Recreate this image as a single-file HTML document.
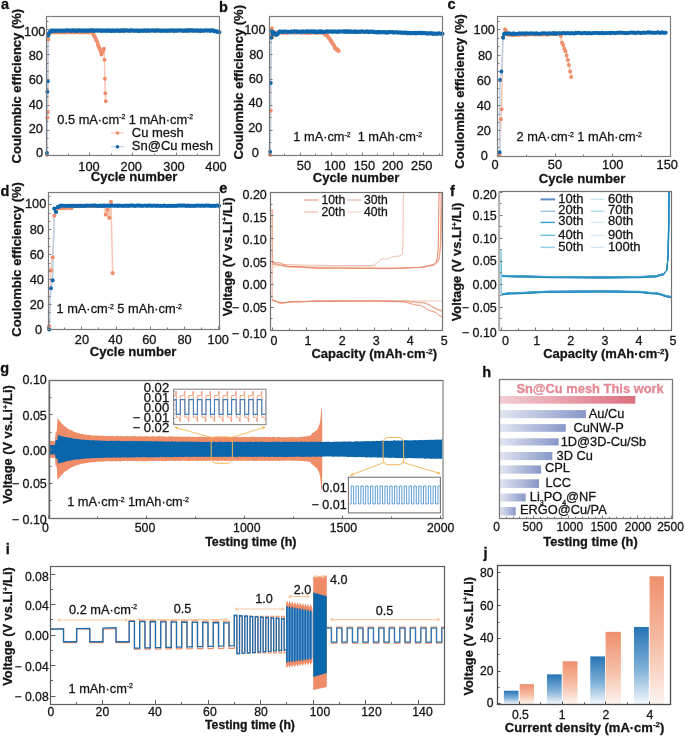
<!DOCTYPE html>
<html><head><meta charset="utf-8"><style>
html,body{margin:0;padding:0;background:#fff;}
svg{display:block;font-family:"Liberation Sans", sans-serif;will-change:transform;}
text{stroke:currentColor;stroke-width:0.28px;}
</style></head><body>
<svg width="685" height="736" viewBox="0 0 685 736">
<rect width="685" height="736" fill="#fff"/>
<polyline points="46.93,154.87 47.37,117.7 47.8,112.03 48.23,39.58 48.66,35.17 49.09,33.53 49.53,32.33 49.96,31.97 50.39,32.01 50.83,32.27 51.26,32.15 51.69,32.17 52.12,32.07 52.55,32 52.99,32.35 53.42,32.38 53.85,31.98 54.28,32.18 54.72,32.01 55.15,32.4 55.58,32.17 56.02,32.03 56.45,32.28 56.88,31.92 57.31,31.94 57.75,32.38 58.18,32.39 58.61,32.13 59.04,31.92 59.48,32.21 59.91,32.29 60.34,32.19 60.77,32.38 61.2,32.29 61.64,32.18 62.07,32.15 62.5,32.28 62.94,32.28 63.37,32.29 63.8,32.17 64.23,32.25 64.66,32.39 65.1,31.98 65.53,32.12 65.96,32.07 66.39,32.3 66.83,31.9 67.26,31.96 67.69,32.34 68.12,32.23 68.56,32.03 68.99,32.04 69.42,31.93 69.86,32.19 70.29,31.98 70.72,32.06 71.15,32.25 71.58,32.1 72.02,31.95 72.45,31.97 72.88,32.14 73.31,32.1 73.75,32.38 74.18,32.28 74.61,32 75.05,32.19 75.48,32.31 75.91,32.12 76.34,32.04 76.78,32.06 77.21,32.21 77.64,32.18 78.07,32.14 78.5,32.01 78.94,32.14 79.37,32.2 79.8,32.15 80.23,32.38 80.67,32.38 81.1,32.04 81.53,31.9 81.97,32.1 82.4,32.2 82.83,32.31 83.26,32.14 83.69,31.9 84.13,32.01 84.56,32.13 84.99,31.96 85.43,32.28 85.86,32.14 86.29,31.92 86.72,32.11 87.16,32.17 87.59,32.26 88.02,32.12 88.45,31.92 88.88,32.4 89.32,32 89.75,31.98 90.18,31.95 90.62,32.02 91.05,31.99 91.48,32.14 91.91,32.18 92.34,32.78 92.78,33.91 93.21,33.35 93.64,34.54 94.08,35.9 94.51,36.29 94.94,37.21 95.37,38.34 95.8,39.32 96.24,40.03 96.67,40.94 97.1,42.01 97.53,43.34 97.97,45.1 98.4,45.93 98.83,47.17 99.27,47.73 99.7,48.52 100.13,49.84 100.56,51.08 101,52.31 101.43,54.44 101.86,53.19 102.29,52.31 102.72,51.42 103.16,50.54 103.59,49.66 104.02,48.78 104.46,59.74 104.89,78.64 105.32,93.13 105.75,101.32" fill="none" stroke="#f7c6b2" stroke-width="1.5" stroke-linejoin="round"/>
<polyline points="46.93,152.98 47.37,91.87 47.8,81.16 48.23,35.8 48.66,33.91 49.09,33.28 49.53,32.65 49.96,32.02 50.39,31.64 50.83,31.26 51.26,30.42 51.69,30.52 52.12,30.9 52.55,30.94 52.99,30.94 53.42,30.47 53.85,30.79 54.28,30.88 54.72,30.56 55.15,30.73 55.58,30.91 56.02,30.85 56.45,30.62 56.88,30.84 57.31,30.78 57.75,30.5 58.18,30.66 58.61,30.75 59.04,30.65 59.48,30.93 59.91,30.71 60.34,30.68 60.77,30.83 61.2,30.88 61.64,30.38 62.07,30.63 62.5,30.82 62.94,30.57 63.37,30.43 63.8,30.94 64.23,30.94 64.66,30.86 65.1,30.5 65.53,30.85 65.96,30.51 66.39,30.52 66.83,30.61 67.26,30.81 67.69,30.33 68.12,30.45 68.56,30.62 68.99,30.81 69.42,30.54 69.86,30.7 70.29,30.59 70.72,30.75 71.15,30.55 71.58,30.91 72.02,30.76 72.45,30.34 72.88,30.4 73.31,30.76 73.75,30.41 74.18,30.75 74.61,30.36 75.05,30.48 75.48,30.69 75.91,30.79 76.34,30.94 76.78,30.4 77.21,30.93 77.64,30.43 78.07,30.34 78.5,30.59 78.94,30.84 79.37,30.4 79.8,30.34 80.23,30.51 80.67,30.63 81.1,30.71 81.53,30.73 81.97,30.82 82.4,30.52 82.83,30.68 83.26,30.83 83.69,30.88 84.13,30.53 84.56,30.76 84.99,30.63 85.43,30.74 85.86,30.4 86.29,30.38 86.72,30.94 87.16,30.82 87.59,30.74 88.02,30.33 88.45,30.46 88.88,30.74 89.32,30.81 89.75,30.52 90.18,30.42 90.62,30.36 91.05,30.73 91.48,30.39 91.91,30.52 92.34,30.64 92.78,30.33 93.21,30.8 93.64,30.49 94.08,30.9 94.51,30.84 94.94,30.38 95.37,30.81 95.8,30.47 96.24,30.57 96.67,30.42 97.1,30.72 97.53,30.73 97.97,30.77 98.4,30.4 98.83,30.57 99.27,30.35 99.7,30.39 100.13,30.86 100.56,30.6 101,30.88 101.43,30.92 101.86,30.9 102.29,30.4 102.72,30.45 103.16,30.43 103.59,30.73 104.02,30.56 104.46,30.46 104.89,30.71 105.32,30.59 105.75,30.81 106.19,30.9 106.62,30.78 107.05,30.39 107.48,30.59 107.91,30.37 108.35,30.66 108.78,30.77 109.21,30.45 109.64,30.43 110.08,30.94 110.51,30.53 110.94,30.89 111.38,30.88 111.81,30.39 112.24,30.92 112.67,30.8 113.11,30.33 113.54,30.68 113.97,30.88 114.4,30.84 114.84,30.8 115.27,30.48 115.7,30.88 116.13,30.38 116.56,30.71 117,30.34 117.43,30.38 117.86,30.76 118.3,30.79 118.73,30.65 119.16,30.89 119.59,30.54 120.02,30.92 120.46,30.94 120.89,30.33 121.32,30.76 121.75,30.57 122.19,30.67 122.62,30.75 123.05,30.91 123.48,30.37 123.92,30.34 124.35,30.34 124.78,30.88 125.22,30.81 125.65,30.56 126.08,30.33 126.51,30.61 126.95,30.52 127.38,30.53 127.81,30.79 128.24,30.61 128.68,30.76 129.11,30.79 129.54,30.9 129.97,30.77 130.41,30.33 130.84,30.67 131.27,30.54 131.7,30.54 132.13,30.36 132.57,30.7 133,30.76 133.43,30.74 133.87,30.75 134.3,30.42 134.73,30.39 135.16,30.76 135.59,30.74 136.03,30.61 136.46,30.58 136.89,30.57 137.32,30.79 137.76,30.94 138.19,30.8 138.62,30.9 139.06,30.6 139.49,30.9 139.92,30.9 140.35,30.55 140.79,30.77 141.22,30.45 141.65,30.64 142.08,30.41 142.52,30.85 142.95,30.63 143.38,30.45 143.81,30.9 144.25,30.35 144.68,30.84 145.11,30.46 145.54,30.33 145.97,30.43 146.41,30.75 146.84,30.88 147.27,30.62 147.7,30.37 148.14,30.76 148.57,30.39 149,30.86 149.44,30.38 149.87,30.93 150.3,30.75 150.73,30.38 151.16,30.44 151.6,30.38 152.03,30.42 152.46,30.48 152.89,30.51 153.33,30.84 153.76,30.68 154.19,30.85 154.62,30.5 155.06,30.53 155.49,30.79 155.92,30.91 156.36,30.34 156.79,30.44 157.22,30.6 157.65,30.61 158.09,30.41 158.52,30.66 158.95,30.7 159.38,30.74 159.81,30.79 160.25,30.93 160.68,30.54 161.11,30.69 161.55,30.59 161.98,30.91 162.41,30.73 162.84,30.86 163.28,30.87 163.71,30.79 164.14,30.43 164.57,30.7 165,30.7 165.44,30.56 165.87,30.8 166.3,30.94 166.73,30.62 167.17,30.63 167.6,30.54 168.03,30.67 168.46,30.52 168.9,30.49 169.33,30.8 169.76,30.64 170.19,30.65 170.63,30.81 171.06,30.69 171.49,30.6 171.93,30.38 172.36,30.37 172.79,30.78 173.22,30.54 173.66,30.92 174.09,30.9 174.52,30.63 174.95,30.4 175.38,30.85 175.82,30.47 176.25,30.39 176.68,30.75 177.12,30.51 177.55,30.41 177.98,30.71 178.41,30.51 178.84,30.49 179.28,30.57 179.71,30.41 180.14,30.38 180.58,30.34 181.01,30.59 181.44,30.84 181.87,30.79 182.31,30.81 182.74,30.59 183.17,30.47 183.6,30.92 184.03,30.52 184.47,30.5 184.9,30.73 185.33,30.62 185.77,30.85 186.2,30.49 186.63,30.92 187.06,30.33 187.5,30.44 187.93,30.55 188.36,30.78 188.79,30.37 189.22,30.34 189.66,30.86 190.09,30.46 190.52,30.42 190.95,30.53 191.39,30.51 191.82,30.67 192.25,30.37 192.69,30.34 193.12,30.71 193.55,30.44 193.98,30.68 194.41,30.85 194.85,30.74 195.28,30.87 195.71,30.38 196.15,30.34 196.58,30.87 197.01,30.57 197.44,30.69 197.88,30.87 198.31,30.76 198.74,30.79 199.17,30.48 199.6,30.95 200.04,30.83 200.47,30.67 200.9,30.94 201.34,30.55 201.77,30.57 202.2,30.42 202.63,30.82 203.06,30.77 203.5,30.61 203.93,30.78 204.36,30.58 204.8,30.79 205.23,30.52 205.66,30.45 206.09,30.44 206.53,30.34 206.96,30.61 207.39,30.64 207.82,30.41 208.25,30.46 208.69,30.59 209.12,30.71 209.55,30.77 209.98,30.88 210.42,30.44 210.85,30.87 211.28,30.48 211.72,30.61 212.15,30.34 212.58,30.47 213.01,30.34 213.44,30.96 213.88,30.84 214.31,30.89 214.74,31.16 215.17,31.14 215.61,31.33 216.04,31.32 216.47,31.75 216.91,31.58 217.34,31.67 217.77,31.87 218.2,31.91 218.63,31.77 219.07,31.93 219.5,32.15" fill="none" stroke="#bcd4ec" stroke-width="1.5" stroke-linejoin="round"/>
<path d="M44.93,154.87a2.0,2.0 0 1,0 4,0a2.0,2.0 0 1,0 -4,0M45.37,117.7a2.0,2.0 0 1,0 4,0a2.0,2.0 0 1,0 -4,0M45.8,112.03a2.0,2.0 0 1,0 4,0a2.0,2.0 0 1,0 -4,0M46.23,39.58a2.0,2.0 0 1,0 4,0a2.0,2.0 0 1,0 -4,0M46.66,35.17a2.0,2.0 0 1,0 4,0a2.0,2.0 0 1,0 -4,0M47.09,33.53a2.0,2.0 0 1,0 4,0a2.0,2.0 0 1,0 -4,0M47.53,32.33a2.0,2.0 0 1,0 4,0a2.0,2.0 0 1,0 -4,0M47.96,31.97a2.0,2.0 0 1,0 4,0a2.0,2.0 0 1,0 -4,0M48.39,32.01a2.0,2.0 0 1,0 4,0a2.0,2.0 0 1,0 -4,0M48.83,32.27a2.0,2.0 0 1,0 4,0a2.0,2.0 0 1,0 -4,0M49.26,32.15a2.0,2.0 0 1,0 4,0a2.0,2.0 0 1,0 -4,0M49.69,32.17a2.0,2.0 0 1,0 4,0a2.0,2.0 0 1,0 -4,0M50.12,32.07a2.0,2.0 0 1,0 4,0a2.0,2.0 0 1,0 -4,0M50.55,32a2.0,2.0 0 1,0 4,0a2.0,2.0 0 1,0 -4,0M50.99,32.35a2.0,2.0 0 1,0 4,0a2.0,2.0 0 1,0 -4,0M51.42,32.38a2.0,2.0 0 1,0 4,0a2.0,2.0 0 1,0 -4,0M51.85,31.98a2.0,2.0 0 1,0 4,0a2.0,2.0 0 1,0 -4,0M52.28,32.18a2.0,2.0 0 1,0 4,0a2.0,2.0 0 1,0 -4,0M52.72,32.01a2.0,2.0 0 1,0 4,0a2.0,2.0 0 1,0 -4,0M53.15,32.4a2.0,2.0 0 1,0 4,0a2.0,2.0 0 1,0 -4,0M53.58,32.17a2.0,2.0 0 1,0 4,0a2.0,2.0 0 1,0 -4,0M54.02,32.03a2.0,2.0 0 1,0 4,0a2.0,2.0 0 1,0 -4,0M54.45,32.28a2.0,2.0 0 1,0 4,0a2.0,2.0 0 1,0 -4,0M54.88,31.92a2.0,2.0 0 1,0 4,0a2.0,2.0 0 1,0 -4,0M55.31,31.94a2.0,2.0 0 1,0 4,0a2.0,2.0 0 1,0 -4,0M55.75,32.38a2.0,2.0 0 1,0 4,0a2.0,2.0 0 1,0 -4,0M56.18,32.39a2.0,2.0 0 1,0 4,0a2.0,2.0 0 1,0 -4,0M56.61,32.13a2.0,2.0 0 1,0 4,0a2.0,2.0 0 1,0 -4,0M57.04,31.92a2.0,2.0 0 1,0 4,0a2.0,2.0 0 1,0 -4,0M57.48,32.21a2.0,2.0 0 1,0 4,0a2.0,2.0 0 1,0 -4,0M57.91,32.29a2.0,2.0 0 1,0 4,0a2.0,2.0 0 1,0 -4,0M58.34,32.19a2.0,2.0 0 1,0 4,0a2.0,2.0 0 1,0 -4,0M58.77,32.38a2.0,2.0 0 1,0 4,0a2.0,2.0 0 1,0 -4,0M59.2,32.29a2.0,2.0 0 1,0 4,0a2.0,2.0 0 1,0 -4,0M59.64,32.18a2.0,2.0 0 1,0 4,0a2.0,2.0 0 1,0 -4,0M60.07,32.15a2.0,2.0 0 1,0 4,0a2.0,2.0 0 1,0 -4,0M60.5,32.28a2.0,2.0 0 1,0 4,0a2.0,2.0 0 1,0 -4,0M60.94,32.28a2.0,2.0 0 1,0 4,0a2.0,2.0 0 1,0 -4,0M61.37,32.29a2.0,2.0 0 1,0 4,0a2.0,2.0 0 1,0 -4,0M61.8,32.17a2.0,2.0 0 1,0 4,0a2.0,2.0 0 1,0 -4,0M62.23,32.25a2.0,2.0 0 1,0 4,0a2.0,2.0 0 1,0 -4,0M62.66,32.39a2.0,2.0 0 1,0 4,0a2.0,2.0 0 1,0 -4,0M63.1,31.98a2.0,2.0 0 1,0 4,0a2.0,2.0 0 1,0 -4,0M63.53,32.12a2.0,2.0 0 1,0 4,0a2.0,2.0 0 1,0 -4,0M63.96,32.07a2.0,2.0 0 1,0 4,0a2.0,2.0 0 1,0 -4,0M64.39,32.3a2.0,2.0 0 1,0 4,0a2.0,2.0 0 1,0 -4,0M64.83,31.9a2.0,2.0 0 1,0 4,0a2.0,2.0 0 1,0 -4,0M65.26,31.96a2.0,2.0 0 1,0 4,0a2.0,2.0 0 1,0 -4,0M65.69,32.34a2.0,2.0 0 1,0 4,0a2.0,2.0 0 1,0 -4,0M66.12,32.23a2.0,2.0 0 1,0 4,0a2.0,2.0 0 1,0 -4,0M66.56,32.03a2.0,2.0 0 1,0 4,0a2.0,2.0 0 1,0 -4,0M66.99,32.04a2.0,2.0 0 1,0 4,0a2.0,2.0 0 1,0 -4,0M67.42,31.93a2.0,2.0 0 1,0 4,0a2.0,2.0 0 1,0 -4,0M67.86,32.19a2.0,2.0 0 1,0 4,0a2.0,2.0 0 1,0 -4,0M68.29,31.98a2.0,2.0 0 1,0 4,0a2.0,2.0 0 1,0 -4,0M68.72,32.06a2.0,2.0 0 1,0 4,0a2.0,2.0 0 1,0 -4,0M69.15,32.25a2.0,2.0 0 1,0 4,0a2.0,2.0 0 1,0 -4,0M69.58,32.1a2.0,2.0 0 1,0 4,0a2.0,2.0 0 1,0 -4,0M70.02,31.95a2.0,2.0 0 1,0 4,0a2.0,2.0 0 1,0 -4,0M70.45,31.97a2.0,2.0 0 1,0 4,0a2.0,2.0 0 1,0 -4,0M70.88,32.14a2.0,2.0 0 1,0 4,0a2.0,2.0 0 1,0 -4,0M71.31,32.1a2.0,2.0 0 1,0 4,0a2.0,2.0 0 1,0 -4,0M71.75,32.38a2.0,2.0 0 1,0 4,0a2.0,2.0 0 1,0 -4,0M72.18,32.28a2.0,2.0 0 1,0 4,0a2.0,2.0 0 1,0 -4,0M72.61,32a2.0,2.0 0 1,0 4,0a2.0,2.0 0 1,0 -4,0M73.05,32.19a2.0,2.0 0 1,0 4,0a2.0,2.0 0 1,0 -4,0M73.48,32.31a2.0,2.0 0 1,0 4,0a2.0,2.0 0 1,0 -4,0M73.91,32.12a2.0,2.0 0 1,0 4,0a2.0,2.0 0 1,0 -4,0M74.34,32.04a2.0,2.0 0 1,0 4,0a2.0,2.0 0 1,0 -4,0M74.78,32.06a2.0,2.0 0 1,0 4,0a2.0,2.0 0 1,0 -4,0M75.21,32.21a2.0,2.0 0 1,0 4,0a2.0,2.0 0 1,0 -4,0M75.64,32.18a2.0,2.0 0 1,0 4,0a2.0,2.0 0 1,0 -4,0M76.07,32.14a2.0,2.0 0 1,0 4,0a2.0,2.0 0 1,0 -4,0M76.5,32.01a2.0,2.0 0 1,0 4,0a2.0,2.0 0 1,0 -4,0M76.94,32.14a2.0,2.0 0 1,0 4,0a2.0,2.0 0 1,0 -4,0M77.37,32.2a2.0,2.0 0 1,0 4,0a2.0,2.0 0 1,0 -4,0M77.8,32.15a2.0,2.0 0 1,0 4,0a2.0,2.0 0 1,0 -4,0M78.23,32.38a2.0,2.0 0 1,0 4,0a2.0,2.0 0 1,0 -4,0M78.67,32.38a2.0,2.0 0 1,0 4,0a2.0,2.0 0 1,0 -4,0M79.1,32.04a2.0,2.0 0 1,0 4,0a2.0,2.0 0 1,0 -4,0M79.53,31.9a2.0,2.0 0 1,0 4,0a2.0,2.0 0 1,0 -4,0M79.97,32.1a2.0,2.0 0 1,0 4,0a2.0,2.0 0 1,0 -4,0M80.4,32.2a2.0,2.0 0 1,0 4,0a2.0,2.0 0 1,0 -4,0M80.83,32.31a2.0,2.0 0 1,0 4,0a2.0,2.0 0 1,0 -4,0M81.26,32.14a2.0,2.0 0 1,0 4,0a2.0,2.0 0 1,0 -4,0M81.69,31.9a2.0,2.0 0 1,0 4,0a2.0,2.0 0 1,0 -4,0M82.13,32.01a2.0,2.0 0 1,0 4,0a2.0,2.0 0 1,0 -4,0M82.56,32.13a2.0,2.0 0 1,0 4,0a2.0,2.0 0 1,0 -4,0M82.99,31.96a2.0,2.0 0 1,0 4,0a2.0,2.0 0 1,0 -4,0M83.43,32.28a2.0,2.0 0 1,0 4,0a2.0,2.0 0 1,0 -4,0M83.86,32.14a2.0,2.0 0 1,0 4,0a2.0,2.0 0 1,0 -4,0M84.29,31.92a2.0,2.0 0 1,0 4,0a2.0,2.0 0 1,0 -4,0M84.72,32.11a2.0,2.0 0 1,0 4,0a2.0,2.0 0 1,0 -4,0M85.16,32.17a2.0,2.0 0 1,0 4,0a2.0,2.0 0 1,0 -4,0M85.59,32.26a2.0,2.0 0 1,0 4,0a2.0,2.0 0 1,0 -4,0M86.02,32.12a2.0,2.0 0 1,0 4,0a2.0,2.0 0 1,0 -4,0M86.45,31.92a2.0,2.0 0 1,0 4,0a2.0,2.0 0 1,0 -4,0M86.88,32.4a2.0,2.0 0 1,0 4,0a2.0,2.0 0 1,0 -4,0M87.32,32a2.0,2.0 0 1,0 4,0a2.0,2.0 0 1,0 -4,0M87.75,31.98a2.0,2.0 0 1,0 4,0a2.0,2.0 0 1,0 -4,0M88.18,31.95a2.0,2.0 0 1,0 4,0a2.0,2.0 0 1,0 -4,0M88.62,32.02a2.0,2.0 0 1,0 4,0a2.0,2.0 0 1,0 -4,0M89.05,31.99a2.0,2.0 0 1,0 4,0a2.0,2.0 0 1,0 -4,0M89.48,32.14a2.0,2.0 0 1,0 4,0a2.0,2.0 0 1,0 -4,0M89.91,32.18a2.0,2.0 0 1,0 4,0a2.0,2.0 0 1,0 -4,0M90.34,32.78a2.0,2.0 0 1,0 4,0a2.0,2.0 0 1,0 -4,0M90.78,33.91a2.0,2.0 0 1,0 4,0a2.0,2.0 0 1,0 -4,0M91.21,33.35a2.0,2.0 0 1,0 4,0a2.0,2.0 0 1,0 -4,0M91.64,34.54a2.0,2.0 0 1,0 4,0a2.0,2.0 0 1,0 -4,0M92.08,35.9a2.0,2.0 0 1,0 4,0a2.0,2.0 0 1,0 -4,0M92.51,36.29a2.0,2.0 0 1,0 4,0a2.0,2.0 0 1,0 -4,0M92.94,37.21a2.0,2.0 0 1,0 4,0a2.0,2.0 0 1,0 -4,0M93.37,38.34a2.0,2.0 0 1,0 4,0a2.0,2.0 0 1,0 -4,0M93.8,39.32a2.0,2.0 0 1,0 4,0a2.0,2.0 0 1,0 -4,0M94.24,40.03a2.0,2.0 0 1,0 4,0a2.0,2.0 0 1,0 -4,0M94.67,40.94a2.0,2.0 0 1,0 4,0a2.0,2.0 0 1,0 -4,0M95.1,42.01a2.0,2.0 0 1,0 4,0a2.0,2.0 0 1,0 -4,0M95.53,43.34a2.0,2.0 0 1,0 4,0a2.0,2.0 0 1,0 -4,0M95.97,45.1a2.0,2.0 0 1,0 4,0a2.0,2.0 0 1,0 -4,0M96.4,45.93a2.0,2.0 0 1,0 4,0a2.0,2.0 0 1,0 -4,0M96.83,47.17a2.0,2.0 0 1,0 4,0a2.0,2.0 0 1,0 -4,0M97.27,47.73a2.0,2.0 0 1,0 4,0a2.0,2.0 0 1,0 -4,0M97.7,48.52a2.0,2.0 0 1,0 4,0a2.0,2.0 0 1,0 -4,0M98.13,49.84a2.0,2.0 0 1,0 4,0a2.0,2.0 0 1,0 -4,0M98.56,51.08a2.0,2.0 0 1,0 4,0a2.0,2.0 0 1,0 -4,0M99,52.31a2.0,2.0 0 1,0 4,0a2.0,2.0 0 1,0 -4,0M99.43,54.44a2.0,2.0 0 1,0 4,0a2.0,2.0 0 1,0 -4,0M99.86,53.19a2.0,2.0 0 1,0 4,0a2.0,2.0 0 1,0 -4,0M100.29,52.31a2.0,2.0 0 1,0 4,0a2.0,2.0 0 1,0 -4,0M100.72,51.42a2.0,2.0 0 1,0 4,0a2.0,2.0 0 1,0 -4,0M101.16,50.54a2.0,2.0 0 1,0 4,0a2.0,2.0 0 1,0 -4,0M101.59,49.66a2.0,2.0 0 1,0 4,0a2.0,2.0 0 1,0 -4,0M102.02,48.78a2.0,2.0 0 1,0 4,0a2.0,2.0 0 1,0 -4,0M102.46,59.74a2.0,2.0 0 1,0 4,0a2.0,2.0 0 1,0 -4,0M102.89,78.64a2.0,2.0 0 1,0 4,0a2.0,2.0 0 1,0 -4,0M103.32,93.13a2.0,2.0 0 1,0 4,0a2.0,2.0 0 1,0 -4,0M103.75,101.32a2.0,2.0 0 1,0 4,0a2.0,2.0 0 1,0 -4,0" fill="#ef8e6a" stroke="none" stroke-width="1"/>
<path d="M44.93,152.98a2.0,2.0 0 1,0 4,0a2.0,2.0 0 1,0 -4,0M45.37,91.87a2.0,2.0 0 1,0 4,0a2.0,2.0 0 1,0 -4,0M45.8,81.16a2.0,2.0 0 1,0 4,0a2.0,2.0 0 1,0 -4,0M46.23,35.8a2.0,2.0 0 1,0 4,0a2.0,2.0 0 1,0 -4,0M46.66,33.91a2.0,2.0 0 1,0 4,0a2.0,2.0 0 1,0 -4,0M47.09,33.28a2.0,2.0 0 1,0 4,0a2.0,2.0 0 1,0 -4,0M47.53,32.65a2.0,2.0 0 1,0 4,0a2.0,2.0 0 1,0 -4,0M47.96,32.02a2.0,2.0 0 1,0 4,0a2.0,2.0 0 1,0 -4,0M48.39,31.64a2.0,2.0 0 1,0 4,0a2.0,2.0 0 1,0 -4,0M48.83,31.26a2.0,2.0 0 1,0 4,0a2.0,2.0 0 1,0 -4,0M49.26,30.42a2.0,2.0 0 1,0 4,0a2.0,2.0 0 1,0 -4,0M49.69,30.52a2.0,2.0 0 1,0 4,0a2.0,2.0 0 1,0 -4,0M50.12,30.9a2.0,2.0 0 1,0 4,0a2.0,2.0 0 1,0 -4,0M50.55,30.94a2.0,2.0 0 1,0 4,0a2.0,2.0 0 1,0 -4,0M50.99,30.94a2.0,2.0 0 1,0 4,0a2.0,2.0 0 1,0 -4,0M51.42,30.47a2.0,2.0 0 1,0 4,0a2.0,2.0 0 1,0 -4,0M51.85,30.79a2.0,2.0 0 1,0 4,0a2.0,2.0 0 1,0 -4,0M52.28,30.88a2.0,2.0 0 1,0 4,0a2.0,2.0 0 1,0 -4,0M52.72,30.56a2.0,2.0 0 1,0 4,0a2.0,2.0 0 1,0 -4,0M53.15,30.73a2.0,2.0 0 1,0 4,0a2.0,2.0 0 1,0 -4,0M53.58,30.91a2.0,2.0 0 1,0 4,0a2.0,2.0 0 1,0 -4,0M54.02,30.85a2.0,2.0 0 1,0 4,0a2.0,2.0 0 1,0 -4,0M54.45,30.62a2.0,2.0 0 1,0 4,0a2.0,2.0 0 1,0 -4,0M54.88,30.84a2.0,2.0 0 1,0 4,0a2.0,2.0 0 1,0 -4,0M55.31,30.78a2.0,2.0 0 1,0 4,0a2.0,2.0 0 1,0 -4,0M55.75,30.5a2.0,2.0 0 1,0 4,0a2.0,2.0 0 1,0 -4,0M56.18,30.66a2.0,2.0 0 1,0 4,0a2.0,2.0 0 1,0 -4,0M56.61,30.75a2.0,2.0 0 1,0 4,0a2.0,2.0 0 1,0 -4,0M57.04,30.65a2.0,2.0 0 1,0 4,0a2.0,2.0 0 1,0 -4,0M57.48,30.93a2.0,2.0 0 1,0 4,0a2.0,2.0 0 1,0 -4,0M57.91,30.71a2.0,2.0 0 1,0 4,0a2.0,2.0 0 1,0 -4,0M58.34,30.68a2.0,2.0 0 1,0 4,0a2.0,2.0 0 1,0 -4,0M58.77,30.83a2.0,2.0 0 1,0 4,0a2.0,2.0 0 1,0 -4,0M59.2,30.88a2.0,2.0 0 1,0 4,0a2.0,2.0 0 1,0 -4,0M59.64,30.38a2.0,2.0 0 1,0 4,0a2.0,2.0 0 1,0 -4,0M60.07,30.63a2.0,2.0 0 1,0 4,0a2.0,2.0 0 1,0 -4,0M60.5,30.82a2.0,2.0 0 1,0 4,0a2.0,2.0 0 1,0 -4,0M60.94,30.57a2.0,2.0 0 1,0 4,0a2.0,2.0 0 1,0 -4,0M61.37,30.43a2.0,2.0 0 1,0 4,0a2.0,2.0 0 1,0 -4,0M61.8,30.94a2.0,2.0 0 1,0 4,0a2.0,2.0 0 1,0 -4,0M62.23,30.94a2.0,2.0 0 1,0 4,0a2.0,2.0 0 1,0 -4,0M62.66,30.86a2.0,2.0 0 1,0 4,0a2.0,2.0 0 1,0 -4,0M63.1,30.5a2.0,2.0 0 1,0 4,0a2.0,2.0 0 1,0 -4,0M63.53,30.85a2.0,2.0 0 1,0 4,0a2.0,2.0 0 1,0 -4,0M63.96,30.51a2.0,2.0 0 1,0 4,0a2.0,2.0 0 1,0 -4,0M64.39,30.52a2.0,2.0 0 1,0 4,0a2.0,2.0 0 1,0 -4,0M64.83,30.61a2.0,2.0 0 1,0 4,0a2.0,2.0 0 1,0 -4,0M65.26,30.81a2.0,2.0 0 1,0 4,0a2.0,2.0 0 1,0 -4,0M65.69,30.33a2.0,2.0 0 1,0 4,0a2.0,2.0 0 1,0 -4,0M66.12,30.45a2.0,2.0 0 1,0 4,0a2.0,2.0 0 1,0 -4,0M66.56,30.62a2.0,2.0 0 1,0 4,0a2.0,2.0 0 1,0 -4,0M66.99,30.81a2.0,2.0 0 1,0 4,0a2.0,2.0 0 1,0 -4,0M67.42,30.54a2.0,2.0 0 1,0 4,0a2.0,2.0 0 1,0 -4,0M67.86,30.7a2.0,2.0 0 1,0 4,0a2.0,2.0 0 1,0 -4,0M68.29,30.59a2.0,2.0 0 1,0 4,0a2.0,2.0 0 1,0 -4,0M68.72,30.75a2.0,2.0 0 1,0 4,0a2.0,2.0 0 1,0 -4,0M69.15,30.55a2.0,2.0 0 1,0 4,0a2.0,2.0 0 1,0 -4,0M69.58,30.91a2.0,2.0 0 1,0 4,0a2.0,2.0 0 1,0 -4,0M70.02,30.76a2.0,2.0 0 1,0 4,0a2.0,2.0 0 1,0 -4,0M70.45,30.34a2.0,2.0 0 1,0 4,0a2.0,2.0 0 1,0 -4,0M70.88,30.4a2.0,2.0 0 1,0 4,0a2.0,2.0 0 1,0 -4,0M71.31,30.76a2.0,2.0 0 1,0 4,0a2.0,2.0 0 1,0 -4,0M71.75,30.41a2.0,2.0 0 1,0 4,0a2.0,2.0 0 1,0 -4,0M72.18,30.75a2.0,2.0 0 1,0 4,0a2.0,2.0 0 1,0 -4,0M72.61,30.36a2.0,2.0 0 1,0 4,0a2.0,2.0 0 1,0 -4,0M73.05,30.48a2.0,2.0 0 1,0 4,0a2.0,2.0 0 1,0 -4,0M73.48,30.69a2.0,2.0 0 1,0 4,0a2.0,2.0 0 1,0 -4,0M73.91,30.79a2.0,2.0 0 1,0 4,0a2.0,2.0 0 1,0 -4,0M74.34,30.94a2.0,2.0 0 1,0 4,0a2.0,2.0 0 1,0 -4,0M74.78,30.4a2.0,2.0 0 1,0 4,0a2.0,2.0 0 1,0 -4,0M75.21,30.93a2.0,2.0 0 1,0 4,0a2.0,2.0 0 1,0 -4,0M75.64,30.43a2.0,2.0 0 1,0 4,0a2.0,2.0 0 1,0 -4,0M76.07,30.34a2.0,2.0 0 1,0 4,0a2.0,2.0 0 1,0 -4,0M76.5,30.59a2.0,2.0 0 1,0 4,0a2.0,2.0 0 1,0 -4,0M76.94,30.84a2.0,2.0 0 1,0 4,0a2.0,2.0 0 1,0 -4,0M77.37,30.4a2.0,2.0 0 1,0 4,0a2.0,2.0 0 1,0 -4,0M77.8,30.34a2.0,2.0 0 1,0 4,0a2.0,2.0 0 1,0 -4,0M78.23,30.51a2.0,2.0 0 1,0 4,0a2.0,2.0 0 1,0 -4,0M78.67,30.63a2.0,2.0 0 1,0 4,0a2.0,2.0 0 1,0 -4,0M79.1,30.71a2.0,2.0 0 1,0 4,0a2.0,2.0 0 1,0 -4,0M79.53,30.73a2.0,2.0 0 1,0 4,0a2.0,2.0 0 1,0 -4,0M79.97,30.82a2.0,2.0 0 1,0 4,0a2.0,2.0 0 1,0 -4,0M80.4,30.52a2.0,2.0 0 1,0 4,0a2.0,2.0 0 1,0 -4,0M80.83,30.68a2.0,2.0 0 1,0 4,0a2.0,2.0 0 1,0 -4,0M81.26,30.83a2.0,2.0 0 1,0 4,0a2.0,2.0 0 1,0 -4,0M81.69,30.88a2.0,2.0 0 1,0 4,0a2.0,2.0 0 1,0 -4,0M82.13,30.53a2.0,2.0 0 1,0 4,0a2.0,2.0 0 1,0 -4,0M82.56,30.76a2.0,2.0 0 1,0 4,0a2.0,2.0 0 1,0 -4,0M82.99,30.63a2.0,2.0 0 1,0 4,0a2.0,2.0 0 1,0 -4,0M83.43,30.74a2.0,2.0 0 1,0 4,0a2.0,2.0 0 1,0 -4,0M83.86,30.4a2.0,2.0 0 1,0 4,0a2.0,2.0 0 1,0 -4,0M84.29,30.38a2.0,2.0 0 1,0 4,0a2.0,2.0 0 1,0 -4,0M84.72,30.94a2.0,2.0 0 1,0 4,0a2.0,2.0 0 1,0 -4,0M85.16,30.82a2.0,2.0 0 1,0 4,0a2.0,2.0 0 1,0 -4,0M85.59,30.74a2.0,2.0 0 1,0 4,0a2.0,2.0 0 1,0 -4,0M86.02,30.33a2.0,2.0 0 1,0 4,0a2.0,2.0 0 1,0 -4,0M86.45,30.46a2.0,2.0 0 1,0 4,0a2.0,2.0 0 1,0 -4,0M86.88,30.74a2.0,2.0 0 1,0 4,0a2.0,2.0 0 1,0 -4,0M87.32,30.81a2.0,2.0 0 1,0 4,0a2.0,2.0 0 1,0 -4,0M87.75,30.52a2.0,2.0 0 1,0 4,0a2.0,2.0 0 1,0 -4,0M88.18,30.42a2.0,2.0 0 1,0 4,0a2.0,2.0 0 1,0 -4,0M88.62,30.36a2.0,2.0 0 1,0 4,0a2.0,2.0 0 1,0 -4,0M89.05,30.73a2.0,2.0 0 1,0 4,0a2.0,2.0 0 1,0 -4,0M89.48,30.39a2.0,2.0 0 1,0 4,0a2.0,2.0 0 1,0 -4,0M89.91,30.52a2.0,2.0 0 1,0 4,0a2.0,2.0 0 1,0 -4,0M90.34,30.64a2.0,2.0 0 1,0 4,0a2.0,2.0 0 1,0 -4,0M90.78,30.33a2.0,2.0 0 1,0 4,0a2.0,2.0 0 1,0 -4,0M91.21,30.8a2.0,2.0 0 1,0 4,0a2.0,2.0 0 1,0 -4,0M91.64,30.49a2.0,2.0 0 1,0 4,0a2.0,2.0 0 1,0 -4,0M92.08,30.9a2.0,2.0 0 1,0 4,0a2.0,2.0 0 1,0 -4,0M92.51,30.84a2.0,2.0 0 1,0 4,0a2.0,2.0 0 1,0 -4,0M92.94,30.38a2.0,2.0 0 1,0 4,0a2.0,2.0 0 1,0 -4,0M93.37,30.81a2.0,2.0 0 1,0 4,0a2.0,2.0 0 1,0 -4,0M93.8,30.47a2.0,2.0 0 1,0 4,0a2.0,2.0 0 1,0 -4,0M94.24,30.57a2.0,2.0 0 1,0 4,0a2.0,2.0 0 1,0 -4,0M94.67,30.42a2.0,2.0 0 1,0 4,0a2.0,2.0 0 1,0 -4,0M95.1,30.72a2.0,2.0 0 1,0 4,0a2.0,2.0 0 1,0 -4,0M95.53,30.73a2.0,2.0 0 1,0 4,0a2.0,2.0 0 1,0 -4,0M95.97,30.77a2.0,2.0 0 1,0 4,0a2.0,2.0 0 1,0 -4,0M96.4,30.4a2.0,2.0 0 1,0 4,0a2.0,2.0 0 1,0 -4,0M96.83,30.57a2.0,2.0 0 1,0 4,0a2.0,2.0 0 1,0 -4,0M97.27,30.35a2.0,2.0 0 1,0 4,0a2.0,2.0 0 1,0 -4,0M97.7,30.39a2.0,2.0 0 1,0 4,0a2.0,2.0 0 1,0 -4,0M98.13,30.86a2.0,2.0 0 1,0 4,0a2.0,2.0 0 1,0 -4,0M98.56,30.6a2.0,2.0 0 1,0 4,0a2.0,2.0 0 1,0 -4,0M99,30.88a2.0,2.0 0 1,0 4,0a2.0,2.0 0 1,0 -4,0M99.43,30.92a2.0,2.0 0 1,0 4,0a2.0,2.0 0 1,0 -4,0M99.86,30.9a2.0,2.0 0 1,0 4,0a2.0,2.0 0 1,0 -4,0M100.29,30.4a2.0,2.0 0 1,0 4,0a2.0,2.0 0 1,0 -4,0M100.72,30.45a2.0,2.0 0 1,0 4,0a2.0,2.0 0 1,0 -4,0M101.16,30.43a2.0,2.0 0 1,0 4,0a2.0,2.0 0 1,0 -4,0M101.59,30.73a2.0,2.0 0 1,0 4,0a2.0,2.0 0 1,0 -4,0M102.02,30.56a2.0,2.0 0 1,0 4,0a2.0,2.0 0 1,0 -4,0M102.46,30.46a2.0,2.0 0 1,0 4,0a2.0,2.0 0 1,0 -4,0M102.89,30.71a2.0,2.0 0 1,0 4,0a2.0,2.0 0 1,0 -4,0M103.32,30.59a2.0,2.0 0 1,0 4,0a2.0,2.0 0 1,0 -4,0M103.75,30.81a2.0,2.0 0 1,0 4,0a2.0,2.0 0 1,0 -4,0M104.19,30.9a2.0,2.0 0 1,0 4,0a2.0,2.0 0 1,0 -4,0M104.62,30.78a2.0,2.0 0 1,0 4,0a2.0,2.0 0 1,0 -4,0M105.05,30.39a2.0,2.0 0 1,0 4,0a2.0,2.0 0 1,0 -4,0M105.48,30.59a2.0,2.0 0 1,0 4,0a2.0,2.0 0 1,0 -4,0M105.91,30.37a2.0,2.0 0 1,0 4,0a2.0,2.0 0 1,0 -4,0M106.35,30.66a2.0,2.0 0 1,0 4,0a2.0,2.0 0 1,0 -4,0M106.78,30.77a2.0,2.0 0 1,0 4,0a2.0,2.0 0 1,0 -4,0M107.21,30.45a2.0,2.0 0 1,0 4,0a2.0,2.0 0 1,0 -4,0M107.64,30.43a2.0,2.0 0 1,0 4,0a2.0,2.0 0 1,0 -4,0M108.08,30.94a2.0,2.0 0 1,0 4,0a2.0,2.0 0 1,0 -4,0M108.51,30.53a2.0,2.0 0 1,0 4,0a2.0,2.0 0 1,0 -4,0M108.94,30.89a2.0,2.0 0 1,0 4,0a2.0,2.0 0 1,0 -4,0M109.38,30.88a2.0,2.0 0 1,0 4,0a2.0,2.0 0 1,0 -4,0M109.81,30.39a2.0,2.0 0 1,0 4,0a2.0,2.0 0 1,0 -4,0M110.24,30.92a2.0,2.0 0 1,0 4,0a2.0,2.0 0 1,0 -4,0M110.67,30.8a2.0,2.0 0 1,0 4,0a2.0,2.0 0 1,0 -4,0M111.11,30.33a2.0,2.0 0 1,0 4,0a2.0,2.0 0 1,0 -4,0M111.54,30.68a2.0,2.0 0 1,0 4,0a2.0,2.0 0 1,0 -4,0M111.97,30.88a2.0,2.0 0 1,0 4,0a2.0,2.0 0 1,0 -4,0M112.4,30.84a2.0,2.0 0 1,0 4,0a2.0,2.0 0 1,0 -4,0M112.84,30.8a2.0,2.0 0 1,0 4,0a2.0,2.0 0 1,0 -4,0M113.27,30.48a2.0,2.0 0 1,0 4,0a2.0,2.0 0 1,0 -4,0M113.7,30.88a2.0,2.0 0 1,0 4,0a2.0,2.0 0 1,0 -4,0M114.13,30.38a2.0,2.0 0 1,0 4,0a2.0,2.0 0 1,0 -4,0M114.56,30.71a2.0,2.0 0 1,0 4,0a2.0,2.0 0 1,0 -4,0M115,30.34a2.0,2.0 0 1,0 4,0a2.0,2.0 0 1,0 -4,0M115.43,30.38a2.0,2.0 0 1,0 4,0a2.0,2.0 0 1,0 -4,0M115.86,30.76a2.0,2.0 0 1,0 4,0a2.0,2.0 0 1,0 -4,0M116.3,30.79a2.0,2.0 0 1,0 4,0a2.0,2.0 0 1,0 -4,0M116.73,30.65a2.0,2.0 0 1,0 4,0a2.0,2.0 0 1,0 -4,0M117.16,30.89a2.0,2.0 0 1,0 4,0a2.0,2.0 0 1,0 -4,0M117.59,30.54a2.0,2.0 0 1,0 4,0a2.0,2.0 0 1,0 -4,0M118.02,30.92a2.0,2.0 0 1,0 4,0a2.0,2.0 0 1,0 -4,0M118.46,30.94a2.0,2.0 0 1,0 4,0a2.0,2.0 0 1,0 -4,0M118.89,30.33a2.0,2.0 0 1,0 4,0a2.0,2.0 0 1,0 -4,0M119.32,30.76a2.0,2.0 0 1,0 4,0a2.0,2.0 0 1,0 -4,0M119.75,30.57a2.0,2.0 0 1,0 4,0a2.0,2.0 0 1,0 -4,0M120.19,30.67a2.0,2.0 0 1,0 4,0a2.0,2.0 0 1,0 -4,0M120.62,30.75a2.0,2.0 0 1,0 4,0a2.0,2.0 0 1,0 -4,0M121.05,30.91a2.0,2.0 0 1,0 4,0a2.0,2.0 0 1,0 -4,0M121.48,30.37a2.0,2.0 0 1,0 4,0a2.0,2.0 0 1,0 -4,0M121.92,30.34a2.0,2.0 0 1,0 4,0a2.0,2.0 0 1,0 -4,0M122.35,30.34a2.0,2.0 0 1,0 4,0a2.0,2.0 0 1,0 -4,0M122.78,30.88a2.0,2.0 0 1,0 4,0a2.0,2.0 0 1,0 -4,0M123.22,30.81a2.0,2.0 0 1,0 4,0a2.0,2.0 0 1,0 -4,0M123.65,30.56a2.0,2.0 0 1,0 4,0a2.0,2.0 0 1,0 -4,0M124.08,30.33a2.0,2.0 0 1,0 4,0a2.0,2.0 0 1,0 -4,0M124.51,30.61a2.0,2.0 0 1,0 4,0a2.0,2.0 0 1,0 -4,0M124.95,30.52a2.0,2.0 0 1,0 4,0a2.0,2.0 0 1,0 -4,0M125.38,30.53a2.0,2.0 0 1,0 4,0a2.0,2.0 0 1,0 -4,0M125.81,30.79a2.0,2.0 0 1,0 4,0a2.0,2.0 0 1,0 -4,0M126.24,30.61a2.0,2.0 0 1,0 4,0a2.0,2.0 0 1,0 -4,0M126.68,30.76a2.0,2.0 0 1,0 4,0a2.0,2.0 0 1,0 -4,0M127.11,30.79a2.0,2.0 0 1,0 4,0a2.0,2.0 0 1,0 -4,0M127.54,30.9a2.0,2.0 0 1,0 4,0a2.0,2.0 0 1,0 -4,0M127.97,30.77a2.0,2.0 0 1,0 4,0a2.0,2.0 0 1,0 -4,0M128.41,30.33a2.0,2.0 0 1,0 4,0a2.0,2.0 0 1,0 -4,0M128.84,30.67a2.0,2.0 0 1,0 4,0a2.0,2.0 0 1,0 -4,0M129.27,30.54a2.0,2.0 0 1,0 4,0a2.0,2.0 0 1,0 -4,0M129.7,30.54a2.0,2.0 0 1,0 4,0a2.0,2.0 0 1,0 -4,0M130.13,30.36a2.0,2.0 0 1,0 4,0a2.0,2.0 0 1,0 -4,0M130.57,30.7a2.0,2.0 0 1,0 4,0a2.0,2.0 0 1,0 -4,0M131,30.76a2.0,2.0 0 1,0 4,0a2.0,2.0 0 1,0 -4,0M131.43,30.74a2.0,2.0 0 1,0 4,0a2.0,2.0 0 1,0 -4,0M131.87,30.75a2.0,2.0 0 1,0 4,0a2.0,2.0 0 1,0 -4,0M132.3,30.42a2.0,2.0 0 1,0 4,0a2.0,2.0 0 1,0 -4,0M132.73,30.39a2.0,2.0 0 1,0 4,0a2.0,2.0 0 1,0 -4,0M133.16,30.76a2.0,2.0 0 1,0 4,0a2.0,2.0 0 1,0 -4,0M133.59,30.74a2.0,2.0 0 1,0 4,0a2.0,2.0 0 1,0 -4,0M134.03,30.61a2.0,2.0 0 1,0 4,0a2.0,2.0 0 1,0 -4,0M134.46,30.58a2.0,2.0 0 1,0 4,0a2.0,2.0 0 1,0 -4,0M134.89,30.57a2.0,2.0 0 1,0 4,0a2.0,2.0 0 1,0 -4,0M135.32,30.79a2.0,2.0 0 1,0 4,0a2.0,2.0 0 1,0 -4,0M135.76,30.94a2.0,2.0 0 1,0 4,0a2.0,2.0 0 1,0 -4,0M136.19,30.8a2.0,2.0 0 1,0 4,0a2.0,2.0 0 1,0 -4,0M136.62,30.9a2.0,2.0 0 1,0 4,0a2.0,2.0 0 1,0 -4,0M137.06,30.6a2.0,2.0 0 1,0 4,0a2.0,2.0 0 1,0 -4,0M137.49,30.9a2.0,2.0 0 1,0 4,0a2.0,2.0 0 1,0 -4,0M137.92,30.9a2.0,2.0 0 1,0 4,0a2.0,2.0 0 1,0 -4,0M138.35,30.55a2.0,2.0 0 1,0 4,0a2.0,2.0 0 1,0 -4,0M138.79,30.77a2.0,2.0 0 1,0 4,0a2.0,2.0 0 1,0 -4,0M139.22,30.45a2.0,2.0 0 1,0 4,0a2.0,2.0 0 1,0 -4,0M139.65,30.64a2.0,2.0 0 1,0 4,0a2.0,2.0 0 1,0 -4,0M140.08,30.41a2.0,2.0 0 1,0 4,0a2.0,2.0 0 1,0 -4,0M140.52,30.85a2.0,2.0 0 1,0 4,0a2.0,2.0 0 1,0 -4,0M140.95,30.63a2.0,2.0 0 1,0 4,0a2.0,2.0 0 1,0 -4,0M141.38,30.45a2.0,2.0 0 1,0 4,0a2.0,2.0 0 1,0 -4,0M141.81,30.9a2.0,2.0 0 1,0 4,0a2.0,2.0 0 1,0 -4,0M142.25,30.35a2.0,2.0 0 1,0 4,0a2.0,2.0 0 1,0 -4,0M142.68,30.84a2.0,2.0 0 1,0 4,0a2.0,2.0 0 1,0 -4,0M143.11,30.46a2.0,2.0 0 1,0 4,0a2.0,2.0 0 1,0 -4,0M143.54,30.33a2.0,2.0 0 1,0 4,0a2.0,2.0 0 1,0 -4,0M143.97,30.43a2.0,2.0 0 1,0 4,0a2.0,2.0 0 1,0 -4,0M144.41,30.75a2.0,2.0 0 1,0 4,0a2.0,2.0 0 1,0 -4,0M144.84,30.88a2.0,2.0 0 1,0 4,0a2.0,2.0 0 1,0 -4,0M145.27,30.62a2.0,2.0 0 1,0 4,0a2.0,2.0 0 1,0 -4,0M145.7,30.37a2.0,2.0 0 1,0 4,0a2.0,2.0 0 1,0 -4,0M146.14,30.76a2.0,2.0 0 1,0 4,0a2.0,2.0 0 1,0 -4,0M146.57,30.39a2.0,2.0 0 1,0 4,0a2.0,2.0 0 1,0 -4,0M147,30.86a2.0,2.0 0 1,0 4,0a2.0,2.0 0 1,0 -4,0M147.44,30.38a2.0,2.0 0 1,0 4,0a2.0,2.0 0 1,0 -4,0M147.87,30.93a2.0,2.0 0 1,0 4,0a2.0,2.0 0 1,0 -4,0M148.3,30.75a2.0,2.0 0 1,0 4,0a2.0,2.0 0 1,0 -4,0M148.73,30.38a2.0,2.0 0 1,0 4,0a2.0,2.0 0 1,0 -4,0M149.16,30.44a2.0,2.0 0 1,0 4,0a2.0,2.0 0 1,0 -4,0M149.6,30.38a2.0,2.0 0 1,0 4,0a2.0,2.0 0 1,0 -4,0M150.03,30.42a2.0,2.0 0 1,0 4,0a2.0,2.0 0 1,0 -4,0M150.46,30.48a2.0,2.0 0 1,0 4,0a2.0,2.0 0 1,0 -4,0M150.89,30.51a2.0,2.0 0 1,0 4,0a2.0,2.0 0 1,0 -4,0M151.33,30.84a2.0,2.0 0 1,0 4,0a2.0,2.0 0 1,0 -4,0M151.76,30.68a2.0,2.0 0 1,0 4,0a2.0,2.0 0 1,0 -4,0M152.19,30.85a2.0,2.0 0 1,0 4,0a2.0,2.0 0 1,0 -4,0M152.62,30.5a2.0,2.0 0 1,0 4,0a2.0,2.0 0 1,0 -4,0M153.06,30.53a2.0,2.0 0 1,0 4,0a2.0,2.0 0 1,0 -4,0M153.49,30.79a2.0,2.0 0 1,0 4,0a2.0,2.0 0 1,0 -4,0M153.92,30.91a2.0,2.0 0 1,0 4,0a2.0,2.0 0 1,0 -4,0M154.36,30.34a2.0,2.0 0 1,0 4,0a2.0,2.0 0 1,0 -4,0M154.79,30.44a2.0,2.0 0 1,0 4,0a2.0,2.0 0 1,0 -4,0M155.22,30.6a2.0,2.0 0 1,0 4,0a2.0,2.0 0 1,0 -4,0M155.65,30.61a2.0,2.0 0 1,0 4,0a2.0,2.0 0 1,0 -4,0M156.09,30.41a2.0,2.0 0 1,0 4,0a2.0,2.0 0 1,0 -4,0M156.52,30.66a2.0,2.0 0 1,0 4,0a2.0,2.0 0 1,0 -4,0M156.95,30.7a2.0,2.0 0 1,0 4,0a2.0,2.0 0 1,0 -4,0M157.38,30.74a2.0,2.0 0 1,0 4,0a2.0,2.0 0 1,0 -4,0M157.81,30.79a2.0,2.0 0 1,0 4,0a2.0,2.0 0 1,0 -4,0M158.25,30.93a2.0,2.0 0 1,0 4,0a2.0,2.0 0 1,0 -4,0M158.68,30.54a2.0,2.0 0 1,0 4,0a2.0,2.0 0 1,0 -4,0M159.11,30.69a2.0,2.0 0 1,0 4,0a2.0,2.0 0 1,0 -4,0M159.55,30.59a2.0,2.0 0 1,0 4,0a2.0,2.0 0 1,0 -4,0M159.98,30.91a2.0,2.0 0 1,0 4,0a2.0,2.0 0 1,0 -4,0M160.41,30.73a2.0,2.0 0 1,0 4,0a2.0,2.0 0 1,0 -4,0M160.84,30.86a2.0,2.0 0 1,0 4,0a2.0,2.0 0 1,0 -4,0M161.28,30.87a2.0,2.0 0 1,0 4,0a2.0,2.0 0 1,0 -4,0M161.71,30.79a2.0,2.0 0 1,0 4,0a2.0,2.0 0 1,0 -4,0M162.14,30.43a2.0,2.0 0 1,0 4,0a2.0,2.0 0 1,0 -4,0M162.57,30.7a2.0,2.0 0 1,0 4,0a2.0,2.0 0 1,0 -4,0M163,30.7a2.0,2.0 0 1,0 4,0a2.0,2.0 0 1,0 -4,0M163.44,30.56a2.0,2.0 0 1,0 4,0a2.0,2.0 0 1,0 -4,0M163.87,30.8a2.0,2.0 0 1,0 4,0a2.0,2.0 0 1,0 -4,0M164.3,30.94a2.0,2.0 0 1,0 4,0a2.0,2.0 0 1,0 -4,0M164.73,30.62a2.0,2.0 0 1,0 4,0a2.0,2.0 0 1,0 -4,0M165.17,30.63a2.0,2.0 0 1,0 4,0a2.0,2.0 0 1,0 -4,0M165.6,30.54a2.0,2.0 0 1,0 4,0a2.0,2.0 0 1,0 -4,0M166.03,30.67a2.0,2.0 0 1,0 4,0a2.0,2.0 0 1,0 -4,0M166.46,30.52a2.0,2.0 0 1,0 4,0a2.0,2.0 0 1,0 -4,0M166.9,30.49a2.0,2.0 0 1,0 4,0a2.0,2.0 0 1,0 -4,0M167.33,30.8a2.0,2.0 0 1,0 4,0a2.0,2.0 0 1,0 -4,0M167.76,30.64a2.0,2.0 0 1,0 4,0a2.0,2.0 0 1,0 -4,0M168.19,30.65a2.0,2.0 0 1,0 4,0a2.0,2.0 0 1,0 -4,0M168.63,30.81a2.0,2.0 0 1,0 4,0a2.0,2.0 0 1,0 -4,0M169.06,30.69a2.0,2.0 0 1,0 4,0a2.0,2.0 0 1,0 -4,0M169.49,30.6a2.0,2.0 0 1,0 4,0a2.0,2.0 0 1,0 -4,0M169.93,30.38a2.0,2.0 0 1,0 4,0a2.0,2.0 0 1,0 -4,0M170.36,30.37a2.0,2.0 0 1,0 4,0a2.0,2.0 0 1,0 -4,0M170.79,30.78a2.0,2.0 0 1,0 4,0a2.0,2.0 0 1,0 -4,0M171.22,30.54a2.0,2.0 0 1,0 4,0a2.0,2.0 0 1,0 -4,0M171.66,30.92a2.0,2.0 0 1,0 4,0a2.0,2.0 0 1,0 -4,0M172.09,30.9a2.0,2.0 0 1,0 4,0a2.0,2.0 0 1,0 -4,0M172.52,30.63a2.0,2.0 0 1,0 4,0a2.0,2.0 0 1,0 -4,0M172.95,30.4a2.0,2.0 0 1,0 4,0a2.0,2.0 0 1,0 -4,0M173.38,30.85a2.0,2.0 0 1,0 4,0a2.0,2.0 0 1,0 -4,0M173.82,30.47a2.0,2.0 0 1,0 4,0a2.0,2.0 0 1,0 -4,0M174.25,30.39a2.0,2.0 0 1,0 4,0a2.0,2.0 0 1,0 -4,0M174.68,30.75a2.0,2.0 0 1,0 4,0a2.0,2.0 0 1,0 -4,0M175.12,30.51a2.0,2.0 0 1,0 4,0a2.0,2.0 0 1,0 -4,0M175.55,30.41a2.0,2.0 0 1,0 4,0a2.0,2.0 0 1,0 -4,0M175.98,30.71a2.0,2.0 0 1,0 4,0a2.0,2.0 0 1,0 -4,0M176.41,30.51a2.0,2.0 0 1,0 4,0a2.0,2.0 0 1,0 -4,0M176.84,30.49a2.0,2.0 0 1,0 4,0a2.0,2.0 0 1,0 -4,0M177.28,30.57a2.0,2.0 0 1,0 4,0a2.0,2.0 0 1,0 -4,0M177.71,30.41a2.0,2.0 0 1,0 4,0a2.0,2.0 0 1,0 -4,0M178.14,30.38a2.0,2.0 0 1,0 4,0a2.0,2.0 0 1,0 -4,0M178.58,30.34a2.0,2.0 0 1,0 4,0a2.0,2.0 0 1,0 -4,0M179.01,30.59a2.0,2.0 0 1,0 4,0a2.0,2.0 0 1,0 -4,0M179.44,30.84a2.0,2.0 0 1,0 4,0a2.0,2.0 0 1,0 -4,0M179.87,30.79a2.0,2.0 0 1,0 4,0a2.0,2.0 0 1,0 -4,0M180.31,30.81a2.0,2.0 0 1,0 4,0a2.0,2.0 0 1,0 -4,0M180.74,30.59a2.0,2.0 0 1,0 4,0a2.0,2.0 0 1,0 -4,0M181.17,30.47a2.0,2.0 0 1,0 4,0a2.0,2.0 0 1,0 -4,0M181.6,30.92a2.0,2.0 0 1,0 4,0a2.0,2.0 0 1,0 -4,0M182.03,30.52a2.0,2.0 0 1,0 4,0a2.0,2.0 0 1,0 -4,0M182.47,30.5a2.0,2.0 0 1,0 4,0a2.0,2.0 0 1,0 -4,0M182.9,30.73a2.0,2.0 0 1,0 4,0a2.0,2.0 0 1,0 -4,0M183.33,30.62a2.0,2.0 0 1,0 4,0a2.0,2.0 0 1,0 -4,0M183.77,30.85a2.0,2.0 0 1,0 4,0a2.0,2.0 0 1,0 -4,0M184.2,30.49a2.0,2.0 0 1,0 4,0a2.0,2.0 0 1,0 -4,0M184.63,30.92a2.0,2.0 0 1,0 4,0a2.0,2.0 0 1,0 -4,0M185.06,30.33a2.0,2.0 0 1,0 4,0a2.0,2.0 0 1,0 -4,0M185.5,30.44a2.0,2.0 0 1,0 4,0a2.0,2.0 0 1,0 -4,0M185.93,30.55a2.0,2.0 0 1,0 4,0a2.0,2.0 0 1,0 -4,0M186.36,30.78a2.0,2.0 0 1,0 4,0a2.0,2.0 0 1,0 -4,0M186.79,30.37a2.0,2.0 0 1,0 4,0a2.0,2.0 0 1,0 -4,0M187.22,30.34a2.0,2.0 0 1,0 4,0a2.0,2.0 0 1,0 -4,0M187.66,30.86a2.0,2.0 0 1,0 4,0a2.0,2.0 0 1,0 -4,0M188.09,30.46a2.0,2.0 0 1,0 4,0a2.0,2.0 0 1,0 -4,0M188.52,30.42a2.0,2.0 0 1,0 4,0a2.0,2.0 0 1,0 -4,0M188.95,30.53a2.0,2.0 0 1,0 4,0a2.0,2.0 0 1,0 -4,0M189.39,30.51a2.0,2.0 0 1,0 4,0a2.0,2.0 0 1,0 -4,0M189.82,30.67a2.0,2.0 0 1,0 4,0a2.0,2.0 0 1,0 -4,0M190.25,30.37a2.0,2.0 0 1,0 4,0a2.0,2.0 0 1,0 -4,0M190.69,30.34a2.0,2.0 0 1,0 4,0a2.0,2.0 0 1,0 -4,0M191.12,30.71a2.0,2.0 0 1,0 4,0a2.0,2.0 0 1,0 -4,0M191.55,30.44a2.0,2.0 0 1,0 4,0a2.0,2.0 0 1,0 -4,0M191.98,30.68a2.0,2.0 0 1,0 4,0a2.0,2.0 0 1,0 -4,0M192.41,30.85a2.0,2.0 0 1,0 4,0a2.0,2.0 0 1,0 -4,0M192.85,30.74a2.0,2.0 0 1,0 4,0a2.0,2.0 0 1,0 -4,0M193.28,30.87a2.0,2.0 0 1,0 4,0a2.0,2.0 0 1,0 -4,0M193.71,30.38a2.0,2.0 0 1,0 4,0a2.0,2.0 0 1,0 -4,0M194.15,30.34a2.0,2.0 0 1,0 4,0a2.0,2.0 0 1,0 -4,0M194.58,30.87a2.0,2.0 0 1,0 4,0a2.0,2.0 0 1,0 -4,0M195.01,30.57a2.0,2.0 0 1,0 4,0a2.0,2.0 0 1,0 -4,0M195.44,30.69a2.0,2.0 0 1,0 4,0a2.0,2.0 0 1,0 -4,0M195.88,30.87a2.0,2.0 0 1,0 4,0a2.0,2.0 0 1,0 -4,0M196.31,30.76a2.0,2.0 0 1,0 4,0a2.0,2.0 0 1,0 -4,0M196.74,30.79a2.0,2.0 0 1,0 4,0a2.0,2.0 0 1,0 -4,0M197.17,30.48a2.0,2.0 0 1,0 4,0a2.0,2.0 0 1,0 -4,0M197.6,30.95a2.0,2.0 0 1,0 4,0a2.0,2.0 0 1,0 -4,0M198.04,30.83a2.0,2.0 0 1,0 4,0a2.0,2.0 0 1,0 -4,0M198.47,30.67a2.0,2.0 0 1,0 4,0a2.0,2.0 0 1,0 -4,0M198.9,30.94a2.0,2.0 0 1,0 4,0a2.0,2.0 0 1,0 -4,0M199.34,30.55a2.0,2.0 0 1,0 4,0a2.0,2.0 0 1,0 -4,0M199.77,30.57a2.0,2.0 0 1,0 4,0a2.0,2.0 0 1,0 -4,0M200.2,30.42a2.0,2.0 0 1,0 4,0a2.0,2.0 0 1,0 -4,0M200.63,30.82a2.0,2.0 0 1,0 4,0a2.0,2.0 0 1,0 -4,0M201.06,30.77a2.0,2.0 0 1,0 4,0a2.0,2.0 0 1,0 -4,0M201.5,30.61a2.0,2.0 0 1,0 4,0a2.0,2.0 0 1,0 -4,0M201.93,30.78a2.0,2.0 0 1,0 4,0a2.0,2.0 0 1,0 -4,0M202.36,30.58a2.0,2.0 0 1,0 4,0a2.0,2.0 0 1,0 -4,0M202.8,30.79a2.0,2.0 0 1,0 4,0a2.0,2.0 0 1,0 -4,0M203.23,30.52a2.0,2.0 0 1,0 4,0a2.0,2.0 0 1,0 -4,0M203.66,30.45a2.0,2.0 0 1,0 4,0a2.0,2.0 0 1,0 -4,0M204.09,30.44a2.0,2.0 0 1,0 4,0a2.0,2.0 0 1,0 -4,0M204.53,30.34a2.0,2.0 0 1,0 4,0a2.0,2.0 0 1,0 -4,0M204.96,30.61a2.0,2.0 0 1,0 4,0a2.0,2.0 0 1,0 -4,0M205.39,30.64a2.0,2.0 0 1,0 4,0a2.0,2.0 0 1,0 -4,0M205.82,30.41a2.0,2.0 0 1,0 4,0a2.0,2.0 0 1,0 -4,0M206.25,30.46a2.0,2.0 0 1,0 4,0a2.0,2.0 0 1,0 -4,0M206.69,30.59a2.0,2.0 0 1,0 4,0a2.0,2.0 0 1,0 -4,0M207.12,30.71a2.0,2.0 0 1,0 4,0a2.0,2.0 0 1,0 -4,0M207.55,30.77a2.0,2.0 0 1,0 4,0a2.0,2.0 0 1,0 -4,0M207.98,30.88a2.0,2.0 0 1,0 4,0a2.0,2.0 0 1,0 -4,0M208.42,30.44a2.0,2.0 0 1,0 4,0a2.0,2.0 0 1,0 -4,0M208.85,30.87a2.0,2.0 0 1,0 4,0a2.0,2.0 0 1,0 -4,0M209.28,30.48a2.0,2.0 0 1,0 4,0a2.0,2.0 0 1,0 -4,0M209.72,30.61a2.0,2.0 0 1,0 4,0a2.0,2.0 0 1,0 -4,0M210.15,30.34a2.0,2.0 0 1,0 4,0a2.0,2.0 0 1,0 -4,0M210.58,30.47a2.0,2.0 0 1,0 4,0a2.0,2.0 0 1,0 -4,0M211.01,30.34a2.0,2.0 0 1,0 4,0a2.0,2.0 0 1,0 -4,0M211.44,30.96a2.0,2.0 0 1,0 4,0a2.0,2.0 0 1,0 -4,0M211.88,30.84a2.0,2.0 0 1,0 4,0a2.0,2.0 0 1,0 -4,0M212.31,30.89a2.0,2.0 0 1,0 4,0a2.0,2.0 0 1,0 -4,0M212.74,31.16a2.0,2.0 0 1,0 4,0a2.0,2.0 0 1,0 -4,0M213.17,31.14a2.0,2.0 0 1,0 4,0a2.0,2.0 0 1,0 -4,0M213.61,31.33a2.0,2.0 0 1,0 4,0a2.0,2.0 0 1,0 -4,0M214.04,31.32a2.0,2.0 0 1,0 4,0a2.0,2.0 0 1,0 -4,0M214.47,31.75a2.0,2.0 0 1,0 4,0a2.0,2.0 0 1,0 -4,0M214.91,31.58a2.0,2.0 0 1,0 4,0a2.0,2.0 0 1,0 -4,0M215.34,31.67a2.0,2.0 0 1,0 4,0a2.0,2.0 0 1,0 -4,0M215.77,31.87a2.0,2.0 0 1,0 4,0a2.0,2.0 0 1,0 -4,0M216.2,31.91a2.0,2.0 0 1,0 4,0a2.0,2.0 0 1,0 -4,0M216.63,31.77a2.0,2.0 0 1,0 4,0a2.0,2.0 0 1,0 -4,0M217.07,31.93a2.0,2.0 0 1,0 4,0a2.0,2.0 0 1,0 -4,0M217.5,32.15a2.0,2.0 0 1,0 4,0a2.0,2.0 0 1,0 -4,0" fill="#0d67ae" stroke="none" stroke-width="1"/>
<rect x="46.5" y="16.5" width="173" height="139" fill="none" stroke="#7c7c7c" stroke-width="1.2"/>
<line x1="46.5" y1="155.5" x2="49.5" y2="155.5" stroke="#7c7c7c" stroke-width="1"/>
<line x1="46.5" y1="130.5" x2="49.5" y2="130.5" stroke="#7c7c7c" stroke-width="1"/>
<line x1="46.5" y1="105.5" x2="49.5" y2="105.5" stroke="#7c7c7c" stroke-width="1"/>
<line x1="46.5" y1="79.5" x2="49.5" y2="79.5" stroke="#7c7c7c" stroke-width="1"/>
<line x1="46.5" y1="54.5" x2="49.5" y2="54.5" stroke="#7c7c7c" stroke-width="1"/>
<line x1="46.5" y1="29.5" x2="49.5" y2="29.5" stroke="#7c7c7c" stroke-width="1"/>
<line x1="46.5" y1="147.5" x2="48.5" y2="147.5" stroke="#7c7c7c" stroke-width="1"/>
<line x1="46.5" y1="138.5" x2="48.5" y2="138.5" stroke="#7c7c7c" stroke-width="1"/>
<line x1="46.5" y1="121.5" x2="48.5" y2="121.5" stroke="#7c7c7c" stroke-width="1"/>
<line x1="46.5" y1="113.5" x2="48.5" y2="113.5" stroke="#7c7c7c" stroke-width="1"/>
<line x1="46.5" y1="96.5" x2="48.5" y2="96.5" stroke="#7c7c7c" stroke-width="1"/>
<line x1="46.5" y1="88.5" x2="48.5" y2="88.5" stroke="#7c7c7c" stroke-width="1"/>
<line x1="46.5" y1="71.5" x2="48.5" y2="71.5" stroke="#7c7c7c" stroke-width="1"/>
<line x1="46.5" y1="63.5" x2="48.5" y2="63.5" stroke="#7c7c7c" stroke-width="1"/>
<line x1="46.5" y1="46.5" x2="48.5" y2="46.5" stroke="#7c7c7c" stroke-width="1"/>
<line x1="46.5" y1="37.5" x2="48.5" y2="37.5" stroke="#7c7c7c" stroke-width="1"/>
<line x1="46.5" y1="21.5" x2="48.5" y2="21.5" stroke="#7c7c7c" stroke-width="1"/>
<line x1="46.5" y1="155.5" x2="46.5" y2="152.5" stroke="#7c7c7c" stroke-width="1"/>
<line x1="89.5" y1="155.5" x2="89.5" y2="152.5" stroke="#7c7c7c" stroke-width="1"/>
<line x1="132.5" y1="155.5" x2="132.5" y2="152.5" stroke="#7c7c7c" stroke-width="1"/>
<line x1="176.5" y1="155.5" x2="176.5" y2="152.5" stroke="#7c7c7c" stroke-width="1"/>
<line x1="219.5" y1="155.5" x2="219.5" y2="152.5" stroke="#7c7c7c" stroke-width="1"/>
<line x1="68.5" y1="155.5" x2="68.5" y2="153.5" stroke="#7c7c7c" stroke-width="1"/>
<line x1="111.5" y1="155.5" x2="111.5" y2="153.5" stroke="#7c7c7c" stroke-width="1"/>
<line x1="154.5" y1="155.5" x2="154.5" y2="153.5" stroke="#7c7c7c" stroke-width="1"/>
<line x1="197.5" y1="155.5" x2="197.5" y2="153.5" stroke="#7c7c7c" stroke-width="1"/>
<text x="39.5" y="156.85" font-size="12.2" text-anchor="middle" fill="#141414" color="#141414" transform="matrix(1.05 0 0 1 -1.98 0)">0</text>
<text x="35.8" y="132.75" font-size="12.2" text-anchor="middle" fill="#141414" color="#141414" transform="matrix(1.05 0 0 1 -1.79 0)">20</text>
<text x="35.8" y="108.65" font-size="12.2" text-anchor="middle" fill="#141414" color="#141414" transform="matrix(1.05 0 0 1 -1.79 0)">40</text>
<text x="35.8" y="84.15" font-size="12.2" text-anchor="middle" fill="#141414" color="#141414" transform="matrix(1.05 0 0 1 -1.79 0)">60</text>
<text x="35.8" y="59.85" font-size="12.2" text-anchor="middle" fill="#141414" color="#141414" transform="matrix(1.05 0 0 1 -1.79 0)">80</text>
<text x="34.8" y="36.15" font-size="12.2" text-anchor="middle" fill="#141414" color="#141414" transform="matrix(1.05 0 0 1 -1.74 0)">100</text>
<text x="89" y="171.4" font-size="12.2" text-anchor="middle" fill="#141414" color="#141414" transform="matrix(1.05 0 0 1 -4.45 0)">100</text>
<text x="131.3" y="171.4" font-size="12.2" text-anchor="middle" fill="#141414" color="#141414" transform="matrix(1.05 0 0 1 -6.56 0)">200</text>
<text x="174" y="171.4" font-size="12.2" text-anchor="middle" fill="#141414" color="#141414" transform="matrix(1.05 0 0 1 -8.7 0)">300</text>
<text x="216" y="171.4" font-size="12.2" text-anchor="middle" fill="#141414" color="#141414" transform="matrix(1.05 0 0 1 -10.8 0)">400</text>
<text x="134" y="181.2" font-size="13.1" text-anchor="middle" font-weight="bold" fill="#141414" color="#141414">Cycle number</text>
<text x="21" y="86.15" font-size="13" text-anchor="middle" font-weight="bold" fill="#141414" color="#141414" transform="rotate(-90 21 86.15)">Coulombic efficiency (%)</text>
<text x="57.3" y="123.9" font-size="12.8" text-anchor="start" fill="#141414" color="#141414">0.5 mA·cm<tspan font-size="6.8" dy="-4.6">-2</tspan><tspan dy="4.6">​</tspan> 1 mAh·cm<tspan font-size="6.8" dy="-4.6">-2</tspan><tspan dy="4.6">​</tspan></text>
<line x1="111" y1="133" x2="124" y2="133" stroke="#f7c6b2" stroke-width="1.2"/>
<path d="M115.7,133a1.8,1.8 0 1,0 3.6,0a1.8,1.8 0 1,0 -3.6,0" fill="#ef8e6a" stroke="none" stroke-width="1"/>
<line x1="111" y1="146.7" x2="124" y2="146.7" stroke="#bcd4ec" stroke-width="1.2"/>
<path d="M115.7,146.7a1.8,1.8 0 1,0 3.6,0a1.8,1.8 0 1,0 -3.6,0" fill="#0d67ae" stroke="none" stroke-width="1"/>
<text x="131.8" y="136.8" font-size="13" text-anchor="start" fill="#141414" color="#141414">Cu mesh</text>
<text x="131.8" y="150.4" font-size="13" text-anchor="start" fill="#141414" color="#141414">Sn@Cu mesh</text>
<text x="0.9" y="9" font-size="14.5" text-anchor="start" font-weight="bold" fill="#111" color="#111">a</text>
<polyline points="270.12,154.87 270.74,110.77 271.35,34.54 271.97,28.24 272.59,37.06 273.21,33.28 273.82,32.65 274.44,32.38 275.06,32.65 275.68,32.82 276.3,33.02 276.91,32.75 277.53,32.43 278.15,32.14 278.77,32.19 279.39,32.51 280,32.03 280.62,32.56 281.24,32.19 281.86,32.62 282.48,32.28 283.09,32.03 283.71,32.72 284.33,32.86 284.95,32.4 285.56,32.49 286.18,32.67 286.8,33.02 287.42,32.64 288.04,32.6 288.65,32.62 289.27,32.16 289.89,32.44 290.51,32.29 291.12,32.12 291.74,32.27 292.36,32.53 292.98,32.28 293.6,32.38 294.21,32.37 294.83,32.39 295.45,32.62 296.07,32.39 296.69,32.39 297.3,32.08 297.92,32.24 298.54,32.17 299.16,32.25 299.77,32.21 300.39,32.42 301.01,32.68 301.63,32.76 302.25,32.31 302.86,32.15 303.48,32.48 304.1,32.87 304.72,32.19 305.34,32.54 305.95,32.56 306.57,32.98 307.19,32.51 307.81,32.28 308.43,32.6 309.04,32.67 309.66,32.37 310.28,33.01 310.9,32.52 311.51,32.07 312.13,32.33 312.75,32.62 313.37,32.33 313.99,32.42 314.6,32.82 315.22,32.82 315.84,32.13 316.46,32.76 317.07,32.95 317.69,32.19 318.31,32.5 318.93,32.66 319.55,32.51 320.16,32.29 320.78,32.86 321.4,32.37 322.02,32.31 322.64,32.21 323.25,32.76 323.87,33.14 324.49,34.04 325.11,34.04 325.73,34.95 326.34,34.59 326.96,34.92 327.58,36.01 328.2,37.41 328.81,37.74 329.43,38.69 330.05,39.15 330.67,41.12 331.29,40.97 331.9,42.26 332.52,43.59 333.14,44.39 333.76,44.92 334.38,46.15 334.99,48.16 335.61,48.24 336.23,49.45 336.85,49 337.46,50.24 338.08,50.02 338.7,50.92" fill="none" stroke="#f7c6b2" stroke-width="1.5" stroke-linejoin="round"/>
<polyline points="270.12,151.72 270.74,83.05 271.35,37.69 271.97,31.39 272.59,33.91 273.21,32.02 273.82,32.65 274.44,33.28 275.06,34.29 275.68,34.79 276.3,35.04 276.91,34.79 277.53,34.16 278.15,33.28 278.77,32.52 279.39,31.44 280,31.55 280.62,31.85 281.24,31.62 281.86,31.96 282.48,31.96 283.09,31.45 283.71,31.76 284.33,31.42 284.95,31.87 285.56,31.45 286.18,31.45 286.8,31.81 287.42,31.99 288.04,31.73 288.65,31.65 289.27,31.99 289.89,31.92 290.51,32.03 291.12,31.56 291.74,31.3 292.36,31.89 292.98,32.05 293.6,31.46 294.21,31.36 294.83,31.23 295.45,31.54 296.07,31.78 296.69,31.34 297.3,31.98 297.92,31.47 298.54,32 299.16,31.73 299.77,31.65 300.39,31.75 301.01,31.93 301.63,31.88 302.25,31.36 302.86,31.68 303.48,31.57 304.1,31.9 304.72,31.45 305.34,31.79 305.95,31.56 306.57,31.28 307.19,31.21 307.81,32.04 308.43,31.38 309.04,31.33 309.66,31.8 310.28,31.75 310.9,31.57 311.51,31.27 312.13,31.73 312.75,31.31 313.37,31.41 313.99,31.95 314.6,31.28 315.22,32.07 315.84,31.95 316.46,31.5 317.07,32.03 317.69,31.75 318.31,31.97 318.93,31.67 319.55,31.34 320.16,31.28 320.78,32.05 321.4,32.03 322.02,31.34 322.64,32.05 323.25,31.84 323.87,31.98 324.49,32 325.11,32.06 325.73,31.52 326.34,31.43 326.96,31.48 327.58,31.34 328.2,31.5 328.81,31.74 329.43,31.53 330.05,31.23 330.67,31.52 331.29,31.87 331.9,32.03 332.52,31.26 333.14,31.56 333.76,31.77 334.38,31.55 334.99,31.59 335.61,31.62 336.23,32.03 336.85,31.77 337.46,31.72 338.08,31.91 338.7,31.31 339.32,31.71 339.94,31.5 340.55,31.45 341.17,31.43 341.79,31.45 342.41,31.42 343.02,31.86 343.64,31.22 344.26,31.95 344.88,31.27 345.5,31.33 346.11,31.33 346.73,32.04 347.35,32 347.97,31.37 348.59,31.67 349.2,31.76 349.82,31.21 350.44,32.05 351.06,31.61 351.68,31.69 352.29,31.97 352.91,31.73 353.53,31.46 354.15,31.3 354.76,32.06 355.38,31.62 356,32 356.62,31.38 357.24,32.01 357.85,32.05 358.47,31.74 359.09,31.44 359.71,31.81 360.32,31.97 360.94,31.38 361.56,31.37 362.18,31.33 362.8,31.83 363.41,31.74 364.03,31.92 364.65,31.66 365.27,31.87 365.89,31.88 366.5,31.51 367.12,31.37 367.74,31.72 368.36,32.15 368.98,31.69 369.59,31.88 370.21,31.42 370.83,31.68 371.45,31.59 372.06,31.73 372.68,31.89 373.3,31.59 373.92,31.66 374.54,32.15 375.15,32.29 375.77,32.12 376.39,32 377.01,32.39 377.62,32.19 378.24,32 378.86,32.49 379.48,31.82 380.1,31.98 380.71,32.3 381.33,32.33 381.95,32.3 382.57,32.34 383.19,31.98 383.8,32.21 384.42,32.21 385.04,32.56 385.66,31.9 386.27,32.43 386.89,32.45 387.51,32.69 388.13,31.91 388.75,32.36 389.36,32 389.98,32 390.6,31.98 391.22,32.13 391.84,32.05 392.45,32.07 393.07,32.2 393.69,32.8 394.31,32.47 394.93,32.44 395.54,32.09 396.16,32.29 396.78,32.38 397.4,32.36 398.01,32.71 398.63,32.22 399.25,32.5 399.87,32.73 400.49,32.69 401.1,32.25 401.72,32.66 402.34,33 402.96,33.03 403.58,32.57 404.19,32.7 404.81,32.41 405.43,33.07 406.05,32.88 406.66,32.62 407.28,33.23 407.9,33.21 408.52,32.83 409.14,33.09 409.75,33.25 410.37,33.13 410.99,32.82 411.61,32.93 412.23,33.34 412.84,33.36 413.46,32.69 414.08,32.89 414.7,33.32 415.31,32.73 415.93,33.49 416.55,33.2 417.17,32.79 417.79,32.93 418.4,33.32 419.02,32.8 419.64,33.08 420.26,32.86 420.88,32.85 421.49,33.28 422.11,33.08 422.73,33.21 423.35,32.87 423.96,33.02 424.58,33.1 425.2,33.04 425.82,32.89 426.44,33.56 427.05,33.63 427.67,33.16 428.29,33.16 428.91,33.4 429.52,33.44 430.14,33.53 430.76,33.12 431.38,33.22 432,33.42 432.61,33.91 433.23,33.22 433.85,33.58 434.47,33.83 435.09,33.75 435.7,33.42 436.32,34.04 436.94,33.96 437.56,33.81 438.17,33.32 438.79,33.46 439.41,33.27 440.03,33.67 440.65,33.66 441.26,33.69 441.88,33.73 442.5,33.73" fill="none" stroke="#bcd4ec" stroke-width="1.5" stroke-linejoin="round"/>
<path d="M268.12,154.87a2.0,2.0 0 1,0 4,0a2.0,2.0 0 1,0 -4,0M268.74,110.77a2.0,2.0 0 1,0 4,0a2.0,2.0 0 1,0 -4,0M269.35,34.54a2.0,2.0 0 1,0 4,0a2.0,2.0 0 1,0 -4,0M269.97,28.24a2.0,2.0 0 1,0 4,0a2.0,2.0 0 1,0 -4,0M270.59,37.06a2.0,2.0 0 1,0 4,0a2.0,2.0 0 1,0 -4,0M271.21,33.28a2.0,2.0 0 1,0 4,0a2.0,2.0 0 1,0 -4,0M271.82,32.65a2.0,2.0 0 1,0 4,0a2.0,2.0 0 1,0 -4,0M272.44,32.38a2.0,2.0 0 1,0 4,0a2.0,2.0 0 1,0 -4,0M273.06,32.65a2.0,2.0 0 1,0 4,0a2.0,2.0 0 1,0 -4,0M273.68,32.82a2.0,2.0 0 1,0 4,0a2.0,2.0 0 1,0 -4,0M274.3,33.02a2.0,2.0 0 1,0 4,0a2.0,2.0 0 1,0 -4,0M274.91,32.75a2.0,2.0 0 1,0 4,0a2.0,2.0 0 1,0 -4,0M275.53,32.43a2.0,2.0 0 1,0 4,0a2.0,2.0 0 1,0 -4,0M276.15,32.14a2.0,2.0 0 1,0 4,0a2.0,2.0 0 1,0 -4,0M276.77,32.19a2.0,2.0 0 1,0 4,0a2.0,2.0 0 1,0 -4,0M277.39,32.51a2.0,2.0 0 1,0 4,0a2.0,2.0 0 1,0 -4,0M278,32.03a2.0,2.0 0 1,0 4,0a2.0,2.0 0 1,0 -4,0M278.62,32.56a2.0,2.0 0 1,0 4,0a2.0,2.0 0 1,0 -4,0M279.24,32.19a2.0,2.0 0 1,0 4,0a2.0,2.0 0 1,0 -4,0M279.86,32.62a2.0,2.0 0 1,0 4,0a2.0,2.0 0 1,0 -4,0M280.48,32.28a2.0,2.0 0 1,0 4,0a2.0,2.0 0 1,0 -4,0M281.09,32.03a2.0,2.0 0 1,0 4,0a2.0,2.0 0 1,0 -4,0M281.71,32.72a2.0,2.0 0 1,0 4,0a2.0,2.0 0 1,0 -4,0M282.33,32.86a2.0,2.0 0 1,0 4,0a2.0,2.0 0 1,0 -4,0M282.95,32.4a2.0,2.0 0 1,0 4,0a2.0,2.0 0 1,0 -4,0M283.56,32.49a2.0,2.0 0 1,0 4,0a2.0,2.0 0 1,0 -4,0M284.18,32.67a2.0,2.0 0 1,0 4,0a2.0,2.0 0 1,0 -4,0M284.8,33.02a2.0,2.0 0 1,0 4,0a2.0,2.0 0 1,0 -4,0M285.42,32.64a2.0,2.0 0 1,0 4,0a2.0,2.0 0 1,0 -4,0M286.04,32.6a2.0,2.0 0 1,0 4,0a2.0,2.0 0 1,0 -4,0M286.65,32.62a2.0,2.0 0 1,0 4,0a2.0,2.0 0 1,0 -4,0M287.27,32.16a2.0,2.0 0 1,0 4,0a2.0,2.0 0 1,0 -4,0M287.89,32.44a2.0,2.0 0 1,0 4,0a2.0,2.0 0 1,0 -4,0M288.51,32.29a2.0,2.0 0 1,0 4,0a2.0,2.0 0 1,0 -4,0M289.12,32.12a2.0,2.0 0 1,0 4,0a2.0,2.0 0 1,0 -4,0M289.74,32.27a2.0,2.0 0 1,0 4,0a2.0,2.0 0 1,0 -4,0M290.36,32.53a2.0,2.0 0 1,0 4,0a2.0,2.0 0 1,0 -4,0M290.98,32.28a2.0,2.0 0 1,0 4,0a2.0,2.0 0 1,0 -4,0M291.6,32.38a2.0,2.0 0 1,0 4,0a2.0,2.0 0 1,0 -4,0M292.21,32.37a2.0,2.0 0 1,0 4,0a2.0,2.0 0 1,0 -4,0M292.83,32.39a2.0,2.0 0 1,0 4,0a2.0,2.0 0 1,0 -4,0M293.45,32.62a2.0,2.0 0 1,0 4,0a2.0,2.0 0 1,0 -4,0M294.07,32.39a2.0,2.0 0 1,0 4,0a2.0,2.0 0 1,0 -4,0M294.69,32.39a2.0,2.0 0 1,0 4,0a2.0,2.0 0 1,0 -4,0M295.3,32.08a2.0,2.0 0 1,0 4,0a2.0,2.0 0 1,0 -4,0M295.92,32.24a2.0,2.0 0 1,0 4,0a2.0,2.0 0 1,0 -4,0M296.54,32.17a2.0,2.0 0 1,0 4,0a2.0,2.0 0 1,0 -4,0M297.16,32.25a2.0,2.0 0 1,0 4,0a2.0,2.0 0 1,0 -4,0M297.77,32.21a2.0,2.0 0 1,0 4,0a2.0,2.0 0 1,0 -4,0M298.39,32.42a2.0,2.0 0 1,0 4,0a2.0,2.0 0 1,0 -4,0M299.01,32.68a2.0,2.0 0 1,0 4,0a2.0,2.0 0 1,0 -4,0M299.63,32.76a2.0,2.0 0 1,0 4,0a2.0,2.0 0 1,0 -4,0M300.25,32.31a2.0,2.0 0 1,0 4,0a2.0,2.0 0 1,0 -4,0M300.86,32.15a2.0,2.0 0 1,0 4,0a2.0,2.0 0 1,0 -4,0M301.48,32.48a2.0,2.0 0 1,0 4,0a2.0,2.0 0 1,0 -4,0M302.1,32.87a2.0,2.0 0 1,0 4,0a2.0,2.0 0 1,0 -4,0M302.72,32.19a2.0,2.0 0 1,0 4,0a2.0,2.0 0 1,0 -4,0M303.34,32.54a2.0,2.0 0 1,0 4,0a2.0,2.0 0 1,0 -4,0M303.95,32.56a2.0,2.0 0 1,0 4,0a2.0,2.0 0 1,0 -4,0M304.57,32.98a2.0,2.0 0 1,0 4,0a2.0,2.0 0 1,0 -4,0M305.19,32.51a2.0,2.0 0 1,0 4,0a2.0,2.0 0 1,0 -4,0M305.81,32.28a2.0,2.0 0 1,0 4,0a2.0,2.0 0 1,0 -4,0M306.43,32.6a2.0,2.0 0 1,0 4,0a2.0,2.0 0 1,0 -4,0M307.04,32.67a2.0,2.0 0 1,0 4,0a2.0,2.0 0 1,0 -4,0M307.66,32.37a2.0,2.0 0 1,0 4,0a2.0,2.0 0 1,0 -4,0M308.28,33.01a2.0,2.0 0 1,0 4,0a2.0,2.0 0 1,0 -4,0M308.9,32.52a2.0,2.0 0 1,0 4,0a2.0,2.0 0 1,0 -4,0M309.51,32.07a2.0,2.0 0 1,0 4,0a2.0,2.0 0 1,0 -4,0M310.13,32.33a2.0,2.0 0 1,0 4,0a2.0,2.0 0 1,0 -4,0M310.75,32.62a2.0,2.0 0 1,0 4,0a2.0,2.0 0 1,0 -4,0M311.37,32.33a2.0,2.0 0 1,0 4,0a2.0,2.0 0 1,0 -4,0M311.99,32.42a2.0,2.0 0 1,0 4,0a2.0,2.0 0 1,0 -4,0M312.6,32.82a2.0,2.0 0 1,0 4,0a2.0,2.0 0 1,0 -4,0M313.22,32.82a2.0,2.0 0 1,0 4,0a2.0,2.0 0 1,0 -4,0M313.84,32.13a2.0,2.0 0 1,0 4,0a2.0,2.0 0 1,0 -4,0M314.46,32.76a2.0,2.0 0 1,0 4,0a2.0,2.0 0 1,0 -4,0M315.07,32.95a2.0,2.0 0 1,0 4,0a2.0,2.0 0 1,0 -4,0M315.69,32.19a2.0,2.0 0 1,0 4,0a2.0,2.0 0 1,0 -4,0M316.31,32.5a2.0,2.0 0 1,0 4,0a2.0,2.0 0 1,0 -4,0M316.93,32.66a2.0,2.0 0 1,0 4,0a2.0,2.0 0 1,0 -4,0M317.55,32.51a2.0,2.0 0 1,0 4,0a2.0,2.0 0 1,0 -4,0M318.16,32.29a2.0,2.0 0 1,0 4,0a2.0,2.0 0 1,0 -4,0M318.78,32.86a2.0,2.0 0 1,0 4,0a2.0,2.0 0 1,0 -4,0M319.4,32.37a2.0,2.0 0 1,0 4,0a2.0,2.0 0 1,0 -4,0M320.02,32.31a2.0,2.0 0 1,0 4,0a2.0,2.0 0 1,0 -4,0M320.64,32.21a2.0,2.0 0 1,0 4,0a2.0,2.0 0 1,0 -4,0M321.25,32.76a2.0,2.0 0 1,0 4,0a2.0,2.0 0 1,0 -4,0M321.87,33.14a2.0,2.0 0 1,0 4,0a2.0,2.0 0 1,0 -4,0M322.49,34.04a2.0,2.0 0 1,0 4,0a2.0,2.0 0 1,0 -4,0M323.11,34.04a2.0,2.0 0 1,0 4,0a2.0,2.0 0 1,0 -4,0M323.73,34.95a2.0,2.0 0 1,0 4,0a2.0,2.0 0 1,0 -4,0M324.34,34.59a2.0,2.0 0 1,0 4,0a2.0,2.0 0 1,0 -4,0M324.96,34.92a2.0,2.0 0 1,0 4,0a2.0,2.0 0 1,0 -4,0M325.58,36.01a2.0,2.0 0 1,0 4,0a2.0,2.0 0 1,0 -4,0M326.2,37.41a2.0,2.0 0 1,0 4,0a2.0,2.0 0 1,0 -4,0M326.81,37.74a2.0,2.0 0 1,0 4,0a2.0,2.0 0 1,0 -4,0M327.43,38.69a2.0,2.0 0 1,0 4,0a2.0,2.0 0 1,0 -4,0M328.05,39.15a2.0,2.0 0 1,0 4,0a2.0,2.0 0 1,0 -4,0M328.67,41.12a2.0,2.0 0 1,0 4,0a2.0,2.0 0 1,0 -4,0M329.29,40.97a2.0,2.0 0 1,0 4,0a2.0,2.0 0 1,0 -4,0M329.9,42.26a2.0,2.0 0 1,0 4,0a2.0,2.0 0 1,0 -4,0M330.52,43.59a2.0,2.0 0 1,0 4,0a2.0,2.0 0 1,0 -4,0M331.14,44.39a2.0,2.0 0 1,0 4,0a2.0,2.0 0 1,0 -4,0M331.76,44.92a2.0,2.0 0 1,0 4,0a2.0,2.0 0 1,0 -4,0M332.38,46.15a2.0,2.0 0 1,0 4,0a2.0,2.0 0 1,0 -4,0M332.99,48.16a2.0,2.0 0 1,0 4,0a2.0,2.0 0 1,0 -4,0M333.61,48.24a2.0,2.0 0 1,0 4,0a2.0,2.0 0 1,0 -4,0M334.23,49.45a2.0,2.0 0 1,0 4,0a2.0,2.0 0 1,0 -4,0M334.85,49a2.0,2.0 0 1,0 4,0a2.0,2.0 0 1,0 -4,0M335.46,50.24a2.0,2.0 0 1,0 4,0a2.0,2.0 0 1,0 -4,0M336.08,50.02a2.0,2.0 0 1,0 4,0a2.0,2.0 0 1,0 -4,0M336.7,50.92a2.0,2.0 0 1,0 4,0a2.0,2.0 0 1,0 -4,0" fill="#ef8e6a" stroke="none" stroke-width="1"/>
<path d="M268.12,151.72a2.0,2.0 0 1,0 4,0a2.0,2.0 0 1,0 -4,0M268.74,83.05a2.0,2.0 0 1,0 4,0a2.0,2.0 0 1,0 -4,0M269.35,37.69a2.0,2.0 0 1,0 4,0a2.0,2.0 0 1,0 -4,0M269.97,31.39a2.0,2.0 0 1,0 4,0a2.0,2.0 0 1,0 -4,0M270.59,33.91a2.0,2.0 0 1,0 4,0a2.0,2.0 0 1,0 -4,0M271.21,32.02a2.0,2.0 0 1,0 4,0a2.0,2.0 0 1,0 -4,0M271.82,32.65a2.0,2.0 0 1,0 4,0a2.0,2.0 0 1,0 -4,0M272.44,33.28a2.0,2.0 0 1,0 4,0a2.0,2.0 0 1,0 -4,0M273.06,34.29a2.0,2.0 0 1,0 4,0a2.0,2.0 0 1,0 -4,0M273.68,34.79a2.0,2.0 0 1,0 4,0a2.0,2.0 0 1,0 -4,0M274.3,35.04a2.0,2.0 0 1,0 4,0a2.0,2.0 0 1,0 -4,0M274.91,34.79a2.0,2.0 0 1,0 4,0a2.0,2.0 0 1,0 -4,0M275.53,34.16a2.0,2.0 0 1,0 4,0a2.0,2.0 0 1,0 -4,0M276.15,33.28a2.0,2.0 0 1,0 4,0a2.0,2.0 0 1,0 -4,0M276.77,32.52a2.0,2.0 0 1,0 4,0a2.0,2.0 0 1,0 -4,0M277.39,31.44a2.0,2.0 0 1,0 4,0a2.0,2.0 0 1,0 -4,0M278,31.55a2.0,2.0 0 1,0 4,0a2.0,2.0 0 1,0 -4,0M278.62,31.85a2.0,2.0 0 1,0 4,0a2.0,2.0 0 1,0 -4,0M279.24,31.62a2.0,2.0 0 1,0 4,0a2.0,2.0 0 1,0 -4,0M279.86,31.96a2.0,2.0 0 1,0 4,0a2.0,2.0 0 1,0 -4,0M280.48,31.96a2.0,2.0 0 1,0 4,0a2.0,2.0 0 1,0 -4,0M281.09,31.45a2.0,2.0 0 1,0 4,0a2.0,2.0 0 1,0 -4,0M281.71,31.76a2.0,2.0 0 1,0 4,0a2.0,2.0 0 1,0 -4,0M282.33,31.42a2.0,2.0 0 1,0 4,0a2.0,2.0 0 1,0 -4,0M282.95,31.87a2.0,2.0 0 1,0 4,0a2.0,2.0 0 1,0 -4,0M283.56,31.45a2.0,2.0 0 1,0 4,0a2.0,2.0 0 1,0 -4,0M284.18,31.45a2.0,2.0 0 1,0 4,0a2.0,2.0 0 1,0 -4,0M284.8,31.81a2.0,2.0 0 1,0 4,0a2.0,2.0 0 1,0 -4,0M285.42,31.99a2.0,2.0 0 1,0 4,0a2.0,2.0 0 1,0 -4,0M286.04,31.73a2.0,2.0 0 1,0 4,0a2.0,2.0 0 1,0 -4,0M286.65,31.65a2.0,2.0 0 1,0 4,0a2.0,2.0 0 1,0 -4,0M287.27,31.99a2.0,2.0 0 1,0 4,0a2.0,2.0 0 1,0 -4,0M287.89,31.92a2.0,2.0 0 1,0 4,0a2.0,2.0 0 1,0 -4,0M288.51,32.03a2.0,2.0 0 1,0 4,0a2.0,2.0 0 1,0 -4,0M289.12,31.56a2.0,2.0 0 1,0 4,0a2.0,2.0 0 1,0 -4,0M289.74,31.3a2.0,2.0 0 1,0 4,0a2.0,2.0 0 1,0 -4,0M290.36,31.89a2.0,2.0 0 1,0 4,0a2.0,2.0 0 1,0 -4,0M290.98,32.05a2.0,2.0 0 1,0 4,0a2.0,2.0 0 1,0 -4,0M291.6,31.46a2.0,2.0 0 1,0 4,0a2.0,2.0 0 1,0 -4,0M292.21,31.36a2.0,2.0 0 1,0 4,0a2.0,2.0 0 1,0 -4,0M292.83,31.23a2.0,2.0 0 1,0 4,0a2.0,2.0 0 1,0 -4,0M293.45,31.54a2.0,2.0 0 1,0 4,0a2.0,2.0 0 1,0 -4,0M294.07,31.78a2.0,2.0 0 1,0 4,0a2.0,2.0 0 1,0 -4,0M294.69,31.34a2.0,2.0 0 1,0 4,0a2.0,2.0 0 1,0 -4,0M295.3,31.98a2.0,2.0 0 1,0 4,0a2.0,2.0 0 1,0 -4,0M295.92,31.47a2.0,2.0 0 1,0 4,0a2.0,2.0 0 1,0 -4,0M296.54,32a2.0,2.0 0 1,0 4,0a2.0,2.0 0 1,0 -4,0M297.16,31.73a2.0,2.0 0 1,0 4,0a2.0,2.0 0 1,0 -4,0M297.77,31.65a2.0,2.0 0 1,0 4,0a2.0,2.0 0 1,0 -4,0M298.39,31.75a2.0,2.0 0 1,0 4,0a2.0,2.0 0 1,0 -4,0M299.01,31.93a2.0,2.0 0 1,0 4,0a2.0,2.0 0 1,0 -4,0M299.63,31.88a2.0,2.0 0 1,0 4,0a2.0,2.0 0 1,0 -4,0M300.25,31.36a2.0,2.0 0 1,0 4,0a2.0,2.0 0 1,0 -4,0M300.86,31.68a2.0,2.0 0 1,0 4,0a2.0,2.0 0 1,0 -4,0M301.48,31.57a2.0,2.0 0 1,0 4,0a2.0,2.0 0 1,0 -4,0M302.1,31.9a2.0,2.0 0 1,0 4,0a2.0,2.0 0 1,0 -4,0M302.72,31.45a2.0,2.0 0 1,0 4,0a2.0,2.0 0 1,0 -4,0M303.34,31.79a2.0,2.0 0 1,0 4,0a2.0,2.0 0 1,0 -4,0M303.95,31.56a2.0,2.0 0 1,0 4,0a2.0,2.0 0 1,0 -4,0M304.57,31.28a2.0,2.0 0 1,0 4,0a2.0,2.0 0 1,0 -4,0M305.19,31.21a2.0,2.0 0 1,0 4,0a2.0,2.0 0 1,0 -4,0M305.81,32.04a2.0,2.0 0 1,0 4,0a2.0,2.0 0 1,0 -4,0M306.43,31.38a2.0,2.0 0 1,0 4,0a2.0,2.0 0 1,0 -4,0M307.04,31.33a2.0,2.0 0 1,0 4,0a2.0,2.0 0 1,0 -4,0M307.66,31.8a2.0,2.0 0 1,0 4,0a2.0,2.0 0 1,0 -4,0M308.28,31.75a2.0,2.0 0 1,0 4,0a2.0,2.0 0 1,0 -4,0M308.9,31.57a2.0,2.0 0 1,0 4,0a2.0,2.0 0 1,0 -4,0M309.51,31.27a2.0,2.0 0 1,0 4,0a2.0,2.0 0 1,0 -4,0M310.13,31.73a2.0,2.0 0 1,0 4,0a2.0,2.0 0 1,0 -4,0M310.75,31.31a2.0,2.0 0 1,0 4,0a2.0,2.0 0 1,0 -4,0M311.37,31.41a2.0,2.0 0 1,0 4,0a2.0,2.0 0 1,0 -4,0M311.99,31.95a2.0,2.0 0 1,0 4,0a2.0,2.0 0 1,0 -4,0M312.6,31.28a2.0,2.0 0 1,0 4,0a2.0,2.0 0 1,0 -4,0M313.22,32.07a2.0,2.0 0 1,0 4,0a2.0,2.0 0 1,0 -4,0M313.84,31.95a2.0,2.0 0 1,0 4,0a2.0,2.0 0 1,0 -4,0M314.46,31.5a2.0,2.0 0 1,0 4,0a2.0,2.0 0 1,0 -4,0M315.07,32.03a2.0,2.0 0 1,0 4,0a2.0,2.0 0 1,0 -4,0M315.69,31.75a2.0,2.0 0 1,0 4,0a2.0,2.0 0 1,0 -4,0M316.31,31.97a2.0,2.0 0 1,0 4,0a2.0,2.0 0 1,0 -4,0M316.93,31.67a2.0,2.0 0 1,0 4,0a2.0,2.0 0 1,0 -4,0M317.55,31.34a2.0,2.0 0 1,0 4,0a2.0,2.0 0 1,0 -4,0M318.16,31.28a2.0,2.0 0 1,0 4,0a2.0,2.0 0 1,0 -4,0M318.78,32.05a2.0,2.0 0 1,0 4,0a2.0,2.0 0 1,0 -4,0M319.4,32.03a2.0,2.0 0 1,0 4,0a2.0,2.0 0 1,0 -4,0M320.02,31.34a2.0,2.0 0 1,0 4,0a2.0,2.0 0 1,0 -4,0M320.64,32.05a2.0,2.0 0 1,0 4,0a2.0,2.0 0 1,0 -4,0M321.25,31.84a2.0,2.0 0 1,0 4,0a2.0,2.0 0 1,0 -4,0M321.87,31.98a2.0,2.0 0 1,0 4,0a2.0,2.0 0 1,0 -4,0M322.49,32a2.0,2.0 0 1,0 4,0a2.0,2.0 0 1,0 -4,0M323.11,32.06a2.0,2.0 0 1,0 4,0a2.0,2.0 0 1,0 -4,0M323.73,31.52a2.0,2.0 0 1,0 4,0a2.0,2.0 0 1,0 -4,0M324.34,31.43a2.0,2.0 0 1,0 4,0a2.0,2.0 0 1,0 -4,0M324.96,31.48a2.0,2.0 0 1,0 4,0a2.0,2.0 0 1,0 -4,0M325.58,31.34a2.0,2.0 0 1,0 4,0a2.0,2.0 0 1,0 -4,0M326.2,31.5a2.0,2.0 0 1,0 4,0a2.0,2.0 0 1,0 -4,0M326.81,31.74a2.0,2.0 0 1,0 4,0a2.0,2.0 0 1,0 -4,0M327.43,31.53a2.0,2.0 0 1,0 4,0a2.0,2.0 0 1,0 -4,0M328.05,31.23a2.0,2.0 0 1,0 4,0a2.0,2.0 0 1,0 -4,0M328.67,31.52a2.0,2.0 0 1,0 4,0a2.0,2.0 0 1,0 -4,0M329.29,31.87a2.0,2.0 0 1,0 4,0a2.0,2.0 0 1,0 -4,0M329.9,32.03a2.0,2.0 0 1,0 4,0a2.0,2.0 0 1,0 -4,0M330.52,31.26a2.0,2.0 0 1,0 4,0a2.0,2.0 0 1,0 -4,0M331.14,31.56a2.0,2.0 0 1,0 4,0a2.0,2.0 0 1,0 -4,0M331.76,31.77a2.0,2.0 0 1,0 4,0a2.0,2.0 0 1,0 -4,0M332.38,31.55a2.0,2.0 0 1,0 4,0a2.0,2.0 0 1,0 -4,0M332.99,31.59a2.0,2.0 0 1,0 4,0a2.0,2.0 0 1,0 -4,0M333.61,31.62a2.0,2.0 0 1,0 4,0a2.0,2.0 0 1,0 -4,0M334.23,32.03a2.0,2.0 0 1,0 4,0a2.0,2.0 0 1,0 -4,0M334.85,31.77a2.0,2.0 0 1,0 4,0a2.0,2.0 0 1,0 -4,0M335.46,31.72a2.0,2.0 0 1,0 4,0a2.0,2.0 0 1,0 -4,0M336.08,31.91a2.0,2.0 0 1,0 4,0a2.0,2.0 0 1,0 -4,0M336.7,31.31a2.0,2.0 0 1,0 4,0a2.0,2.0 0 1,0 -4,0M337.32,31.71a2.0,2.0 0 1,0 4,0a2.0,2.0 0 1,0 -4,0M337.94,31.5a2.0,2.0 0 1,0 4,0a2.0,2.0 0 1,0 -4,0M338.55,31.45a2.0,2.0 0 1,0 4,0a2.0,2.0 0 1,0 -4,0M339.17,31.43a2.0,2.0 0 1,0 4,0a2.0,2.0 0 1,0 -4,0M339.79,31.45a2.0,2.0 0 1,0 4,0a2.0,2.0 0 1,0 -4,0M340.41,31.42a2.0,2.0 0 1,0 4,0a2.0,2.0 0 1,0 -4,0M341.02,31.86a2.0,2.0 0 1,0 4,0a2.0,2.0 0 1,0 -4,0M341.64,31.22a2.0,2.0 0 1,0 4,0a2.0,2.0 0 1,0 -4,0M342.26,31.95a2.0,2.0 0 1,0 4,0a2.0,2.0 0 1,0 -4,0M342.88,31.27a2.0,2.0 0 1,0 4,0a2.0,2.0 0 1,0 -4,0M343.5,31.33a2.0,2.0 0 1,0 4,0a2.0,2.0 0 1,0 -4,0M344.11,31.33a2.0,2.0 0 1,0 4,0a2.0,2.0 0 1,0 -4,0M344.73,32.04a2.0,2.0 0 1,0 4,0a2.0,2.0 0 1,0 -4,0M345.35,32a2.0,2.0 0 1,0 4,0a2.0,2.0 0 1,0 -4,0M345.97,31.37a2.0,2.0 0 1,0 4,0a2.0,2.0 0 1,0 -4,0M346.59,31.67a2.0,2.0 0 1,0 4,0a2.0,2.0 0 1,0 -4,0M347.2,31.76a2.0,2.0 0 1,0 4,0a2.0,2.0 0 1,0 -4,0M347.82,31.21a2.0,2.0 0 1,0 4,0a2.0,2.0 0 1,0 -4,0M348.44,32.05a2.0,2.0 0 1,0 4,0a2.0,2.0 0 1,0 -4,0M349.06,31.61a2.0,2.0 0 1,0 4,0a2.0,2.0 0 1,0 -4,0M349.68,31.69a2.0,2.0 0 1,0 4,0a2.0,2.0 0 1,0 -4,0M350.29,31.97a2.0,2.0 0 1,0 4,0a2.0,2.0 0 1,0 -4,0M350.91,31.73a2.0,2.0 0 1,0 4,0a2.0,2.0 0 1,0 -4,0M351.53,31.46a2.0,2.0 0 1,0 4,0a2.0,2.0 0 1,0 -4,0M352.15,31.3a2.0,2.0 0 1,0 4,0a2.0,2.0 0 1,0 -4,0M352.76,32.06a2.0,2.0 0 1,0 4,0a2.0,2.0 0 1,0 -4,0M353.38,31.62a2.0,2.0 0 1,0 4,0a2.0,2.0 0 1,0 -4,0M354,32a2.0,2.0 0 1,0 4,0a2.0,2.0 0 1,0 -4,0M354.62,31.38a2.0,2.0 0 1,0 4,0a2.0,2.0 0 1,0 -4,0M355.24,32.01a2.0,2.0 0 1,0 4,0a2.0,2.0 0 1,0 -4,0M355.85,32.05a2.0,2.0 0 1,0 4,0a2.0,2.0 0 1,0 -4,0M356.47,31.74a2.0,2.0 0 1,0 4,0a2.0,2.0 0 1,0 -4,0M357.09,31.44a2.0,2.0 0 1,0 4,0a2.0,2.0 0 1,0 -4,0M357.71,31.81a2.0,2.0 0 1,0 4,0a2.0,2.0 0 1,0 -4,0M358.32,31.97a2.0,2.0 0 1,0 4,0a2.0,2.0 0 1,0 -4,0M358.94,31.38a2.0,2.0 0 1,0 4,0a2.0,2.0 0 1,0 -4,0M359.56,31.37a2.0,2.0 0 1,0 4,0a2.0,2.0 0 1,0 -4,0M360.18,31.33a2.0,2.0 0 1,0 4,0a2.0,2.0 0 1,0 -4,0M360.8,31.83a2.0,2.0 0 1,0 4,0a2.0,2.0 0 1,0 -4,0M361.41,31.74a2.0,2.0 0 1,0 4,0a2.0,2.0 0 1,0 -4,0M362.03,31.92a2.0,2.0 0 1,0 4,0a2.0,2.0 0 1,0 -4,0M362.65,31.66a2.0,2.0 0 1,0 4,0a2.0,2.0 0 1,0 -4,0M363.27,31.87a2.0,2.0 0 1,0 4,0a2.0,2.0 0 1,0 -4,0M363.89,31.88a2.0,2.0 0 1,0 4,0a2.0,2.0 0 1,0 -4,0M364.5,31.51a2.0,2.0 0 1,0 4,0a2.0,2.0 0 1,0 -4,0M365.12,31.37a2.0,2.0 0 1,0 4,0a2.0,2.0 0 1,0 -4,0M365.74,31.72a2.0,2.0 0 1,0 4,0a2.0,2.0 0 1,0 -4,0M366.36,32.15a2.0,2.0 0 1,0 4,0a2.0,2.0 0 1,0 -4,0M366.98,31.69a2.0,2.0 0 1,0 4,0a2.0,2.0 0 1,0 -4,0M367.59,31.88a2.0,2.0 0 1,0 4,0a2.0,2.0 0 1,0 -4,0M368.21,31.42a2.0,2.0 0 1,0 4,0a2.0,2.0 0 1,0 -4,0M368.83,31.68a2.0,2.0 0 1,0 4,0a2.0,2.0 0 1,0 -4,0M369.45,31.59a2.0,2.0 0 1,0 4,0a2.0,2.0 0 1,0 -4,0M370.06,31.73a2.0,2.0 0 1,0 4,0a2.0,2.0 0 1,0 -4,0M370.68,31.89a2.0,2.0 0 1,0 4,0a2.0,2.0 0 1,0 -4,0M371.3,31.59a2.0,2.0 0 1,0 4,0a2.0,2.0 0 1,0 -4,0M371.92,31.66a2.0,2.0 0 1,0 4,0a2.0,2.0 0 1,0 -4,0M372.54,32.15a2.0,2.0 0 1,0 4,0a2.0,2.0 0 1,0 -4,0M373.15,32.29a2.0,2.0 0 1,0 4,0a2.0,2.0 0 1,0 -4,0M373.77,32.12a2.0,2.0 0 1,0 4,0a2.0,2.0 0 1,0 -4,0M374.39,32a2.0,2.0 0 1,0 4,0a2.0,2.0 0 1,0 -4,0M375.01,32.39a2.0,2.0 0 1,0 4,0a2.0,2.0 0 1,0 -4,0M375.62,32.19a2.0,2.0 0 1,0 4,0a2.0,2.0 0 1,0 -4,0M376.24,32a2.0,2.0 0 1,0 4,0a2.0,2.0 0 1,0 -4,0M376.86,32.49a2.0,2.0 0 1,0 4,0a2.0,2.0 0 1,0 -4,0M377.48,31.82a2.0,2.0 0 1,0 4,0a2.0,2.0 0 1,0 -4,0M378.1,31.98a2.0,2.0 0 1,0 4,0a2.0,2.0 0 1,0 -4,0M378.71,32.3a2.0,2.0 0 1,0 4,0a2.0,2.0 0 1,0 -4,0M379.33,32.33a2.0,2.0 0 1,0 4,0a2.0,2.0 0 1,0 -4,0M379.95,32.3a2.0,2.0 0 1,0 4,0a2.0,2.0 0 1,0 -4,0M380.57,32.34a2.0,2.0 0 1,0 4,0a2.0,2.0 0 1,0 -4,0M381.19,31.98a2.0,2.0 0 1,0 4,0a2.0,2.0 0 1,0 -4,0M381.8,32.21a2.0,2.0 0 1,0 4,0a2.0,2.0 0 1,0 -4,0M382.42,32.21a2.0,2.0 0 1,0 4,0a2.0,2.0 0 1,0 -4,0M383.04,32.56a2.0,2.0 0 1,0 4,0a2.0,2.0 0 1,0 -4,0M383.66,31.9a2.0,2.0 0 1,0 4,0a2.0,2.0 0 1,0 -4,0M384.27,32.43a2.0,2.0 0 1,0 4,0a2.0,2.0 0 1,0 -4,0M384.89,32.45a2.0,2.0 0 1,0 4,0a2.0,2.0 0 1,0 -4,0M385.51,32.69a2.0,2.0 0 1,0 4,0a2.0,2.0 0 1,0 -4,0M386.13,31.91a2.0,2.0 0 1,0 4,0a2.0,2.0 0 1,0 -4,0M386.75,32.36a2.0,2.0 0 1,0 4,0a2.0,2.0 0 1,0 -4,0M387.36,32a2.0,2.0 0 1,0 4,0a2.0,2.0 0 1,0 -4,0M387.98,32a2.0,2.0 0 1,0 4,0a2.0,2.0 0 1,0 -4,0M388.6,31.98a2.0,2.0 0 1,0 4,0a2.0,2.0 0 1,0 -4,0M389.22,32.13a2.0,2.0 0 1,0 4,0a2.0,2.0 0 1,0 -4,0M389.84,32.05a2.0,2.0 0 1,0 4,0a2.0,2.0 0 1,0 -4,0M390.45,32.07a2.0,2.0 0 1,0 4,0a2.0,2.0 0 1,0 -4,0M391.07,32.2a2.0,2.0 0 1,0 4,0a2.0,2.0 0 1,0 -4,0M391.69,32.8a2.0,2.0 0 1,0 4,0a2.0,2.0 0 1,0 -4,0M392.31,32.47a2.0,2.0 0 1,0 4,0a2.0,2.0 0 1,0 -4,0M392.93,32.44a2.0,2.0 0 1,0 4,0a2.0,2.0 0 1,0 -4,0M393.54,32.09a2.0,2.0 0 1,0 4,0a2.0,2.0 0 1,0 -4,0M394.16,32.29a2.0,2.0 0 1,0 4,0a2.0,2.0 0 1,0 -4,0M394.78,32.38a2.0,2.0 0 1,0 4,0a2.0,2.0 0 1,0 -4,0M395.4,32.36a2.0,2.0 0 1,0 4,0a2.0,2.0 0 1,0 -4,0M396.01,32.71a2.0,2.0 0 1,0 4,0a2.0,2.0 0 1,0 -4,0M396.63,32.22a2.0,2.0 0 1,0 4,0a2.0,2.0 0 1,0 -4,0M397.25,32.5a2.0,2.0 0 1,0 4,0a2.0,2.0 0 1,0 -4,0M397.87,32.73a2.0,2.0 0 1,0 4,0a2.0,2.0 0 1,0 -4,0M398.49,32.69a2.0,2.0 0 1,0 4,0a2.0,2.0 0 1,0 -4,0M399.1,32.25a2.0,2.0 0 1,0 4,0a2.0,2.0 0 1,0 -4,0M399.72,32.66a2.0,2.0 0 1,0 4,0a2.0,2.0 0 1,0 -4,0M400.34,33a2.0,2.0 0 1,0 4,0a2.0,2.0 0 1,0 -4,0M400.96,33.03a2.0,2.0 0 1,0 4,0a2.0,2.0 0 1,0 -4,0M401.58,32.57a2.0,2.0 0 1,0 4,0a2.0,2.0 0 1,0 -4,0M402.19,32.7a2.0,2.0 0 1,0 4,0a2.0,2.0 0 1,0 -4,0M402.81,32.41a2.0,2.0 0 1,0 4,0a2.0,2.0 0 1,0 -4,0M403.43,33.07a2.0,2.0 0 1,0 4,0a2.0,2.0 0 1,0 -4,0M404.05,32.88a2.0,2.0 0 1,0 4,0a2.0,2.0 0 1,0 -4,0M404.66,32.62a2.0,2.0 0 1,0 4,0a2.0,2.0 0 1,0 -4,0M405.28,33.23a2.0,2.0 0 1,0 4,0a2.0,2.0 0 1,0 -4,0M405.9,33.21a2.0,2.0 0 1,0 4,0a2.0,2.0 0 1,0 -4,0M406.52,32.83a2.0,2.0 0 1,0 4,0a2.0,2.0 0 1,0 -4,0M407.14,33.09a2.0,2.0 0 1,0 4,0a2.0,2.0 0 1,0 -4,0M407.75,33.25a2.0,2.0 0 1,0 4,0a2.0,2.0 0 1,0 -4,0M408.37,33.13a2.0,2.0 0 1,0 4,0a2.0,2.0 0 1,0 -4,0M408.99,32.82a2.0,2.0 0 1,0 4,0a2.0,2.0 0 1,0 -4,0M409.61,32.93a2.0,2.0 0 1,0 4,0a2.0,2.0 0 1,0 -4,0M410.23,33.34a2.0,2.0 0 1,0 4,0a2.0,2.0 0 1,0 -4,0M410.84,33.36a2.0,2.0 0 1,0 4,0a2.0,2.0 0 1,0 -4,0M411.46,32.69a2.0,2.0 0 1,0 4,0a2.0,2.0 0 1,0 -4,0M412.08,32.89a2.0,2.0 0 1,0 4,0a2.0,2.0 0 1,0 -4,0M412.7,33.32a2.0,2.0 0 1,0 4,0a2.0,2.0 0 1,0 -4,0M413.31,32.73a2.0,2.0 0 1,0 4,0a2.0,2.0 0 1,0 -4,0M413.93,33.49a2.0,2.0 0 1,0 4,0a2.0,2.0 0 1,0 -4,0M414.55,33.2a2.0,2.0 0 1,0 4,0a2.0,2.0 0 1,0 -4,0M415.17,32.79a2.0,2.0 0 1,0 4,0a2.0,2.0 0 1,0 -4,0M415.79,32.93a2.0,2.0 0 1,0 4,0a2.0,2.0 0 1,0 -4,0M416.4,33.32a2.0,2.0 0 1,0 4,0a2.0,2.0 0 1,0 -4,0M417.02,32.8a2.0,2.0 0 1,0 4,0a2.0,2.0 0 1,0 -4,0M417.64,33.08a2.0,2.0 0 1,0 4,0a2.0,2.0 0 1,0 -4,0M418.26,32.86a2.0,2.0 0 1,0 4,0a2.0,2.0 0 1,0 -4,0M418.88,32.85a2.0,2.0 0 1,0 4,0a2.0,2.0 0 1,0 -4,0M419.49,33.28a2.0,2.0 0 1,0 4,0a2.0,2.0 0 1,0 -4,0M420.11,33.08a2.0,2.0 0 1,0 4,0a2.0,2.0 0 1,0 -4,0M420.73,33.21a2.0,2.0 0 1,0 4,0a2.0,2.0 0 1,0 -4,0M421.35,32.87a2.0,2.0 0 1,0 4,0a2.0,2.0 0 1,0 -4,0M421.96,33.02a2.0,2.0 0 1,0 4,0a2.0,2.0 0 1,0 -4,0M422.58,33.1a2.0,2.0 0 1,0 4,0a2.0,2.0 0 1,0 -4,0M423.2,33.04a2.0,2.0 0 1,0 4,0a2.0,2.0 0 1,0 -4,0M423.82,32.89a2.0,2.0 0 1,0 4,0a2.0,2.0 0 1,0 -4,0M424.44,33.56a2.0,2.0 0 1,0 4,0a2.0,2.0 0 1,0 -4,0M425.05,33.63a2.0,2.0 0 1,0 4,0a2.0,2.0 0 1,0 -4,0M425.67,33.16a2.0,2.0 0 1,0 4,0a2.0,2.0 0 1,0 -4,0M426.29,33.16a2.0,2.0 0 1,0 4,0a2.0,2.0 0 1,0 -4,0M426.91,33.4a2.0,2.0 0 1,0 4,0a2.0,2.0 0 1,0 -4,0M427.52,33.44a2.0,2.0 0 1,0 4,0a2.0,2.0 0 1,0 -4,0M428.14,33.53a2.0,2.0 0 1,0 4,0a2.0,2.0 0 1,0 -4,0M428.76,33.12a2.0,2.0 0 1,0 4,0a2.0,2.0 0 1,0 -4,0M429.38,33.22a2.0,2.0 0 1,0 4,0a2.0,2.0 0 1,0 -4,0M430,33.42a2.0,2.0 0 1,0 4,0a2.0,2.0 0 1,0 -4,0M430.61,33.91a2.0,2.0 0 1,0 4,0a2.0,2.0 0 1,0 -4,0M431.23,33.22a2.0,2.0 0 1,0 4,0a2.0,2.0 0 1,0 -4,0M431.85,33.58a2.0,2.0 0 1,0 4,0a2.0,2.0 0 1,0 -4,0M432.47,33.83a2.0,2.0 0 1,0 4,0a2.0,2.0 0 1,0 -4,0M433.09,33.75a2.0,2.0 0 1,0 4,0a2.0,2.0 0 1,0 -4,0M433.7,33.42a2.0,2.0 0 1,0 4,0a2.0,2.0 0 1,0 -4,0M434.32,34.04a2.0,2.0 0 1,0 4,0a2.0,2.0 0 1,0 -4,0M434.94,33.96a2.0,2.0 0 1,0 4,0a2.0,2.0 0 1,0 -4,0M435.56,33.81a2.0,2.0 0 1,0 4,0a2.0,2.0 0 1,0 -4,0M436.17,33.32a2.0,2.0 0 1,0 4,0a2.0,2.0 0 1,0 -4,0M436.79,33.46a2.0,2.0 0 1,0 4,0a2.0,2.0 0 1,0 -4,0M437.41,33.27a2.0,2.0 0 1,0 4,0a2.0,2.0 0 1,0 -4,0M438.03,33.67a2.0,2.0 0 1,0 4,0a2.0,2.0 0 1,0 -4,0M438.65,33.66a2.0,2.0 0 1,0 4,0a2.0,2.0 0 1,0 -4,0M439.26,33.69a2.0,2.0 0 1,0 4,0a2.0,2.0 0 1,0 -4,0M439.88,33.73a2.0,2.0 0 1,0 4,0a2.0,2.0 0 1,0 -4,0M440.5,33.73a2.0,2.0 0 1,0 4,0a2.0,2.0 0 1,0 -4,0" fill="#0d67ae" stroke="none" stroke-width="1"/>
<rect x="269.5" y="16.5" width="173" height="139" fill="none" stroke="#7c7c7c" stroke-width="1.2"/>
<line x1="269.5" y1="155.5" x2="272.5" y2="155.5" stroke="#7c7c7c" stroke-width="1"/>
<line x1="269.5" y1="130.5" x2="272.5" y2="130.5" stroke="#7c7c7c" stroke-width="1"/>
<line x1="269.5" y1="105.5" x2="272.5" y2="105.5" stroke="#7c7c7c" stroke-width="1"/>
<line x1="269.5" y1="79.5" x2="272.5" y2="79.5" stroke="#7c7c7c" stroke-width="1"/>
<line x1="269.5" y1="54.5" x2="272.5" y2="54.5" stroke="#7c7c7c" stroke-width="1"/>
<line x1="269.5" y1="29.5" x2="272.5" y2="29.5" stroke="#7c7c7c" stroke-width="1"/>
<line x1="269.5" y1="142.5" x2="271.5" y2="142.5" stroke="#7c7c7c" stroke-width="1"/>
<line x1="269.5" y1="117.5" x2="271.5" y2="117.5" stroke="#7c7c7c" stroke-width="1"/>
<line x1="269.5" y1="92.5" x2="271.5" y2="92.5" stroke="#7c7c7c" stroke-width="1"/>
<line x1="269.5" y1="67.5" x2="271.5" y2="67.5" stroke="#7c7c7c" stroke-width="1"/>
<line x1="269.5" y1="42.5" x2="271.5" y2="42.5" stroke="#7c7c7c" stroke-width="1"/>
<line x1="269.5" y1="155.5" x2="269.5" y2="152.5" stroke="#7c7c7c" stroke-width="1"/>
<line x1="300.5" y1="155.5" x2="300.5" y2="152.5" stroke="#7c7c7c" stroke-width="1"/>
<line x1="331.5" y1="155.5" x2="331.5" y2="152.5" stroke="#7c7c7c" stroke-width="1"/>
<line x1="362.5" y1="155.5" x2="362.5" y2="152.5" stroke="#7c7c7c" stroke-width="1"/>
<line x1="393.5" y1="155.5" x2="393.5" y2="152.5" stroke="#7c7c7c" stroke-width="1"/>
<line x1="423.5" y1="155.5" x2="423.5" y2="152.5" stroke="#7c7c7c" stroke-width="1"/>
<line x1="284.5" y1="155.5" x2="284.5" y2="153.5" stroke="#7c7c7c" stroke-width="1"/>
<line x1="315.5" y1="155.5" x2="315.5" y2="153.5" stroke="#7c7c7c" stroke-width="1"/>
<line x1="346.5" y1="155.5" x2="346.5" y2="153.5" stroke="#7c7c7c" stroke-width="1"/>
<line x1="377.5" y1="155.5" x2="377.5" y2="153.5" stroke="#7c7c7c" stroke-width="1"/>
<line x1="408.5" y1="155.5" x2="408.5" y2="153.5" stroke="#7c7c7c" stroke-width="1"/>
<line x1="439.5" y1="155.5" x2="439.5" y2="153.5" stroke="#7c7c7c" stroke-width="1"/>
<text x="255.2" y="156.55" font-size="12.2" text-anchor="middle" fill="#141414" color="#141414" transform="matrix(1.05 0 0 1 -12.76 0)">0</text>
<text x="255.3" y="131.75" font-size="12.2" text-anchor="middle" fill="#141414" color="#141414" transform="matrix(1.05 0 0 1 -12.76 0)">20</text>
<text x="255.6" y="107.25" font-size="12.2" text-anchor="middle" fill="#141414" color="#141414" transform="matrix(1.05 0 0 1 -12.78 0)">40</text>
<text x="255.8" y="82.75" font-size="12.2" text-anchor="middle" fill="#141414" color="#141414" transform="matrix(1.05 0 0 1 -12.79 0)">60</text>
<text x="256.3" y="58.55" font-size="12.2" text-anchor="middle" fill="#141414" color="#141414" transform="matrix(1.05 0 0 1 -12.81 0)">80</text>
<text x="254.9" y="33.55" font-size="12.2" text-anchor="middle" fill="#141414" color="#141414" transform="matrix(1.05 0 0 1 -12.75 0)">100</text>
<text x="304" y="170.5" font-size="12.2" text-anchor="middle" fill="#141414" color="#141414" transform="matrix(1.05 0 0 1 -15.2 0)">50</text>
<text x="334.9" y="170.5" font-size="12.2" text-anchor="middle" fill="#141414" color="#141414" transform="matrix(1.05 0 0 1 -16.75 0)">100</text>
<text x="364.4" y="170.5" font-size="12.2" text-anchor="middle" fill="#141414" color="#141414" transform="matrix(1.05 0 0 1 -18.22 0)">150</text>
<text x="392.6" y="170.5" font-size="12.2" text-anchor="middle" fill="#141414" color="#141414" transform="matrix(1.05 0 0 1 -19.63 0)">200</text>
<text x="421.7" y="170.5" font-size="12.2" text-anchor="middle" fill="#141414" color="#141414" transform="matrix(1.05 0 0 1 -21.09 0)">250</text>
<text x="356" y="181.8" font-size="13.1" text-anchor="middle" font-weight="bold" fill="#141414" color="#141414">Cycle number</text>
<text x="243.5" y="82.3" font-size="13" text-anchor="middle" font-weight="bold" fill="#141414" color="#141414" transform="rotate(-90 243.5 82.3)">Coulombic efficiency (%)</text>
<text x="293.3" y="141.2" font-size="12.8" text-anchor="start" fill="#141414" color="#141414">1 mA·cm<tspan font-size="6.8" dy="-4.6">-2</tspan><tspan dy="4.6">​</tspan>&#160; 1 mAh·cm<tspan font-size="6.8" dy="-4.6">-2</tspan><tspan dy="4.6">​</tspan></text>
<text x="219.1" y="11.6" font-size="14.5" text-anchor="start" font-weight="bold" fill="#111" color="#111">b</text>
<polyline points="499.69,154.78 500.96,119.21 501.65,109.2 502.8,37.3 504.99,29.32 505.79,30.33 506.49,32.23 507.29,33.5 507.87,34.69 509.02,34.53 510.17,35.06 511.32,34.81 512.48,35.11 513.63,35.09 514.78,34.86 515.93,34.75 517.08,34.76 518.24,34.31 519.39,35.11 520.54,34.6 521.69,34.21 522.84,34.45 524,34.6 525.15,34.77 526.3,34.71 527.45,34.14 528.6,34.16 529.76,34.36 530.91,34.11 532.06,34.05 533.21,34.11 534.36,34.55 535.52,34.45 536.67,34.08 537.82,34.49 538.97,34.08 540.12,34.33 541.28,34.45 542.43,34.3 543.58,34.62 544.73,34.35 545.88,34.27 547.04,34.64 548.19,34.46 549.34,34.35 550.49,33.72 551.64,33.96 552.8,34.25 553.95,33.5 555.1,34.22 556.25,33.94 557.4,33.69 558.56,33.71 559.71,33.95 560.86,36.03 562.01,42.74 563.16,44.89 564.32,48.69 565.47,51.22 566.62,55.4 567.77,60.08 568.92,64.89 570.08,71.48 571.23,76.92" fill="none" stroke="#f7c6b2" stroke-width="1.5" stroke-linejoin="round"/>
<polyline points="499.69,152.25 500.03,80.09 501.42,71.48 503.14,37.68 503.95,34.13 504.41,33.54 505.56,33.75 506.72,33.57 507.87,33.73 509.02,33.36 510.17,33.54 511.32,34.01 512.48,33.97 513.63,33.33 514.78,33.88 515.93,34.02 517.08,33.84 518.24,33.66 519.39,33.29 520.54,33.7 521.69,33.45 522.84,33.36 524,33.91 525.15,33.51 526.3,33.21 527.45,33.54 528.6,33.54 529.76,33.67 530.91,33.21 532.06,33.18 533.21,33.83 534.36,33.48 535.52,33.57 536.67,33.37 537.82,33.78 538.97,33.66 540.12,33.64 541.28,33.48 542.43,33.24 543.58,33.18 544.73,33.22 545.88,33.3 547.04,33.74 548.19,33.5 549.34,33.28 550.49,33.55 551.64,33.38 552.8,33.07 553.95,33.66 555.1,33.09 556.25,33.65 557.4,33.43 558.56,33.03 559.71,33.55 560.86,33.3 562.01,33.37 563.16,33 564.32,32.92 565.47,33.44 566.62,33.28 567.77,32.96 568.92,33.22 570.08,33.46 571.23,33.04 572.38,33.35 573.53,33.23 574.68,33.58 575.84,32.83 576.99,33.07 578.14,32.86 579.29,32.82 580.44,33.34 581.6,33.13 582.75,33.19 583.9,32.94 585.05,32.87 586.2,33.33 587.36,33.28 588.51,32.95 589.66,33.16 590.81,33.37 591.96,33.31 593.12,33.02 594.27,32.99 595.42,32.7 596.57,33.02 597.72,32.95 598.88,33.29 600.03,33.08 601.18,33.17 602.33,32.85 603.48,33.17 604.64,33.2 605.79,33.07 606.94,32.98 608.09,33.08 609.24,32.86 610.4,33.18 611.55,32.64 612.7,32.77 613.85,32.88 615,33.24 616.16,33.02 617.31,32.74 618.46,32.76 619.61,32.63 620.76,32.56 621.92,32.99 623.07,32.84 624.22,32.96 625.37,33.1 626.52,33.09 627.68,32.99 628.83,33.11 629.98,32.76 631.13,32.62 632.28,32.72 633.44,32.62 634.59,32.96 635.74,32.97 636.89,32.68 638.04,32.43 639.2,32.77 640.35,33.08 641.5,33.06 642.65,32.84 643.8,32.59 644.96,32.99 646.11,32.87 647.26,32.52 648.41,32.28 649.56,32.76 650.72,32.55 651.87,32.6 653.02,32.97 654.17,32.73 655.32,32.86 656.48,32.77 657.63,32.37 658.78,32.43 659.93,32.9 661.08,32.87 662.24,32.37 663.39,32.83 664.54,32.66 665.69,32.69" fill="none" stroke="#bcd4ec" stroke-width="1.5" stroke-linejoin="round"/>
<path d="M497.69,154.78a2.0,2.0 0 1,0 4,0a2.0,2.0 0 1,0 -4,0M498.96,119.21a2.0,2.0 0 1,0 4,0a2.0,2.0 0 1,0 -4,0M499.65,109.2a2.0,2.0 0 1,0 4,0a2.0,2.0 0 1,0 -4,0M500.8,37.3a2.0,2.0 0 1,0 4,0a2.0,2.0 0 1,0 -4,0M502.99,29.32a2.0,2.0 0 1,0 4,0a2.0,2.0 0 1,0 -4,0M503.79,30.33a2.0,2.0 0 1,0 4,0a2.0,2.0 0 1,0 -4,0M504.49,32.23a2.0,2.0 0 1,0 4,0a2.0,2.0 0 1,0 -4,0M505.29,33.5a2.0,2.0 0 1,0 4,0a2.0,2.0 0 1,0 -4,0M505.87,34.69a2.0,2.0 0 1,0 4,0a2.0,2.0 0 1,0 -4,0M507.02,34.53a2.0,2.0 0 1,0 4,0a2.0,2.0 0 1,0 -4,0M508.17,35.06a2.0,2.0 0 1,0 4,0a2.0,2.0 0 1,0 -4,0M509.32,34.81a2.0,2.0 0 1,0 4,0a2.0,2.0 0 1,0 -4,0M510.48,35.11a2.0,2.0 0 1,0 4,0a2.0,2.0 0 1,0 -4,0M511.63,35.09a2.0,2.0 0 1,0 4,0a2.0,2.0 0 1,0 -4,0M512.78,34.86a2.0,2.0 0 1,0 4,0a2.0,2.0 0 1,0 -4,0M513.93,34.75a2.0,2.0 0 1,0 4,0a2.0,2.0 0 1,0 -4,0M515.08,34.76a2.0,2.0 0 1,0 4,0a2.0,2.0 0 1,0 -4,0M516.24,34.31a2.0,2.0 0 1,0 4,0a2.0,2.0 0 1,0 -4,0M517.39,35.11a2.0,2.0 0 1,0 4,0a2.0,2.0 0 1,0 -4,0M518.54,34.6a2.0,2.0 0 1,0 4,0a2.0,2.0 0 1,0 -4,0M519.69,34.21a2.0,2.0 0 1,0 4,0a2.0,2.0 0 1,0 -4,0M520.84,34.45a2.0,2.0 0 1,0 4,0a2.0,2.0 0 1,0 -4,0M522,34.6a2.0,2.0 0 1,0 4,0a2.0,2.0 0 1,0 -4,0M523.15,34.77a2.0,2.0 0 1,0 4,0a2.0,2.0 0 1,0 -4,0M524.3,34.71a2.0,2.0 0 1,0 4,0a2.0,2.0 0 1,0 -4,0M525.45,34.14a2.0,2.0 0 1,0 4,0a2.0,2.0 0 1,0 -4,0M526.6,34.16a2.0,2.0 0 1,0 4,0a2.0,2.0 0 1,0 -4,0M527.76,34.36a2.0,2.0 0 1,0 4,0a2.0,2.0 0 1,0 -4,0M528.91,34.11a2.0,2.0 0 1,0 4,0a2.0,2.0 0 1,0 -4,0M530.06,34.05a2.0,2.0 0 1,0 4,0a2.0,2.0 0 1,0 -4,0M531.21,34.11a2.0,2.0 0 1,0 4,0a2.0,2.0 0 1,0 -4,0M532.36,34.55a2.0,2.0 0 1,0 4,0a2.0,2.0 0 1,0 -4,0M533.52,34.45a2.0,2.0 0 1,0 4,0a2.0,2.0 0 1,0 -4,0M534.67,34.08a2.0,2.0 0 1,0 4,0a2.0,2.0 0 1,0 -4,0M535.82,34.49a2.0,2.0 0 1,0 4,0a2.0,2.0 0 1,0 -4,0M536.97,34.08a2.0,2.0 0 1,0 4,0a2.0,2.0 0 1,0 -4,0M538.12,34.33a2.0,2.0 0 1,0 4,0a2.0,2.0 0 1,0 -4,0M539.28,34.45a2.0,2.0 0 1,0 4,0a2.0,2.0 0 1,0 -4,0M540.43,34.3a2.0,2.0 0 1,0 4,0a2.0,2.0 0 1,0 -4,0M541.58,34.62a2.0,2.0 0 1,0 4,0a2.0,2.0 0 1,0 -4,0M542.73,34.35a2.0,2.0 0 1,0 4,0a2.0,2.0 0 1,0 -4,0M543.88,34.27a2.0,2.0 0 1,0 4,0a2.0,2.0 0 1,0 -4,0M545.04,34.64a2.0,2.0 0 1,0 4,0a2.0,2.0 0 1,0 -4,0M546.19,34.46a2.0,2.0 0 1,0 4,0a2.0,2.0 0 1,0 -4,0M547.34,34.35a2.0,2.0 0 1,0 4,0a2.0,2.0 0 1,0 -4,0M548.49,33.72a2.0,2.0 0 1,0 4,0a2.0,2.0 0 1,0 -4,0M549.64,33.96a2.0,2.0 0 1,0 4,0a2.0,2.0 0 1,0 -4,0M550.8,34.25a2.0,2.0 0 1,0 4,0a2.0,2.0 0 1,0 -4,0M551.95,33.5a2.0,2.0 0 1,0 4,0a2.0,2.0 0 1,0 -4,0M553.1,34.22a2.0,2.0 0 1,0 4,0a2.0,2.0 0 1,0 -4,0M554.25,33.94a2.0,2.0 0 1,0 4,0a2.0,2.0 0 1,0 -4,0M555.4,33.69a2.0,2.0 0 1,0 4,0a2.0,2.0 0 1,0 -4,0M556.56,33.71a2.0,2.0 0 1,0 4,0a2.0,2.0 0 1,0 -4,0M557.71,33.95a2.0,2.0 0 1,0 4,0a2.0,2.0 0 1,0 -4,0M558.86,36.03a2.0,2.0 0 1,0 4,0a2.0,2.0 0 1,0 -4,0M560.01,42.74a2.0,2.0 0 1,0 4,0a2.0,2.0 0 1,0 -4,0M561.16,44.89a2.0,2.0 0 1,0 4,0a2.0,2.0 0 1,0 -4,0M562.32,48.69a2.0,2.0 0 1,0 4,0a2.0,2.0 0 1,0 -4,0M563.47,51.22a2.0,2.0 0 1,0 4,0a2.0,2.0 0 1,0 -4,0M564.62,55.4a2.0,2.0 0 1,0 4,0a2.0,2.0 0 1,0 -4,0M565.77,60.08a2.0,2.0 0 1,0 4,0a2.0,2.0 0 1,0 -4,0M566.92,64.89a2.0,2.0 0 1,0 4,0a2.0,2.0 0 1,0 -4,0M568.08,71.48a2.0,2.0 0 1,0 4,0a2.0,2.0 0 1,0 -4,0M569.23,76.92a2.0,2.0 0 1,0 4,0a2.0,2.0 0 1,0 -4,0" fill="#ef8e6a" stroke="none" stroke-width="1"/>
<path d="M497.69,152.25a2.0,2.0 0 1,0 4,0a2.0,2.0 0 1,0 -4,0M498.03,80.09a2.0,2.0 0 1,0 4,0a2.0,2.0 0 1,0 -4,0M499.42,71.48a2.0,2.0 0 1,0 4,0a2.0,2.0 0 1,0 -4,0M501.14,37.68a2.0,2.0 0 1,0 4,0a2.0,2.0 0 1,0 -4,0M501.95,34.13a2.0,2.0 0 1,0 4,0a2.0,2.0 0 1,0 -4,0M502.41,33.54a2.0,2.0 0 1,0 4,0a2.0,2.0 0 1,0 -4,0M503.56,33.75a2.0,2.0 0 1,0 4,0a2.0,2.0 0 1,0 -4,0M504.72,33.57a2.0,2.0 0 1,0 4,0a2.0,2.0 0 1,0 -4,0M505.87,33.73a2.0,2.0 0 1,0 4,0a2.0,2.0 0 1,0 -4,0M507.02,33.36a2.0,2.0 0 1,0 4,0a2.0,2.0 0 1,0 -4,0M508.17,33.54a2.0,2.0 0 1,0 4,0a2.0,2.0 0 1,0 -4,0M509.32,34.01a2.0,2.0 0 1,0 4,0a2.0,2.0 0 1,0 -4,0M510.48,33.97a2.0,2.0 0 1,0 4,0a2.0,2.0 0 1,0 -4,0M511.63,33.33a2.0,2.0 0 1,0 4,0a2.0,2.0 0 1,0 -4,0M512.78,33.88a2.0,2.0 0 1,0 4,0a2.0,2.0 0 1,0 -4,0M513.93,34.02a2.0,2.0 0 1,0 4,0a2.0,2.0 0 1,0 -4,0M515.08,33.84a2.0,2.0 0 1,0 4,0a2.0,2.0 0 1,0 -4,0M516.24,33.66a2.0,2.0 0 1,0 4,0a2.0,2.0 0 1,0 -4,0M517.39,33.29a2.0,2.0 0 1,0 4,0a2.0,2.0 0 1,0 -4,0M518.54,33.7a2.0,2.0 0 1,0 4,0a2.0,2.0 0 1,0 -4,0M519.69,33.45a2.0,2.0 0 1,0 4,0a2.0,2.0 0 1,0 -4,0M520.84,33.36a2.0,2.0 0 1,0 4,0a2.0,2.0 0 1,0 -4,0M522,33.91a2.0,2.0 0 1,0 4,0a2.0,2.0 0 1,0 -4,0M523.15,33.51a2.0,2.0 0 1,0 4,0a2.0,2.0 0 1,0 -4,0M524.3,33.21a2.0,2.0 0 1,0 4,0a2.0,2.0 0 1,0 -4,0M525.45,33.54a2.0,2.0 0 1,0 4,0a2.0,2.0 0 1,0 -4,0M526.6,33.54a2.0,2.0 0 1,0 4,0a2.0,2.0 0 1,0 -4,0M527.76,33.67a2.0,2.0 0 1,0 4,0a2.0,2.0 0 1,0 -4,0M528.91,33.21a2.0,2.0 0 1,0 4,0a2.0,2.0 0 1,0 -4,0M530.06,33.18a2.0,2.0 0 1,0 4,0a2.0,2.0 0 1,0 -4,0M531.21,33.83a2.0,2.0 0 1,0 4,0a2.0,2.0 0 1,0 -4,0M532.36,33.48a2.0,2.0 0 1,0 4,0a2.0,2.0 0 1,0 -4,0M533.52,33.57a2.0,2.0 0 1,0 4,0a2.0,2.0 0 1,0 -4,0M534.67,33.37a2.0,2.0 0 1,0 4,0a2.0,2.0 0 1,0 -4,0M535.82,33.78a2.0,2.0 0 1,0 4,0a2.0,2.0 0 1,0 -4,0M536.97,33.66a2.0,2.0 0 1,0 4,0a2.0,2.0 0 1,0 -4,0M538.12,33.64a2.0,2.0 0 1,0 4,0a2.0,2.0 0 1,0 -4,0M539.28,33.48a2.0,2.0 0 1,0 4,0a2.0,2.0 0 1,0 -4,0M540.43,33.24a2.0,2.0 0 1,0 4,0a2.0,2.0 0 1,0 -4,0M541.58,33.18a2.0,2.0 0 1,0 4,0a2.0,2.0 0 1,0 -4,0M542.73,33.22a2.0,2.0 0 1,0 4,0a2.0,2.0 0 1,0 -4,0M543.88,33.3a2.0,2.0 0 1,0 4,0a2.0,2.0 0 1,0 -4,0M545.04,33.74a2.0,2.0 0 1,0 4,0a2.0,2.0 0 1,0 -4,0M546.19,33.5a2.0,2.0 0 1,0 4,0a2.0,2.0 0 1,0 -4,0M547.34,33.28a2.0,2.0 0 1,0 4,0a2.0,2.0 0 1,0 -4,0M548.49,33.55a2.0,2.0 0 1,0 4,0a2.0,2.0 0 1,0 -4,0M549.64,33.38a2.0,2.0 0 1,0 4,0a2.0,2.0 0 1,0 -4,0M550.8,33.07a2.0,2.0 0 1,0 4,0a2.0,2.0 0 1,0 -4,0M551.95,33.66a2.0,2.0 0 1,0 4,0a2.0,2.0 0 1,0 -4,0M553.1,33.09a2.0,2.0 0 1,0 4,0a2.0,2.0 0 1,0 -4,0M554.25,33.65a2.0,2.0 0 1,0 4,0a2.0,2.0 0 1,0 -4,0M555.4,33.43a2.0,2.0 0 1,0 4,0a2.0,2.0 0 1,0 -4,0M556.56,33.03a2.0,2.0 0 1,0 4,0a2.0,2.0 0 1,0 -4,0M557.71,33.55a2.0,2.0 0 1,0 4,0a2.0,2.0 0 1,0 -4,0M558.86,33.3a2.0,2.0 0 1,0 4,0a2.0,2.0 0 1,0 -4,0M560.01,33.37a2.0,2.0 0 1,0 4,0a2.0,2.0 0 1,0 -4,0M561.16,33a2.0,2.0 0 1,0 4,0a2.0,2.0 0 1,0 -4,0M562.32,32.92a2.0,2.0 0 1,0 4,0a2.0,2.0 0 1,0 -4,0M563.47,33.44a2.0,2.0 0 1,0 4,0a2.0,2.0 0 1,0 -4,0M564.62,33.28a2.0,2.0 0 1,0 4,0a2.0,2.0 0 1,0 -4,0M565.77,32.96a2.0,2.0 0 1,0 4,0a2.0,2.0 0 1,0 -4,0M566.92,33.22a2.0,2.0 0 1,0 4,0a2.0,2.0 0 1,0 -4,0M568.08,33.46a2.0,2.0 0 1,0 4,0a2.0,2.0 0 1,0 -4,0M569.23,33.04a2.0,2.0 0 1,0 4,0a2.0,2.0 0 1,0 -4,0M570.38,33.35a2.0,2.0 0 1,0 4,0a2.0,2.0 0 1,0 -4,0M571.53,33.23a2.0,2.0 0 1,0 4,0a2.0,2.0 0 1,0 -4,0M572.68,33.58a2.0,2.0 0 1,0 4,0a2.0,2.0 0 1,0 -4,0M573.84,32.83a2.0,2.0 0 1,0 4,0a2.0,2.0 0 1,0 -4,0M574.99,33.07a2.0,2.0 0 1,0 4,0a2.0,2.0 0 1,0 -4,0M576.14,32.86a2.0,2.0 0 1,0 4,0a2.0,2.0 0 1,0 -4,0M577.29,32.82a2.0,2.0 0 1,0 4,0a2.0,2.0 0 1,0 -4,0M578.44,33.34a2.0,2.0 0 1,0 4,0a2.0,2.0 0 1,0 -4,0M579.6,33.13a2.0,2.0 0 1,0 4,0a2.0,2.0 0 1,0 -4,0M580.75,33.19a2.0,2.0 0 1,0 4,0a2.0,2.0 0 1,0 -4,0M581.9,32.94a2.0,2.0 0 1,0 4,0a2.0,2.0 0 1,0 -4,0M583.05,32.87a2.0,2.0 0 1,0 4,0a2.0,2.0 0 1,0 -4,0M584.2,33.33a2.0,2.0 0 1,0 4,0a2.0,2.0 0 1,0 -4,0M585.36,33.28a2.0,2.0 0 1,0 4,0a2.0,2.0 0 1,0 -4,0M586.51,32.95a2.0,2.0 0 1,0 4,0a2.0,2.0 0 1,0 -4,0M587.66,33.16a2.0,2.0 0 1,0 4,0a2.0,2.0 0 1,0 -4,0M588.81,33.37a2.0,2.0 0 1,0 4,0a2.0,2.0 0 1,0 -4,0M589.96,33.31a2.0,2.0 0 1,0 4,0a2.0,2.0 0 1,0 -4,0M591.12,33.02a2.0,2.0 0 1,0 4,0a2.0,2.0 0 1,0 -4,0M592.27,32.99a2.0,2.0 0 1,0 4,0a2.0,2.0 0 1,0 -4,0M593.42,32.7a2.0,2.0 0 1,0 4,0a2.0,2.0 0 1,0 -4,0M594.57,33.02a2.0,2.0 0 1,0 4,0a2.0,2.0 0 1,0 -4,0M595.72,32.95a2.0,2.0 0 1,0 4,0a2.0,2.0 0 1,0 -4,0M596.88,33.29a2.0,2.0 0 1,0 4,0a2.0,2.0 0 1,0 -4,0M598.03,33.08a2.0,2.0 0 1,0 4,0a2.0,2.0 0 1,0 -4,0M599.18,33.17a2.0,2.0 0 1,0 4,0a2.0,2.0 0 1,0 -4,0M600.33,32.85a2.0,2.0 0 1,0 4,0a2.0,2.0 0 1,0 -4,0M601.48,33.17a2.0,2.0 0 1,0 4,0a2.0,2.0 0 1,0 -4,0M602.64,33.2a2.0,2.0 0 1,0 4,0a2.0,2.0 0 1,0 -4,0M603.79,33.07a2.0,2.0 0 1,0 4,0a2.0,2.0 0 1,0 -4,0M604.94,32.98a2.0,2.0 0 1,0 4,0a2.0,2.0 0 1,0 -4,0M606.09,33.08a2.0,2.0 0 1,0 4,0a2.0,2.0 0 1,0 -4,0M607.24,32.86a2.0,2.0 0 1,0 4,0a2.0,2.0 0 1,0 -4,0M608.4,33.18a2.0,2.0 0 1,0 4,0a2.0,2.0 0 1,0 -4,0M609.55,32.64a2.0,2.0 0 1,0 4,0a2.0,2.0 0 1,0 -4,0M610.7,32.77a2.0,2.0 0 1,0 4,0a2.0,2.0 0 1,0 -4,0M611.85,32.88a2.0,2.0 0 1,0 4,0a2.0,2.0 0 1,0 -4,0M613,33.24a2.0,2.0 0 1,0 4,0a2.0,2.0 0 1,0 -4,0M614.16,33.02a2.0,2.0 0 1,0 4,0a2.0,2.0 0 1,0 -4,0M615.31,32.74a2.0,2.0 0 1,0 4,0a2.0,2.0 0 1,0 -4,0M616.46,32.76a2.0,2.0 0 1,0 4,0a2.0,2.0 0 1,0 -4,0M617.61,32.63a2.0,2.0 0 1,0 4,0a2.0,2.0 0 1,0 -4,0M618.76,32.56a2.0,2.0 0 1,0 4,0a2.0,2.0 0 1,0 -4,0M619.92,32.99a2.0,2.0 0 1,0 4,0a2.0,2.0 0 1,0 -4,0M621.07,32.84a2.0,2.0 0 1,0 4,0a2.0,2.0 0 1,0 -4,0M622.22,32.96a2.0,2.0 0 1,0 4,0a2.0,2.0 0 1,0 -4,0M623.37,33.1a2.0,2.0 0 1,0 4,0a2.0,2.0 0 1,0 -4,0M624.52,33.09a2.0,2.0 0 1,0 4,0a2.0,2.0 0 1,0 -4,0M625.68,32.99a2.0,2.0 0 1,0 4,0a2.0,2.0 0 1,0 -4,0M626.83,33.11a2.0,2.0 0 1,0 4,0a2.0,2.0 0 1,0 -4,0M627.98,32.76a2.0,2.0 0 1,0 4,0a2.0,2.0 0 1,0 -4,0M629.13,32.62a2.0,2.0 0 1,0 4,0a2.0,2.0 0 1,0 -4,0M630.28,32.72a2.0,2.0 0 1,0 4,0a2.0,2.0 0 1,0 -4,0M631.44,32.62a2.0,2.0 0 1,0 4,0a2.0,2.0 0 1,0 -4,0M632.59,32.96a2.0,2.0 0 1,0 4,0a2.0,2.0 0 1,0 -4,0M633.74,32.97a2.0,2.0 0 1,0 4,0a2.0,2.0 0 1,0 -4,0M634.89,32.68a2.0,2.0 0 1,0 4,0a2.0,2.0 0 1,0 -4,0M636.04,32.43a2.0,2.0 0 1,0 4,0a2.0,2.0 0 1,0 -4,0M637.2,32.77a2.0,2.0 0 1,0 4,0a2.0,2.0 0 1,0 -4,0M638.35,33.08a2.0,2.0 0 1,0 4,0a2.0,2.0 0 1,0 -4,0M639.5,33.06a2.0,2.0 0 1,0 4,0a2.0,2.0 0 1,0 -4,0M640.65,32.84a2.0,2.0 0 1,0 4,0a2.0,2.0 0 1,0 -4,0M641.8,32.59a2.0,2.0 0 1,0 4,0a2.0,2.0 0 1,0 -4,0M642.96,32.99a2.0,2.0 0 1,0 4,0a2.0,2.0 0 1,0 -4,0M644.11,32.87a2.0,2.0 0 1,0 4,0a2.0,2.0 0 1,0 -4,0M645.26,32.52a2.0,2.0 0 1,0 4,0a2.0,2.0 0 1,0 -4,0M646.41,32.28a2.0,2.0 0 1,0 4,0a2.0,2.0 0 1,0 -4,0M647.56,32.76a2.0,2.0 0 1,0 4,0a2.0,2.0 0 1,0 -4,0M648.72,32.55a2.0,2.0 0 1,0 4,0a2.0,2.0 0 1,0 -4,0M649.87,32.6a2.0,2.0 0 1,0 4,0a2.0,2.0 0 1,0 -4,0M651.02,32.97a2.0,2.0 0 1,0 4,0a2.0,2.0 0 1,0 -4,0M652.17,32.73a2.0,2.0 0 1,0 4,0a2.0,2.0 0 1,0 -4,0M653.32,32.86a2.0,2.0 0 1,0 4,0a2.0,2.0 0 1,0 -4,0M654.48,32.77a2.0,2.0 0 1,0 4,0a2.0,2.0 0 1,0 -4,0M655.63,32.37a2.0,2.0 0 1,0 4,0a2.0,2.0 0 1,0 -4,0M656.78,32.43a2.0,2.0 0 1,0 4,0a2.0,2.0 0 1,0 -4,0M657.93,32.9a2.0,2.0 0 1,0 4,0a2.0,2.0 0 1,0 -4,0M659.08,32.87a2.0,2.0 0 1,0 4,0a2.0,2.0 0 1,0 -4,0M660.24,32.37a2.0,2.0 0 1,0 4,0a2.0,2.0 0 1,0 -4,0M661.39,32.83a2.0,2.0 0 1,0 4,0a2.0,2.0 0 1,0 -4,0M662.54,32.66a2.0,2.0 0 1,0 4,0a2.0,2.0 0 1,0 -4,0M663.69,32.69a2.0,2.0 0 1,0 4,0a2.0,2.0 0 1,0 -4,0" fill="#0d67ae" stroke="none" stroke-width="1"/>
<rect x="497.5" y="16.5" width="173" height="140" fill="none" stroke="#7c7c7c" stroke-width="1.2"/>
<line x1="497.5" y1="156.5" x2="500.5" y2="156.5" stroke="#7c7c7c" stroke-width="1"/>
<line x1="497.5" y1="130.5" x2="500.5" y2="130.5" stroke="#7c7c7c" stroke-width="1"/>
<line x1="497.5" y1="105.5" x2="500.5" y2="105.5" stroke="#7c7c7c" stroke-width="1"/>
<line x1="497.5" y1="80.5" x2="500.5" y2="80.5" stroke="#7c7c7c" stroke-width="1"/>
<line x1="497.5" y1="55.5" x2="500.5" y2="55.5" stroke="#7c7c7c" stroke-width="1"/>
<line x1="497.5" y1="29.5" x2="500.5" y2="29.5" stroke="#7c7c7c" stroke-width="1"/>
<line x1="497.5" y1="147.5" x2="499.5" y2="147.5" stroke="#7c7c7c" stroke-width="1"/>
<line x1="497.5" y1="139.5" x2="499.5" y2="139.5" stroke="#7c7c7c" stroke-width="1"/>
<line x1="497.5" y1="122.5" x2="499.5" y2="122.5" stroke="#7c7c7c" stroke-width="1"/>
<line x1="497.5" y1="114.5" x2="499.5" y2="114.5" stroke="#7c7c7c" stroke-width="1"/>
<line x1="497.5" y1="97.5" x2="499.5" y2="97.5" stroke="#7c7c7c" stroke-width="1"/>
<line x1="497.5" y1="88.5" x2="499.5" y2="88.5" stroke="#7c7c7c" stroke-width="1"/>
<line x1="497.5" y1="71.5" x2="499.5" y2="71.5" stroke="#7c7c7c" stroke-width="1"/>
<line x1="497.5" y1="63.5" x2="499.5" y2="63.5" stroke="#7c7c7c" stroke-width="1"/>
<line x1="497.5" y1="46.5" x2="499.5" y2="46.5" stroke="#7c7c7c" stroke-width="1"/>
<line x1="497.5" y1="38.5" x2="499.5" y2="38.5" stroke="#7c7c7c" stroke-width="1"/>
<line x1="497.5" y1="21.5" x2="499.5" y2="21.5" stroke="#7c7c7c" stroke-width="1"/>
<line x1="497.5" y1="156.5" x2="497.5" y2="153.5" stroke="#7c7c7c" stroke-width="1"/>
<line x1="555.5" y1="156.5" x2="555.5" y2="153.5" stroke="#7c7c7c" stroke-width="1"/>
<line x1="612.5" y1="156.5" x2="612.5" y2="153.5" stroke="#7c7c7c" stroke-width="1"/>
<line x1="670.5" y1="156.5" x2="670.5" y2="153.5" stroke="#7c7c7c" stroke-width="1"/>
<line x1="526.5" y1="156.5" x2="526.5" y2="154.5" stroke="#7c7c7c" stroke-width="1"/>
<line x1="583.5" y1="156.5" x2="583.5" y2="154.5" stroke="#7c7c7c" stroke-width="1"/>
<line x1="641.5" y1="156.5" x2="641.5" y2="154.5" stroke="#7c7c7c" stroke-width="1"/>
<text x="484.3" y="159.55" font-size="12.2" text-anchor="middle" fill="#141414" color="#141414" transform="matrix(1.05 0 0 1 -24.22 0)">0</text>
<text x="483.8" y="135.15" font-size="12.2" text-anchor="middle" fill="#141414" color="#141414" transform="matrix(1.05 0 0 1 -24.19 0)">20</text>
<text x="483.8" y="110.35" font-size="12.2" text-anchor="middle" fill="#141414" color="#141414" transform="matrix(1.05 0 0 1 -24.19 0)">40</text>
<text x="483.8" y="84.85" font-size="12.2" text-anchor="middle" fill="#141414" color="#141414" transform="matrix(1.05 0 0 1 -24.19 0)">60</text>
<text x="485.1" y="59.55" font-size="12.2" text-anchor="middle" fill="#141414" color="#141414" transform="matrix(1.05 0 0 1 -24.25 0)">80</text>
<text x="484.3" y="34.25" font-size="12.2" text-anchor="middle" fill="#141414" color="#141414" transform="matrix(1.05 0 0 1 -24.22 0)">100</text>
<text x="495.1" y="169" font-size="12.2" text-anchor="middle" fill="#141414" color="#141414" transform="matrix(1.05 0 0 1 -24.75 0)">0</text>
<text x="554.9" y="169" font-size="12.2" text-anchor="middle" fill="#141414" color="#141414" transform="matrix(1.05 0 0 1 -27.75 0)">50</text>
<text x="612.8" y="169" font-size="12.2" text-anchor="middle" fill="#141414" color="#141414" transform="matrix(1.05 0 0 1 -30.64 0)">100</text>
<text x="667.2" y="169" font-size="12.2" text-anchor="middle" fill="#141414" color="#141414" transform="matrix(1.05 0 0 1 -33.36 0)">150</text>
<text x="582" y="183" font-size="13.1" text-anchor="middle" font-weight="bold" fill="#141414" color="#141414">Cycle number</text>
<text x="464.4" y="91.35" font-size="13" text-anchor="middle" font-weight="bold" fill="#141414" color="#141414" transform="rotate(-90 464.4 91.35)">Coulombic efficiency (%)</text>
<text x="516.5" y="141.2" font-size="12.8" text-anchor="start" fill="#141414" color="#141414">2 mA·cm<tspan font-size="6.8" dy="-4.6">-2</tspan><tspan dy="4.6">​</tspan> 1 mAh·cm<tspan font-size="6.8" dy="-4.6">-2</tspan><tspan dy="4.6">​</tspan></text>
<text x="447.4" y="9.2" font-size="14.5" text-anchor="start" font-weight="bold" fill="#111" color="#111">c</text>
<polyline points="49.22,326.01 50.93,270.44 52.64,257.48 54.36,215.74 56.08,209.14 57.79,208.26 59.51,207.89 61.22,208.23 62.94,208.24 64.65,208.16 66.36,207.97 68.08,207.57 69.8,207.79 71.51,208.08 73.22,205.89 74.94,206.19 76.66,206.01 78.37,206.15 80.09,205.69 81.8,206.13 83.52,205.79 85.23,205.92 86.94,205.76 88.66,205.94 90.38,205.74 92.09,206.09 93.81,205.89 95.52,205.93 97.23,206 98.95,205.97 100.66,205.99 102.38,206.1 104.09,205.72 105.81,214.62 107.53,209.88 109.24,217.86 110.95,201.91 112.67,273.06" fill="none" stroke="#f7c6b2" stroke-width="1.5" stroke-linejoin="round"/>
<polyline points="49.22,329.5 50.93,288.26 52.64,280.28 54.36,208.64 56.08,212 57.79,207.14 59.51,206.4 61.22,205.71 62.94,205.75 64.65,205.99 66.36,205.77 68.08,205.93 69.8,205.91 71.51,205.8 73.22,205.75 74.94,205.9 76.66,205.89 78.37,205.76 80.09,205.79 81.8,205.82 83.52,205.97 85.23,205.84 86.94,205.7 88.66,205.75 90.38,205.75 92.09,205.6 93.81,205.66 95.52,205.68 97.23,206.01 98.95,205.87 100.66,205.68 102.38,205.94 104.09,205.57 105.81,205.95 107.53,205.58 109.24,205.91 110.95,205.6 112.67,205.6 114.39,205.85 116.1,205.58 117.81,205.94 119.53,205.6 121.25,205.83 122.96,205.8 124.67,205.96 126.39,205.72 128.1,205.89 129.82,205.69 131.53,205.62 133.25,205.72 134.97,206.02 136.68,205.55 138.4,205.56 140.11,205.7 141.82,205.83 143.54,205.74 145.25,205.58 146.97,205.79 148.69,205.63 150.4,205.72 152.12,205.81 153.83,205.56 155.55,205.82 157.26,205.72 158.98,205.99 160.69,205.79 162.41,206 164.12,205.67 165.83,206.02 167.55,206 169.26,205.97 170.98,205.95 172.69,205.77 174.41,205.84 176.12,205.89 177.84,205.53 179.56,205.57 181.27,205.7 182.99,205.62 184.7,205.61 186.42,205.9 188.13,205.62 189.84,205.9 191.56,205.74 193.28,205.84 194.99,205.94 196.71,205.63 198.42,205.56 200.13,205.87 201.85,205.58 203.56,205.85 205.28,205.69 207,205.53 208.71,205.64 210.42,205.99 212.14,205.8 213.85,205.83 215.57,205.87 217.28,205.61 219,205.8" fill="none" stroke="#bcd4ec" stroke-width="1.5" stroke-linejoin="round"/>
<path d="M47.12,326.01a2.1,2.1 0 1,0 4.2,0a2.1,2.1 0 1,0 -4.2,0M48.83,270.44a2.1,2.1 0 1,0 4.2,0a2.1,2.1 0 1,0 -4.2,0M50.54,257.48a2.1,2.1 0 1,0 4.2,0a2.1,2.1 0 1,0 -4.2,0M52.26,215.74a2.1,2.1 0 1,0 4.2,0a2.1,2.1 0 1,0 -4.2,0M53.98,209.14a2.1,2.1 0 1,0 4.2,0a2.1,2.1 0 1,0 -4.2,0M55.69,208.26a2.1,2.1 0 1,0 4.2,0a2.1,2.1 0 1,0 -4.2,0M57.41,207.89a2.1,2.1 0 1,0 4.2,0a2.1,2.1 0 1,0 -4.2,0M59.12,208.23a2.1,2.1 0 1,0 4.2,0a2.1,2.1 0 1,0 -4.2,0M60.84,208.24a2.1,2.1 0 1,0 4.2,0a2.1,2.1 0 1,0 -4.2,0M62.55,208.16a2.1,2.1 0 1,0 4.2,0a2.1,2.1 0 1,0 -4.2,0M64.27,207.97a2.1,2.1 0 1,0 4.2,0a2.1,2.1 0 1,0 -4.2,0M65.98,207.57a2.1,2.1 0 1,0 4.2,0a2.1,2.1 0 1,0 -4.2,0M67.7,207.79a2.1,2.1 0 1,0 4.2,0a2.1,2.1 0 1,0 -4.2,0M69.41,208.08a2.1,2.1 0 1,0 4.2,0a2.1,2.1 0 1,0 -4.2,0M71.12,205.89a2.1,2.1 0 1,0 4.2,0a2.1,2.1 0 1,0 -4.2,0M72.84,206.19a2.1,2.1 0 1,0 4.2,0a2.1,2.1 0 1,0 -4.2,0M74.56,206.01a2.1,2.1 0 1,0 4.2,0a2.1,2.1 0 1,0 -4.2,0M76.27,206.15a2.1,2.1 0 1,0 4.2,0a2.1,2.1 0 1,0 -4.2,0M77.99,205.69a2.1,2.1 0 1,0 4.2,0a2.1,2.1 0 1,0 -4.2,0M79.7,206.13a2.1,2.1 0 1,0 4.2,0a2.1,2.1 0 1,0 -4.2,0M81.42,205.79a2.1,2.1 0 1,0 4.2,0a2.1,2.1 0 1,0 -4.2,0M83.13,205.92a2.1,2.1 0 1,0 4.2,0a2.1,2.1 0 1,0 -4.2,0M84.84,205.76a2.1,2.1 0 1,0 4.2,0a2.1,2.1 0 1,0 -4.2,0M86.56,205.94a2.1,2.1 0 1,0 4.2,0a2.1,2.1 0 1,0 -4.2,0M88.28,205.74a2.1,2.1 0 1,0 4.2,0a2.1,2.1 0 1,0 -4.2,0M89.99,206.09a2.1,2.1 0 1,0 4.2,0a2.1,2.1 0 1,0 -4.2,0M91.71,205.89a2.1,2.1 0 1,0 4.2,0a2.1,2.1 0 1,0 -4.2,0M93.42,205.93a2.1,2.1 0 1,0 4.2,0a2.1,2.1 0 1,0 -4.2,0M95.14,206a2.1,2.1 0 1,0 4.2,0a2.1,2.1 0 1,0 -4.2,0M96.85,205.97a2.1,2.1 0 1,0 4.2,0a2.1,2.1 0 1,0 -4.2,0M98.56,205.99a2.1,2.1 0 1,0 4.2,0a2.1,2.1 0 1,0 -4.2,0M100.28,206.1a2.1,2.1 0 1,0 4.2,0a2.1,2.1 0 1,0 -4.2,0M102,205.72a2.1,2.1 0 1,0 4.2,0a2.1,2.1 0 1,0 -4.2,0M103.71,214.62a2.1,2.1 0 1,0 4.2,0a2.1,2.1 0 1,0 -4.2,0M105.43,209.88a2.1,2.1 0 1,0 4.2,0a2.1,2.1 0 1,0 -4.2,0M107.14,217.86a2.1,2.1 0 1,0 4.2,0a2.1,2.1 0 1,0 -4.2,0M108.86,201.91a2.1,2.1 0 1,0 4.2,0a2.1,2.1 0 1,0 -4.2,0M110.57,273.06a2.1,2.1 0 1,0 4.2,0a2.1,2.1 0 1,0 -4.2,0" fill="#ef8e6a" stroke="none" stroke-width="1"/>
<path d="M47.12,329.5a2.1,2.1 0 1,0 4.2,0a2.1,2.1 0 1,0 -4.2,0M48.83,288.26a2.1,2.1 0 1,0 4.2,0a2.1,2.1 0 1,0 -4.2,0M50.54,280.28a2.1,2.1 0 1,0 4.2,0a2.1,2.1 0 1,0 -4.2,0M52.26,208.64a2.1,2.1 0 1,0 4.2,0a2.1,2.1 0 1,0 -4.2,0M53.98,212a2.1,2.1 0 1,0 4.2,0a2.1,2.1 0 1,0 -4.2,0M55.69,207.14a2.1,2.1 0 1,0 4.2,0a2.1,2.1 0 1,0 -4.2,0M57.41,206.4a2.1,2.1 0 1,0 4.2,0a2.1,2.1 0 1,0 -4.2,0M59.12,205.71a2.1,2.1 0 1,0 4.2,0a2.1,2.1 0 1,0 -4.2,0M60.84,205.75a2.1,2.1 0 1,0 4.2,0a2.1,2.1 0 1,0 -4.2,0M62.55,205.99a2.1,2.1 0 1,0 4.2,0a2.1,2.1 0 1,0 -4.2,0M64.27,205.77a2.1,2.1 0 1,0 4.2,0a2.1,2.1 0 1,0 -4.2,0M65.98,205.93a2.1,2.1 0 1,0 4.2,0a2.1,2.1 0 1,0 -4.2,0M67.7,205.91a2.1,2.1 0 1,0 4.2,0a2.1,2.1 0 1,0 -4.2,0M69.41,205.8a2.1,2.1 0 1,0 4.2,0a2.1,2.1 0 1,0 -4.2,0M71.12,205.75a2.1,2.1 0 1,0 4.2,0a2.1,2.1 0 1,0 -4.2,0M72.84,205.9a2.1,2.1 0 1,0 4.2,0a2.1,2.1 0 1,0 -4.2,0M74.56,205.89a2.1,2.1 0 1,0 4.2,0a2.1,2.1 0 1,0 -4.2,0M76.27,205.76a2.1,2.1 0 1,0 4.2,0a2.1,2.1 0 1,0 -4.2,0M77.99,205.79a2.1,2.1 0 1,0 4.2,0a2.1,2.1 0 1,0 -4.2,0M79.7,205.82a2.1,2.1 0 1,0 4.2,0a2.1,2.1 0 1,0 -4.2,0M81.42,205.97a2.1,2.1 0 1,0 4.2,0a2.1,2.1 0 1,0 -4.2,0M83.13,205.84a2.1,2.1 0 1,0 4.2,0a2.1,2.1 0 1,0 -4.2,0M84.84,205.7a2.1,2.1 0 1,0 4.2,0a2.1,2.1 0 1,0 -4.2,0M86.56,205.75a2.1,2.1 0 1,0 4.2,0a2.1,2.1 0 1,0 -4.2,0M88.28,205.75a2.1,2.1 0 1,0 4.2,0a2.1,2.1 0 1,0 -4.2,0M89.99,205.6a2.1,2.1 0 1,0 4.2,0a2.1,2.1 0 1,0 -4.2,0M91.71,205.66a2.1,2.1 0 1,0 4.2,0a2.1,2.1 0 1,0 -4.2,0M93.42,205.68a2.1,2.1 0 1,0 4.2,0a2.1,2.1 0 1,0 -4.2,0M95.14,206.01a2.1,2.1 0 1,0 4.2,0a2.1,2.1 0 1,0 -4.2,0M96.85,205.87a2.1,2.1 0 1,0 4.2,0a2.1,2.1 0 1,0 -4.2,0M98.56,205.68a2.1,2.1 0 1,0 4.2,0a2.1,2.1 0 1,0 -4.2,0M100.28,205.94a2.1,2.1 0 1,0 4.2,0a2.1,2.1 0 1,0 -4.2,0M102,205.57a2.1,2.1 0 1,0 4.2,0a2.1,2.1 0 1,0 -4.2,0M103.71,205.95a2.1,2.1 0 1,0 4.2,0a2.1,2.1 0 1,0 -4.2,0M105.43,205.58a2.1,2.1 0 1,0 4.2,0a2.1,2.1 0 1,0 -4.2,0M107.14,205.91a2.1,2.1 0 1,0 4.2,0a2.1,2.1 0 1,0 -4.2,0M108.86,205.6a2.1,2.1 0 1,0 4.2,0a2.1,2.1 0 1,0 -4.2,0M110.57,205.6a2.1,2.1 0 1,0 4.2,0a2.1,2.1 0 1,0 -4.2,0M112.29,205.85a2.1,2.1 0 1,0 4.2,0a2.1,2.1 0 1,0 -4.2,0M114,205.58a2.1,2.1 0 1,0 4.2,0a2.1,2.1 0 1,0 -4.2,0M115.72,205.94a2.1,2.1 0 1,0 4.2,0a2.1,2.1 0 1,0 -4.2,0M117.43,205.6a2.1,2.1 0 1,0 4.2,0a2.1,2.1 0 1,0 -4.2,0M119.15,205.83a2.1,2.1 0 1,0 4.2,0a2.1,2.1 0 1,0 -4.2,0M120.86,205.8a2.1,2.1 0 1,0 4.2,0a2.1,2.1 0 1,0 -4.2,0M122.58,205.96a2.1,2.1 0 1,0 4.2,0a2.1,2.1 0 1,0 -4.2,0M124.29,205.72a2.1,2.1 0 1,0 4.2,0a2.1,2.1 0 1,0 -4.2,0M126,205.89a2.1,2.1 0 1,0 4.2,0a2.1,2.1 0 1,0 -4.2,0M127.72,205.69a2.1,2.1 0 1,0 4.2,0a2.1,2.1 0 1,0 -4.2,0M129.44,205.62a2.1,2.1 0 1,0 4.2,0a2.1,2.1 0 1,0 -4.2,0M131.15,205.72a2.1,2.1 0 1,0 4.2,0a2.1,2.1 0 1,0 -4.2,0M132.87,206.02a2.1,2.1 0 1,0 4.2,0a2.1,2.1 0 1,0 -4.2,0M134.58,205.55a2.1,2.1 0 1,0 4.2,0a2.1,2.1 0 1,0 -4.2,0M136.3,205.56a2.1,2.1 0 1,0 4.2,0a2.1,2.1 0 1,0 -4.2,0M138.01,205.7a2.1,2.1 0 1,0 4.2,0a2.1,2.1 0 1,0 -4.2,0M139.72,205.83a2.1,2.1 0 1,0 4.2,0a2.1,2.1 0 1,0 -4.2,0M141.44,205.74a2.1,2.1 0 1,0 4.2,0a2.1,2.1 0 1,0 -4.2,0M143.16,205.58a2.1,2.1 0 1,0 4.2,0a2.1,2.1 0 1,0 -4.2,0M144.87,205.79a2.1,2.1 0 1,0 4.2,0a2.1,2.1 0 1,0 -4.2,0M146.59,205.63a2.1,2.1 0 1,0 4.2,0a2.1,2.1 0 1,0 -4.2,0M148.3,205.72a2.1,2.1 0 1,0 4.2,0a2.1,2.1 0 1,0 -4.2,0M150.02,205.81a2.1,2.1 0 1,0 4.2,0a2.1,2.1 0 1,0 -4.2,0M151.73,205.56a2.1,2.1 0 1,0 4.2,0a2.1,2.1 0 1,0 -4.2,0M153.45,205.82a2.1,2.1 0 1,0 4.2,0a2.1,2.1 0 1,0 -4.2,0M155.16,205.72a2.1,2.1 0 1,0 4.2,0a2.1,2.1 0 1,0 -4.2,0M156.88,205.99a2.1,2.1 0 1,0 4.2,0a2.1,2.1 0 1,0 -4.2,0M158.59,205.79a2.1,2.1 0 1,0 4.2,0a2.1,2.1 0 1,0 -4.2,0M160.31,206a2.1,2.1 0 1,0 4.2,0a2.1,2.1 0 1,0 -4.2,0M162.02,205.67a2.1,2.1 0 1,0 4.2,0a2.1,2.1 0 1,0 -4.2,0M163.73,206.02a2.1,2.1 0 1,0 4.2,0a2.1,2.1 0 1,0 -4.2,0M165.45,206a2.1,2.1 0 1,0 4.2,0a2.1,2.1 0 1,0 -4.2,0M167.16,205.97a2.1,2.1 0 1,0 4.2,0a2.1,2.1 0 1,0 -4.2,0M168.88,205.95a2.1,2.1 0 1,0 4.2,0a2.1,2.1 0 1,0 -4.2,0M170.59,205.77a2.1,2.1 0 1,0 4.2,0a2.1,2.1 0 1,0 -4.2,0M172.31,205.84a2.1,2.1 0 1,0 4.2,0a2.1,2.1 0 1,0 -4.2,0M174.03,205.89a2.1,2.1 0 1,0 4.2,0a2.1,2.1 0 1,0 -4.2,0M175.74,205.53a2.1,2.1 0 1,0 4.2,0a2.1,2.1 0 1,0 -4.2,0M177.46,205.57a2.1,2.1 0 1,0 4.2,0a2.1,2.1 0 1,0 -4.2,0M179.17,205.7a2.1,2.1 0 1,0 4.2,0a2.1,2.1 0 1,0 -4.2,0M180.89,205.62a2.1,2.1 0 1,0 4.2,0a2.1,2.1 0 1,0 -4.2,0M182.6,205.61a2.1,2.1 0 1,0 4.2,0a2.1,2.1 0 1,0 -4.2,0M184.32,205.9a2.1,2.1 0 1,0 4.2,0a2.1,2.1 0 1,0 -4.2,0M186.03,205.62a2.1,2.1 0 1,0 4.2,0a2.1,2.1 0 1,0 -4.2,0M187.75,205.9a2.1,2.1 0 1,0 4.2,0a2.1,2.1 0 1,0 -4.2,0M189.46,205.74a2.1,2.1 0 1,0 4.2,0a2.1,2.1 0 1,0 -4.2,0M191.18,205.84a2.1,2.1 0 1,0 4.2,0a2.1,2.1 0 1,0 -4.2,0M192.89,205.94a2.1,2.1 0 1,0 4.2,0a2.1,2.1 0 1,0 -4.2,0M194.61,205.63a2.1,2.1 0 1,0 4.2,0a2.1,2.1 0 1,0 -4.2,0M196.32,205.56a2.1,2.1 0 1,0 4.2,0a2.1,2.1 0 1,0 -4.2,0M198.03,205.87a2.1,2.1 0 1,0 4.2,0a2.1,2.1 0 1,0 -4.2,0M199.75,205.58a2.1,2.1 0 1,0 4.2,0a2.1,2.1 0 1,0 -4.2,0M201.47,205.85a2.1,2.1 0 1,0 4.2,0a2.1,2.1 0 1,0 -4.2,0M203.18,205.69a2.1,2.1 0 1,0 4.2,0a2.1,2.1 0 1,0 -4.2,0M204.9,205.53a2.1,2.1 0 1,0 4.2,0a2.1,2.1 0 1,0 -4.2,0M206.61,205.64a2.1,2.1 0 1,0 4.2,0a2.1,2.1 0 1,0 -4.2,0M208.32,205.99a2.1,2.1 0 1,0 4.2,0a2.1,2.1 0 1,0 -4.2,0M210.04,205.8a2.1,2.1 0 1,0 4.2,0a2.1,2.1 0 1,0 -4.2,0M211.75,205.83a2.1,2.1 0 1,0 4.2,0a2.1,2.1 0 1,0 -4.2,0M213.47,205.87a2.1,2.1 0 1,0 4.2,0a2.1,2.1 0 1,0 -4.2,0M215.19,205.61a2.1,2.1 0 1,0 4.2,0a2.1,2.1 0 1,0 -4.2,0M216.9,205.8a2.1,2.1 0 1,0 4.2,0a2.1,2.1 0 1,0 -4.2,0" fill="#0d67ae" stroke="none" stroke-width="1"/>
<rect x="48.5" y="192.5" width="171" height="137" fill="none" stroke="#7c7c7c" stroke-width="1.2"/>
<line x1="48.5" y1="329.5" x2="51.5" y2="329.5" stroke="#7c7c7c" stroke-width="1"/>
<line x1="48.5" y1="304.5" x2="51.5" y2="304.5" stroke="#7c7c7c" stroke-width="1"/>
<line x1="48.5" y1="279.5" x2="51.5" y2="279.5" stroke="#7c7c7c" stroke-width="1"/>
<line x1="48.5" y1="254.5" x2="51.5" y2="254.5" stroke="#7c7c7c" stroke-width="1"/>
<line x1="48.5" y1="229.5" x2="51.5" y2="229.5" stroke="#7c7c7c" stroke-width="1"/>
<line x1="48.5" y1="204.5" x2="51.5" y2="204.5" stroke="#7c7c7c" stroke-width="1"/>
<line x1="48.5" y1="321.5" x2="50.5" y2="321.5" stroke="#7c7c7c" stroke-width="1"/>
<line x1="48.5" y1="312.5" x2="50.5" y2="312.5" stroke="#7c7c7c" stroke-width="1"/>
<line x1="48.5" y1="296.5" x2="50.5" y2="296.5" stroke="#7c7c7c" stroke-width="1"/>
<line x1="48.5" y1="287.5" x2="50.5" y2="287.5" stroke="#7c7c7c" stroke-width="1"/>
<line x1="48.5" y1="271.5" x2="50.5" y2="271.5" stroke="#7c7c7c" stroke-width="1"/>
<line x1="48.5" y1="263.5" x2="50.5" y2="263.5" stroke="#7c7c7c" stroke-width="1"/>
<line x1="48.5" y1="246.5" x2="50.5" y2="246.5" stroke="#7c7c7c" stroke-width="1"/>
<line x1="48.5" y1="238.5" x2="50.5" y2="238.5" stroke="#7c7c7c" stroke-width="1"/>
<line x1="48.5" y1="221.5" x2="50.5" y2="221.5" stroke="#7c7c7c" stroke-width="1"/>
<line x1="48.5" y1="213.5" x2="50.5" y2="213.5" stroke="#7c7c7c" stroke-width="1"/>
<line x1="48.5" y1="196.5" x2="50.5" y2="196.5" stroke="#7c7c7c" stroke-width="1"/>
<line x1="47.5" y1="329.5" x2="47.5" y2="326.5" stroke="#7c7c7c" stroke-width="1"/>
<line x1="81.5" y1="329.5" x2="81.5" y2="326.5" stroke="#7c7c7c" stroke-width="1"/>
<line x1="116.5" y1="329.5" x2="116.5" y2="326.5" stroke="#7c7c7c" stroke-width="1"/>
<line x1="150.5" y1="329.5" x2="150.5" y2="326.5" stroke="#7c7c7c" stroke-width="1"/>
<line x1="184.5" y1="329.5" x2="184.5" y2="326.5" stroke="#7c7c7c" stroke-width="1"/>
<line x1="218.5" y1="329.5" x2="218.5" y2="326.5" stroke="#7c7c7c" stroke-width="1"/>
<line x1="64.5" y1="329.5" x2="64.5" y2="327.5" stroke="#7c7c7c" stroke-width="1"/>
<line x1="98.5" y1="329.5" x2="98.5" y2="327.5" stroke="#7c7c7c" stroke-width="1"/>
<line x1="133.5" y1="329.5" x2="133.5" y2="327.5" stroke="#7c7c7c" stroke-width="1"/>
<line x1="167.5" y1="329.5" x2="167.5" y2="327.5" stroke="#7c7c7c" stroke-width="1"/>
<line x1="201.5" y1="329.5" x2="201.5" y2="327.5" stroke="#7c7c7c" stroke-width="1"/>
<text x="38.5" y="334.05" font-size="12.2" text-anchor="middle" fill="#141414" color="#141414" transform="matrix(1.05 0 0 1 -1.93 0)">0</text>
<text x="36.8" y="309.05" font-size="12.2" text-anchor="middle" fill="#141414" color="#141414" transform="matrix(1.05 0 0 1 -1.84 0)">20</text>
<text x="36.8" y="284.25" font-size="12.2" text-anchor="middle" fill="#141414" color="#141414" transform="matrix(1.05 0 0 1 -1.84 0)">40</text>
<text x="36.8" y="259.15" font-size="12.2" text-anchor="middle" fill="#141414" color="#141414" transform="matrix(1.05 0 0 1 -1.84 0)">60</text>
<text x="36.8" y="233.85" font-size="12.2" text-anchor="middle" fill="#141414" color="#141414" transform="matrix(1.05 0 0 1 -1.84 0)">80</text>
<text x="35.6" y="208.45" font-size="12.2" text-anchor="middle" fill="#141414" color="#141414" transform="matrix(1.05 0 0 1 -1.78 0)">100</text>
<text x="82" y="343.9" font-size="12.2" text-anchor="middle" fill="#141414" color="#141414" transform="matrix(1.05 0 0 1 -4.1 0)">20</text>
<text x="115.4" y="343.9" font-size="12.2" text-anchor="middle" fill="#141414" color="#141414" transform="matrix(1.05 0 0 1 -5.77 0)">40</text>
<text x="149.3" y="343.9" font-size="12.2" text-anchor="middle" fill="#141414" color="#141414" transform="matrix(1.05 0 0 1 -7.47 0)">60</text>
<text x="184.6" y="343.9" font-size="12.2" text-anchor="middle" fill="#141414" color="#141414" transform="matrix(1.05 0 0 1 -9.23 0)">80</text>
<text x="218.2" y="343.9" font-size="12.2" text-anchor="middle" fill="#141414" color="#141414" transform="matrix(1.05 0 0 1 -10.91 0)">100</text>
<text x="133.1" y="356.1" font-size="13.1" text-anchor="middle" font-weight="bold" fill="#141414" color="#141414">Cycle number</text>
<text x="21.1" y="259.35" font-size="13" text-anchor="middle" font-weight="bold" fill="#141414" color="#141414" transform="rotate(-90 21.1 259.35)">Coulombic efficiency (%)</text>
<text x="56.5" y="313.4" font-size="12.8" text-anchor="start" fill="#141414" color="#141414">1 mA·cm<tspan font-size="6.8" dy="-4.6">-2</tspan><tspan dy="4.6">​</tspan> 5 mAh·cm<tspan font-size="6.8" dy="-4.6">-2</tspan><tspan dy="4.6">​</tspan></text>
<text x="0.5" y="195.6" font-size="14.5" text-anchor="start" font-weight="bold" fill="#111" color="#111">d</text>
<polyline points="272.2,301.06 272.2,209.06 272.54,261.5" fill="none" stroke="#f2a68a" stroke-width="0.9" stroke-linejoin="round"/>
<polyline points="272.2,264.72 285.83,264.49 306.26,265.18 340.32,265.64 370.98,265.64 376.08,263.8 379.49,260.58 382.9,258.74 386.3,259.2 389.71,258.28 393.11,256.44 399.93,255.98 402.31,254.14 402.99,243.1 403.33,192.5" fill="none" stroke="#eec3b2" stroke-width="1" stroke-linejoin="round"/>
<polyline points="272.2,267.94 279.01,265.18 289.23,266.1 306.26,266.1 340.32,266.1 374.38,266.1 376.08,266.1" fill="none" stroke="#eec3b2" stroke-width="0.8" stroke-linejoin="round"/>
<polyline points="272.2,263.34 273.05,263.37 273.9,263.45 274.75,263.58 275.6,263.74 276.44,263.94 277.29,264.17 278.14,264.42 278.99,264.67 279.84,264.94 280.68,265.21 281.53,265.47 282.38,265.71 283.23,265.94 284.08,266.14 284.92,266.31 285.77,266.44 286.62,266.53 287.47,266.56 288.32,266.56 289.16,266.57 290.01,266.58 290.86,266.6 291.71,266.62 292.56,266.65 293.4,266.68 294.25,266.71 295.1,266.75 295.95,266.79 296.8,266.83 297.65,266.87 298.49,266.92 299.34,266.97 300.19,267.02 301.04,267.08 301.89,267.13 302.73,267.19 303.58,267.24 304.43,267.3 305.28,267.36 306.13,267.41 306.97,267.47 307.82,267.53 308.67,267.58 309.52,267.64 310.37,267.69 311.21,267.74 312.06,267.79 312.91,267.84 313.76,267.89 314.61,267.93 315.46,267.97 316.3,268.01 317.15,268.04 318,268.07 318.85,268.1 319.7,268.12 320.54,268.14 321.39,268.16 322.24,268.17 323.09,268.17 323.94,268.17 324.78,268.17 325.63,268.17 326.48,268.17 327.33,268.17 328.18,268.17 329.02,268.17 329.87,268.18 330.72,268.18 331.57,268.18 332.42,268.18 333.26,268.18 334.11,268.19 334.96,268.19 335.81,268.19 336.66,268.19 337.51,268.2 338.35,268.2 339.2,268.2 340.05,268.2 340.9,268.21 341.75,268.21 342.59,268.21 343.44,268.22 344.29,268.22 345.14,268.23 345.99,268.23 346.83,268.23 347.68,268.24 348.53,268.24 349.38,268.25 350.23,268.25 351.07,268.25 351.92,268.26 352.77,268.26 353.62,268.27 354.47,268.27 355.31,268.27 356.16,268.28 357.01,268.28 357.86,268.29 358.71,268.29 359.56,268.3 360.4,268.3 361.25,268.3 362.1,268.31 362.95,268.31 363.8,268.32 364.64,268.32 365.49,268.33 366.34,268.33 367.19,268.33 368.04,268.34 368.88,268.34 369.73,268.34 370.58,268.35 371.43,268.35 372.28,268.36 373.12,268.36 373.97,268.36 374.82,268.37 375.67,268.37 376.52,268.37 377.36,268.37 378.21,268.38 379.06,268.38 379.91,268.38 380.76,268.38 381.61,268.39 382.45,268.39 383.3,268.39 384.15,268.39 385,268.39 385.85,268.4 386.69,268.4 387.54,268.4 388.39,268.4 389.24,268.4 390.09,268.4 390.93,268.4 391.78,268.4 392.63,268.39 393.48,268.38 394.33,268.37 395.17,268.35 396.02,268.33 396.87,268.3 397.72,268.27 398.57,268.24 399.41,268.21 400.26,268.17 401.11,268.13 401.96,268.09 402.81,268.05 403.66,268.01 404.5,267.97 405.35,267.92 406.2,267.88 407.05,267.84 407.9,267.8 408.74,267.76 409.59,267.72 410.44,267.68 411.29,267.65 412.14,267.61 412.98,267.58 413.83,267.56 414.68,267.53 415.53,267.51 416.38,267.5 417.22,267.49 418.07,267.48 418.92,267.48 419.77,267.45 420.62,267.38 421.46,267.28 422.31,267.15 423.16,267 424.01,266.83 424.86,266.66 425.71,266.47 426.55,266.28 427.4,266.09 428.25,265.91 429.1,265.73 429.95,265.58 430.79,265.44 431.64,265.32 432.49,265.24 433.34,265.19 434.19,265.16 435.03,264.66 435.88,263.73 436.73,262.69 437.58,261.84 438.43,261.5 439.27,257.39 440.12,250.39 440.97,243.46 441.82,192.5" fill="none" stroke="#d4a592" stroke-width="1" stroke-linejoin="round"/>
<polyline points="272.2,264.26 273.05,264.28 273.89,264.34 274.74,264.43 275.58,264.54 276.43,264.69 277.27,264.85 278.12,265.03 278.96,265.22 279.81,265.42 280.65,265.62 281.49,265.83 282.34,266.03 283.18,266.22 284.03,266.4 284.87,266.57 285.72,266.72 286.56,266.84 287.41,266.93 288.25,266.99 289.1,267.02 289.94,267.02 290.79,267.03 291.63,267.04 292.48,267.06 293.32,267.07 294.16,267.1 295.01,267.13 295.85,267.16 296.7,267.19 297.54,267.23 298.39,267.27 299.23,267.31 300.08,267.35 300.92,267.4 301.77,267.44 302.61,267.49 303.46,267.54 304.3,267.59 305.15,267.64 305.99,267.69 306.83,267.74 307.68,267.8 308.52,267.85 309.37,267.9 310.21,267.95 311.06,267.99 311.9,268.04 312.75,268.09 313.59,268.13 314.44,268.17 315.28,268.21 316.13,268.24 316.97,268.28 317.82,268.3 318.66,268.33 319.5,268.35 320.35,268.37 321.19,268.38 322.04,268.39 322.88,268.4 323.73,268.4 324.57,268.4 325.42,268.4 326.26,268.4 327.11,268.4 327.95,268.4 328.8,268.4 329.64,268.41 330.49,268.41 331.33,268.41 332.17,268.41 333.02,268.41 333.86,268.41 334.71,268.42 335.55,268.42 336.4,268.42 337.24,268.42 338.09,268.43 338.93,268.43 339.78,268.43 340.62,268.44 341.47,268.44 342.31,268.44 343.16,268.45 344,268.45 344.84,268.45 345.69,268.46 346.53,268.46 347.38,268.47 348.22,268.47 349.07,268.47 349.91,268.48 350.76,268.48 351.6,268.49 352.45,268.49 353.29,268.49 354.14,268.5 354.98,268.5 355.83,268.51 356.67,268.51 357.51,268.52 358.36,268.52 359.2,268.52 360.05,268.53 360.89,268.53 361.74,268.54 362.58,268.54 363.43,268.55 364.27,268.55 365.12,268.55 365.96,268.56 366.81,268.56 367.65,268.57 368.5,268.57 369.34,268.57 370.19,268.58 371.03,268.58 371.87,268.58 372.72,268.59 373.56,268.59 374.41,268.59 375.25,268.6 376.1,268.6 376.94,268.6 377.79,268.61 378.63,268.61 379.48,268.61 380.32,268.61 381.17,268.62 382.01,268.62 382.86,268.62 383.7,268.62 384.54,268.62 385.39,268.62 386.23,268.63 387.08,268.63 387.92,268.63 388.77,268.63 389.61,268.63 390.46,268.63 391.3,268.63 392.15,268.63 392.99,268.62 393.84,268.61 394.68,268.59 395.53,268.57 396.37,268.55 397.21,268.52 398.06,268.49 398.9,268.46 399.75,268.42 400.59,268.38 401.44,268.34 402.28,268.3 403.13,268.25 403.97,268.21 404.82,268.16 405.66,268.12 406.51,268.07 407.35,268.02 408.2,267.97 409.04,267.93 409.88,267.88 410.73,267.84 411.57,267.79 412.42,267.75 413.26,267.71 414.11,267.67 414.95,267.64 415.8,267.6 416.64,267.58 417.49,267.55 418.33,267.53 419.18,267.51 420.02,267.49 420.87,267.49 421.71,267.48 422.55,267.47 423.4,267.38 424.24,267.24 425.09,267.03 425.93,266.79 426.78,266.51 427.62,266.21 428.47,265.9 429.31,265.58 430.16,265.28 431,264.99 431.85,264.74 432.69,264.53 433.54,264.38 434.38,264.28 435.22,264.22 436.07,263.41 436.91,261.98 437.76,260.47 438.6,259.4 439.45,257.02 440.29,245.06 441.14,192.5" fill="none" stroke="#f2a68a" stroke-width="1" stroke-linejoin="round"/>
<polyline points="272.2,262.42 273.04,262.44 273.87,262.49 274.71,262.56 275.54,262.64 276.38,262.73 277.21,262.8 278.04,262.85 278.88,262.88 279.71,262.93 280.55,263.1 281.38,263.38 282.22,263.74 283.05,264.15 283.89,264.59 284.72,265.04 285.55,265.47 286.39,265.86 287.22,266.19 288.06,266.43 288.89,266.55 289.73,266.56 290.56,266.57 291.4,266.58 292.23,266.59 293.06,266.61 293.9,266.63 294.73,266.66 295.57,266.69 296.4,266.72 297.24,266.75 298.07,266.79 298.91,266.83 299.74,266.87 300.57,266.92 301.41,266.96 302.24,267.01 303.08,267.06 303.91,267.11 304.75,267.16 305.58,267.21 306.42,267.26 307.25,267.31 308.08,267.36 308.92,267.41 309.75,267.46 310.59,267.51 311.42,267.55 312.26,267.6 313.09,267.64 313.93,267.68 314.76,267.72 315.59,267.76 316.43,267.79 317.26,267.83 318.1,267.85 318.93,267.88 319.77,267.9 320.6,267.92 321.44,267.93 322.27,267.94 323.1,267.94 323.94,267.94 324.77,267.94 325.61,267.94 326.44,267.94 327.28,267.94 328.11,267.94 328.95,267.94 329.78,267.95 330.61,267.95 331.45,267.95 332.28,267.95 333.12,267.95 333.95,267.96 334.79,267.96 335.62,267.96 336.46,267.96 337.29,267.97 338.12,267.97 338.96,267.97 339.79,267.97 340.63,267.98 341.46,267.98 342.3,267.98 343.13,267.99 343.97,267.99 344.8,267.99 345.64,268 346.47,268 347.3,268.01 348.14,268.01 348.97,268.01 349.81,268.02 350.64,268.02 351.48,268.03 352.31,268.03 353.15,268.03 353.98,268.04 354.81,268.04 355.65,268.05 356.48,268.05 357.32,268.05 358.15,268.06 358.99,268.06 359.82,268.07 360.66,268.07 361.49,268.08 362.32,268.08 363.16,268.08 363.99,268.09 364.83,268.09 365.66,268.1 366.5,268.1 367.33,268.1 368.17,268.11 369,268.11 369.83,268.12 370.67,268.12 371.5,268.12 372.34,268.13 373.17,268.13 374.01,268.13 374.84,268.14 375.68,268.14 376.51,268.14 377.34,268.14 378.18,268.15 379.01,268.15 379.85,268.15 380.68,268.15 381.52,268.16 382.35,268.16 383.19,268.16 384.02,268.16 384.85,268.16 385.69,268.17 386.52,268.17 387.36,268.17 388.19,268.17 389.03,268.17 389.86,268.17 390.7,268.17 391.53,268.17 392.36,268.17 393.2,268.16 394.03,268.15 394.87,268.14 395.7,268.12 396.54,268.11 397.37,268.09 398.21,268.06 399.04,268.04 399.87,268.01 400.71,267.98 401.54,267.95 402.38,267.92 403.21,267.89 404.05,267.86 404.88,267.83 405.72,267.8 406.55,267.77 407.38,267.74 408.22,267.71 409.05,267.68 409.89,267.65 410.72,267.62 411.56,267.6 412.39,267.57 413.23,267.55 414.06,267.53 414.89,267.52 415.73,267.5 416.56,267.49 417.4,267.48 418.23,267.48 419.07,267.47 419.9,267.43 420.74,267.35 421.57,267.24 422.4,267.11 423.24,266.95 424.07,266.78 424.91,266.61 425.74,266.43 426.58,266.26 427.41,266.09 428.25,265.95 429.08,265.82 429.92,265.73 430.75,265.66 431.58,265.64 432.42,265.36 433.25,264.62 434.09,263.65 434.92,262.67 435.76,261.88 436.59,261.51 437.43,256.24 438.26,248.02 439.09,192.5" fill="none" stroke="#eb7f5c" stroke-width="0.95" stroke-linejoin="round"/>
<polyline points="272.2,300.14 275.61,301.52 282.42,302.44 292.64,301.52 323.29,301.06 374.38,300.83 408.44,300.92 442.5,300.97" fill="none" stroke="#eec3b2" stroke-width="0.9" stroke-linejoin="round"/>
<polyline points="272.2,300.14 273.05,300.22 273.91,300.43 274.76,300.74 275.61,301.11 276.46,301.52 277.31,301.93 278.16,302.3 279.01,302.61 279.87,302.82 280.72,302.9 281.57,302.88 282.42,302.84 283.27,302.76 284.12,302.67 284.98,302.56 285.83,302.45 286.68,302.32 287.53,302.2 288.38,302.09 289.23,301.98 290.08,301.89 290.94,301.81 291.79,301.77 292.64,301.75 293.49,301.75 294.34,301.74 295.19,301.74 296.04,301.73 296.9,301.71 297.75,301.7 298.6,301.68 299.45,301.66 300.3,301.64 301.15,301.62 302,301.6 302.86,301.57 303.71,301.55 304.56,301.52 305.41,301.49 306.26,301.46 307.11,301.43 307.97,301.4 308.82,301.38 309.67,301.35 310.52,301.32 311.37,301.29 312.22,301.26 313.07,301.24 313.93,301.21 314.78,301.19 315.63,301.17 316.48,301.15 317.33,301.13 318.18,301.11 319.03,301.1 319.89,301.08 320.74,301.07 321.59,301.07 322.44,301.06 323.29,301.06 324.14,301.06 325,301.06 325.85,301.06 326.7,301.06 327.55,301.06 328.4,301.05 329.25,301.05 330.1,301.05 330.96,301.05 331.81,301.04 332.66,301.04 333.51,301.04 334.36,301.03 335.21,301.03 336.06,301.02 336.92,301.02 337.77,301.02 338.62,301.01 339.47,301.01 340.32,301 341.17,301 342.02,300.99 342.88,300.98 343.73,300.98 344.58,300.97 345.43,300.97 346.28,300.96 347.13,300.96 347.99,300.95 348.84,300.94 349.69,300.94 350.54,300.93 351.39,300.93 352.24,300.92 353.09,300.92 353.95,300.91 354.8,300.91 355.65,300.9 356.5,300.89 357.35,300.89 358.2,300.88 359.05,300.88 359.91,300.87 360.76,300.87 361.61,300.87 362.46,300.86 363.31,300.86 364.16,300.85 365.01,300.85 365.87,300.85 366.72,300.84 367.57,300.84 368.42,300.84 369.27,300.84 370.12,300.83 370.98,300.83 371.83,300.83 372.68,300.83 373.53,300.83 374.38,300.83 375.23,300.83 376.08,300.83 376.94,300.83 377.79,300.84 378.64,300.84 379.49,300.85 380.34,300.85 381.19,300.86 382.04,300.87 382.9,300.87 383.75,300.88 384.6,300.89 385.45,300.9 386.3,300.91 387.15,300.92 388,300.93 388.86,300.94 389.71,300.94 390.56,300.95 391.41,300.96 392.26,300.97 393.11,300.98 393.97,300.99 394.82,301 395.67,301.01 396.52,301.02 397.37,301.02 398.22,301.03 399.07,301.04 399.93,301.04 400.78,301.05 401.63,301.05 402.48,301.06 403.33,301.06 404.18,301.06 405.03,301.06 405.89,301.07 406.74,301.1 407.59,301.14 408.44,301.2 409.29,301.28 410.14,301.36 411,301.45 411.85,301.55 412.7,301.65 413.55,301.75 414.4,301.85 415.25,301.95 416.1,302.05 416.96,302.14 417.81,302.22 418.66,302.3 419.51,302.36 420.36,302.4 421.21,302.43 422.06,302.44 422.92,302.48 423.77,302.59 424.62,302.78 425.47,303.02 426.32,303.32 427.17,303.66 428.02,304.05 428.88,304.47 429.73,304.91 430.58,305.38 431.43,305.86 432.28,306.35 433.13,306.84 433.99,307.32 434.84,307.79 435.69,308.23 436.54,308.65 437.39,309.04 438.24,309.38 439.09,309.68 439.95,309.92 440.8,310.11 441.65,310.22 442.5,310.26" fill="none" stroke="#d4a592" stroke-width="1" stroke-linejoin="round"/>
<polyline points="272.2,300.6 273.05,300.68 273.91,300.89 274.76,301.2 275.61,301.57 276.46,301.98 277.31,302.39 278.16,302.76 279.01,303.07 279.87,303.28 280.72,303.36 281.57,303.34 282.42,303.28 283.27,303.2 284.12,303.09 284.98,302.96 285.83,302.82 286.68,302.67 287.53,302.52 288.38,302.38 289.23,302.25 290.08,302.14 290.94,302.06 291.79,302 292.64,301.98 293.49,301.98 294.34,301.97 295.19,301.96 296.04,301.95 296.9,301.93 297.75,301.91 298.6,301.89 299.45,301.86 300.3,301.84 301.15,301.81 302,301.77 302.86,301.74 303.71,301.71 304.56,301.67 305.41,301.63 306.26,301.6 307.11,301.56 307.97,301.52 308.82,301.48 309.67,301.44 310.52,301.41 311.37,301.37 312.22,301.33 313.07,301.3 313.93,301.27 314.78,301.23 315.63,301.2 316.48,301.18 317.33,301.15 318.18,301.13 319.03,301.11 319.89,301.09 320.74,301.08 321.59,301.07 322.44,301.06 323.29,301.06 324.14,301.06 325,301.06 325.85,301.06 326.7,301.06 327.55,301.06 328.4,301.05 329.25,301.05 330.1,301.05 330.96,301.05 331.81,301.04 332.66,301.04 333.51,301.04 334.36,301.03 335.21,301.03 336.06,301.02 336.92,301.02 337.77,301.02 338.62,301.01 339.47,301.01 340.32,301 341.17,301 342.02,300.99 342.88,300.98 343.73,300.98 344.58,300.97 345.43,300.97 346.28,300.96 347.13,300.96 347.99,300.95 348.84,300.94 349.69,300.94 350.54,300.93 351.39,300.93 352.24,300.92 353.09,300.92 353.95,300.91 354.8,300.91 355.65,300.9 356.5,300.89 357.35,300.89 358.2,300.88 359.05,300.88 359.91,300.87 360.76,300.87 361.61,300.87 362.46,300.86 363.31,300.86 364.16,300.85 365.01,300.85 365.87,300.85 366.72,300.84 367.57,300.84 368.42,300.84 369.27,300.84 370.12,300.83 370.98,300.83 371.83,300.83 372.68,300.83 373.53,300.83 374.38,300.83 375.23,300.83 376.08,300.84 376.94,300.84 377.79,300.85 378.64,300.87 379.49,300.88 380.34,300.9 381.19,300.92 382.04,300.94 382.9,300.96 383.75,300.98 384.6,301.01 385.45,301.03 386.3,301.06 387.15,301.09 388,301.12 388.86,301.15 389.71,301.18 390.56,301.2 391.41,301.23 392.26,301.26 393.11,301.29 393.97,301.32 394.82,301.34 395.67,301.37 396.52,301.39 397.37,301.41 398.22,301.43 399.07,301.45 399.93,301.47 400.78,301.48 401.63,301.5 402.48,301.51 403.33,301.51 404.18,301.52 405.03,301.52 405.89,301.53 406.74,301.56 407.59,301.6 408.44,301.66 409.29,301.74 410.14,301.82 411,301.91 411.85,302.01 412.7,302.11 413.55,302.21 414.4,302.31 415.25,302.41 416.1,302.51 416.96,302.6 417.81,302.68 418.66,302.76 419.51,302.82 420.36,302.86 421.21,302.89 422.06,302.9 422.92,302.94 423.77,303.06 424.62,303.26 425.47,303.51 426.32,303.83 427.17,304.19 428.02,304.6 428.88,305.05 429.73,305.52 430.58,306.01 431.43,306.52 432.28,307.04 433.13,307.56 433.99,308.07 434.84,308.56 435.69,309.03 436.54,309.48 437.39,309.89 438.24,310.25 439.09,310.57 439.95,310.82 440.8,311.02 441.65,311.14 442.5,311.18" fill="none" stroke="#f2a68a" stroke-width="1" stroke-linejoin="round"/>
<polyline points="272.2,300.14 273.05,300.2 273.91,300.37 274.76,300.63 275.61,300.94 276.46,301.3 277.31,301.67 278.16,302.03 279.01,302.35 279.87,302.62 280.72,302.81 281.57,302.9 282.42,302.89 283.27,302.84 284.12,302.76 284.98,302.66 285.83,302.54 286.68,302.41 287.53,302.27 288.38,302.14 289.23,302.02 290.08,301.91 290.94,301.83 291.79,301.77 292.64,301.75 293.49,301.75 294.34,301.74 295.19,301.74 296.04,301.73 296.9,301.72 297.75,301.71 298.6,301.69 299.45,301.67 300.3,301.66 301.15,301.64 302,301.62 302.86,301.59 303.71,301.57 304.56,301.55 305.41,301.53 306.26,301.5 307.11,301.48 307.97,301.45 308.82,301.43 309.67,301.4 310.52,301.38 311.37,301.35 312.22,301.33 313.07,301.31 313.93,301.29 314.78,301.26 315.63,301.25 316.48,301.23 317.33,301.21 318.18,301.2 319.03,301.18 319.89,301.17 320.74,301.16 321.59,301.16 322.44,301.15 323.29,301.15 324.14,301.15 325,301.15 325.85,301.15 326.7,301.15 327.55,301.15 328.4,301.15 329.25,301.15 330.1,301.15 330.96,301.15 331.81,301.15 332.66,301.14 333.51,301.14 334.36,301.14 335.21,301.14 336.06,301.14 336.92,301.14 337.77,301.13 338.62,301.13 339.47,301.13 340.32,301.13 341.17,301.13 342.02,301.12 342.88,301.12 343.73,301.12 344.58,301.12 345.43,301.12 346.28,301.11 347.13,301.11 347.99,301.11 348.84,301.11 349.69,301.1 350.54,301.1 351.39,301.1 352.24,301.1 353.09,301.09 353.95,301.09 354.8,301.09 355.65,301.09 356.5,301.09 357.35,301.08 358.2,301.08 359.05,301.08 359.91,301.08 360.76,301.08 361.61,301.07 362.46,301.07 363.31,301.07 364.16,301.07 365.01,301.07 365.87,301.07 366.72,301.07 367.57,301.06 368.42,301.06 369.27,301.06 370.12,301.06 370.98,301.06 371.83,301.06 372.68,301.06 373.53,301.06 374.38,301.06 375.23,301.06 376.08,301.07 376.94,301.08 377.79,301.09 378.64,301.11 379.49,301.12 380.34,301.14 381.19,301.17 382.04,301.19 382.9,301.22 383.75,301.25 384.6,301.28 385.45,301.31 386.3,301.34 387.15,301.37 388,301.4 388.86,301.44 389.71,301.47 390.56,301.5 391.41,301.53 392.26,301.56 393.11,301.59 393.97,301.62 394.82,301.64 395.67,301.67 396.52,301.69 397.37,301.7 398.22,301.72 399.07,301.73 399.93,301.74 400.78,301.75 401.63,301.75 402.48,301.78 403.33,301.85 404.18,301.96 405.03,302.11 405.89,302.29 406.74,302.5 407.59,302.72 408.44,302.96 409.29,303.22 410.14,303.48 411,303.73 411.85,303.99 412.7,304.23 413.55,304.45 414.4,304.66 415.25,304.84 416.1,304.99 416.96,305.1 417.81,305.17 418.66,305.2 419.51,305.27 420.36,305.46 421.21,305.75 422.06,306.13 422.92,306.59 423.77,307.09 424.62,307.63 425.47,308.19 426.32,308.75 427.17,309.29 428.02,309.79 428.88,310.25 429.73,310.63 430.58,310.92 431.43,311.11 432.28,311.18 433.13,311.29 433.99,311.59 434.84,312.04 435.69,312.61 436.54,313.26 437.39,313.94 438.24,314.62 439.09,315.27 439.95,315.84 440.8,316.29 441.65,316.59 442.5,316.7" fill="none" stroke="#eb7f5c" stroke-width="0.95" stroke-linejoin="round"/>
<rect x="270.5" y="192.5" width="172" height="138" fill="none" stroke="#727272" stroke-width="1.2"/>
<line x1="270.5" y1="330.5" x2="273.5" y2="330.5" stroke="#727272" stroke-width="1"/>
<line x1="270.5" y1="307.5" x2="273.5" y2="307.5" stroke="#727272" stroke-width="1"/>
<line x1="270.5" y1="284.5" x2="273.5" y2="284.5" stroke="#727272" stroke-width="1"/>
<line x1="270.5" y1="261.5" x2="273.5" y2="261.5" stroke="#727272" stroke-width="1"/>
<line x1="270.5" y1="238.5" x2="273.5" y2="238.5" stroke="#727272" stroke-width="1"/>
<line x1="270.5" y1="215.5" x2="273.5" y2="215.5" stroke="#727272" stroke-width="1"/>
<line x1="270.5" y1="192.5" x2="273.5" y2="192.5" stroke="#727272" stroke-width="1"/>
<line x1="270.5" y1="318.5" x2="272.5" y2="318.5" stroke="#727272" stroke-width="1"/>
<line x1="270.5" y1="296.5" x2="272.5" y2="296.5" stroke="#727272" stroke-width="1"/>
<line x1="270.5" y1="272.5" x2="272.5" y2="272.5" stroke="#727272" stroke-width="1"/>
<line x1="270.5" y1="250.5" x2="272.5" y2="250.5" stroke="#727272" stroke-width="1"/>
<line x1="270.5" y1="226.5" x2="272.5" y2="226.5" stroke="#727272" stroke-width="1"/>
<line x1="270.5" y1="204.5" x2="272.5" y2="204.5" stroke="#727272" stroke-width="1"/>
<text x="266.8" y="199.45" font-size="12.5" text-anchor="end" fill="#141414" color="#141414">0.20</text>
<text x="266.8" y="222.05" font-size="12.5" text-anchor="end" fill="#141414" color="#141414">0.15</text>
<text x="266.8" y="243.95" font-size="12.5" text-anchor="end" fill="#141414" color="#141414">0.10</text>
<text x="266.8" y="266.75" font-size="12.5" text-anchor="end" fill="#141414" color="#141414">0.05</text>
<text x="266.8" y="289.35" font-size="12.5" text-anchor="end" fill="#141414" color="#141414">0.00</text>
<text x="266.8" y="311.75" font-size="12.5" text-anchor="end" fill="#141414" color="#141414">− 0.05</text>
<text x="266.8" y="337.65" font-size="12.5" text-anchor="end" fill="#141414" color="#141414">− 0.10</text>
<line x1="272.5" y1="330.5" x2="272.5" y2="327.5" stroke="#727272" stroke-width="1"/>
<line x1="306.5" y1="330.5" x2="306.5" y2="327.5" stroke="#727272" stroke-width="1"/>
<line x1="340.5" y1="330.5" x2="340.5" y2="327.5" stroke="#727272" stroke-width="1"/>
<line x1="374.5" y1="330.5" x2="374.5" y2="327.5" stroke="#727272" stroke-width="1"/>
<line x1="408.5" y1="330.5" x2="408.5" y2="327.5" stroke="#727272" stroke-width="1"/>
<line x1="442.5" y1="330.5" x2="442.5" y2="327.5" stroke="#727272" stroke-width="1"/>
<line x1="289.5" y1="330.5" x2="289.5" y2="328.5" stroke="#727272" stroke-width="1"/>
<line x1="323.5" y1="330.5" x2="323.5" y2="328.5" stroke="#727272" stroke-width="1"/>
<line x1="357.5" y1="330.5" x2="357.5" y2="328.5" stroke="#727272" stroke-width="1"/>
<line x1="391.5" y1="330.5" x2="391.5" y2="328.5" stroke="#727272" stroke-width="1"/>
<line x1="425.5" y1="330.5" x2="425.5" y2="328.5" stroke="#727272" stroke-width="1"/>
<text x="274" y="345.3" font-size="12.5" text-anchor="middle" fill="#141414" color="#141414">0</text>
<text x="308.06" y="345.3" font-size="12.5" text-anchor="middle" fill="#141414" color="#141414">1</text>
<text x="342.12" y="345.3" font-size="12.5" text-anchor="middle" fill="#141414" color="#141414">2</text>
<text x="376.18" y="345.3" font-size="12.5" text-anchor="middle" fill="#141414" color="#141414">3</text>
<text x="410.24" y="345.3" font-size="12.5" text-anchor="middle" fill="#141414" color="#141414">4</text>
<text x="444.3" y="345.3" font-size="12.5" text-anchor="middle" fill="#141414" color="#141414">5</text>
<text x="374.3" y="358.4" font-size="13" text-anchor="middle" font-weight="bold" fill="#141414" color="#141414">Capacity (mAh·cm<tspan font-size="8" dy="-4.5">-2</tspan><tspan dy="4.5">)</tspan></text>
<text x="231.8" y="256.9" font-size="12.85" text-anchor="middle" font-weight="bold" fill="#141414" color="#141414" transform="rotate(-90 231.8 256.9)">Voltage (V vs.Li<tspan font-size="8" dy="-4.5">+</tspan><tspan dy="4.5">/Li)</tspan></text>
<line x1="304" y1="200" x2="318.5" y2="200" stroke="#eb7f5c" stroke-width="0.9"/>
<line x1="304" y1="212" x2="318.5" y2="212" stroke="#f2a68a" stroke-width="0.9"/>
<line x1="347.4" y1="200" x2="361.3" y2="200" stroke="#d4a592" stroke-width="0.9"/>
<line x1="347.4" y1="212" x2="361.3" y2="212" stroke="#eec3b2" stroke-width="0.9"/>
<text x="321.5" y="204.2" font-size="12.2" text-anchor="start" fill="#141414" color="#141414">10th</text>
<text x="321.5" y="216.2" font-size="12.2" text-anchor="start" fill="#141414" color="#141414">20th</text>
<text x="364" y="204.2" font-size="12.2" text-anchor="start" fill="#141414" color="#141414">30th</text>
<text x="364" y="216.2" font-size="12.2" text-anchor="start" fill="#141414" color="#141414">40th</text>
<text x="219.3" y="193" font-size="14.5" text-anchor="start" font-weight="bold" fill="#111" color="#111">e</text>
<polyline points="501.2,294.26 501.03,249.71 501.54,275.1 502.22,276.02" fill="none" stroke="#5cc0e0" stroke-width="1.1" stroke-linejoin="round"/>
<polyline points="502.22,275.33 502.78,275.33 503.34,275.34 503.9,275.34 504.46,275.36 505.02,275.37 505.57,275.38 506.13,275.4 506.69,275.42 507.25,275.44 507.81,275.46 508.37,275.48 508.92,275.51 509.48,275.53 510.04,275.55 510.6,275.58 511.16,275.6 511.71,275.63 512.27,275.65 512.83,275.67 513.39,275.69 513.95,275.71 514.51,275.73 515.06,275.75 515.62,275.76 516.18,275.77 516.74,275.78 517.3,275.79 517.86,275.79 518.41,275.79 518.97,275.79 519.53,275.8 520.09,275.8 520.65,275.8 521.2,275.81 521.76,275.81 522.32,275.82 522.88,275.83 523.44,275.84 524,275.85 524.55,275.86 525.11,275.87 525.67,275.88 526.23,275.89 526.79,275.9 527.35,275.91 527.9,275.93 528.46,275.94 529.02,275.96 529.58,275.97 530.14,275.99 530.69,276 531.25,276.02 531.81,276.03 532.37,276.05 532.93,276.07 533.49,276.08 534.04,276.1 534.6,276.12 535.16,276.14 535.72,276.15 536.28,276.17 536.84,276.19 537.39,276.2 537.95,276.22 538.51,276.24 539.07,276.25 539.63,276.27 540.18,276.28 540.74,276.3 541.3,276.32 541.86,276.33 542.42,276.34 542.98,276.36 543.53,276.37 544.09,276.38 544.65,276.4 545.21,276.41 545.77,276.42 546.33,276.43 546.88,276.44 547.44,276.45 548,276.45 548.56,276.46 549.12,276.47 549.67,276.47 550.23,276.48 550.79,276.48 551.35,276.48 551.91,276.48 552.47,276.49 553.02,276.49 553.58,276.49 554.14,276.49 554.7,276.49 555.26,276.49 555.82,276.49 556.37,276.49 556.93,276.49 557.49,276.49 558.05,276.5 558.61,276.5 559.16,276.5 559.72,276.5 560.28,276.51 560.84,276.51 561.4,276.51 561.96,276.52 562.51,276.52 563.07,276.52 563.63,276.53 564.19,276.53 564.75,276.53 565.31,276.54 565.86,276.54 566.42,276.55 566.98,276.55 567.54,276.55 568.1,276.56 568.65,276.56 569.21,276.57 569.77,276.57 570.33,276.58 570.89,276.58 571.45,276.59 572,276.59 572.56,276.6 573.12,276.6 573.68,276.61 574.24,276.61 574.8,276.62 575.35,276.62 575.91,276.63 576.47,276.63 577.03,276.64 577.59,276.64 578.14,276.65 578.7,276.65 579.26,276.66 579.82,276.67 580.38,276.67 580.94,276.68 581.49,276.68 582.05,276.69 582.61,276.69 583.17,276.7 583.73,276.7 584.29,276.71 584.84,276.71 585.4,276.72 585.96,276.72 586.52,276.73 587.08,276.73 587.63,276.73 588.19,276.74 588.75,276.74 589.31,276.75 589.87,276.75 590.43,276.76 590.98,276.76 591.54,276.76 592.1,276.77 592.66,276.77 593.22,276.77 593.78,276.78 594.33,276.78 594.89,276.78 595.45,276.79 596.01,276.79 596.57,276.79 597.12,276.79 597.68,276.8 598.24,276.8 598.8,276.8 599.36,276.8 599.92,276.8 600.47,276.81 601.03,276.81 601.59,276.81 602.15,276.81 602.71,276.81 603.27,276.81 603.82,276.81 604.38,276.81 604.94,276.81 605.5,276.8 606.06,276.8 606.61,276.8 607.17,276.8 607.73,276.79 608.29,276.79 608.85,276.79 609.41,276.78 609.96,276.78 610.52,276.77 611.08,276.77 611.64,276.76 612.2,276.75 612.76,276.75 613.31,276.74 613.87,276.74 614.43,276.73 614.99,276.72 615.55,276.71 616.1,276.71 616.66,276.7 617.22,276.69 617.78,276.68 618.34,276.68 618.9,276.67 619.45,276.66 620.01,276.65 620.57,276.64 621.13,276.64 621.69,276.63 622.24,276.62 622.8,276.61 623.36,276.61 623.92,276.6 624.48,276.59 625.04,276.58 625.59,276.58 626.15,276.57 626.71,276.56 627.27,276.55 627.83,276.55 628.39,276.54 628.94,276.54 629.5,276.53 630.06,276.52 630.62,276.52 631.18,276.51 631.73,276.51 632.29,276.5 632.85,276.5 633.41,276.5 633.97,276.49 634.53,276.49 635.08,276.49 635.64,276.49 636.2,276.49 636.76,276.49 637.32,276.49 637.88,276.48 638.43,276.48 638.99,276.47 639.55,276.46 640.11,276.44 640.67,276.42 641.22,276.4 641.78,276.37 642.34,276.35 642.9,276.32 643.46,276.29 644.02,276.25 644.57,276.22 645.13,276.19 645.69,276.15 646.25,276.12 646.81,276.09 647.37,276.05 647.92,276.02 648.48,275.99 649.04,275.96 649.6,275.93 650.16,275.9 650.71,275.88 651.27,275.86 651.83,275.84 652.39,275.82 652.95,275.81 653.51,275.8 654.06,275.79 654.62,275.79 655.18,275.76 655.74,275.68 656.3,275.57 656.86,275.44 657.41,275.28 657.97,275.11 658.53,274.93 659.09,274.75 659.65,274.57 660.2,274.41 660.76,274.26 661.32,274.13 661.88,274.03 662.44,273.97 663,273.95 663.55,273.73 664.11,273.19 664.67,272.47 665.23,271.71 665.79,271.03 666.35,270.59 666.9,269.88 667.46,262.81 668.02,256.75 668.58,242.46 669.14,210.1 669.69,192" fill="none" stroke="#5fb2d7" stroke-width="1.0" stroke-linejoin="round"/>
<polyline points="501.88,293.57 502.73,293.55 503.58,293.49 504.43,293.4 505.28,293.3 506.12,293.18 506.97,293.06 507.82,292.94 508.67,292.83 509.52,292.74 510.36,292.67 511.21,292.64 512.06,292.64 512.91,292.64 513.76,292.63 514.61,292.62 515.45,292.6 516.3,292.58 517.15,292.56 518,292.54 518.85,292.51 519.69,292.48 520.54,292.45 521.39,292.42 522.24,292.38 523.09,292.34 523.93,292.3 524.78,292.26 525.63,292.22 526.48,292.18 527.33,292.13 528.17,292.09 529.02,292.04 529.87,291.99 530.72,291.95 531.57,291.9 532.42,291.85 533.26,291.8 534.11,291.76 534.96,291.71 535.81,291.66 536.66,291.62 537.5,291.57 538.35,291.53 539.2,291.49 540.05,291.45 540.9,291.41 541.74,291.37 542.59,291.34 543.44,291.3 544.29,291.27 545.14,291.24 545.98,291.22 546.83,291.19 547.68,291.17 548.53,291.16 549.38,291.14 550.22,291.13 551.07,291.12 551.92,291.12 552.77,291.12 553.62,291.12 554.47,291.12 555.31,291.12 556.16,291.11 557.01,291.11 557.86,291.11 558.71,291.11 559.55,291.1 560.4,291.1 561.25,291.09 562.1,291.09 562.95,291.08 563.79,291.08 564.64,291.07 565.49,291.07 566.34,291.06 567.19,291.05 568.03,291.05 568.88,291.04 569.73,291.03 570.58,291.03 571.43,291.02 572.27,291.01 573.12,291 573.97,290.99 574.82,290.99 575.67,290.98 576.52,290.97 577.36,290.96 578.21,290.95 579.06,290.95 579.91,290.94 580.76,290.93 581.6,290.92 582.45,290.91 583.3,290.91 584.15,290.9 585,290.89 585.84,290.88 586.69,290.88 587.54,290.87 588.39,290.86 589.24,290.86 590.08,290.85 590.93,290.84 591.78,290.84 592.63,290.83 593.48,290.83 594.32,290.82 595.17,290.82 596.02,290.81 596.87,290.81 597.72,290.81 598.57,290.8 599.41,290.8 600.26,290.8 601.11,290.8 601.96,290.8 602.81,290.8 603.65,290.8 604.5,290.8 605.35,290.8 606.2,290.81 607.05,290.81 607.89,290.82 608.74,290.83 609.59,290.84 610.44,290.85 611.29,290.86 612.13,290.87 612.98,290.89 613.83,290.9 614.68,290.92 615.53,290.93 616.37,290.95 617.22,290.96 618.07,290.98 618.92,291 619.77,291.01 620.62,291.03 621.46,291.05 622.31,291.07 623.16,291.08 624.01,291.1 624.86,291.12 625.7,291.13 626.55,291.15 627.4,291.16 628.25,291.18 629.1,291.19 629.94,291.2 630.79,291.21 631.64,291.22 632.49,291.23 633.34,291.24 634.18,291.25 635.03,291.25 635.88,291.26 636.73,291.26 637.58,291.26 638.42,291.27 639.27,291.3 640.12,291.35 640.97,291.41 641.82,291.49 642.67,291.57 643.51,291.66 644.36,291.76 645.21,291.86 646.06,291.96 646.91,292.07 647.75,292.17 648.6,292.26 649.45,292.35 650.3,292.43 651.15,292.51 651.99,292.56 652.84,292.61 653.69,292.63 654.54,292.64 655.39,292.67 656.23,292.75 657.08,292.88 657.93,293.04 658.78,293.23 659.63,293.45 660.47,293.7 661.32,293.96 662.17,294.23 663.02,294.5 663.87,294.78 664.72,295.05 665.56,295.3 666.41,295.54 667.26,295.76 668.11,295.96 668.96,296.11 669.8,296.23 670.65,296.31 671.5,296.34" fill="none" stroke="#5fb2d7" stroke-width="1.0" stroke-linejoin="round"/>
<polyline points="502.22,275.47 502.78,275.47 503.34,275.48 503.9,275.48 504.46,275.49 505.01,275.51 505.57,275.52 506.13,275.54 506.69,275.56 507.25,275.58 507.8,275.6 508.36,275.62 508.92,275.64 509.48,275.67 510.04,275.69 510.59,275.72 511.15,275.74 511.71,275.76 512.27,275.79 512.82,275.81 513.38,275.83 513.94,275.85 514.5,275.87 515.06,275.88 515.61,275.9 516.17,275.91 516.73,275.92 517.29,275.93 517.85,275.93 518.4,275.93 518.96,275.93 519.52,275.93 520.08,275.94 520.64,275.94 521.19,275.95 521.75,275.95 522.31,275.96 522.87,275.97 523.42,275.97 523.98,275.98 524.54,275.99 525.1,276 525.66,276.02 526.21,276.03 526.77,276.04 527.33,276.05 527.89,276.07 528.45,276.08 529,276.09 529.56,276.11 530.12,276.13 530.68,276.14 531.24,276.16 531.79,276.17 532.35,276.19 532.91,276.21 533.47,276.22 534.02,276.24 534.58,276.26 535.14,276.27 535.7,276.29 536.26,276.31 536.81,276.32 537.37,276.34 537.93,276.36 538.49,276.37 539.05,276.39 539.6,276.41 540.16,276.42 540.72,276.44 541.28,276.45 541.84,276.47 542.39,276.48 542.95,276.5 543.51,276.51 544.07,276.52 544.62,276.53 545.18,276.55 545.74,276.56 546.3,276.57 546.86,276.58 547.41,276.58 547.97,276.59 548.53,276.6 549.09,276.61 549.65,276.61 550.2,276.62 550.76,276.62 551.32,276.62 551.88,276.62 552.44,276.62 552.99,276.62 553.55,276.62 554.11,276.62 554.67,276.63 555.22,276.63 555.78,276.63 556.34,276.63 556.9,276.63 557.46,276.63 558.01,276.63 558.57,276.64 559.13,276.64 559.69,276.64 560.25,276.64 560.8,276.65 561.36,276.65 561.92,276.65 562.48,276.66 563.04,276.66 563.59,276.66 564.15,276.67 564.71,276.67 565.27,276.68 565.82,276.68 566.38,276.68 566.94,276.69 567.5,276.69 568.06,276.7 568.61,276.7 569.17,276.71 569.73,276.71 570.29,276.72 570.85,276.72 571.4,276.73 571.96,276.73 572.52,276.74 573.08,276.74 573.64,276.75 574.19,276.75 574.75,276.76 575.31,276.76 575.87,276.77 576.42,276.77 576.98,276.78 577.54,276.78 578.1,276.79 578.66,276.79 579.21,276.8 579.77,276.8 580.33,276.81 580.89,276.81 581.45,276.82 582,276.82 582.56,276.83 583.12,276.83 583.68,276.84 584.24,276.84 584.79,276.85 585.35,276.85 585.91,276.86 586.47,276.86 587.02,276.87 587.58,276.87 588.14,276.88 588.7,276.88 589.26,276.89 589.81,276.89 590.37,276.89 590.93,276.9 591.49,276.9 592.05,276.91 592.6,276.91 593.16,276.91 593.72,276.92 594.28,276.92 594.84,276.92 595.39,276.93 595.95,276.93 596.51,276.93 597.07,276.93 597.62,276.94 598.18,276.94 598.74,276.94 599.3,276.94 599.86,276.94 600.41,276.94 600.97,276.94 601.53,276.95 602.09,276.95 602.65,276.95 603.2,276.95 603.76,276.95 604.32,276.95 604.88,276.94 605.43,276.94 605.99,276.94 606.55,276.94 607.11,276.94 607.67,276.93 608.22,276.93 608.78,276.92 609.34,276.92 609.9,276.92 610.46,276.91 611.01,276.91 611.57,276.9 612.13,276.89 612.69,276.89 613.25,276.88 613.8,276.87 614.36,276.87 614.92,276.86 615.48,276.85 616.03,276.85 616.59,276.84 617.15,276.83 617.71,276.82 618.27,276.82 618.82,276.81 619.38,276.8 619.94,276.79 620.5,276.78 621.06,276.78 621.61,276.77 622.17,276.76 622.73,276.75 623.29,276.74 623.85,276.74 624.4,276.73 624.96,276.72 625.52,276.71 626.08,276.71 626.63,276.7 627.19,276.69 627.75,276.69 628.31,276.68 628.87,276.67 629.42,276.67 629.98,276.66 630.54,276.66 631.1,276.65 631.66,276.65 632.21,276.64 632.77,276.64 633.33,276.64 633.89,276.63 634.45,276.63 635,276.63 635.56,276.63 636.12,276.62 636.68,276.62 637.23,276.62 637.79,276.62 638.35,276.62 638.91,276.61 639.47,276.6 640.02,276.58 640.58,276.56 641.14,276.54 641.7,276.52 642.26,276.49 642.81,276.46 643.37,276.43 643.93,276.4 644.49,276.37 645.05,276.33 645.6,276.3 646.16,276.26 646.72,276.23 647.28,276.2 647.83,276.16 648.39,276.13 648.95,276.1 649.51,276.07 650.07,276.05 650.62,276.02 651.18,276 651.74,275.98 652.3,275.96 652.86,275.95 653.41,275.94 653.97,275.93 654.53,275.93 655.09,275.9 655.65,275.84 656.2,275.73 656.76,275.6 657.32,275.45 657.88,275.28 658.43,275.1 658.99,274.92 659.55,274.74 660.11,274.57 660.67,274.42 661.22,274.29 661.78,274.18 662.34,274.11 662.9,274.08 663.46,273.93 664.01,273.42 664.57,272.69 665.13,271.9 665.69,271.17 666.25,270.65 666.8,270.37 667.36,264.35 667.92,257.26 668.48,246.13 669.03,212.2 669.59,192" fill="none" stroke="#1a84bb" stroke-width="1.0" stroke-linejoin="round"/>
<polyline points="501.88,293.71 502.73,293.68 503.58,293.63 504.43,293.54 505.28,293.44 506.12,293.32 506.97,293.2 507.82,293.08 508.67,292.97 509.52,292.88 510.36,292.81 511.21,292.78 512.06,292.78 512.91,292.78 513.76,292.77 514.61,292.76 515.45,292.74 516.3,292.72 517.15,292.7 518,292.68 518.85,292.65 519.69,292.62 520.54,292.59 521.39,292.55 522.24,292.52 523.09,292.48 523.93,292.44 524.78,292.4 525.63,292.36 526.48,292.31 527.33,292.27 528.17,292.22 529.02,292.18 529.87,292.13 530.72,292.08 531.57,292.04 532.42,291.99 533.26,291.94 534.11,291.89 534.96,291.85 535.81,291.8 536.66,291.76 537.5,291.71 538.35,291.67 539.2,291.63 540.05,291.59 540.9,291.55 541.74,291.51 542.59,291.48 543.44,291.44 544.29,291.41 545.14,291.38 545.98,291.36 546.83,291.33 547.68,291.31 548.53,291.29 549.38,291.28 550.22,291.27 551.07,291.26 551.92,291.26 552.77,291.26 553.62,291.26 554.47,291.26 555.31,291.26 556.16,291.25 557.01,291.25 557.86,291.25 558.71,291.24 559.55,291.24 560.4,291.24 561.25,291.23 562.1,291.23 562.95,291.22 563.79,291.22 564.64,291.21 565.49,291.2 566.34,291.2 567.19,291.19 568.03,291.19 568.88,291.18 569.73,291.17 570.58,291.16 571.43,291.16 572.27,291.15 573.12,291.14 573.97,291.13 574.82,291.13 575.67,291.12 576.52,291.11 577.36,291.1 578.21,291.09 579.06,291.09 579.91,291.08 580.76,291.07 581.6,291.06 582.45,291.05 583.3,291.05 584.15,291.04 585,291.03 585.84,291.02 586.69,291.02 587.54,291.01 588.39,291 589.24,291 590.08,290.99 590.93,290.98 591.78,290.98 592.63,290.97 593.48,290.97 594.32,290.96 595.17,290.96 596.02,290.95 596.87,290.95 597.72,290.95 598.57,290.94 599.41,290.94 600.26,290.94 601.11,290.94 601.96,290.94 602.81,290.94 603.65,290.94 604.5,290.94 605.35,290.94 606.2,290.94 607.05,290.95 607.89,290.96 608.74,290.97 609.59,290.98 610.44,290.99 611.29,291 612.13,291.01 612.98,291.02 613.83,291.04 614.68,291.05 615.53,291.07 616.37,291.09 617.22,291.1 618.07,291.12 618.92,291.14 619.77,291.15 620.62,291.17 621.46,291.19 622.31,291.2 623.16,291.22 624.01,291.24 624.86,291.25 625.7,291.27 626.55,291.29 627.4,291.3 628.25,291.31 629.1,291.33 629.94,291.34 630.79,291.35 631.64,291.36 632.49,291.37 633.34,291.38 634.18,291.38 635.03,291.39 635.88,291.39 636.73,291.4 637.58,291.4 638.42,291.41 639.27,291.44 640.12,291.49 640.97,291.55 641.82,291.62 642.67,291.71 643.51,291.8 644.36,291.9 645.21,292 646.06,292.1 646.91,292.2 647.75,292.31 648.6,292.4 649.45,292.49 650.3,292.57 651.15,292.64 651.99,292.7 652.84,292.75 653.69,292.77 654.54,292.78 655.39,292.81 656.23,292.89 657.08,293.02 657.93,293.18 658.78,293.37 659.63,293.59 660.47,293.84 661.32,294.09 662.17,294.36 663.02,294.64 663.87,294.91 664.72,295.18 665.56,295.44 666.41,295.68 667.26,295.9 668.11,296.09 668.96,296.25 669.8,296.37 670.65,296.45 671.5,296.48" fill="none" stroke="#1a84bb" stroke-width="1.0" stroke-linejoin="round"/>
<polyline points="502.22,275.61 502.78,275.61 503.34,275.61 503.9,275.62 504.45,275.63 505.01,275.64 505.57,275.66 506.13,275.68 506.69,275.7 507.24,275.72 507.8,275.74 508.36,275.76 508.92,275.78 509.47,275.81 510.03,275.83 510.59,275.85 511.15,275.88 511.7,275.9 512.26,275.92 512.82,275.95 513.38,275.97 513.93,275.99 514.49,276.01 515.05,276.02 515.61,276.04 516.16,276.05 516.72,276.06 517.28,276.06 517.84,276.07 518.39,276.07 518.95,276.07 519.51,276.07 520.07,276.08 520.62,276.08 521.18,276.08 521.74,276.09 522.3,276.1 522.85,276.1 523.41,276.11 523.97,276.12 524.53,276.13 525.08,276.14 525.64,276.15 526.2,276.17 526.76,276.18 527.31,276.19 527.87,276.2 528.43,276.22 528.99,276.23 529.54,276.25 530.1,276.26 530.66,276.28 531.22,276.29 531.78,276.31 532.33,276.33 532.89,276.34 533.45,276.36 534.01,276.38 534.56,276.39 535.12,276.41 535.68,276.43 536.24,276.45 536.79,276.46 537.35,276.48 537.91,276.5 538.47,276.51 539.02,276.53 539.58,276.54 540.14,276.56 540.7,276.58 541.25,276.59 541.81,276.61 542.37,276.62 542.93,276.63 543.48,276.65 544.04,276.66 544.6,276.67 545.16,276.68 545.71,276.69 546.27,276.7 546.83,276.71 547.39,276.72 547.94,276.73 548.5,276.74 549.06,276.74 549.62,276.75 550.17,276.75 550.73,276.76 551.29,276.76 551.85,276.76 552.4,276.76 552.96,276.76 553.52,276.76 554.08,276.76 554.63,276.76 555.19,276.77 555.75,276.77 556.31,276.77 556.86,276.77 557.42,276.77 557.98,276.77 558.54,276.78 559.1,276.78 559.65,276.78 560.21,276.78 560.77,276.79 561.33,276.79 561.88,276.79 562.44,276.8 563,276.8 563.56,276.8 564.11,276.81 564.67,276.81 565.23,276.81 565.79,276.82 566.34,276.82 566.9,276.83 567.46,276.83 568.02,276.83 568.57,276.84 569.13,276.84 569.69,276.85 570.25,276.85 570.8,276.86 571.36,276.86 571.92,276.87 572.48,276.87 573.03,276.88 573.59,276.88 574.15,276.89 574.71,276.89 575.26,276.9 575.82,276.9 576.38,276.91 576.94,276.92 577.49,276.92 578.05,276.93 578.61,276.93 579.17,276.94 579.72,276.94 580.28,276.95 580.84,276.95 581.4,276.96 581.95,276.96 582.51,276.97 583.07,276.97 583.63,276.98 584.18,276.98 584.74,276.99 585.3,276.99 585.86,277 586.42,277 586.97,277.01 587.53,277.01 588.09,277.02 588.65,277.02 589.2,277.02 589.76,277.03 590.32,277.03 590.88,277.04 591.43,277.04 591.99,277.04 592.55,277.05 593.11,277.05 593.66,277.05 594.22,277.06 594.78,277.06 595.34,277.06 595.89,277.07 596.45,277.07 597.01,277.07 597.57,277.07 598.12,277.08 598.68,277.08 599.24,277.08 599.8,277.08 600.35,277.08 600.91,277.08 601.47,277.08 602.03,277.08 602.58,277.08 603.14,277.09 603.7,277.09 604.26,277.08 604.81,277.08 605.37,277.08 605.93,277.08 606.49,277.08 607.04,277.07 607.6,277.07 608.16,277.07 608.72,277.06 609.27,277.06 609.83,277.05 610.39,277.05 610.95,277.04 611.51,277.04 612.06,277.03 612.62,277.03 613.18,277.02 613.74,277.01 614.29,277.01 614.85,277 615.41,276.99 615.97,276.99 616.52,276.98 617.08,276.97 617.64,276.96 618.2,276.95 618.75,276.95 619.31,276.94 619.87,276.93 620.43,276.92 620.98,276.92 621.54,276.91 622.1,276.9 622.66,276.89 623.21,276.88 623.77,276.88 624.33,276.87 624.89,276.86 625.44,276.85 626,276.85 626.56,276.84 627.12,276.83 627.67,276.83 628.23,276.82 628.79,276.81 629.35,276.81 629.9,276.8 630.46,276.8 631.02,276.79 631.58,276.79 632.13,276.78 632.69,276.78 633.25,276.78 633.81,276.77 634.36,276.77 634.92,276.77 635.48,276.77 636.04,276.76 636.59,276.76 637.15,276.76 637.71,276.76 638.27,276.76 638.83,276.75 639.38,276.74 639.94,276.72 640.5,276.7 641.06,276.68 641.61,276.66 642.17,276.63 642.73,276.6 643.29,276.57 643.84,276.54 644.4,276.51 644.96,276.48 645.52,276.44 646.07,276.41 646.63,276.37 647.19,276.34 647.75,276.31 648.3,276.28 648.86,276.25 649.42,276.22 649.98,276.19 650.53,276.16 651.09,276.14 651.65,276.12 652.21,276.1 652.76,276.09 653.32,276.08 653.88,276.07 654.44,276.07 654.99,276.05 655.55,275.99 656.11,275.89 656.67,275.76 657.22,275.61 657.78,275.45 658.34,275.27 658.9,275.09 659.45,274.91 660.01,274.74 660.57,274.58 661.13,274.45 661.68,274.34 662.24,274.26 662.8,274.23 663.36,274.12 663.91,273.65 664.47,272.92 665.03,272.1 665.59,271.32 666.15,270.73 666.7,270.48 667.26,265.85 667.82,258.11 668.38,249.82 668.93,214.68 669.49,192" fill="none" stroke="#3d9bcb" stroke-width="1.0" stroke-linejoin="round"/>
<polyline points="501.88,293.84 502.73,293.82 503.58,293.77 504.43,293.68 505.28,293.58 506.12,293.46 506.97,293.34 507.82,293.22 508.67,293.11 509.52,293.02 510.36,292.95 511.21,292.92 512.06,292.92 512.91,292.91 513.76,292.91 514.61,292.89 515.45,292.88 516.3,292.86 517.15,292.84 518,292.81 518.85,292.79 519.69,292.76 520.54,292.73 521.39,292.69 522.24,292.66 523.09,292.62 523.93,292.58 524.78,292.54 525.63,292.5 526.48,292.45 527.33,292.41 528.17,292.36 529.02,292.32 529.87,292.27 530.72,292.22 531.57,292.17 532.42,292.13 533.26,292.08 534.11,292.03 534.96,291.99 535.81,291.94 536.66,291.9 537.5,291.85 538.35,291.81 539.2,291.77 540.05,291.73 540.9,291.69 541.74,291.65 542.59,291.61 543.44,291.58 544.29,291.55 545.14,291.52 545.98,291.49 546.83,291.47 547.68,291.45 548.53,291.43 549.38,291.42 550.22,291.41 551.07,291.4 551.92,291.4 552.77,291.4 553.62,291.4 554.47,291.4 555.31,291.39 556.16,291.39 557.01,291.39 557.86,291.39 558.71,291.38 559.55,291.38 560.4,291.37 561.25,291.37 562.1,291.37 562.95,291.36 563.79,291.36 564.64,291.35 565.49,291.34 566.34,291.34 567.19,291.33 568.03,291.32 568.88,291.32 569.73,291.31 570.58,291.3 571.43,291.29 572.27,291.29 573.12,291.28 573.97,291.27 574.82,291.26 575.67,291.26 576.52,291.25 577.36,291.24 578.21,291.23 579.06,291.22 579.91,291.22 580.76,291.21 581.6,291.2 582.45,291.19 583.3,291.18 584.15,291.18 585,291.17 585.84,291.16 586.69,291.15 587.54,291.15 588.39,291.14 589.24,291.13 590.08,291.13 590.93,291.12 591.78,291.12 592.63,291.11 593.48,291.11 594.32,291.1 595.17,291.1 596.02,291.09 596.87,291.09 597.72,291.08 598.57,291.08 599.41,291.08 600.26,291.08 601.11,291.08 601.96,291.07 602.81,291.07 603.65,291.07 604.5,291.08 605.35,291.08 606.2,291.08 607.05,291.09 607.89,291.1 608.74,291.1 609.59,291.11 610.44,291.12 611.29,291.14 612.13,291.15 612.98,291.16 613.83,291.18 614.68,291.19 615.53,291.21 616.37,291.22 617.22,291.24 618.07,291.26 618.92,291.27 619.77,291.29 620.62,291.31 621.46,291.33 622.31,291.34 623.16,291.36 624.01,291.38 624.86,291.39 625.7,291.41 626.55,291.42 627.4,291.44 628.25,291.45 629.1,291.47 629.94,291.48 630.79,291.49 631.64,291.5 632.49,291.51 633.34,291.52 634.18,291.52 635.03,291.53 635.88,291.53 636.73,291.53 637.58,291.54 638.42,291.55 639.27,291.58 640.12,291.63 640.97,291.69 641.82,291.76 642.67,291.85 643.51,291.94 644.36,292.04 645.21,292.14 646.06,292.24 646.91,292.34 647.75,292.44 648.6,292.54 649.45,292.63 650.3,292.71 651.15,292.78 651.99,292.84 652.84,292.88 653.69,292.91 654.54,292.92 655.39,292.95 656.23,293.03 657.08,293.15 657.93,293.32 658.78,293.51 659.63,293.73 660.47,293.97 661.32,294.23 662.17,294.5 663.02,294.78 663.87,295.05 664.72,295.32 665.56,295.58 666.41,295.82 667.26,296.04 668.11,296.23 668.96,296.39 669.8,296.51 670.65,296.59 671.5,296.61" fill="none" stroke="#3d9bcb" stroke-width="1.0" stroke-linejoin="round"/>
<polyline points="502.22,275.75 502.78,275.75 503.34,275.75 503.9,275.76 504.45,275.77 505.01,275.78 505.57,275.8 506.13,275.82 506.68,275.83 507.24,275.85 507.8,275.88 508.35,275.9 508.91,275.92 509.47,275.94 510.03,275.97 510.58,275.99 511.14,276.02 511.7,276.04 512.25,276.06 512.81,276.09 513.37,276.11 513.93,276.13 514.48,276.14 515.04,276.16 515.6,276.17 516.16,276.19 516.71,276.2 517.27,276.2 517.83,276.21 518.38,276.21 518.94,276.21 519.5,276.21 520.06,276.21 520.61,276.22 521.17,276.22 521.73,276.23 522.28,276.24 522.84,276.24 523.4,276.25 523.96,276.26 524.51,276.27 525.07,276.28 525.63,276.29 526.18,276.3 526.74,276.32 527.3,276.33 527.86,276.34 528.41,276.36 528.97,276.37 529.53,276.39 530.09,276.4 530.64,276.42 531.2,276.43 531.76,276.45 532.31,276.47 532.87,276.48 533.43,276.5 533.99,276.52 534.54,276.53 535.1,276.55 535.66,276.57 536.21,276.58 536.77,276.6 537.33,276.62 537.89,276.63 538.44,276.65 539,276.67 539.56,276.68 540.12,276.7 540.67,276.71 541.23,276.73 541.79,276.74 542.34,276.76 542.9,276.77 543.46,276.78 544.02,276.8 544.57,276.81 545.13,276.82 545.69,276.83 546.24,276.84 546.8,276.85 547.36,276.86 547.92,276.87 548.47,276.88 549.03,276.88 549.59,276.89 550.14,276.89 550.7,276.9 551.26,276.9 551.82,276.9 552.37,276.9 552.93,276.9 553.49,276.9 554.05,276.9 554.6,276.9 555.16,276.9 555.72,276.9 556.27,276.91 556.83,276.91 557.39,276.91 557.95,276.91 558.5,276.91 559.06,276.92 559.62,276.92 560.17,276.92 560.73,276.92 561.29,276.93 561.85,276.93 562.4,276.93 562.96,276.94 563.52,276.94 564.08,276.94 564.63,276.95 565.19,276.95 565.75,276.96 566.3,276.96 566.86,276.96 567.42,276.97 567.98,276.97 568.53,276.98 569.09,276.98 569.65,276.99 570.2,276.99 570.76,277 571.32,277 571.88,277.01 572.43,277.01 572.99,277.02 573.55,277.02 574.11,277.03 574.66,277.03 575.22,277.04 575.78,277.04 576.33,277.05 576.89,277.05 577.45,277.06 578.01,277.06 578.56,277.07 579.12,277.07 579.68,277.08 580.23,277.08 580.79,277.09 581.35,277.1 581.91,277.1 582.46,277.11 583.02,277.11 583.58,277.12 584.13,277.12 584.69,277.13 585.25,277.13 585.81,277.14 586.36,277.14 586.92,277.14 587.48,277.15 588.04,277.15 588.59,277.16 589.15,277.16 589.71,277.17 590.26,277.17 590.82,277.17 591.38,277.18 591.94,277.18 592.49,277.19 593.05,277.19 593.61,277.19 594.16,277.2 594.72,277.2 595.28,277.2 595.84,277.2 596.39,277.21 596.95,277.21 597.51,277.21 598.07,277.21 598.62,277.22 599.18,277.22 599.74,277.22 600.29,277.22 600.85,277.22 601.41,277.22 601.97,277.22 602.52,277.22 603.08,277.22 603.64,277.22 604.19,277.22 604.75,277.22 605.31,277.22 605.87,277.22 606.42,277.22 606.98,277.21 607.54,277.21 608.1,277.21 608.65,277.2 609.21,277.2 609.77,277.19 610.32,277.19 610.88,277.18 611.44,277.18 612,277.17 612.55,277.17 613.11,277.16 613.67,277.15 614.22,277.15 614.78,277.14 615.34,277.13 615.9,277.12 616.45,277.12 617.01,277.11 617.57,277.1 618.12,277.09 618.68,277.09 619.24,277.08 619.8,277.07 620.35,277.06 620.91,277.05 621.47,277.05 622.03,277.04 622.58,277.03 623.14,277.02 623.7,277.02 624.25,277.01 624.81,277 625.37,276.99 625.93,276.99 626.48,276.98 627.04,276.97 627.6,276.97 628.15,276.96 628.71,276.95 629.27,276.95 629.83,276.94 630.38,276.94 630.94,276.93 631.5,276.93 632.06,276.92 632.61,276.92 633.17,276.91 633.73,276.91 634.28,276.91 634.84,276.91 635.4,276.9 635.96,276.9 636.51,276.9 637.07,276.9 637.63,276.9 638.18,276.9 638.74,276.89 639.3,276.88 639.86,276.86 640.41,276.84 640.97,276.82 641.53,276.8 642.08,276.77 642.64,276.75 643.2,276.72 643.76,276.69 644.31,276.65 644.87,276.62 645.43,276.59 645.99,276.55 646.54,276.52 647.1,276.48 647.66,276.45 648.21,276.42 648.77,276.39 649.33,276.36 649.89,276.33 650.44,276.31 651,276.28 651.56,276.26 652.11,276.24 652.67,276.23 653.23,276.22 653.79,276.21 654.34,276.21 654.9,276.19 655.46,276.14 656.02,276.05 656.57,275.93 657.13,275.78 657.69,275.62 658.24,275.44 658.8,275.26 659.36,275.08 659.92,274.91 660.47,274.75 661.03,274.61 661.59,274.49 662.14,274.41 662.7,274.37 663.26,274.3 663.82,273.87 664.37,273.16 664.93,272.31 665.49,271.48 666.05,270.83 666.6,270.5 667.16,267.24 667.72,259.23 668.27,253.24 668.83,217.62 669.39,192" fill="none" stroke="#2a8fc3" stroke-width="1.0" stroke-linejoin="round"/>
<polyline points="501.88,293.98 502.73,293.96 503.58,293.9 504.43,293.82 505.28,293.71 506.12,293.6 506.97,293.47 507.82,293.35 508.67,293.25 509.52,293.15 510.36,293.09 511.21,293.06 512.06,293.06 512.91,293.05 513.76,293.04 514.61,293.03 515.45,293.02 516.3,293 517.15,292.98 518,292.95 518.85,292.93 519.69,292.9 520.54,292.87 521.39,292.83 522.24,292.8 523.09,292.76 523.93,292.72 524.78,292.68 525.63,292.63 526.48,292.59 527.33,292.55 528.17,292.5 529.02,292.45 529.87,292.41 530.72,292.36 531.57,292.31 532.42,292.27 533.26,292.22 534.11,292.17 534.96,292.12 535.81,292.08 536.66,292.03 537.5,291.99 538.35,291.95 539.2,291.9 540.05,291.86 540.9,291.82 541.74,291.79 542.59,291.75 543.44,291.72 544.29,291.69 545.14,291.66 545.98,291.63 546.83,291.61 547.68,291.59 548.53,291.57 549.38,291.56 550.22,291.55 551.07,291.54 551.92,291.54 552.77,291.54 553.62,291.53 554.47,291.53 555.31,291.53 556.16,291.53 557.01,291.53 557.86,291.52 558.71,291.52 559.55,291.52 560.4,291.51 561.25,291.51 562.1,291.5 562.95,291.5 563.79,291.49 564.64,291.49 565.49,291.48 566.34,291.48 567.19,291.47 568.03,291.46 568.88,291.46 569.73,291.45 570.58,291.44 571.43,291.43 572.27,291.43 573.12,291.42 573.97,291.41 574.82,291.4 575.67,291.39 576.52,291.39 577.36,291.38 578.21,291.37 579.06,291.36 579.91,291.35 580.76,291.35 581.6,291.34 582.45,291.33 583.3,291.32 584.15,291.32 585,291.31 585.84,291.3 586.69,291.29 587.54,291.29 588.39,291.28 589.24,291.27 590.08,291.27 590.93,291.26 591.78,291.25 592.63,291.25 593.48,291.24 594.32,291.24 595.17,291.23 596.02,291.23 596.87,291.23 597.72,291.22 598.57,291.22 599.41,291.22 600.26,291.22 601.11,291.21 601.96,291.21 602.81,291.21 603.65,291.21 604.5,291.21 605.35,291.22 606.2,291.22 607.05,291.23 607.89,291.23 608.74,291.24 609.59,291.25 610.44,291.26 611.29,291.28 612.13,291.29 612.98,291.3 613.83,291.32 614.68,291.33 615.53,291.35 616.37,291.36 617.22,291.38 618.07,291.4 618.92,291.41 619.77,291.43 620.62,291.45 621.46,291.46 622.31,291.48 623.16,291.5 624.01,291.52 624.86,291.53 625.7,291.55 626.55,291.56 627.4,291.58 628.25,291.59 629.1,291.6 629.94,291.62 630.79,291.63 631.64,291.64 632.49,291.65 633.34,291.66 634.18,291.66 635.03,291.67 635.88,291.67 636.73,291.67 637.58,291.67 638.42,291.69 639.27,291.72 640.12,291.77 640.97,291.83 641.82,291.9 642.67,291.98 643.51,292.08 644.36,292.17 645.21,292.28 646.06,292.38 646.91,292.48 647.75,292.58 648.6,292.68 649.45,292.77 650.3,292.85 651.15,292.92 651.99,292.98 652.84,293.02 653.69,293.05 654.54,293.06 655.39,293.09 656.23,293.17 657.08,293.29 657.93,293.45 658.78,293.65 659.63,293.87 660.47,294.11 661.32,294.37 662.17,294.64 663.02,294.92 663.87,295.19 664.72,295.46 665.56,295.72 666.41,295.96 667.26,296.18 668.11,296.37 668.96,296.53 669.8,296.65 670.65,296.73 671.5,296.75" fill="none" stroke="#2a8fc3" stroke-width="1.0" stroke-linejoin="round"/>
<polyline points="502.22,275.88 502.78,275.89 503.34,275.89 503.9,275.9 504.45,275.91 505.01,275.92 505.57,275.94 506.12,275.95 506.68,275.97 507.24,275.99 507.79,276.01 508.35,276.04 508.91,276.06 509.46,276.08 510.02,276.11 510.58,276.13 511.13,276.15 511.69,276.18 512.25,276.2 512.81,276.22 513.36,276.24 513.92,276.26 514.48,276.28 515.03,276.3 515.59,276.31 516.15,276.33 516.7,276.33 517.26,276.34 517.82,276.35 518.37,276.35 518.93,276.35 519.49,276.35 520.04,276.35 520.6,276.36 521.16,276.36 521.72,276.37 522.27,276.37 522.83,276.38 523.39,276.39 523.94,276.4 524.5,276.41 525.06,276.42 525.61,276.43 526.17,276.44 526.73,276.45 527.28,276.47 527.84,276.48 528.4,276.49 528.95,276.51 529.51,276.52 530.07,276.54 530.63,276.55 531.18,276.57 531.74,276.59 532.3,276.6 532.85,276.62 533.41,276.64 533.97,276.65 534.52,276.67 535.08,276.69 535.64,276.7 536.19,276.72 536.75,276.74 537.31,276.75 537.86,276.77 538.42,276.79 538.98,276.8 539.54,276.82 540.09,276.84 540.65,276.85 541.21,276.87 541.76,276.88 542.32,276.9 542.88,276.91 543.43,276.92 543.99,276.94 544.55,276.95 545.1,276.96 545.66,276.97 546.22,276.98 546.77,276.99 547.33,277 547.89,277.01 548.45,277.01 549,277.02 549.56,277.03 550.12,277.03 550.67,277.03 551.23,277.04 551.79,277.04 552.34,277.04 552.9,277.04 553.46,277.04 554.01,277.04 554.57,277.04 555.13,277.04 555.68,277.04 556.24,277.04 556.8,277.05 557.36,277.05 557.91,277.05 558.47,277.05 559.03,277.05 559.58,277.06 560.14,277.06 560.7,277.06 561.25,277.07 561.81,277.07 562.37,277.07 562.92,277.08 563.48,277.08 564.04,277.08 564.59,277.09 565.15,277.09 565.71,277.09 566.26,277.1 566.82,277.1 567.38,277.11 567.94,277.11 568.49,277.12 569.05,277.12 569.61,277.13 570.16,277.13 570.72,277.13 571.28,277.14 571.83,277.14 572.39,277.15 572.95,277.15 573.5,277.16 574.06,277.17 574.62,277.17 575.17,277.18 575.73,277.18 576.29,277.19 576.85,277.19 577.4,277.2 577.96,277.2 578.52,277.21 579.07,277.21 579.63,277.22 580.19,277.22 580.74,277.23 581.3,277.23 581.86,277.24 582.41,277.24 582.97,277.25 583.53,277.25 584.08,277.26 584.64,277.26 585.2,277.27 585.76,277.27 586.31,277.28 586.87,277.28 587.43,277.29 587.98,277.29 588.54,277.3 589.1,277.3 589.65,277.3 590.21,277.31 590.77,277.31 591.32,277.32 591.88,277.32 592.44,277.32 592.99,277.33 593.55,277.33 594.11,277.33 594.67,277.34 595.22,277.34 595.78,277.34 596.34,277.35 596.89,277.35 597.45,277.35 598.01,277.35 598.56,277.35 599.12,277.36 599.68,277.36 600.23,277.36 600.79,277.36 601.35,277.36 601.9,277.36 602.46,277.36 603.02,277.36 603.58,277.36 604.13,277.36 604.69,277.36 605.25,277.36 605.8,277.36 606.36,277.36 606.92,277.35 607.47,277.35 608.03,277.35 608.59,277.34 609.14,277.34 609.7,277.33 610.26,277.33 610.81,277.32 611.37,277.32 611.93,277.31 612.49,277.31 613.04,277.3 613.6,277.29 614.16,277.29 614.71,277.28 615.27,277.27 615.83,277.26 616.38,277.26 616.94,277.25 617.5,277.24 618.05,277.23 618.61,277.23 619.17,277.22 619.72,277.21 620.28,277.2 620.84,277.19 621.4,277.19 621.95,277.18 622.51,277.17 623.07,277.16 623.62,277.16 624.18,277.15 624.74,277.14 625.29,277.13 625.85,277.13 626.41,277.12 626.96,277.11 627.52,277.11 628.08,277.1 628.63,277.09 629.19,277.09 629.75,277.08 630.31,277.08 630.86,277.07 631.42,277.07 631.98,277.06 632.53,277.06 633.09,277.05 633.65,277.05 634.2,277.05 634.76,277.04 635.32,277.04 635.87,277.04 636.43,277.04 636.99,277.04 637.54,277.04 638.1,277.04 638.66,277.03 639.22,277.02 639.77,277 640.33,276.99 640.89,276.97 641.44,276.94 642,276.92 642.56,276.89 643.11,276.86 643.67,276.83 644.23,276.8 644.78,276.76 645.34,276.73 645.9,276.7 646.45,276.66 647.01,276.63 647.57,276.6 648.13,276.56 648.68,276.53 649.24,276.5 649.8,276.47 650.35,276.45 650.91,276.42 651.47,276.4 652.02,276.39 652.58,276.37 653.14,276.36 653.69,276.35 654.25,276.35 654.81,276.34 655.36,276.29 655.92,276.2 656.48,276.09 657.03,275.94 657.59,275.78 658.15,275.61 658.71,275.43 659.26,275.25 659.82,275.08 660.38,274.91 660.93,274.77 661.49,274.65 662.05,274.56 662.6,274.51 663.16,274.47 663.72,274.1 664.27,273.4 664.83,272.54 665.39,271.66 665.94,270.94 666.5,270.53 667.06,268.47 667.62,260.56 668.17,255.83 668.73,221.14 669.29,192" fill="none" stroke="#7cc2e0" stroke-width="1.0" stroke-linejoin="round"/>
<polyline points="501.88,294.12 502.73,294.1 503.58,294.04 504.43,293.96 505.28,293.85 506.12,293.74 506.97,293.61 507.82,293.49 508.67,293.38 509.52,293.29 510.36,293.23 511.21,293.2 512.06,293.2 512.91,293.19 513.76,293.18 514.61,293.17 515.45,293.16 516.3,293.14 517.15,293.12 518,293.09 518.85,293.06 519.69,293.04 520.54,293 521.39,292.97 522.24,292.93 523.09,292.9 523.93,292.86 524.78,292.82 525.63,292.77 526.48,292.73 527.33,292.68 528.17,292.64 529.02,292.59 529.87,292.55 530.72,292.5 531.57,292.45 532.42,292.4 533.26,292.36 534.11,292.31 534.96,292.26 535.81,292.22 536.66,292.17 537.5,292.13 538.35,292.08 539.2,292.04 540.05,292 540.9,291.96 541.74,291.93 542.59,291.89 543.44,291.86 544.29,291.83 545.14,291.8 545.98,291.77 546.83,291.75 547.68,291.73 548.53,291.71 549.38,291.7 550.22,291.69 551.07,291.68 551.92,291.67 552.77,291.67 553.62,291.67 554.47,291.67 555.31,291.67 556.16,291.67 557.01,291.67 557.86,291.66 558.71,291.66 559.55,291.66 560.4,291.65 561.25,291.65 562.1,291.64 562.95,291.64 563.79,291.63 564.64,291.63 565.49,291.62 566.34,291.61 567.19,291.61 568.03,291.6 568.88,291.59 569.73,291.59 570.58,291.58 571.43,291.57 572.27,291.56 573.12,291.56 573.97,291.55 574.82,291.54 575.67,291.53 576.52,291.52 577.36,291.52 578.21,291.51 579.06,291.5 579.91,291.49 580.76,291.48 581.6,291.48 582.45,291.47 583.3,291.46 584.15,291.45 585,291.45 585.84,291.44 586.69,291.43 587.54,291.42 588.39,291.42 589.24,291.41 590.08,291.4 590.93,291.4 591.78,291.39 592.63,291.39 593.48,291.38 594.32,291.38 595.17,291.37 596.02,291.37 596.87,291.37 597.72,291.36 598.57,291.36 599.41,291.36 600.26,291.35 601.11,291.35 601.96,291.35 602.81,291.35 603.65,291.35 604.5,291.35 605.35,291.36 606.2,291.36 607.05,291.37 607.89,291.37 608.74,291.38 609.59,291.39 610.44,291.4 611.29,291.41 612.13,291.43 612.98,291.44 613.83,291.45 614.68,291.47 615.53,291.48 616.37,291.5 617.22,291.52 618.07,291.53 618.92,291.55 619.77,291.57 620.62,291.59 621.46,291.6 622.31,291.62 623.16,291.64 624.01,291.65 624.86,291.67 625.7,291.69 626.55,291.7 627.4,291.72 628.25,291.73 629.1,291.74 629.94,291.76 630.79,291.77 631.64,291.78 632.49,291.79 633.34,291.79 634.18,291.8 635.03,291.81 635.88,291.81 636.73,291.81 637.58,291.81 638.42,291.83 639.27,291.86 640.12,291.9 640.97,291.97 641.82,292.04 642.67,292.12 643.51,292.22 644.36,292.31 645.21,292.41 646.06,292.52 646.91,292.62 647.75,292.72 648.6,292.82 649.45,292.91 650.3,292.99 651.15,293.06 651.99,293.12 652.84,293.16 653.69,293.19 654.54,293.2 655.39,293.23 656.23,293.31 657.08,293.43 657.93,293.59 658.78,293.79 659.63,294.01 660.47,294.25 661.32,294.51 662.17,294.78 663.02,295.06 663.87,295.33 664.72,295.6 665.56,295.86 666.41,296.1 667.26,296.32 668.11,296.51 668.96,296.67 669.8,296.79 670.65,296.86 671.5,296.89" fill="none" stroke="#7cc2e0" stroke-width="1.0" stroke-linejoin="round"/>
<polyline points="502.22,276.02 502.78,276.02 503.34,276.03 503.89,276.04 504.45,276.05 505.01,276.06 505.56,276.08 506.12,276.09 506.68,276.11 507.23,276.13 507.79,276.15 508.35,276.17 508.9,276.2 509.46,276.22 510.02,276.24 510.57,276.27 511.13,276.29 511.69,276.32 512.24,276.34 512.8,276.36 513.36,276.38 513.91,276.4 514.47,276.42 515.02,276.44 515.58,276.45 516.14,276.46 516.69,276.47 517.25,276.48 517.81,276.48 518.36,276.49 518.92,276.49 519.48,276.49 520.03,276.49 520.59,276.49 521.15,276.5 521.7,276.51 522.26,276.51 522.82,276.52 523.37,276.53 523.93,276.54 524.49,276.55 525.04,276.56 525.6,276.57 526.16,276.58 526.71,276.59 527.27,276.61 527.83,276.62 528.38,276.63 528.94,276.65 529.49,276.66 530.05,276.68 530.61,276.69 531.16,276.71 531.72,276.72 532.28,276.74 532.83,276.76 533.39,276.77 533.95,276.79 534.5,276.81 535.06,276.83 535.62,276.84 536.17,276.86 536.73,276.88 537.29,276.89 537.84,276.91 538.4,276.93 538.96,276.94 539.51,276.96 540.07,276.97 540.63,276.99 541.18,277 541.74,277.02 542.29,277.03 542.85,277.05 543.41,277.06 543.96,277.07 544.52,277.09 545.08,277.1 545.63,277.11 546.19,277.12 546.75,277.13 547.3,277.14 547.86,277.15 548.42,277.15 548.97,277.16 549.53,277.16 550.09,277.17 550.64,277.17 551.2,277.18 551.76,277.18 552.31,277.18 552.87,277.18 553.43,277.18 553.98,277.18 554.54,277.18 555.1,277.18 555.65,277.18 556.21,277.18 556.76,277.18 557.32,277.19 557.88,277.19 558.43,277.19 558.99,277.19 559.55,277.2 560.1,277.2 560.66,277.2 561.22,277.2 561.77,277.21 562.33,277.21 562.89,277.21 563.44,277.22 564,277.22 564.56,277.22 565.11,277.23 565.67,277.23 566.23,277.24 566.78,277.24 567.34,277.25 567.9,277.25 568.45,277.25 569.01,277.26 569.56,277.26 570.12,277.27 570.68,277.27 571.23,277.28 571.79,277.28 572.35,277.29 572.9,277.29 573.46,277.3 574.02,277.3 574.57,277.31 575.13,277.31 575.69,277.32 576.24,277.32 576.8,277.33 577.36,277.33 577.91,277.34 578.47,277.35 579.03,277.35 579.58,277.36 580.14,277.36 580.7,277.37 581.25,277.37 581.81,277.38 582.37,277.38 582.92,277.39 583.48,277.39 584.03,277.4 584.59,277.4 585.15,277.41 585.7,277.41 586.26,277.42 586.82,277.42 587.37,277.43 587.93,277.43 588.49,277.43 589.04,277.44 589.6,277.44 590.16,277.45 590.71,277.45 591.27,277.45 591.83,277.46 592.38,277.46 592.94,277.47 593.5,277.47 594.05,277.47 594.61,277.48 595.17,277.48 595.72,277.48 596.28,277.48 596.83,277.49 597.39,277.49 597.95,277.49 598.5,277.49 599.06,277.49 599.62,277.5 600.17,277.5 600.73,277.5 601.29,277.5 601.84,277.5 602.4,277.5 602.96,277.5 603.51,277.5 604.07,277.5 604.63,277.5 605.18,277.5 605.74,277.5 606.3,277.49 606.85,277.49 607.41,277.49 607.97,277.48 608.52,277.48 609.08,277.48 609.64,277.47 610.19,277.47 610.75,277.46 611.3,277.46 611.86,277.45 612.42,277.44 612.97,277.44 613.53,277.43 614.09,277.42 614.64,277.42 615.2,277.41 615.76,277.4 616.31,277.4 616.87,277.39 617.43,277.38 617.98,277.37 618.54,277.37 619.1,277.36 619.65,277.35 620.21,277.34 620.77,277.33 621.32,277.33 621.88,277.32 622.44,277.31 622.99,277.3 623.55,277.29 624.1,277.29 624.66,277.28 625.22,277.27 625.77,277.27 626.33,277.26 626.89,277.25 627.44,277.24 628,277.24 628.56,277.23 629.11,277.23 629.67,277.22 630.23,277.21 630.78,277.21 631.34,277.2 631.9,277.2 632.45,277.2 633.01,277.19 633.57,277.19 634.12,277.19 634.68,277.18 635.24,277.18 635.79,277.18 636.35,277.18 636.91,277.18 637.46,277.18 638.02,277.18 638.57,277.17 639.13,277.16 639.69,277.14 640.24,277.13 640.8,277.11 641.36,277.08 641.91,277.06 642.47,277.03 643.03,277 643.58,276.97 644.14,276.94 644.7,276.91 645.25,276.87 645.81,276.84 646.37,276.81 646.92,276.77 647.48,276.74 648.04,276.71 648.59,276.68 649.15,276.65 649.71,276.62 650.26,276.59 650.82,276.57 651.37,276.55 651.93,276.53 652.49,276.51 653.04,276.5 653.6,276.49 654.16,276.49 654.71,276.48 655.27,276.44 655.83,276.36 656.38,276.25 656.94,276.11 657.5,275.95 658.05,275.78 658.61,275.6 659.17,275.42 659.72,275.24 660.28,275.08 660.84,274.93 661.39,274.81 661.95,274.71 662.51,274.66 663.06,274.63 663.62,274.32 664.18,273.65 664.73,272.77 665.29,271.86 665.84,271.07 666.4,270.57 666.96,269.47 667.51,262.02 668.07,256.65 668.63,225.35 669.18,192" fill="none" stroke="#63b4d8" stroke-width="1.0" stroke-linejoin="round"/>
<polyline points="501.88,294.26 502.73,294.24 503.58,294.18 504.43,294.1 505.28,293.99 506.12,293.87 506.97,293.75 507.82,293.63 508.67,293.52 509.52,293.43 510.36,293.37 511.21,293.34 512.06,293.33 512.91,293.33 513.76,293.32 514.61,293.31 515.45,293.29 516.3,293.28 517.15,293.25 518,293.23 518.85,293.2 519.69,293.17 520.54,293.14 521.39,293.11 522.24,293.07 523.09,293.03 523.93,292.99 524.78,292.95 525.63,292.91 526.48,292.87 527.33,292.82 528.17,292.78 529.02,292.73 529.87,292.68 530.72,292.64 531.57,292.59 532.42,292.54 533.26,292.5 534.11,292.45 534.96,292.4 535.81,292.36 536.66,292.31 537.5,292.27 538.35,292.22 539.2,292.18 540.05,292.14 540.9,292.1 541.74,292.06 542.59,292.03 543.44,292 544.29,291.96 545.14,291.94 545.98,291.91 546.83,291.89 547.68,291.87 548.53,291.85 549.38,291.83 550.22,291.82 551.07,291.82 551.92,291.81 552.77,291.81 553.62,291.81 554.47,291.81 555.31,291.81 556.16,291.81 557.01,291.8 557.86,291.8 558.71,291.8 559.55,291.79 560.4,291.79 561.25,291.79 562.1,291.78 562.95,291.78 563.79,291.77 564.64,291.76 565.49,291.76 566.34,291.75 567.19,291.75 568.03,291.74 568.88,291.73 569.73,291.73 570.58,291.72 571.43,291.71 572.27,291.7 573.12,291.69 573.97,291.69 574.82,291.68 575.67,291.67 576.52,291.66 577.36,291.66 578.21,291.65 579.06,291.64 579.91,291.63 580.76,291.62 581.6,291.62 582.45,291.61 583.3,291.6 584.15,291.59 585,291.58 585.84,291.58 586.69,291.57 587.54,291.56 588.39,291.56 589.24,291.55 590.08,291.54 590.93,291.54 591.78,291.53 592.63,291.53 593.48,291.52 594.32,291.52 595.17,291.51 596.02,291.51 596.87,291.5 597.72,291.5 598.57,291.5 599.41,291.49 600.26,291.49 601.11,291.49 601.96,291.49 602.81,291.49 603.65,291.49 604.5,291.49 605.35,291.49 606.2,291.5 607.05,291.5 607.89,291.51 608.74,291.52 609.59,291.53 610.44,291.54 611.29,291.55 612.13,291.56 612.98,291.58 613.83,291.59 614.68,291.61 615.53,291.62 616.37,291.64 617.22,291.66 618.07,291.67 618.92,291.69 619.77,291.71 620.62,291.72 621.46,291.74 622.31,291.76 623.16,291.78 624.01,291.79 624.86,291.81 625.7,291.82 626.55,291.84 627.4,291.85 628.25,291.87 629.1,291.88 629.94,291.89 630.79,291.9 631.64,291.92 632.49,291.92 633.34,291.93 634.18,291.94 635.03,291.94 635.88,291.95 636.73,291.95 637.58,291.95 638.42,291.96 639.27,292 640.12,292.04 640.97,292.1 641.82,292.18 642.67,292.26 643.51,292.35 644.36,292.45 645.21,292.55 646.06,292.66 646.91,292.76 647.75,292.86 648.6,292.96 649.45,293.05 650.3,293.13 651.15,293.2 651.99,293.26 652.84,293.3 653.69,293.33 654.54,293.34 655.39,293.37 656.23,293.45 657.08,293.57 657.93,293.73 658.78,293.93 659.63,294.15 660.47,294.39 661.32,294.65 662.17,294.92 663.02,295.19 663.87,295.47 664.72,295.74 665.56,296 666.41,296.24 667.26,296.46 668.11,296.65 668.96,296.81 669.8,296.93 670.65,297 671.5,297.03" fill="none" stroke="#63b4d8" stroke-width="1.0" stroke-linejoin="round"/>
<polyline points="502.22,276.16 502.78,276.16 503.34,276.17 503.89,276.18 504.45,276.19 505.01,276.2 505.56,276.21 506.12,276.23 506.67,276.25 507.23,276.27 507.79,276.29 508.34,276.31 508.9,276.34 509.46,276.36 510.01,276.38 510.57,276.41 511.12,276.43 511.68,276.45 512.24,276.48 512.79,276.5 513.35,276.52 513.9,276.54 514.46,276.56 515.02,276.58 515.57,276.59 516.13,276.6 516.69,276.61 517.24,276.62 517.8,276.62 518.35,276.62 518.91,276.62 519.47,276.63 520.02,276.63 520.58,276.63 521.14,276.64 521.69,276.64 522.25,276.65 522.8,276.66 523.36,276.67 523.92,276.67 524.47,276.68 525.03,276.7 525.58,276.71 526.14,276.72 526.7,276.73 527.25,276.74 527.81,276.76 528.37,276.77 528.92,276.79 529.48,276.8 530.03,276.82 530.59,276.83 531.15,276.85 531.7,276.86 532.26,276.88 532.82,276.9 533.37,276.91 533.93,276.93 534.48,276.95 535.04,276.96 535.6,276.98 536.15,277 536.71,277.01 537.26,277.03 537.82,277.05 538.38,277.06 538.93,277.08 539.49,277.1 540.05,277.11 540.6,277.13 541.16,277.14 541.71,277.16 542.27,277.17 542.83,277.19 543.38,277.2 543.94,277.21 544.5,277.22 545.05,277.24 545.61,277.25 546.16,277.26 546.72,277.27 547.28,277.28 547.83,277.28 548.39,277.29 548.94,277.3 549.5,277.3 550.06,277.31 550.61,277.31 551.17,277.31 551.73,277.32 552.28,277.32 552.84,277.32 553.39,277.32 553.95,277.32 554.51,277.32 555.06,277.32 555.62,277.32 556.18,277.32 556.73,277.32 557.29,277.32 557.84,277.33 558.4,277.33 558.96,277.33 559.51,277.33 560.07,277.34 560.62,277.34 561.18,277.34 561.74,277.35 562.29,277.35 562.85,277.35 563.41,277.36 563.96,277.36 564.52,277.36 565.07,277.37 565.63,277.37 566.19,277.37 566.74,277.38 567.3,277.38 567.86,277.39 568.41,277.39 568.97,277.4 569.52,277.4 570.08,277.41 570.64,277.41 571.19,277.42 571.75,277.42 572.3,277.43 572.86,277.43 573.42,277.44 573.97,277.44 574.53,277.45 575.09,277.45 575.64,277.46 576.2,277.46 576.75,277.47 577.31,277.47 577.87,277.48 578.42,277.48 578.98,277.49 579.54,277.49 580.09,277.5 580.65,277.5 581.2,277.51 581.76,277.51 582.32,277.52 582.87,277.52 583.43,277.53 583.98,277.53 584.54,277.54 585.1,277.54 585.65,277.55 586.21,277.55 586.77,277.56 587.32,277.56 587.88,277.57 588.43,277.57 588.99,277.58 589.55,277.58 590.1,277.59 590.66,277.59 591.22,277.59 591.77,277.6 592.33,277.6 592.88,277.6 593.44,277.61 594,277.61 594.55,277.61 595.11,277.62 595.66,277.62 596.22,277.62 596.78,277.62 597.33,277.63 597.89,277.63 598.45,277.63 599,277.63 599.56,277.63 600.11,277.64 600.67,277.64 601.23,277.64 601.78,277.64 602.34,277.64 602.9,277.64 603.45,277.64 604.01,277.64 604.56,277.64 605.12,277.64 605.68,277.63 606.23,277.63 606.79,277.63 607.34,277.63 607.9,277.62 608.46,277.62 609.01,277.62 609.57,277.61 610.13,277.61 610.68,277.6 611.24,277.6 611.79,277.59 612.35,277.58 612.91,277.58 613.46,277.57 614.02,277.56 614.58,277.56 615.13,277.55 615.69,277.54 616.24,277.54 616.8,277.53 617.36,277.52 617.91,277.51 618.47,277.51 619.02,277.5 619.58,277.49 620.14,277.48 620.69,277.47 621.25,277.47 621.81,277.46 622.36,277.45 622.92,277.44 623.47,277.43 624.03,277.43 624.59,277.42 625.14,277.41 625.7,277.4 626.26,277.4 626.81,277.39 627.37,277.38 627.92,277.38 628.48,277.37 629.04,277.37 629.59,277.36 630.15,277.35 630.7,277.35 631.26,277.34 631.82,277.34 632.37,277.34 632.93,277.33 633.49,277.33 634.04,277.33 634.6,277.32 635.15,277.32 635.71,277.32 636.27,277.32 636.82,277.32 637.38,277.32 637.94,277.31 638.49,277.31 639.05,277.3 639.6,277.29 640.16,277.27 640.72,277.25 641.27,277.23 641.83,277.2 642.38,277.17 642.94,277.15 643.5,277.12 644.05,277.08 644.61,277.05 645.17,277.02 645.72,276.98 646.28,276.95 646.83,276.92 647.39,276.88 647.95,276.85 648.5,276.82 649.06,276.79 649.62,276.76 650.17,276.73 650.73,276.71 651.28,276.69 651.84,276.67 652.4,276.65 652.95,276.64 653.51,276.63 654.06,276.62 654.62,276.62 655.18,276.59 655.73,276.51 656.29,276.41 656.85,276.27 657.4,276.12 657.96,275.95 658.51,275.77 659.07,275.59 659.63,275.41 660.18,275.25 660.74,275.09 661.3,274.97 661.85,274.87 662.41,274.8 662.96,274.78 663.52,274.54 664.08,273.9 664.63,273.02 665.19,272.07 665.74,271.22 666.3,270.64 666.86,270.15 667.41,263.55 667.97,256.96 668.53,230.4 669.08,192" fill="none" stroke="#1f8ec4" stroke-width="1.0" stroke-linejoin="round"/>
<polyline points="501.88,294.4 502.73,294.38 503.58,294.32 504.43,294.24 505.28,294.13 506.12,294.01 506.97,293.89 507.82,293.77 508.67,293.66 509.52,293.57 510.36,293.51 511.21,293.48 512.06,293.47 512.91,293.47 513.76,293.46 514.61,293.45 515.45,293.43 516.3,293.41 517.15,293.39 518,293.37 518.85,293.34 519.69,293.31 520.54,293.28 521.39,293.25 522.24,293.21 523.09,293.17 523.93,293.13 524.78,293.09 525.63,293.05 526.48,293.01 527.33,292.96 528.17,292.92 529.02,292.87 529.87,292.82 530.72,292.78 531.57,292.73 532.42,292.68 533.26,292.63 534.11,292.59 534.96,292.54 535.81,292.49 536.66,292.45 537.5,292.4 538.35,292.36 539.2,292.32 540.05,292.28 540.9,292.24 541.74,292.2 542.59,292.17 543.44,292.13 544.29,292.1 545.14,292.07 545.98,292.05 546.83,292.03 547.68,292 548.53,291.99 549.38,291.97 550.22,291.96 551.07,291.95 551.92,291.95 552.77,291.95 553.62,291.95 554.47,291.95 555.31,291.95 556.16,291.95 557.01,291.94 557.86,291.94 558.71,291.94 559.55,291.93 560.4,291.93 561.25,291.92 562.1,291.92 562.95,291.91 563.79,291.91 564.64,291.9 565.49,291.9 566.34,291.89 567.19,291.88 568.03,291.88 568.88,291.87 569.73,291.86 570.58,291.86 571.43,291.85 572.27,291.84 573.12,291.83 573.97,291.83 574.82,291.82 575.67,291.81 576.52,291.8 577.36,291.79 578.21,291.79 579.06,291.78 579.91,291.77 580.76,291.76 581.6,291.75 582.45,291.75 583.3,291.74 584.15,291.73 585,291.72 585.84,291.72 586.69,291.71 587.54,291.7 588.39,291.69 589.24,291.69 590.08,291.68 590.93,291.68 591.78,291.67 592.63,291.66 593.48,291.66 594.32,291.65 595.17,291.65 596.02,291.65 596.87,291.64 597.72,291.64 598.57,291.64 599.41,291.63 600.26,291.63 601.11,291.63 601.96,291.63 602.81,291.63 603.65,291.63 604.5,291.63 605.35,291.63 606.2,291.64 607.05,291.64 607.89,291.65 608.74,291.66 609.59,291.67 610.44,291.68 611.29,291.69 612.13,291.7 612.98,291.72 613.83,291.73 614.68,291.75 615.53,291.76 616.37,291.78 617.22,291.79 618.07,291.81 618.92,291.83 619.77,291.85 620.62,291.86 621.46,291.88 622.31,291.9 623.16,291.91 624.01,291.93 624.86,291.95 625.7,291.96 626.55,291.98 627.4,291.99 628.25,292.01 629.1,292.02 629.94,292.03 630.79,292.04 631.64,292.05 632.49,292.06 633.34,292.07 634.18,292.08 635.03,292.08 635.88,292.09 636.73,292.09 637.58,292.09 638.42,292.1 639.27,292.13 640.12,292.18 640.97,292.24 641.82,292.32 642.67,292.4 643.51,292.49 644.36,292.59 645.21,292.69 646.06,292.79 646.91,292.9 647.75,293 648.6,293.09 649.45,293.18 650.3,293.27 651.15,293.34 651.99,293.4 652.84,293.44 653.69,293.47 654.54,293.47 655.39,293.51 656.23,293.59 657.08,293.71 657.93,293.87 658.78,294.06 659.63,294.29 660.47,294.53 661.32,294.79 662.17,295.06 663.02,295.33 663.87,295.61 664.72,295.88 665.56,296.13 666.41,296.38 667.26,296.59 668.11,296.79 668.96,296.94 669.8,297.07 670.65,297.14 671.5,297.17" fill="none" stroke="#1f8ec4" stroke-width="1.0" stroke-linejoin="round"/>
<polyline points="502.22,276.3 502.78,276.3 503.34,276.31 503.89,276.31 504.45,276.32 505,276.34 505.56,276.35 506.12,276.37 506.67,276.39 507.23,276.41 507.78,276.43 508.34,276.45 508.89,276.47 509.45,276.5 510.01,276.52 510.56,276.55 511.12,276.57 511.67,276.59 512.23,276.62 512.79,276.64 513.34,276.66 513.9,276.68 514.45,276.7 515.01,276.71 515.57,276.73 516.12,276.74 516.68,276.75 517.23,276.76 517.79,276.76 518.34,276.76 518.9,276.76 519.46,276.76 520.01,276.77 520.57,276.77 521.12,276.78 521.68,276.78 522.24,276.79 522.79,276.8 523.35,276.8 523.9,276.81 524.46,276.82 525.01,276.83 525.57,276.84 526.13,276.86 526.68,276.87 527.24,276.88 527.79,276.9 528.35,276.91 528.91,276.92 529.46,276.94 530.02,276.95 530.57,276.97 531.13,276.98 531.68,277 532.24,277.02 532.8,277.03 533.35,277.05 533.91,277.07 534.46,277.08 535.02,277.1 535.58,277.12 536.13,277.13 536.69,277.15 537.24,277.17 537.8,277.19 538.35,277.2 538.91,277.22 539.47,277.23 540.02,277.25 540.58,277.27 541.13,277.28 541.69,277.29 542.25,277.31 542.8,277.32 543.36,277.34 543.91,277.35 544.47,277.36 545.03,277.37 545.58,277.38 546.14,277.39 546.69,277.4 547.25,277.41 547.8,277.42 548.36,277.43 548.92,277.44 549.47,277.44 550.03,277.45 550.58,277.45 551.14,277.45 551.7,277.45 552.25,277.45 552.81,277.45 553.36,277.45 553.92,277.46 554.47,277.46 555.03,277.46 555.59,277.46 556.14,277.46 556.7,277.46 557.25,277.46 557.81,277.46 558.37,277.47 558.92,277.47 559.48,277.47 560.03,277.47 560.59,277.48 561.14,277.48 561.7,277.48 562.26,277.49 562.81,277.49 563.37,277.49 563.92,277.5 564.48,277.5 565.04,277.5 565.59,277.51 566.15,277.51 566.7,277.52 567.26,277.52 567.81,277.53 568.37,277.53 568.93,277.53 569.48,277.54 570.04,277.54 570.59,277.55 571.15,277.55 571.71,277.56 572.26,277.56 572.82,277.57 573.37,277.57 573.93,277.58 574.49,277.58 575.04,277.59 575.6,277.59 576.15,277.6 576.71,277.61 577.26,277.61 577.82,277.62 578.38,277.62 578.93,277.63 579.49,277.63 580.04,277.64 580.6,277.64 581.16,277.65 581.71,277.65 582.27,277.66 582.82,277.66 583.38,277.67 583.93,277.67 584.49,277.68 585.05,277.68 585.6,277.69 586.16,277.69 586.71,277.7 587.27,277.7 587.83,277.71 588.38,277.71 588.94,277.71 589.49,277.72 590.05,277.72 590.6,277.73 591.16,277.73 591.72,277.73 592.27,277.74 592.83,277.74 593.38,277.75 593.94,277.75 594.5,277.75 595.05,277.75 595.61,277.76 596.16,277.76 596.72,277.76 597.28,277.76 597.83,277.77 598.39,277.77 598.94,277.77 599.5,277.77 600.05,277.77 600.61,277.77 601.17,277.78 601.72,277.78 602.28,277.78 602.83,277.78 603.39,277.78 603.95,277.78 604.5,277.78 605.06,277.78 605.61,277.77 606.17,277.77 606.72,277.77 607.28,277.77 607.84,277.76 608.39,277.76 608.95,277.75 609.5,277.75 610.06,277.75 610.62,277.74 611.17,277.73 611.73,277.73 612.28,277.72 612.84,277.72 613.39,277.71 613.95,277.7 614.51,277.7 615.06,277.69 615.62,277.68 616.17,277.68 616.73,277.67 617.29,277.66 617.84,277.65 618.4,277.64 618.95,277.64 619.51,277.63 620.06,277.62 620.62,277.61 621.18,277.61 621.73,277.6 622.29,277.59 622.84,277.58 623.4,277.57 623.96,277.57 624.51,277.56 625.07,277.55 625.62,277.54 626.18,277.54 626.74,277.53 627.29,277.52 627.85,277.52 628.4,277.51 628.96,277.5 629.51,277.5 630.07,277.49 630.63,277.49 631.18,277.48 631.74,277.48 632.29,277.47 632.85,277.47 633.41,277.47 633.96,277.46 634.52,277.46 635.07,277.46 635.63,277.46 636.18,277.46 636.74,277.45 637.3,277.45 637.85,277.45 638.41,277.45 638.96,277.44 639.52,277.43 640.08,277.41 640.63,277.39 641.19,277.37 641.74,277.34 642.3,277.32 642.85,277.29 643.41,277.26 643.97,277.23 644.52,277.19 645.08,277.16 645.63,277.13 646.19,277.09 646.75,277.06 647.3,277.03 647.86,276.99 648.41,276.96 648.97,276.93 649.52,276.9 650.08,276.88 650.64,276.85 651.19,276.83 651.75,276.81 652.3,276.79 652.86,276.78 653.42,276.77 653.97,276.76 654.53,276.76 655.08,276.73 655.64,276.67 656.2,276.57 656.75,276.44 657.31,276.28 657.86,276.12 658.42,275.94 658.97,275.76 659.53,275.58 660.09,275.41 660.64,275.26 661.2,275.13 661.75,275.02 662.31,274.95 662.87,274.92 663.42,274.75 663.98,274.15 664.53,273.27 665.09,272.29 665.64,271.39 666.2,270.73 666.76,270.47 667.31,265.08 667.87,257.65 668.42,236.43 668.98,192" fill="none" stroke="#2b95c8" stroke-width="1.0" stroke-linejoin="round"/>
<polyline points="501.88,294.54 502.73,294.52 503.58,294.46 504.43,294.37 505.28,294.27 506.12,294.15 506.97,294.03 507.82,293.91 508.67,293.8 509.52,293.71 510.36,293.64 511.21,293.61 512.06,293.61 512.91,293.61 513.76,293.6 514.61,293.59 515.45,293.57 516.3,293.55 517.15,293.53 518,293.51 518.85,293.48 519.69,293.45 520.54,293.42 521.39,293.39 522.24,293.35 523.09,293.31 523.93,293.27 524.78,293.23 525.63,293.19 526.48,293.14 527.33,293.1 528.17,293.05 529.02,293.01 529.87,292.96 530.72,292.91 531.57,292.87 532.42,292.82 533.26,292.77 534.11,292.73 534.96,292.68 535.81,292.63 536.66,292.59 537.5,292.54 538.35,292.5 539.2,292.46 540.05,292.42 540.9,292.38 541.74,292.34 542.59,292.31 543.44,292.27 544.29,292.24 545.14,292.21 545.98,292.19 546.83,292.16 547.68,292.14 548.53,292.13 549.38,292.11 550.22,292.1 551.07,292.09 551.92,292.09 552.77,292.09 553.62,292.09 554.47,292.09 555.31,292.09 556.16,292.08 557.01,292.08 557.86,292.08 558.71,292.08 559.55,292.07 560.4,292.07 561.25,292.06 562.1,292.06 562.95,292.05 563.79,292.05 564.64,292.04 565.49,292.04 566.34,292.03 567.19,292.02 568.03,292.02 568.88,292.01 569.73,292 570.58,291.99 571.43,291.99 572.27,291.98 573.12,291.97 573.97,291.96 574.82,291.96 575.67,291.95 576.52,291.94 577.36,291.93 578.21,291.92 579.06,291.92 579.91,291.91 580.76,291.9 581.6,291.89 582.45,291.88 583.3,291.88 584.15,291.87 585,291.86 585.84,291.85 586.69,291.85 587.54,291.84 588.39,291.83 589.24,291.83 590.08,291.82 590.93,291.81 591.78,291.81 592.63,291.8 593.48,291.8 594.32,291.79 595.17,291.79 596.02,291.78 596.87,291.78 597.72,291.78 598.57,291.77 599.41,291.77 600.26,291.77 601.11,291.77 601.96,291.77 602.81,291.77 603.65,291.77 604.5,291.77 605.35,291.77 606.2,291.78 607.05,291.78 607.89,291.79 608.74,291.8 609.59,291.81 610.44,291.82 611.29,291.83 612.13,291.84 612.98,291.86 613.83,291.87 614.68,291.88 615.53,291.9 616.37,291.92 617.22,291.93 618.07,291.95 618.92,291.97 619.77,291.98 620.62,292 621.46,292.02 622.31,292.04 623.16,292.05 624.01,292.07 624.86,292.09 625.7,292.1 626.55,292.12 627.4,292.13 628.25,292.15 629.1,292.16 629.94,292.17 630.79,292.18 631.64,292.19 632.49,292.2 633.34,292.21 634.18,292.22 635.03,292.22 635.88,292.23 636.73,292.23 637.58,292.23 638.42,292.24 639.27,292.27 640.12,292.32 640.97,292.38 641.82,292.46 642.67,292.54 643.51,292.63 644.36,292.73 645.21,292.83 646.06,292.93 646.91,293.04 647.75,293.14 648.6,293.23 649.45,293.32 650.3,293.4 651.15,293.48 651.99,293.53 652.84,293.58 653.69,293.6 654.54,293.61 655.39,293.64 656.23,293.72 657.08,293.85 657.93,294.01 658.78,294.2 659.63,294.42 660.47,294.67 661.32,294.93 662.17,295.2 663.02,295.47 663.87,295.75 664.72,296.01 665.56,296.27 666.41,296.51 667.26,296.73 668.11,296.92 668.96,297.08 669.8,297.2 670.65,297.28 671.5,297.31" fill="none" stroke="#2b95c8" stroke-width="1.0" stroke-linejoin="round"/>
<polyline points="502.22,276.44 502.78,276.44 503.34,276.45 503.89,276.45 504.45,276.46 505,276.48 505.56,276.49 506.11,276.51 506.67,276.53 507.22,276.55 507.78,276.57 508.34,276.59 508.89,276.61 509.45,276.64 510,276.66 510.56,276.68 511.11,276.71 511.67,276.73 512.22,276.75 512.78,276.78 513.33,276.8 513.89,276.82 514.45,276.84 515,276.85 515.56,276.87 516.11,276.88 516.67,276.89 517.22,276.9 517.78,276.9 518.33,276.9 518.89,276.9 519.45,276.9 520,276.91 520.56,276.91 521.11,276.91 521.67,276.92 522.22,276.93 522.78,276.93 523.33,276.94 523.89,276.95 524.45,276.96 525,276.97 525.56,276.98 526.11,276.99 526.67,277.01 527.22,277.02 527.78,277.03 528.33,277.05 528.89,277.06 529.44,277.08 530,277.09 530.56,277.11 531.11,277.12 531.67,277.14 532.22,277.16 532.78,277.17 533.33,277.19 533.89,277.2 534.44,277.22 535,277.24 535.56,277.26 536.11,277.27 536.67,277.29 537.22,277.31 537.78,277.32 538.33,277.34 538.89,277.36 539.44,277.37 540,277.39 540.55,277.4 541.11,277.42 541.67,277.43 542.22,277.45 542.78,277.46 543.33,277.47 543.89,277.49 544.44,277.5 545,277.51 545.55,277.52 546.11,277.53 546.67,277.54 547.22,277.55 547.78,277.56 548.33,277.57 548.89,277.57 549.44,277.58 550,277.58 550.55,277.59 551.11,277.59 551.67,277.59 552.22,277.59 552.78,277.59 553.33,277.59 553.89,277.59 554.44,277.59 555,277.6 555.55,277.6 556.11,277.6 556.66,277.6 557.22,277.6 557.78,277.6 558.33,277.61 558.89,277.61 559.44,277.61 560,277.61 560.55,277.62 561.11,277.62 561.66,277.62 562.22,277.62 562.78,277.63 563.33,277.63 563.89,277.64 564.44,277.64 565,277.64 565.55,277.65 566.11,277.65 566.66,277.66 567.22,277.66 567.77,277.66 568.33,277.67 568.89,277.67 569.44,277.68 570,277.68 570.55,277.69 571.11,277.69 571.66,277.7 572.22,277.7 572.77,277.71 573.33,277.71 573.89,277.72 574.44,277.72 575,277.73 575.55,277.73 576.11,277.74 576.66,277.74 577.22,277.75 577.77,277.75 578.33,277.76 578.88,277.76 579.44,277.77 580,277.78 580.55,277.78 581.11,277.79 581.66,277.79 582.22,277.8 582.77,277.8 583.33,277.81 583.88,277.81 584.44,277.82 585,277.82 585.55,277.83 586.11,277.83 586.66,277.83 587.22,277.84 587.77,277.84 588.33,277.85 588.88,277.85 589.44,277.86 590,277.86 590.55,277.87 591.11,277.87 591.66,277.87 592.22,277.88 592.77,277.88 593.33,277.88 593.88,277.89 594.44,277.89 594.99,277.89 595.55,277.9 596.11,277.9 596.66,277.9 597.22,277.9 597.77,277.91 598.33,277.91 598.88,277.91 599.44,277.91 599.99,277.91 600.55,277.91 601.11,277.91 601.66,277.92 602.22,277.92 602.77,277.92 603.33,277.92 603.88,277.92 604.44,277.92 604.99,277.91 605.55,277.91 606.1,277.91 606.66,277.91 607.22,277.9 607.77,277.9 608.33,277.9 608.88,277.89 609.44,277.89 609.99,277.88 610.55,277.88 611.1,277.87 611.66,277.87 612.22,277.86 612.77,277.86 613.33,277.85 613.88,277.84 614.44,277.84 614.99,277.83 615.55,277.82 616.1,277.81 616.66,277.81 617.22,277.8 617.77,277.79 618.33,277.78 618.88,277.78 619.44,277.77 619.99,277.76 620.55,277.75 621.1,277.74 621.66,277.74 622.21,277.73 622.77,277.72 623.33,277.71 623.88,277.71 624.44,277.7 624.99,277.69 625.55,277.68 626.1,277.68 626.66,277.67 627.21,277.66 627.77,277.66 628.33,277.65 628.88,277.64 629.44,277.64 629.99,277.63 630.55,277.63 631.1,277.62 631.66,277.62 632.21,277.61 632.77,277.61 633.32,277.61 633.88,277.6 634.44,277.6 634.99,277.6 635.55,277.6 636.1,277.59 636.66,277.59 637.21,277.59 637.77,277.59 638.32,277.59 638.88,277.58 639.44,277.57 639.99,277.55 640.55,277.53 641.1,277.51 641.66,277.49 642.21,277.46 642.77,277.43 643.32,277.4 643.88,277.37 644.44,277.34 644.99,277.31 645.55,277.27 646.1,277.24 646.66,277.2 647.21,277.17 647.77,277.14 648.32,277.11 648.88,277.08 649.43,277.05 649.99,277.02 650.55,276.99 651.1,276.97 651.66,276.95 652.21,276.93 652.77,276.92 653.32,276.91 653.88,276.9 654.43,276.9 654.99,276.88 655.55,276.82 656.1,276.72 656.66,276.6 657.21,276.45 657.77,276.28 658.32,276.11 658.88,275.93 659.43,275.75 659.99,275.58 660.54,275.42 661.1,275.29 661.66,275.17 662.21,275.1 662.77,275.06 663.32,274.95 663.88,274.4 664.43,273.53 664.99,272.53 665.54,271.57 666.1,270.83 666.66,270.49 667.21,266.55 667.77,258.65 668.32,243.41 668.88,192" fill="none" stroke="#4aa6d2" stroke-width="1.0" stroke-linejoin="round"/>
<polyline points="501.88,294.67 502.73,294.65 503.58,294.6 504.43,294.51 505.28,294.41 506.12,294.29 506.97,294.17 507.82,294.05 508.67,293.94 509.52,293.85 510.36,293.78 511.21,293.75 512.06,293.75 512.91,293.75 513.76,293.74 514.61,293.73 515.45,293.71 516.3,293.69 517.15,293.67 518,293.65 518.85,293.62 519.69,293.59 520.54,293.56 521.39,293.52 522.24,293.49 523.09,293.45 523.93,293.41 524.78,293.37 525.63,293.33 526.48,293.28 527.33,293.24 528.17,293.19 529.02,293.15 529.87,293.1 530.72,293.05 531.57,293.01 532.42,292.96 533.26,292.91 534.11,292.86 534.96,292.82 535.81,292.77 536.66,292.73 537.5,292.68 538.35,292.64 539.2,292.6 540.05,292.56 540.9,292.52 541.74,292.48 542.59,292.44 543.44,292.41 544.29,292.38 545.14,292.35 545.98,292.33 546.83,292.3 547.68,292.28 548.53,292.26 549.38,292.25 550.22,292.24 551.07,292.23 551.92,292.23 552.77,292.23 553.62,292.23 554.47,292.23 555.31,292.22 556.16,292.22 557.01,292.22 557.86,292.22 558.71,292.21 559.55,292.21 560.4,292.21 561.25,292.2 562.1,292.2 562.95,292.19 563.79,292.19 564.64,292.18 565.49,292.17 566.34,292.17 567.19,292.16 568.03,292.15 568.88,292.15 569.73,292.14 570.58,292.13 571.43,292.13 572.27,292.12 573.12,292.11 573.97,292.1 574.82,292.09 575.67,292.09 576.52,292.08 577.36,292.07 578.21,292.06 579.06,292.05 579.91,292.05 580.76,292.04 581.6,292.03 582.45,292.02 583.3,292.02 584.15,292.01 585,292 585.84,291.99 586.69,291.99 587.54,291.98 588.39,291.97 589.24,291.97 590.08,291.96 590.93,291.95 591.78,291.95 592.63,291.94 593.48,291.94 594.32,291.93 595.17,291.93 596.02,291.92 596.87,291.92 597.72,291.92 598.57,291.91 599.41,291.91 600.26,291.91 601.11,291.91 601.96,291.91 602.81,291.9 603.65,291.9 604.5,291.91 605.35,291.91 606.2,291.91 607.05,291.92 607.89,291.93 608.74,291.94 609.59,291.95 610.44,291.96 611.29,291.97 612.13,291.98 612.98,291.99 613.83,292.01 614.68,292.02 615.53,292.04 616.37,292.05 617.22,292.07 618.07,292.09 618.92,292.11 619.77,292.12 620.62,292.14 621.46,292.16 622.31,292.17 623.16,292.19 624.01,292.21 624.86,292.22 625.7,292.24 626.55,292.25 627.4,292.27 628.25,292.28 629.1,292.3 629.94,292.31 630.79,292.32 631.64,292.33 632.49,292.34 633.34,292.35 634.18,292.35 635.03,292.36 635.88,292.36 636.73,292.37 637.58,292.37 638.42,292.38 639.27,292.41 640.12,292.46 640.97,292.52 641.82,292.59 642.67,292.68 643.51,292.77 644.36,292.87 645.21,292.97 646.06,293.07 646.91,293.17 647.75,293.27 648.6,293.37 649.45,293.46 650.3,293.54 651.15,293.61 651.99,293.67 652.84,293.72 653.69,293.74 654.54,293.75 655.39,293.78 656.23,293.86 657.08,293.99 657.93,294.15 658.78,294.34 659.63,294.56 660.47,294.81 661.32,295.06 662.17,295.33 663.02,295.61 663.87,295.88 664.72,296.15 665.56,296.41 666.41,296.65 667.26,296.87 668.11,297.06 668.96,297.22 669.8,297.34 670.65,297.42 671.5,297.44" fill="none" stroke="#4aa6d2" stroke-width="1.0" stroke-linejoin="round"/>
<polyline points="502.22,276.58 502.78,276.58 503.34,276.58 503.89,276.59 504.45,276.6 505,276.61 505.56,276.63 506.11,276.65 506.67,276.66 507.22,276.68 507.78,276.71 508.33,276.73 508.89,276.75 509.44,276.77 510,276.8 510.55,276.82 511.11,276.85 511.66,276.87 512.22,276.89 512.77,276.91 513.33,276.94 513.88,276.96 514.44,276.97 514.99,276.99 515.55,277 516.1,277.02 516.66,277.03 517.21,277.03 517.77,277.04 518.32,277.04 518.88,277.04 519.43,277.04 519.99,277.04 520.55,277.05 521.1,277.05 521.66,277.06 522.21,277.07 522.77,277.07 523.32,277.08 523.88,277.09 524.43,277.1 524.99,277.11 525.54,277.12 526.1,277.13 526.65,277.15 527.21,277.16 527.76,277.17 528.32,277.19 528.87,277.2 529.43,277.21 529.98,277.23 530.54,277.24 531.09,277.26 531.65,277.28 532.2,277.29 532.76,277.31 533.31,277.33 533.87,277.34 534.42,277.36 534.98,277.38 535.53,277.39 536.09,277.41 536.65,277.43 537.2,277.44 537.76,277.46 538.31,277.48 538.87,277.49 539.42,277.51 539.98,277.53 540.53,277.54 541.09,277.56 541.64,277.57 542.2,277.59 542.75,277.6 543.31,277.61 543.86,277.63 544.42,277.64 544.97,277.65 545.53,277.66 546.08,277.67 546.64,277.68 547.19,277.69 547.75,277.7 548.3,277.71 548.86,277.71 549.41,277.72 549.97,277.72 550.52,277.73 551.08,277.73 551.63,277.73 552.19,277.73 552.75,277.73 553.3,277.73 553.86,277.73 554.41,277.73 554.97,277.73 555.52,277.74 556.08,277.74 556.63,277.74 557.19,277.74 557.74,277.74 558.3,277.74 558.85,277.75 559.41,277.75 559.96,277.75 560.52,277.75 561.07,277.76 561.63,277.76 562.18,277.76 562.74,277.77 563.29,277.77 563.85,277.77 564.4,277.78 564.96,277.78 565.51,277.79 566.07,277.79 566.62,277.79 567.18,277.8 567.73,277.8 568.29,277.81 568.84,277.81 569.4,277.82 569.96,277.82 570.51,277.83 571.07,277.83 571.62,277.84 572.18,277.84 572.73,277.85 573.29,277.85 573.84,277.86 574.4,277.86 574.95,277.87 575.51,277.87 576.06,277.88 576.62,277.88 577.17,277.89 577.73,277.89 578.28,277.9 578.84,277.9 579.39,277.91 579.95,277.91 580.5,277.92 581.06,277.92 581.61,277.93 582.17,277.93 582.72,277.94 583.28,277.94 583.83,277.95 584.39,277.95 584.94,277.96 585.5,277.96 586.06,277.97 586.61,277.97 587.17,277.98 587.72,277.98 588.28,277.99 588.83,277.99 589.39,278 589.94,278 590.5,278 591.05,278.01 591.61,278.01 592.16,278.01 592.72,278.02 593.27,278.02 593.83,278.02 594.38,278.03 594.94,278.03 595.49,278.03 596.05,278.04 596.6,278.04 597.16,278.04 597.71,278.04 598.27,278.05 598.82,278.05 599.38,278.05 599.93,278.05 600.49,278.05 601.04,278.05 601.6,278.05 602.16,278.05 602.71,278.05 603.27,278.05 603.82,278.05 604.38,278.05 604.93,278.05 605.49,278.05 606.04,278.05 606.6,278.05 607.15,278.04 607.71,278.04 608.26,278.04 608.82,278.03 609.37,278.03 609.93,278.02 610.48,278.02 611.04,278.01 611.59,278.01 612.15,278 612.7,278 613.26,277.99 613.81,277.98 614.37,277.98 614.92,277.97 615.48,277.96 616.03,277.95 616.59,277.95 617.14,277.94 617.7,277.93 618.25,277.92 618.81,277.92 619.37,277.91 619.92,277.9 620.48,277.89 621.03,277.88 621.59,277.88 622.14,277.87 622.7,277.86 623.25,277.85 623.81,277.85 624.36,277.84 624.92,277.83 625.47,277.82 626.03,277.82 626.58,277.81 627.14,277.8 627.69,277.8 628.25,277.79 628.8,277.78 629.36,277.78 629.91,277.77 630.47,277.77 631.02,277.76 631.58,277.76 632.13,277.75 632.69,277.75 633.24,277.75 633.8,277.74 634.35,277.74 634.91,277.74 635.47,277.73 636.02,277.73 636.58,277.73 637.13,277.73 637.69,277.73 638.24,277.73 638.8,277.72 639.35,277.71 639.91,277.69 640.46,277.67 641.02,277.65 641.57,277.63 642.13,277.6 642.68,277.58 643.24,277.55 643.79,277.51 644.35,277.48 644.9,277.45 645.46,277.42 646.01,277.38 646.57,277.35 647.12,277.31 647.68,277.28 648.23,277.25 648.79,277.22 649.34,277.19 649.9,277.16 650.45,277.14 651.01,277.11 651.57,277.09 652.12,277.07 652.68,277.06 653.23,277.05 653.79,277.04 654.34,277.04 654.9,277.03 655.45,276.97 656.01,276.88 656.56,276.76 657.12,276.61 657.67,276.45 658.23,276.28 658.78,276.1 659.34,275.92 659.89,275.75 660.45,275.59 661,275.45 661.56,275.33 662.11,275.25 662.67,275.2 663.22,275.14 663.78,274.65 664.33,273.8 664.89,272.78 665.44,271.77 666,270.95 666.55,270.51 667.11,267.88 667.66,259.89 668.22,250.82 668.78,192" fill="none" stroke="#1b86bd" stroke-width="1.0" stroke-linejoin="round"/>
<polyline points="501.88,294.81 502.73,294.79 503.58,294.74 504.43,294.65 505.28,294.55 506.12,294.43 506.97,294.31 507.82,294.19 508.67,294.08 509.52,293.99 510.36,293.92 511.21,293.89 512.06,293.89 512.91,293.88 513.76,293.88 514.61,293.86 515.45,293.85 516.3,293.83 517.15,293.81 518,293.78 518.85,293.76 519.69,293.73 520.54,293.7 521.39,293.66 522.24,293.63 523.09,293.59 523.93,293.55 524.78,293.51 525.63,293.47 526.48,293.42 527.33,293.38 528.17,293.33 529.02,293.29 529.87,293.24 530.72,293.19 531.57,293.14 532.42,293.1 533.26,293.05 534.11,293 534.96,292.96 535.81,292.91 536.66,292.86 537.5,292.82 538.35,292.78 539.2,292.74 540.05,292.69 540.9,292.66 541.74,292.62 542.59,292.58 543.44,292.55 544.29,292.52 545.14,292.49 545.98,292.46 546.83,292.44 547.68,292.42 548.53,292.4 549.38,292.39 550.22,292.38 551.07,292.37 551.92,292.37 552.77,292.37 553.62,292.37 554.47,292.36 555.31,292.36 556.16,292.36 557.01,292.36 557.86,292.36 558.71,292.35 559.55,292.35 560.4,292.34 561.25,292.34 562.1,292.34 562.95,292.33 563.79,292.32 564.64,292.32 565.49,292.31 566.34,292.31 567.19,292.3 568.03,292.29 568.88,292.29 569.73,292.28 570.58,292.27 571.43,292.26 572.27,292.26 573.12,292.25 573.97,292.24 574.82,292.23 575.67,292.23 576.52,292.22 577.36,292.21 578.21,292.2 579.06,292.19 579.91,292.19 580.76,292.18 581.6,292.17 582.45,292.16 583.3,292.15 584.15,292.15 585,292.14 585.84,292.13 586.69,292.12 587.54,292.12 588.39,292.11 589.24,292.1 590.08,292.1 590.93,292.09 591.78,292.09 592.63,292.08 593.48,292.07 594.32,292.07 595.17,292.07 596.02,292.06 596.87,292.06 597.72,292.05 598.57,292.05 599.41,292.05 600.26,292.05 601.11,292.05 601.96,292.04 602.81,292.04 603.65,292.04 604.5,292.04 605.35,292.05 606.2,292.05 607.05,292.06 607.89,292.07 608.74,292.07 609.59,292.08 610.44,292.09 611.29,292.11 612.13,292.12 612.98,292.13 613.83,292.15 614.68,292.16 615.53,292.18 616.37,292.19 617.22,292.21 618.07,292.23 618.92,292.24 619.77,292.26 620.62,292.28 621.46,292.3 622.31,292.31 623.16,292.33 624.01,292.35 624.86,292.36 625.7,292.38 626.55,292.39 627.4,292.41 628.25,292.42 629.1,292.44 629.94,292.45 630.79,292.46 631.64,292.47 632.49,292.48 633.34,292.49 634.18,292.49 635.03,292.5 635.88,292.5 636.73,292.5 637.58,292.51 638.42,292.52 639.27,292.55 640.12,292.6 640.97,292.66 641.82,292.73 642.67,292.82 643.51,292.91 644.36,293.01 645.21,293.11 646.06,293.21 646.91,293.31 647.75,293.41 648.6,293.51 649.45,293.6 650.3,293.68 651.15,293.75 651.99,293.81 652.84,293.85 653.69,293.88 654.54,293.89 655.39,293.92 656.23,294 657.08,294.12 657.93,294.29 658.78,294.48 659.63,294.7 660.47,294.94 661.32,295.2 662.17,295.47 663.02,295.75 663.87,296.02 664.72,296.29 665.56,296.55 666.41,296.79 667.26,297.01 668.11,297.2 668.96,297.36 669.8,297.48 670.65,297.56 671.5,297.58" fill="none" stroke="#1b86bd" stroke-width="1.0" stroke-linejoin="round"/>
<rect x="499.5" y="191.5" width="172" height="139" fill="none" stroke="#727272" stroke-width="1.2"/>
<line x1="499.5" y1="330.5" x2="502.5" y2="330.5" stroke="#727272" stroke-width="1"/>
<line x1="499.5" y1="307.5" x2="502.5" y2="307.5" stroke="#727272" stroke-width="1"/>
<line x1="499.5" y1="284.5" x2="502.5" y2="284.5" stroke="#727272" stroke-width="1"/>
<line x1="499.5" y1="261.5" x2="502.5" y2="261.5" stroke="#727272" stroke-width="1"/>
<line x1="499.5" y1="238.5" x2="502.5" y2="238.5" stroke="#727272" stroke-width="1"/>
<line x1="499.5" y1="215.5" x2="502.5" y2="215.5" stroke="#727272" stroke-width="1"/>
<line x1="499.5" y1="192.5" x2="502.5" y2="192.5" stroke="#727272" stroke-width="1"/>
<line x1="499.5" y1="318.5" x2="501.5" y2="318.5" stroke="#727272" stroke-width="1"/>
<line x1="499.5" y1="295.5" x2="501.5" y2="295.5" stroke="#727272" stroke-width="1"/>
<line x1="499.5" y1="272.5" x2="501.5" y2="272.5" stroke="#727272" stroke-width="1"/>
<line x1="499.5" y1="249.5" x2="501.5" y2="249.5" stroke="#727272" stroke-width="1"/>
<line x1="499.5" y1="226.5" x2="501.5" y2="226.5" stroke="#727272" stroke-width="1"/>
<line x1="499.5" y1="203.5" x2="501.5" y2="203.5" stroke="#727272" stroke-width="1"/>
<text x="496.8" y="198.95" font-size="12.5" text-anchor="end" fill="#141414" color="#141414">0.20</text>
<text x="496.8" y="220.15" font-size="12.5" text-anchor="end" fill="#141414" color="#141414">0.15</text>
<text x="496.8" y="243.05" font-size="12.5" text-anchor="end" fill="#141414" color="#141414">0.10</text>
<text x="496.8" y="265.35" font-size="12.5" text-anchor="end" fill="#141414" color="#141414">0.05</text>
<text x="496.8" y="288.65" font-size="12.5" text-anchor="end" fill="#141414" color="#141414">0.00</text>
<text x="496.8" y="311.95" font-size="12.5" text-anchor="end" fill="#141414" color="#141414">− 0.05</text>
<text x="496.8" y="336.95" font-size="12.5" text-anchor="end" fill="#141414" color="#141414">− 0.10</text>
<line x1="501.5" y1="330.5" x2="501.5" y2="327.5" stroke="#727272" stroke-width="1"/>
<line x1="535.5" y1="330.5" x2="535.5" y2="327.5" stroke="#727272" stroke-width="1"/>
<line x1="569.5" y1="330.5" x2="569.5" y2="327.5" stroke="#727272" stroke-width="1"/>
<line x1="603.5" y1="330.5" x2="603.5" y2="327.5" stroke="#727272" stroke-width="1"/>
<line x1="637.5" y1="330.5" x2="637.5" y2="327.5" stroke="#727272" stroke-width="1"/>
<line x1="671.5" y1="330.5" x2="671.5" y2="327.5" stroke="#727272" stroke-width="1"/>
<line x1="518.5" y1="330.5" x2="518.5" y2="328.5" stroke="#727272" stroke-width="1"/>
<line x1="552.5" y1="330.5" x2="552.5" y2="328.5" stroke="#727272" stroke-width="1"/>
<line x1="586.5" y1="330.5" x2="586.5" y2="328.5" stroke="#727272" stroke-width="1"/>
<line x1="620.5" y1="330.5" x2="620.5" y2="328.5" stroke="#727272" stroke-width="1"/>
<line x1="654.5" y1="330.5" x2="654.5" y2="328.5" stroke="#727272" stroke-width="1"/>
<text x="536.76" y="345.3" font-size="12.5" text-anchor="middle" fill="#141414" color="#141414">1</text>
<text x="570.82" y="345.3" font-size="12.5" text-anchor="middle" fill="#141414" color="#141414">2</text>
<text x="604.88" y="345.3" font-size="12.5" text-anchor="middle" fill="#141414" color="#141414">3</text>
<text x="638.94" y="345.3" font-size="12.5" text-anchor="middle" fill="#141414" color="#141414">4</text>
<text x="673" y="345.3" font-size="12.5" text-anchor="middle" fill="#141414" color="#141414">5</text>
<text x="505.5" y="345.3" font-size="12.5" text-anchor="middle" fill="#141414" color="#141414">0</text>
<line x1="499" y1="191.5" x2="499" y2="330.5" stroke="#b4b4b4" stroke-width="2"/>
<text x="606" y="358.4" font-size="13" text-anchor="middle" font-weight="bold" fill="#141414" color="#141414">Capacity (mAh·cm<tspan font-size="8" dy="-4.5">-2</tspan><tspan dy="4.5">)</tspan></text>
<text x="461.3" y="262" font-size="12.85" text-anchor="middle" font-weight="bold" fill="#141414" color="#141414" transform="rotate(-90 461.3 262)">Voltage (V vs.Li<tspan font-size="8" dy="-4.5">+</tspan><tspan dy="4.5">/Li)</tspan></text>
<line x1="540.5" y1="199.4" x2="555.1" y2="199.4" stroke="#5a8fc6" stroke-width="2.0"/>
<line x1="590.8" y1="199.4" x2="604.6" y2="199.4" stroke="#c8e6ef" stroke-width="1.3"/>
<text x="558.3" y="202.5" font-size="13" text-anchor="start" fill="#141414" color="#141414">10th</text>
<text x="608" y="202.5" font-size="13" text-anchor="start" fill="#141414" color="#141414">60th</text>
<line x1="540.5" y1="211.2" x2="555.1" y2="211.2" stroke="#9dbfe0" stroke-width="1.4"/>
<line x1="590.8" y1="211.2" x2="604.6" y2="211.2" stroke="#a9d9e8" stroke-width="1.3"/>
<text x="558.3" y="213.6" font-size="13" text-anchor="start" fill="#141414" color="#141414">20th</text>
<text x="608" y="213.6" font-size="13" text-anchor="start" fill="#141414" color="#141414">70th</text>
<line x1="540.5" y1="222.4" x2="555.1" y2="222.4" stroke="#2aa3cf" stroke-width="1.4"/>
<line x1="590.8" y1="222.4" x2="604.6" y2="222.4" stroke="#d4edf3" stroke-width="1.3"/>
<text x="558.3" y="224.6" font-size="13" text-anchor="start" fill="#141414" color="#141414">30th</text>
<text x="608" y="224.6" font-size="13" text-anchor="start" fill="#141414" color="#141414">80th</text>
<line x1="540.5" y1="235.3" x2="555.1" y2="235.3" stroke="#6cc0dc" stroke-width="1.4"/>
<line x1="590.8" y1="235.3" x2="604.6" y2="235.3" stroke="#d6eaf6" stroke-width="1.3"/>
<text x="558.3" y="239.3" font-size="13" text-anchor="start" fill="#141414" color="#141414">40th</text>
<text x="608" y="239.3" font-size="13" text-anchor="start" fill="#141414" color="#141414">90th</text>
<line x1="540.5" y1="247.4" x2="555.1" y2="247.4" stroke="#8fcde4" stroke-width="1.4"/>
<line x1="590.8" y1="247.4" x2="604.6" y2="247.4" stroke="#cfe6f3" stroke-width="1.3"/>
<text x="558.3" y="251.4" font-size="13" text-anchor="start" fill="#141414" color="#141414">50th</text>
<text x="608" y="251.4" font-size="13" text-anchor="start" fill="#141414" color="#141414">100th</text>
<text x="449.9" y="195.7" font-size="14.5" text-anchor="start" font-weight="bold" fill="#111" color="#111">f</text>
<path d="M49.6,441.04 L50.2,440.99 L50.8,440.91 L51.4,440.59 L52,441.02 L52.6,441.17 L53.2,440.67 L53.8,441 L54.4,440.89 L55,440.79 L55.6,431.75 L56.2,431.93 L56.8,431.27 L57.4,418.28 L58,418.68 L58.6,419.75 L59.2,420.05 L59.8,421.19 L60.4,421.51 L61,422.38 L61.6,423.49 L62.2,423.93 L62.8,424.61 L63.4,424.98 L64,425.53 L64.6,426.06 L65.2,426.77 L65.8,427.2 L66.4,427.29 L67,427.88 L67.6,428.36 L68.2,428.78 L68.8,429.39 L69.4,429.69 L70,429.53 L70.6,430.01 L71.2,430.13 L71.8,430.35 L72.4,430.67 L73,431 L73.6,431.65 L74.2,431.83 L74.8,432.14 L75.4,432 L76,432.1 L76.6,432.87 L77.2,432.95 L77.8,433.21 L78.4,432.73 L79,433.15 L79.6,433.46 L80.2,433.68 L80.8,433.94 L81.4,433.81 L82,433.82 L82.6,433.67 L83.2,434.34 L83.8,434.57 L84.4,434.62 L85,434.55 L85.6,434.41 L86.2,434.43 L86.8,434.88 L87.4,435.08 L88,435.17 L88.6,434.69 L89.2,435.04 L89.8,435.06 L90.4,435.06 L91,435.37 L91.6,435.53 L92.2,435.43 L92.8,435.46 L93.4,435.51 L94,435.52 L94.6,435.49 L95.2,435.33 L95.8,435.74 L96.4,435.31 L97,435.71 L97.6,435.57 L98.2,435.72 L98.8,435.81 L99.4,435.72 L100,436.1 L100.6,435.61 L101.2,435.47 L101.8,436.16 L102.4,435.73 L103,435.73 L103.6,435.84 L104.2,435.99 L104.8,436.28 L105.4,436.1 L106,435.85 L106.6,436.02 L107.2,435.97 L107.8,436.02 L108.4,435.98 L109,435.81 L109.6,435.99 L110.2,435.99 L110.8,435.87 L111.4,436.31 L112,436.01 L112.6,435.87 L113.2,436.17 L113.8,436.37 L114.4,436.34 L115,436.23 L115.6,436.32 L116.2,436.05 L116.8,435.92 L117.4,436 L118,436.08 L118.6,436.03 L119.2,436.17 L119.8,435.95 L120.4,435.94 L121,436.03 L121.6,436 L122.2,436.43 L122.8,436.25 L123.4,436.01 L124,436.18 L124.6,436.49 L125.2,436.29 L125.8,436.28 L126.4,436.16 L127,436.03 L127.6,436.33 L128.2,435.95 L128.8,436.45 L129.4,435.94 L130,436.43 L130.6,436.18 L131.2,436.39 L131.8,436.33 L132.4,436 L133,436.29 L133.6,435.97 L134.2,436.09 L134.8,436.19 L135.4,436.12 L136,436.39 L136.6,436.62 L137.2,436.18 L137.8,436.51 L138.4,436.09 L139,436.43 L139.6,436.17 L140.2,436.31 L140.8,435.99 L141.4,436.51 L142,436.08 L142.6,436.26 L143.2,436.14 L143.8,436.5 L144.4,436.35 L145,436.37 L145.6,436.47 L146.2,436.12 L146.8,435.99 L147.4,436.53 L148,436.18 L148.6,436.53 L149.2,436.64 L149.8,436.41 L150.4,436.05 L151,436.58 L151.6,436.43 L152.2,436.17 L152.8,436.15 L153.4,436.36 L154,436.1 L154.6,436.65 L155.2,436.52 L155.8,436.6 L156.4,436.3 L157,436.69 L157.6,436.14 L158.2,436.55 L158.8,436.24 L159.4,436.07 L160,436.16 L160.6,436.22 L161.2,436.62 L161.8,436.35 L162.4,436.43 L163,436.53 L163.6,436.29 L164.2,436.56 L164.8,436.59 L165.4,436.77 L166,436.48 L166.6,436.73 L167.2,436.82 L167.8,436.68 L168.4,436.44 L169,436.35 L169.6,436.23 L170.2,436.75 L170.8,436.26 L171.4,436.57 L172,436.5 L172.6,436.22 L173.2,436.35 L173.8,436.78 L174.4,436.58 L175,436.86 L175.6,436.85 L176.2,436.29 L176.8,436.7 L177.4,436.27 L178,436.54 L178.6,436.56 L179.2,436.92 L179.8,436.68 L180.4,436.4 L181,436.63 L181.6,436.64 L182.2,436.42 L182.8,436.54 L183.4,436.91 L184,436.99 L184.6,436.85 L185.2,436.35 L185.8,436.95 L186.4,436.64 L187,436.91 L187.6,436.46 L188.2,436.44 L188.8,436.98 L189.4,436.55 L190,436.39 L190.6,436.71 L191.2,437.06 L191.8,436.96 L192.4,436.66 L193,437.08 L193.6,436.95 L194.2,436.98 L194.8,436.85 L195.4,436.68 L196,437.05 L196.6,436.75 L197.2,437.08 L197.8,436.82 L198.4,437.07 L199,436.77 L199.6,436.74 L200.2,436.86 L200.8,436.68 L201.4,436.56 L202,436.87 L202.6,437.06 L203.2,436.66 L203.8,437.07 L204.4,437.02 L205,437.01 L205.6,436.76 L206.2,437.17 L206.8,437.03 L207.4,436.88 L208,436.56 L208.6,436.89 L209.2,436.5 L209.8,437.12 L210.4,436.73 L211,436.75 L211.6,436.88 L212.2,436.95 L212.8,436.91 L213.4,436.84 L214,436.95 L214.6,437.1 L215.2,436.82 L215.8,436.86 L216.4,437.08 L217,436.52 L217.6,436.63 L218.2,436.75 L218.8,436.67 L219.4,437.15 L220,436.63 L220.6,436.61 L221.2,436.76 L221.8,436.89 L222.4,437.11 L223,437.24 L223.6,437.14 L224.2,436.97 L224.8,436.58 L225.4,436.6 L226,437 L226.6,437.13 L227.2,436.74 L227.8,437.24 L228.4,436.95 L229,436.97 L229.6,437 L230.2,436.62 L230.8,436.69 L231.4,437.23 L232,436.77 L232.6,436.64 L233.2,436.78 L233.8,437.09 L234.4,436.77 L235,436.74 L235.6,436.79 L236.2,436.93 L236.8,437.11 L237.4,436.81 L238,437.21 L238.6,437.29 L239.2,437.18 L239.8,436.66 L240.4,436.83 L241,437.26 L241.6,437.22 L242.2,436.71 L242.8,436.93 L243.4,436.88 L244,437.15 L244.6,436.65 L245.2,436.85 L245.8,437.16 L246.4,437.26 L247,436.67 L247.6,437.05 L248.2,437.11 L248.8,437.26 L249.4,436.94 L250,437.33 L250.6,436.79 L251.2,436.74 L251.8,436.75 L252.4,437.07 L253,436.75 L253.6,436.85 L254.2,436.8 L254.8,436.71 L255.4,437.35 L256,436.91 L256.6,437.35 L257.2,437.19 L257.8,436.84 L258.4,437.34 L259,436.69 L259.6,437.38 L260.2,436.71 L260.8,436.87 L261.4,437.08 L262,436.7 L262.6,437.24 L263.2,436.76 L263.8,437.28 L264.4,436.73 L265,437.08 L265.6,436.86 L266.2,436.92 L266.8,437.06 L267.4,436.98 L268,437 L268.6,437.18 L269.2,436.86 L269.8,436.86 L270.4,437.21 L271,436.94 L271.6,437.39 L272.2,437.04 L272.8,437.07 L273.4,436.76 L274,436.76 L274.6,436.82 L275.2,437.19 L275.8,437.22 L276.4,437.42 L277,437.06 L277.6,437.26 L278.2,437 L278.8,436.82 L279.4,437.06 L280,437.26 L280.6,437.34 L281.2,437.44 L281.8,437.36 L282.4,437.17 L283,437.17 L283.6,437.14 L284.2,437.12 L284.8,437.27 L285.4,437.19 L286,437.39 L286.6,437.11 L287.2,437.13 L287.8,437.38 L288.4,437.28 L289,437.17 L289.6,437.2 L290.2,437.37 L290.8,437.24 L291.4,437 L292,437.04 L292.6,437.24 L293.2,436.85 L293.8,437.15 L294.4,437.45 L295,436.99 L295.6,437.14 L296.2,437.32 L296.8,437.49 L297.4,437.33 L298,437.28 L298.6,437.11 L299.2,437.15 L299.8,437.3 L300.4,437.04 L301,437.25 L301.6,436.61 L302.2,437.04 L302.8,436.94 L303.4,436.54 L304,436.25 L304.6,436.38 L305.2,436.46 L305.8,436.51 L306.4,436.47 L307,435.92 L307.6,435.74 L308.2,435.67 L308.8,436.19 L309.4,435.86 L310,435.4 L310.6,435.43 L311.2,434.69 L311.8,433.61 L312.4,432.94 L313,433.05 L313.6,432.46 L314.2,431.7 L314.8,431.7 L315.4,431.11 L316,430.76 L316.6,430.21 L317.2,429.76 L317.8,428.43 L318.4,427.1 L319,425.64 L319.6,423.89 L320.2,420.99 L320.8,415.04 L321.4,406.46 L322,412.08 L322.3,428.08 L322.3,468.24 L322,486.2 L321.4,491.97 L320.8,483.32 L320.2,477.4 L319.6,474.39 L319,472.07 L318.4,471.22 L317.8,470.04 L317.2,468.63 L316.6,467.98 L316,467.5 L315.4,467.38 L314.8,466.81 L314.2,466.02 L313.6,465.67 L313,465.1 L312.4,464.41 L311.8,463.88 L311.2,463.44 L310.6,462.09 L310,462.04 L309.4,462.07 L308.8,461.91 L308.2,461.47 L307.6,461.64 L307,461.3 L306.4,461.26 L305.8,461.17 L305.2,461.33 L304.6,461.16 L304,461.15 L303.4,461.07 L302.8,461.09 L302.2,460.83 L301.6,461.04 L301,460.91 L300.4,460.79 L299.8,461.02 L299.2,460.93 L298.6,460.57 L298,460.73 L297.4,460.73 L296.8,460.67 L296.2,460.67 L295.6,460.7 L295,460.48 L294.4,460.88 L293.8,460.58 L293.2,460.76 L292.6,460.57 L292,460.88 L291.4,460.67 L290.8,460.7 L290.2,460.37 L289.6,460.56 L289,460.59 L288.4,460.62 L287.8,460.47 L287.2,460.4 L286.6,460.44 L286,460.44 L285.4,460.98 L284.8,460.68 L284.2,460.52 L283.6,460.93 L283,460.52 L282.4,460.8 L281.8,461.05 L281.2,460.47 L280.6,460.47 L280,460.7 L279.4,460.89 L278.8,460.99 L278.2,460.67 L277.6,460.75 L277,460.49 L276.4,460.73 L275.8,460.7 L275.2,461.03 L274.6,460.7 L274,460.41 L273.4,460.45 L272.8,461 L272.2,460.69 L271.6,460.97 L271,460.54 L270.4,461.03 L269.8,460.43 L269.2,460.94 L268.6,460.77 L268,460.93 L267.4,460.51 L266.8,460.8 L266.2,460.51 L265.6,460.93 L265,461.02 L264.4,460.66 L263.8,460.7 L263.2,461.07 L262.6,460.52 L262,460.41 L261.4,460.99 L260.8,460.7 L260.2,460.52 L259.6,460.7 L259,460.66 L258.4,460.46 L257.8,460.9 L257.2,460.43 L256.6,460.98 L256,460.7 L255.4,460.97 L254.8,460.7 L254.2,460.83 L253.6,460.91 L253,460.86 L252.4,460.66 L251.8,460.48 L251.2,461.09 L250.6,460.4 L250,460.51 L249.4,460.6 L248.8,460.95 L248.2,460.82 L247.6,461.07 L247,460.83 L246.4,460.52 L245.8,460.79 L245.2,460.73 L244.6,460.7 L244,460.79 L243.4,460.62 L242.8,460.84 L242.2,461.05 L241.6,460.53 L241,460.64 L240.4,461.1 L239.8,460.59 L239.2,460.5 L238.6,461.11 L238,461.1 L237.4,460.77 L236.8,460.87 L236.2,460.46 L235.6,461.03 L235,460.58 L234.4,460.42 L233.8,460.76 L233.2,460.54 L232.6,461.1 L232,460.82 L231.4,461.09 L230.8,461 L230.2,460.73 L229.6,460.53 L229,460.67 L228.4,460.95 L227.8,460.48 L227.2,460.64 L226.6,460.89 L226,460.91 L225.4,460.73 L224.8,461 L224.2,460.93 L223.6,460.46 L223,460.84 L222.4,460.54 L221.8,460.95 L221.2,460.82 L220.6,460.82 L220,460.44 L219.4,460.78 L218.8,460.83 L218.2,460.99 L217.6,461.07 L217,460.92 L216.4,460.83 L215.8,460.79 L215.2,460.46 L214.6,460.95 L214,460.61 L213.4,460.95 L212.8,460.61 L212.2,461.12 L211.6,461.02 L211,460.75 L210.4,460.72 L209.8,461.05 L209.2,460.84 L208.6,460.81 L208,460.72 L207.4,460.69 L206.8,460.67 L206.2,460.92 L205.6,460.87 L205,460.85 L204.4,460.84 L203.8,460.9 L203.2,460.7 L202.6,460.6 L202,461.1 L201.4,460.75 L200.8,460.48 L200.2,460.89 L199.6,460.66 L199,461.12 L198.4,460.8 L197.8,460.67 L197.2,460.64 L196.6,461.05 L196,460.69 L195.4,460.7 L194.8,460.6 L194.2,460.49 L193.6,461.08 L193,460.94 L192.4,460.53 L191.8,460.53 L191.2,460.78 L190.6,460.83 L190,460.89 L189.4,461.12 L188.8,460.92 L188.2,461.2 L187.6,460.9 L187,461.02 L186.4,460.73 L185.8,460.56 L185.2,460.61 L184.6,460.9 L184,460.77 L183.4,460.55 L182.8,460.55 L182.2,460.86 L181.6,460.75 L181,460.54 L180.4,461.22 L179.8,461 L179.2,461.12 L178.6,460.94 L178,460.78 L177.4,460.68 L176.8,461 L176.2,460.61 L175.6,461.16 L175,461.03 L174.4,460.98 L173.8,460.81 L173.2,460.59 L172.6,460.82 L172,460.68 L171.4,460.71 L170.8,460.66 L170.2,461.11 L169.6,460.72 L169,460.63 L168.4,460.88 L167.8,460.83 L167.2,460.94 L166.6,460.92 L166,461 L165.4,461.2 L164.8,460.9 L164.2,460.98 L163.6,461.23 L163,460.98 L162.4,461.23 L161.8,460.96 L161.2,460.83 L160.6,460.77 L160,460.71 L159.4,461.24 L158.8,460.88 L158.2,460.72 L157.6,460.69 L157,460.63 L156.4,461.12 L155.8,461.29 L155.2,460.67 L154.6,460.89 L154,460.92 L153.4,460.87 L152.8,461.24 L152.2,460.82 L151.6,460.8 L151,461.33 L150.4,461.08 L149.8,460.85 L149.2,460.68 L148.6,461.32 L148,460.75 L147.4,460.91 L146.8,461.13 L146.2,461.11 L145.6,461.22 L145,461.27 L144.4,461.28 L143.8,461.03 L143.2,461.35 L142.6,460.93 L142,460.81 L141.4,461.19 L140.8,461.37 L140.2,461.06 L139.6,460.82 L139,460.73 L138.4,461.17 L137.8,461.28 L137.2,461.33 L136.6,461.31 L136,461.08 L135.4,461 L134.8,460.92 L134.2,461.3 L133.6,460.83 L133,461.16 L132.4,460.88 L131.8,461.14 L131.2,460.77 L130.6,460.81 L130,461.16 L129.4,461.05 L128.8,460.83 L128.2,461.23 L127.6,461.35 L127,461.14 L126.4,460.86 L125.8,460.84 L125.2,460.77 L124.6,461.09 L124,461.04 L123.4,461.02 L122.8,461.1 L122.2,461.04 L121.6,461.32 L121,461.45 L120.4,461.45 L119.8,461.18 L119.2,461.44 L118.6,461.38 L118,460.88 L117.4,460.92 L116.8,461.27 L116.2,461.5 L115.6,461.48 L115,461.46 L114.4,461.06 L113.8,461.2 L113.2,461.18 L112.6,461.53 L112,461.37 L111.4,461.41 L110.8,461.58 L110.2,461.3 L109.6,461.24 L109,461.15 L108.4,461.21 L107.8,461.07 L107.2,461.24 L106.6,461.38 L106,461.29 L105.4,461.33 L104.8,461.31 L104.2,461.75 L103.6,461.87 L103,461.31 L102.4,461.78 L101.8,461.43 L101.2,461.4 L100.6,461.81 L100,461.93 L99.4,461.72 L98.8,461.86 L98.2,461.73 L97.6,461.73 L97,461.6 L96.4,461.72 L95.8,462.24 L95.2,461.81 L94.6,462.37 L94,462.36 L93.4,461.93 L92.8,462.55 L92.2,462.1 L91.6,462.19 L91,462.64 L90.4,462.62 L89.8,462.38 L89.2,462.33 L88.6,462.69 L88,462.72 L87.4,462.89 L86.8,463.05 L86.2,462.92 L85.6,463.48 L85,463.11 L84.4,463.23 L83.8,463.36 L83.2,463.69 L82.6,463.64 L82,463.7 L81.4,463.85 L80.8,463.85 L80.2,464 L79.6,464.39 L79,464.69 L78.4,464.5 L77.8,464.72 L77.2,465.46 L76.6,465.57 L76,465.31 L75.4,465.49 L74.8,465.77 L74.2,466.64 L73.6,466.85 L73,466.56 L72.4,467.1 L71.8,467.39 L71.2,467.4 L70.6,467.81 L70,468.24 L69.4,468.51 L68.8,469.38 L68.2,469.58 L67.6,469.99 L67,470.49 L66.4,470.66 L65.8,471.12 L65.2,471.3 L64.6,471.97 L64,472.29 L63.4,473.01 L62.8,473.79 L62.2,474.2 L61.6,475.05 L61,475.72 L60.4,476.2 L59.8,477.08 L59.2,478.07 L58.6,478.58 L58,479.18 L57.4,479.67 L56.8,466.72 L56.2,466.6 L55.6,466.47 L55,458.04 L54.4,457.55 L53.8,458.17 L53.2,458.07 L52.6,458.24 L52,457.66 L51.4,457.7 L50.8,457.83 L50.2,457.72 L49.6,457.99Z" fill="#ee8d68" stroke="none" stroke-width="1"/>
<path d="M49.6,444.83 L50.2,444.74 L50.8,445.07 L51.4,444.93 L52,445.13 L52.6,444.88 L53.2,444.96 L53.8,445.18 L54.4,444.76 L55,444.94 L55.6,439.89 L56.2,440.12 L56.8,440.24 L57.4,440.39 L58,435.31 L58.6,435.03 L59.2,435.31 L59.8,435.56 L60.4,435.8 L61,436.02 L61.6,436.36 L62.2,436.51 L62.8,436.23 L63.4,436.36 L64,436.99 L64.6,436.65 L65.2,437.28 L65.8,436.91 L66.4,437.32 L67,437.18 L67.6,437.31 L68.2,437.55 L68.8,437.94 L69.4,438 L70,437.87 L70.6,437.87 L71.2,438.11 L71.8,438.09 L72.4,438.23 L73,438.48 L73.6,438.56 L74.2,438.91 L74.8,438.49 L75.4,438.84 L76,438.93 L76.6,438.76 L77.2,438.96 L77.8,438.9 L78.4,439.42 L79,439.16 L79.6,439.05 L80.2,439.36 L80.8,439.45 L81.4,439.73 L82,439.68 L82.6,439.43 L83.2,439.9 L83.8,439.41 L84.4,439.87 L85,439.53 L85.6,440.04 L86.2,439.71 L86.8,440.11 L87.4,440.17 L88,440.18 L88.6,439.82 L89.2,440.03 L89.8,439.89 L90.4,440.3 L91,440.5 L91.6,440.24 L92.2,440.35 L92.8,440.39 L93.4,440.11 L94,440.28 L94.6,440.29 L95.2,440.56 L95.8,440.38 L96.4,440.38 L97,440.51 L97.6,440.33 L98.2,440.27 L98.8,440.39 L99.4,440.28 L100,440.69 L100.6,440.59 L101.2,440.7 L101.8,440.69 L102.4,440.4 L103,440.87 L103.6,440.89 L104.2,440.42 L104.8,440.69 L105.4,440.92 L106,440.71 L106.6,440.99 L107.2,440.91 L107.8,440.9 L108.4,441.06 L109,441 L109.6,440.89 L110.2,440.58 L110.8,440.84 L111.4,440.99 L112,440.9 L112.6,440.95 L113.2,440.82 L113.8,441.12 L114.4,440.77 L115,441.02 L115.6,440.91 L116.2,440.74 L116.8,440.67 L117.4,440.75 L118,440.85 L118.6,440.97 L119.2,440.71 L119.8,440.74 L120.4,441.18 L121,441.3 L121.6,440.98 L122.2,441.01 L122.8,441.09 L123.4,440.79 L124,441.06 L124.6,441.15 L125.2,441.32 L125.8,441.14 L126.4,441.09 L127,441.01 L127.6,441.32 L128.2,441.09 L128.8,441.06 L129.4,441.22 L130,441.05 L130.6,440.83 L131.2,441.15 L131.8,441.32 L132.4,441.02 L133,440.86 L133.6,440.87 L134.2,441.35 L134.8,440.88 L135.4,441.21 L136,440.87 L136.6,441.13 L137.2,441.37 L137.8,440.97 L138.4,441.01 L139,441.2 L139.6,441.18 L140.2,441.17 L140.8,441.07 L141.4,440.86 L142,441.2 L142.6,441.01 L143.2,441.22 L143.8,441.11 L144.4,441.01 L145,441.45 L145.6,441.04 L146.2,441.44 L146.8,441.15 L147.4,441.19 L148,441.04 L148.6,440.99 L149.2,441.32 L149.8,441.18 L150.4,441.26 L151,441.03 L151.6,441.24 L152.2,441.33 L152.8,441.4 L153.4,441.35 L154,441.21 L154.6,441.38 L155.2,441.34 L155.8,441.27 L156.4,441.37 L157,441.19 L157.6,441.05 L158.2,441.11 L158.8,441.61 L159.4,441.57 L160,441.54 L160.6,441.21 L161.2,441.57 L161.8,441.54 L162.4,441.4 L163,441.27 L163.6,441.16 L164.2,441.7 L164.8,441.71 L165.4,441.63 L166,441.4 L166.6,441.57 L167.2,441.69 L167.8,441.48 L168.4,441.24 L169,441.76 L169.6,441.5 L170.2,441.65 L170.8,441.57 L171.4,441.24 L172,441.49 L172.6,441.23 L173.2,441.39 L173.8,441.81 L174.4,441.66 L175,441.59 L175.6,441.33 L176.2,441.68 L176.8,441.64 L177.4,441.67 L178,441.71 L178.6,441.86 L179.2,441.58 L179.8,441.69 L180.4,441.65 L181,441.69 L181.6,441.75 L182.2,441.47 L182.8,441.39 L183.4,441.44 L184,441.4 L184.6,441.72 L185.2,441.58 L185.8,441.87 L186.4,441.51 L187,441.51 L187.6,441.95 L188.2,441.49 L188.8,441.66 L189.4,441.87 L190,441.8 L190.6,441.63 L191.2,441.56 L191.8,441.83 L192.4,441.64 L193,442.02 L193.6,441.67 L194.2,442.08 L194.8,441.54 L195.4,441.9 L196,441.71 L196.6,441.84 L197.2,441.82 L197.8,442.05 L198.4,441.69 L199,442.05 L199.6,441.61 L200.2,441.98 L200.8,442.09 L201.4,441.86 L202,442.11 L202.6,441.81 L203.2,441.81 L203.8,442.15 L204.4,442.19 L205,442.07 L205.6,441.74 L206.2,442.17 L206.8,441.82 L207.4,442.12 L208,441.79 L208.6,441.73 L209.2,441.75 L209.8,442.01 L210.4,442.19 L211,441.91 L211.6,441.66 L212.2,442.01 L212.8,442.14 L213.4,442.07 L214,441.6 L214.6,441.79 L215.2,442.07 L215.8,442.02 L216.4,442.2 L217,442.14 L217.6,442.08 L218.2,442.01 L218.8,441.83 L219.4,441.62 L220,442.06 L220.6,441.87 L221.2,442.12 L221.8,441.68 L222.4,442.11 L223,441.99 L223.6,442.13 L224.2,442.02 L224.8,441.86 L225.4,441.91 L226,441.66 L226.6,441.75 L227.2,441.94 L227.8,441.71 L228.4,441.82 L229,441.99 L229.6,441.96 L230.2,442.14 L230.8,441.86 L231.4,441.93 L232,441.85 L232.6,442.05 L233.2,441.98 L233.8,442.17 L234.4,441.68 L235,441.68 L235.6,441.78 L236.2,441.97 L236.8,441.98 L237.4,441.72 L238,441.76 L238.6,441.96 L239.2,441.76 L239.8,442.1 L240.4,441.66 L241,442.07 L241.6,441.69 L242.2,442.03 L242.8,442.07 L243.4,442.17 L244,442.14 L244.6,441.61 L245.2,442 L245.8,442.15 L246.4,442.06 L247,441.87 L247.6,442.05 L248.2,441.77 L248.8,442.08 L249.4,441.84 L250,442.18 L250.6,441.62 L251.2,441.95 L251.8,441.68 L252.4,442.06 L253,442.18 L253.6,441.9 L254.2,442.1 L254.8,441.74 L255.4,441.62 L256,442.08 L256.6,441.85 L257.2,441.65 L257.8,442 L258.4,442.14 L259,441.65 L259.6,441.97 L260.2,441.81 L260.8,441.63 L261.4,441.64 L262,441.63 L262.6,441.78 L263.2,441.78 L263.8,441.92 L264.4,441.97 L265,442.11 L265.6,442.11 L266.2,441.7 L266.8,441.98 L267.4,442.13 L268,441.75 L268.6,441.96 L269.2,442.19 L269.8,441.98 L270.4,442.02 L271,441.79 L271.6,442.2 L272.2,442.1 L272.8,441.79 L273.4,441.78 L274,441.6 L274.6,441.89 L275.2,442.12 L275.8,442.07 L276.4,441.69 L277,441.75 L277.6,441.7 L278.2,441.76 L278.8,441.72 L279.4,441.7 L280,441.93 L280.6,442.15 L281.2,442.11 L281.8,441.97 L282.4,441.79 L283,442.15 L283.6,441.73 L284.2,441.62 L284.8,441.73 L285.4,442.07 L286,442.02 L286.6,441.79 L287.2,441.73 L287.8,441.98 L288.4,441.91 L289,442.08 L289.6,441.87 L290.2,441.65 L290.8,441.64 L291.4,441.74 L292,441.91 L292.6,442.03 L293.2,441.93 L293.8,441.61 L294.4,442.17 L295,441.87 L295.6,441.92 L296.2,441.72 L296.8,441.75 L297.4,441.73 L298,441.96 L298.6,442.15 L299.2,441.76 L299.8,441.81 L300.4,441.77 L301,441.62 L301.6,441.61 L302.2,442.07 L302.8,442.19 L303.4,441.63 L304,441.65 L304.6,441.87 L305.2,441.78 L305.8,441.75 L306.4,442.12 L307,441.72 L307.6,441.72 L308.2,442.14 L308.8,441.97 L309.4,442.01 L310,442 L310.6,441.62 L311.2,442.19 L311.8,441.62 L312.4,441.74 L313,441.89 L313.6,442.1 L314.2,442.17 L314.8,441.61 L315.4,441.68 L316,441.61 L316.6,441.68 L317.2,442.15 L317.8,441.65 L318.4,441.92 L319,441.72 L319.6,441.6 L320.2,441.77 L320.8,441.76 L321.4,441.93 L322,442.12 L322.6,441.92 L323.2,441.92 L323.8,441.77 L324.4,441.71 L325,441.89 L325.6,441.84 L326.2,442.14 L326.8,441.72 L327.4,441.62 L328,441.63 L328.6,441.79 L329.2,441.73 L329.8,441.84 L330.4,442.12 L331,442.02 L331.6,441.92 L332.2,442.05 L332.8,442.07 L333.4,441.57 L334,441.93 L334.6,441.59 L335.2,441.74 L335.8,441.72 L336.4,441.63 L337,441.48 L337.6,441.56 L338.2,441.86 L338.8,442 L339.4,441.95 L340,441.41 L340.6,441.73 L341.2,441.49 L341.8,441.67 L342.4,441.67 L343,441.43 L343.6,441.38 L344.2,441.6 L344.8,441.33 L345.4,441.79 L346,441.81 L346.6,441.27 L347.2,441.73 L347.8,441.74 L348.4,441.25 L349,441.57 L349.6,441.49 L350.2,441.29 L350.8,441.67 L351.4,441.5 L352,441.64 L352.6,441.7 L353.2,441.71 L353.8,441.51 L354.4,441.63 L355,441.13 L355.6,441.28 L356.2,441.35 L356.8,441.36 L357.4,441.26 L358,441.52 L358.6,441.37 L359.2,441.51 L359.8,441.26 L360.4,441.55 L361,441.18 L361.6,441.55 L362.2,441.28 L362.8,441.16 L363.4,441.29 L364,440.97 L364.6,441.31 L365.2,441.24 L365.8,441.35 L366.4,440.9 L367,441.1 L367.6,441.19 L368.2,440.86 L368.8,441.27 L369.4,441.34 L370,441.16 L370.6,441.23 L371.2,441.33 L371.8,441.02 L372.4,441.04 L373,441.26 L373.6,441.12 L374.2,440.87 L374.8,441.04 L375.4,441.14 L376,441.17 L376.6,440.73 L377.2,440.74 L377.8,441.04 L378.4,441.04 L379,441.04 L379.6,440.88 L380.2,440.81 L380.8,441.14 L381.4,440.71 L382,440.71 L382.6,440.54 L383.2,440.57 L383.8,440.88 L384.4,440.89 L385,440.61 L385.6,440.91 L386.2,440.56 L386.8,440.67 L387.4,440.81 L388,440.89 L388.6,440.68 L389.2,440.88 L389.8,440.67 L390.4,440.77 L391,440.86 L391.6,440.68 L392.2,440.67 L392.8,440.88 L393.4,440.33 L394,440.31 L394.6,440.31 L395.2,440.46 L395.8,440.58 L396.4,440.62 L397,440.65 L397.6,440.23 L398.2,440.74 L398.8,440.34 L399.4,440.77 L400,440.38 L400.6,440.67 L401.2,440.58 L401.8,440.15 L402.4,440.43 L403,440.35 L403.6,440.7 L404.2,440.23 L404.8,440.31 L405.4,440.17 L406,440.06 L406.6,440.36 L407.2,440.4 L407.8,440.11 L408.4,440.51 L409,440.13 L409.6,440.54 L410.2,440.37 L410.8,440.54 L411.4,440.21 L412,440.43 L412.6,440.28 L413.2,440.34 L413.8,440.14 L414.4,440.19 L415,440.03 L415.6,440.06 L416.2,440.4 L416.8,439.88 L417.4,440.32 L418,440.26 L418.6,439.89 L419.2,440.04 L419.8,440.27 L420.4,440.07 L421,440.05 L421.6,440.04 L422.2,439.83 L422.8,440.31 L423.4,440.15 L424,439.86 L424.6,439.88 L425.2,440.09 L425.8,440.17 L426.4,439.97 L427,439.8 L427.6,439.83 L428.2,439.93 L428.8,440.12 L429.4,440 L430,439.7 L430.6,439.56 L431.2,439.93 L431.8,439.69 L432.4,440.04 L433,439.6 L433.6,440.09 L434.2,439.96 L434.8,439.62 L435.4,439.46 L436,439.93 L436.6,439.5 L437.2,439.51 L437.8,439.64 L438.4,439.5 L439,439.44 L439.6,439.7 L440.2,439.75 L440.8,439.82 L441.4,439.37 L442,439.35 L442.6,439.59 L443,439.75 L443,459.1 L442.6,459.16 L442,458.62 L441.4,458.87 L440.8,458.97 L440.2,458.84 L439.6,458.68 L439,458.6 L438.4,458.61 L437.8,458.99 L437.2,458.56 L436.6,458.97 L436,458.47 L435.4,458.94 L434.8,458.55 L434.2,458.8 L433.6,458.98 L433,458.76 L432.4,458.38 L431.8,458.67 L431.2,458.93 L430.6,458.6 L430,458.68 L429.4,458.87 L428.8,458.55 L428.2,458.62 L427.6,458.56 L427,458.56 L426.4,458.26 L425.8,458.79 L425.2,458.79 L424.6,458.65 L424,458.5 L423.4,458.25 L422.8,458.32 L422.2,458.35 L421.6,458.6 L421,458.14 L420.4,458.25 L419.8,458.29 L419.2,458.28 L418.6,458.5 L418,458.19 L417.4,458.09 L416.8,458.34 L416.2,458.53 L415.6,458.15 L415,458.26 L414.4,458.13 L413.8,458.03 L413.2,458.47 L412.6,458.12 L412,458.31 L411.4,458.05 L410.8,458.09 L410.2,458.19 L409.6,458.01 L409,457.97 L408.4,458.09 L407.8,458.13 L407.2,458.24 L406.6,458.1 L406,458.33 L405.4,458.4 L404.8,458.34 L404.2,457.81 L403.6,458.36 L403,458.15 L402.4,457.97 L401.8,458.06 L401.2,457.98 L400.6,457.92 L400,458.13 L399.4,458.2 L398.8,457.73 L398.2,457.98 L397.6,458.19 L397,457.96 L396.4,457.96 L395.8,457.93 L395.2,457.84 L394.6,457.91 L394,457.67 L393.4,457.86 L392.8,457.58 L392.2,457.74 L391.6,457.85 L391,457.95 L390.4,458.08 L389.8,458.05 L389.2,457.79 L388.6,458.02 L388,457.8 L387.4,457.53 L386.8,457.55 L386.2,457.8 L385.6,457.5 L385,457.67 L384.4,457.39 L383.8,457.45 L383.2,457.84 L382.6,457.55 L382,457.43 L381.4,457.65 L380.8,457.74 L380.2,457.38 L379.6,457.3 L379,457.73 L378.4,457.39 L377.8,457.57 L377.2,457.63 L376.6,457.27 L376,457.58 L375.4,457.35 L374.8,457.18 L374.2,457.64 L373.6,457.3 L373,457.12 L372.4,457.43 L371.8,457.67 L371.2,457.15 L370.6,457.52 L370,457.46 L369.4,457.34 L368.8,457.13 L368.2,457.35 L367.6,457.56 L367,457.21 L366.4,457.49 L365.8,457.45 L365.2,457.25 L364.6,457.14 L364,456.98 L363.4,457.04 L362.8,457.31 L362.2,457.11 L361.6,457.28 L361,457 L360.4,456.91 L359.8,457.2 L359.2,456.85 L358.6,457.33 L358,456.87 L357.4,457.21 L356.8,457.11 L356.2,457.3 L355.6,457.17 L355,457.17 L354.4,456.77 L353.8,457.24 L353.2,456.93 L352.6,456.94 L352,456.78 L351.4,456.95 L350.8,457.01 L350.2,456.85 L349.6,456.87 L349,457.15 L348.4,457.08 L347.8,457.05 L347.2,456.93 L346.6,456.97 L346,456.54 L345.4,456.73 L344.8,456.54 L344.2,457.02 L343.6,456.61 L343,456.94 L342.4,456.62 L341.8,456.49 L341.2,456.52 L340.6,456.77 L340,456.5 L339.4,456.69 L338.8,456.9 L338.2,456.54 L337.6,456.53 L337,456.72 L336.4,456.85 L335.8,456.57 L335.2,456.82 L334.6,456.48 L334,456.85 L333.4,456.7 L332.8,456.78 L332.2,456.71 L331.6,456.46 L331,456.6 L330.4,456.36 L329.8,456.44 L329.2,456.58 L328.6,456.61 L328,456.32 L327.4,456.43 L326.8,456.34 L326.2,456.38 L325.6,456.27 L325,456.59 L324.4,456.79 L323.8,456.41 L323.2,456.59 L322.6,456.73 L322,456.52 L321.4,456.69 L320.8,456.41 L320.2,456.91 L319.6,456.49 L319,456.52 L318.4,456.5 L317.8,456.86 L317.2,456.73 L316.6,456.49 L316,456.79 L315.4,456.91 L314.8,456.73 L314.2,456.68 L313.6,456.47 L313,456.52 L312.4,456.68 L311.8,456.68 L311.2,457 L310.6,456.49 L310,456.97 L309.4,457.05 L308.8,456.85 L308.2,456.74 L307.6,456.5 L307,456.52 L306.4,456.76 L305.8,456.65 L305.2,456.96 L304.6,456.86 L304,456.93 L303.4,456.96 L302.8,457.03 L302.2,456.61 L301.6,457 L301,456.68 L300.4,456.65 L299.8,456.83 L299.2,456.6 L298.6,456.9 L298,456.6 L297.4,456.84 L296.8,456.62 L296.2,456.72 L295.6,456.75 L295,456.7 L294.4,456.63 L293.8,456.77 L293.2,456.78 L292.6,457.01 L292,457.05 L291.4,456.96 L290.8,456.64 L290.2,456.75 L289.6,456.76 L289,457.06 L288.4,456.72 L287.8,456.99 L287.2,456.97 L286.6,456.63 L286,456.88 L285.4,457.18 L284.8,457.15 L284.2,456.73 L283.6,457.05 L283,456.98 L282.4,456.83 L281.8,457.06 L281.2,456.63 L280.6,456.89 L280,456.7 L279.4,456.87 L278.8,456.93 L278.2,456.78 L277.6,457.18 L277,457.12 L276.4,456.84 L275.8,456.8 L275.2,456.97 L274.6,456.99 L274,457.15 L273.4,456.81 L272.8,456.6 L272.2,456.67 L271.6,456.75 L271,457.05 L270.4,456.7 L269.8,456.94 L269.2,457.05 L268.6,457.02 L268,457.05 L267.4,456.67 L266.8,456.83 L266.2,456.58 L265.6,456.59 L265,456.88 L264.4,456.99 L263.8,456.82 L263.2,456.78 L262.6,456.71 L262,456.57 L261.4,456.64 L260.8,456.98 L260.2,456.93 L259.6,456.62 L259,456.81 L258.4,456.74 L257.8,456.87 L257.2,456.75 L256.6,457.14 L256,456.91 L255.4,456.58 L254.8,457.09 L254.2,456.66 L253.6,456.85 L253,457.05 L252.4,457.12 L251.8,456.96 L251.2,456.78 L250.6,456.64 L250,456.75 L249.4,457.03 L248.8,456.72 L248.2,456.71 L247.6,456.85 L247,456.89 L246.4,457.1 L245.8,456.73 L245.2,456.71 L244.6,456.74 L244,456.74 L243.4,456.62 L242.8,456.73 L242.2,456.93 L241.6,456.69 L241,457.01 L240.4,456.72 L239.8,456.56 L239.2,456.87 L238.6,456.72 L238,456.67 L237.4,456.93 L236.8,457.08 L236.2,457.09 L235.6,457.01 L235,456.78 L234.4,456.83 L233.8,457.09 L233.2,456.82 L232.6,457.04 L232,456.88 L231.4,456.62 L230.8,456.57 L230.2,456.9 L229.6,456.78 L229,457.04 L228.4,456.85 L227.8,456.99 L227.2,456.98 L226.6,456.63 L226,457.1 L225.4,456.88 L224.8,456.54 L224.2,456.69 L223.6,456.73 L223,456.81 L222.4,456.66 L221.8,457.03 L221.2,457 L220.6,456.57 L220,456.73 L219.4,456.68 L218.8,456.97 L218.2,457.09 L217.6,456.93 L217,456.87 L216.4,456.72 L215.8,456.99 L215.2,456.71 L214.6,456.72 L214,457.07 L213.4,457.09 L212.8,456.63 L212.2,457 L211.6,456.73 L211,456.92 L210.4,456.92 L209.8,456.55 L209.2,457.05 L208.6,456.66 L208,456.93 L207.4,456.99 L206.8,457.07 L206.2,456.52 L205.6,456.52 L205,456.86 L204.4,457.05 L203.8,457.06 L203.2,456.64 L202.6,456.59 L202,456.84 L201.4,456.95 L200.8,456.7 L200.2,457 L199.6,456.67 L199,456.61 L198.4,456.99 L197.8,456.92 L197.2,457.02 L196.6,456.93 L196,456.62 L195.4,456.79 L194.8,456.67 L194.2,456.71 L193.6,457.03 L193,456.61 L192.4,457.02 L191.8,456.65 L191.2,457.04 L190.6,457.18 L190,457.11 L189.4,456.8 L188.8,456.74 L188.2,457.1 L187.6,456.73 L187,456.73 L186.4,456.92 L185.8,456.8 L185.2,456.66 L184.6,456.7 L184,457.01 L183.4,456.89 L182.8,457.04 L182.2,456.72 L181.6,456.87 L181,457.16 L180.4,456.8 L179.8,457.04 L179.2,456.81 L178.6,456.76 L178,457.24 L177.4,456.81 L176.8,457.15 L176.2,456.92 L175.6,456.87 L175,457.11 L174.4,456.97 L173.8,456.77 L173.2,457.15 L172.6,456.95 L172,457.3 L171.4,457.27 L170.8,457.05 L170.2,457.22 L169.6,457.14 L169,456.89 L168.4,457.34 L167.8,456.84 L167.2,457.05 L166.6,457.25 L166,457.35 L165.4,457.35 L164.8,456.98 L164.2,456.97 L163.6,456.83 L163,457.33 L162.4,456.87 L161.8,456.88 L161.2,457.17 L160.6,456.84 L160,456.86 L159.4,457.32 L158.8,457.4 L158.2,457.36 L157.6,457.05 L157,457.26 L156.4,457.34 L155.8,457.18 L155.2,457.11 L154.6,457.38 L154,456.99 L153.4,457.41 L152.8,457.42 L152.2,457.24 L151.6,457 L151,457.4 L150.4,457.28 L149.8,457.5 L149.2,457.47 L148.6,457.43 L148,457 L147.4,457.43 L146.8,457.19 L146.2,456.97 L145.6,457.35 L145,456.97 L144.4,457.01 L143.8,457.44 L143.2,457.01 L142.6,456.98 L142,457.43 L141.4,457.24 L140.8,457.53 L140.2,457.03 L139.6,457.45 L139,457.38 L138.4,457.05 L137.8,456.98 L137.2,457.13 L136.6,457.15 L136,457.15 L135.4,457.37 L134.8,457.09 L134.2,457.44 L133.6,457.48 L133,457.44 L132.4,457.24 L131.8,457.24 L131.2,457.59 L130.6,457.38 L130,457.41 L129.4,457.33 L128.8,457.43 L128.2,457.57 L127.6,457.59 L127,457.63 L126.4,457.28 L125.8,457.15 L125.2,457.14 L124.6,457.31 L124,457.63 L123.4,457.31 L122.8,457.55 L122.2,457.49 L121.6,457.25 L121,457.68 L120.4,457.45 L119.8,457.55 L119.2,457.46 L118.6,457.23 L118,457.63 L117.4,457.51 L116.8,457.46 L116.2,457.64 L115.6,457.72 L115,457.2 L114.4,457.43 L113.8,457.4 L113.2,457.66 L112.6,457.57 L112,457.69 L111.4,457.79 L110.8,457.26 L110.2,457.86 L109.6,457.79 L109,457.73 L108.4,457.55 L107.8,457.7 L107.2,457.74 L106.6,457.61 L106,457.84 L105.4,457.4 L104.8,457.84 L104.2,457.82 L103.6,457.89 L103,457.97 L102.4,457.65 L101.8,457.93 L101.2,457.85 L100.6,457.78 L100,457.95 L99.4,458.1 L98.8,458.1 L98.2,458.07 L97.6,457.8 L97,458.03 L96.4,458.1 L95.8,457.72 L95.2,458.14 L94.6,457.95 L94,458.22 L93.4,457.96 L92.8,458.09 L92.2,457.94 L91.6,458.14 L91,458.11 L90.4,458.54 L89.8,458.6 L89.2,458.22 L88.6,458.42 L88,458.38 L87.4,458.61 L86.8,458.39 L86.2,458.28 L85.6,458.32 L85,458.47 L84.4,458.69 L83.8,458.8 L83.2,459.07 L82.6,459.04 L82,458.99 L81.4,458.74 L80.8,459.29 L80.2,459.36 L79.6,459.39 L79,459.2 L78.4,459.36 L77.8,459.35 L77.2,459.7 L76.6,459.33 L76,459.53 L75.4,459.44 L74.8,459.5 L74.2,459.99 L73.6,459.95 L73,459.99 L72.4,459.93 L71.8,460.46 L71.2,460.23 L70.6,460.62 L70,460.69 L69.4,460.93 L68.8,460.87 L68.2,460.76 L67.6,461.32 L67,461 L66.4,461.08 L65.8,461.66 L65.2,461.72 L64.6,461.53 L64,462.18 L63.4,462.1 L62.8,462.51 L62.2,462.45 L61.6,462.31 L61,463.03 L60.4,463.21 L59.8,462.87 L59.2,463.12 L58.6,463.34 L58,463.57 L57.4,458.64 L56.8,458.63 L56.2,458.46 L55.6,458.41 L55,454.36 L54.4,454.59 L53.8,454.15 L53.2,454.33 L52.6,454.66 L52,454.62 L51.4,454.64 L50.8,454.17 L50.2,454.46 L49.6,454.22Z" fill="#0a66ab" stroke="none" stroke-width="1"/>
<rect x="49.5" y="380.5" width="393.5" height="138" fill="none" stroke="#6a6a6a" stroke-width="1.3"/>
<line x1="443" y1="380.5" x2="443" y2="518.5" stroke="#bdbdbd" stroke-width="1.4"/>
<line x1="49.3" y1="380.5" x2="49.3" y2="518.5" stroke="#6a6a6a" stroke-width="1.6"/>
<line x1="49.5" y1="518.5" x2="52.5" y2="518.5" stroke="#6a6a6a" stroke-width="1"/>
<line x1="49.5" y1="483.5" x2="52.5" y2="483.5" stroke="#6a6a6a" stroke-width="1"/>
<line x1="49.5" y1="449.5" x2="52.5" y2="449.5" stroke="#6a6a6a" stroke-width="1"/>
<line x1="49.5" y1="414.5" x2="52.5" y2="414.5" stroke="#6a6a6a" stroke-width="1"/>
<line x1="49.5" y1="380.5" x2="52.5" y2="380.5" stroke="#6a6a6a" stroke-width="1"/>
<line x1="49.5" y1="500.5" x2="51.5" y2="500.5" stroke="#6a6a6a" stroke-width="1"/>
<line x1="49.5" y1="466.5" x2="51.5" y2="466.5" stroke="#6a6a6a" stroke-width="1"/>
<line x1="49.5" y1="432.5" x2="51.5" y2="432.5" stroke="#6a6a6a" stroke-width="1"/>
<line x1="49.5" y1="397.5" x2="51.5" y2="397.5" stroke="#6a6a6a" stroke-width="1"/>
<line x1="48.5" y1="518.5" x2="48.5" y2="515.5" stroke="#6a6a6a" stroke-width="1"/>
<line x1="146.5" y1="518.5" x2="146.5" y2="515.5" stroke="#6a6a6a" stroke-width="1"/>
<line x1="244.5" y1="518.5" x2="244.5" y2="515.5" stroke="#6a6a6a" stroke-width="1"/>
<line x1="342.5" y1="518.5" x2="342.5" y2="515.5" stroke="#6a6a6a" stroke-width="1"/>
<line x1="440.5" y1="518.5" x2="440.5" y2="515.5" stroke="#6a6a6a" stroke-width="1"/>
<line x1="97.5" y1="518.5" x2="97.5" y2="516.5" stroke="#6a6a6a" stroke-width="1"/>
<line x1="195.5" y1="518.5" x2="195.5" y2="516.5" stroke="#6a6a6a" stroke-width="1"/>
<line x1="293.5" y1="518.5" x2="293.5" y2="516.5" stroke="#6a6a6a" stroke-width="1"/>
<line x1="391.5" y1="518.5" x2="391.5" y2="516.5" stroke="#6a6a6a" stroke-width="1"/>
<text x="46.8" y="384.25" font-size="12.5" text-anchor="end" fill="#141414" color="#141414">0.10</text>
<text x="46.8" y="419.65" font-size="12.5" text-anchor="end" fill="#141414" color="#141414">0.05</text>
<text x="46.8" y="455.25" font-size="12.5" text-anchor="end" fill="#141414" color="#141414">0.00</text>
<text x="46.8" y="487.75" font-size="12.5" text-anchor="end" fill="#141414" color="#141414">− 0.05</text>
<text x="46.8" y="524.45" font-size="12.5" text-anchor="end" fill="#141414" color="#141414">− 0.10</text>
<text x="145" y="532.3" font-size="12.3" text-anchor="middle" fill="#141414" color="#141414">500</text>
<text x="246.8" y="532.3" font-size="12.3" text-anchor="middle" fill="#141414" color="#141414">1000</text>
<text x="343.4" y="532.3" font-size="12.3" text-anchor="middle" fill="#141414" color="#141414">1500</text>
<text x="440.7" y="532.3" font-size="12.3" text-anchor="middle" fill="#141414" color="#141414">2000</text>
<text x="45.5" y="532.3" font-size="12.3" text-anchor="middle" fill="#141414" color="#141414">0</text>
<text x="12.3" y="444.5" font-size="12.85" text-anchor="middle" font-weight="bold" fill="#141414" color="#141414" transform="rotate(-90 12.3 444.5)">Voltage (V vs.Li<tspan font-size="8" dy="-4.5">+</tspan><tspan dy="4.5">/Li)</tspan></text>
<text x="67.2" y="506.2" font-size="12.8" text-anchor="start" fill="#141414" color="#141414">1 mA·cm<tspan font-size="6.8" dy="-4.6">-2</tspan><tspan dy="4.6">​</tspan> 1mAh·cm<tspan font-size="6.8" dy="-4.6">-2</tspan><tspan dy="4.6">​</tspan></text>
<rect x="211.2" y="436.9" width="21.2" height="26.3" rx="5" fill="none" stroke="#f2b457" stroke-width="1"/>
<rect x="383.1" y="437.4" width="20.5" height="27.3" rx="5" fill="none" stroke="#f2b457" stroke-width="1"/>
<line x1="212.6" y1="437.8" x2="174.6" y2="427.2" stroke="#f2b457" stroke-width="0.9"/>
<path d="M174.6,427.2 L178.11,426.52 L177.25,429.6Z" fill="#f2b457" stroke="none" stroke-width="1"/>
<line x1="231" y1="437.8" x2="265.4" y2="426.9" stroke="#f2b457" stroke-width="0.9"/>
<path d="M265.4,426.9 L262.83,429.39 L261.87,426.34Z" fill="#f2b457" stroke="none" stroke-width="1"/>
<line x1="384.3" y1="462.4" x2="350.1" y2="475.4" stroke="#f2b457" stroke-width="0.9"/>
<path d="M350.1,475.4 L352.52,472.77 L353.66,475.76Z" fill="#f2b457" stroke="none" stroke-width="1"/>
<line x1="402.7" y1="462.4" x2="440.5" y2="473.6" stroke="#f2b457" stroke-width="0.9"/>
<path d="M440.5,473.6 L436.98,474.22 L437.89,471.16Z" fill="#f2b457" stroke="none" stroke-width="1"/>
<rect x="173.6" y="389.2" width="92.4" height="35.4" fill="#fff" stroke="#8a8a8a" stroke-width="1.1"/>
<line x1="173.6" y1="391.5" x2="175.3" y2="391.5" stroke="#777" stroke-width="0.6"/>
<line x1="173.6" y1="396" x2="175.3" y2="396" stroke="#777" stroke-width="0.6"/>
<line x1="173.6" y1="400.5" x2="175.3" y2="400.5" stroke="#777" stroke-width="0.6"/>
<line x1="173.6" y1="405" x2="175.3" y2="405" stroke="#777" stroke-width="0.6"/>
<line x1="173.6" y1="409.5" x2="175.3" y2="409.5" stroke="#777" stroke-width="0.6"/>
<line x1="173.6" y1="414" x2="175.3" y2="414" stroke="#777" stroke-width="0.6"/>
<line x1="173.6" y1="418.5" x2="175.3" y2="418.5" stroke="#777" stroke-width="0.6"/>
<line x1="173.6" y1="423" x2="175.3" y2="423" stroke="#777" stroke-width="0.6"/>
<clipPath id="ci1"><rect x="174.2" y="389.8" width="91.2" height="34.3"/></clipPath>
<path d="M174.2,395.6 L166.15,395.6 Q167.15,395.6 167.45,391.3 L167.75,391.3 L167.75,417.3 L170.15,417.3 Q171.15,417.3 171.45,421.5 L171.75,421.5 L171.75,395.6 L174.7,395.6 Q175.7,395.6 176,391.3 L176.3,391.3 L176.3,417.3 L178.7,417.3 Q179.7,417.3 180,421.5 L180.3,421.5 L180.3,395.6 L183.25,395.6 Q184.25,395.6 184.55,391.3 L184.85,391.3 L184.85,417.3 L187.25,417.3 Q188.25,417.3 188.55,421.5 L188.85,421.5 L188.85,395.6 L191.8,395.6 Q192.8,395.6 193.1,391.3 L193.4,391.3 L193.4,417.3 L195.8,417.3 Q196.8,417.3 197.1,421.5 L197.4,421.5 L197.4,395.6 L200.35,395.6 Q201.35,395.6 201.65,391.3 L201.95,391.3 L201.95,417.3 L204.35,417.3 Q205.35,417.3 205.65,421.5 L205.95,421.5 L205.95,395.6 L208.9,395.6 Q209.9,395.6 210.2,391.3 L210.5,391.3 L210.5,417.3 L212.9,417.3 Q213.9,417.3 214.2,421.5 L214.5,421.5 L214.5,395.6 L217.45,395.6 Q218.45,395.6 218.75,391.3 L219.05,391.3 L219.05,417.3 L221.45,417.3 Q222.45,417.3 222.75,421.5 L223.05,421.5 L223.05,395.6 L226,395.6 Q227,395.6 227.3,391.3 L227.6,391.3 L227.6,417.3 L230,417.3 Q231,417.3 231.3,421.5 L231.6,421.5 L231.6,395.6 L234.55,395.6 Q235.55,395.6 235.85,391.3 L236.15,391.3 L236.15,417.3 L238.55,417.3 Q239.55,417.3 239.85,421.5 L240.15,421.5 L240.15,395.6 L243.1,395.6 Q244.1,395.6 244.4,391.3 L244.7,391.3 L244.7,417.3 L247.1,417.3 Q248.1,417.3 248.4,421.5 L248.7,421.5 L248.7,395.6 L251.65,395.6 Q252.65,395.6 252.95,391.3 L253.25,391.3 L253.25,417.3 L255.65,417.3 Q256.65,417.3 256.95,421.5 L257.25,421.5 L257.25,395.6 L260.2,395.6 Q261.2,395.6 261.5,391.3 L261.8,391.3 L261.8,417.3 L264.2,417.3 Q265.2,417.3 265.5,421.5 L265.8,421.5 L265.8,395.6" fill="none" stroke="#f08a66" stroke-width="0.8" clip-path="url(#ci1)"/>
<path d="M174.2,399.6 L167.75,399.6 L167.75,414.4 L171.75,414.4 L171.75,399.6 L176.3,399.6 L176.3,414.4 L180.3,414.4 L180.3,399.6 L184.85,399.6 L184.85,414.4 L188.85,414.4 L188.85,399.6 L193.4,399.6 L193.4,414.4 L197.4,414.4 L197.4,399.6 L201.95,399.6 L201.95,414.4 L205.95,414.4 L205.95,399.6 L210.5,399.6 L210.5,414.4 L214.5,414.4 L214.5,399.6 L219.05,399.6 L219.05,414.4 L223.05,414.4 L223.05,399.6 L227.6,399.6 L227.6,414.4 L231.6,414.4 L231.6,399.6 L236.15,399.6 L236.15,414.4 L240.15,414.4 L240.15,399.6 L244.7,399.6 L244.7,414.4 L248.7,414.4 L248.7,399.6 L253.25,399.6 L253.25,414.4 L257.25,414.4 L257.25,399.6 L261.8,399.6 L261.8,414.4 L265.8,414.4 L265.8,399.6" fill="none" stroke="#3b7fbf" stroke-width="1.1" clip-path="url(#ci1)"/>
<text x="169.2" y="392.1" font-size="12.6" text-anchor="end" fill="#141414" color="#141414" transform="matrix(1.04 0 0 1 -6.77 0)">0.02</text>
<text x="169.2" y="402" font-size="12.6" text-anchor="end" fill="#141414" color="#141414" transform="matrix(1.04 0 0 1 -6.77 0)">0.01</text>
<text x="169.2" y="412" font-size="12.6" text-anchor="end" fill="#141414" color="#141414" transform="matrix(1.04 0 0 1 -6.77 0)">0.00</text>
<text x="169.2" y="422" font-size="12.6" text-anchor="end" fill="#141414" color="#141414" transform="matrix(1.04 0 0 1 -6.77 0)">− 0.01</text>
<text x="169.2" y="432.3" font-size="12.6" text-anchor="end" fill="#141414" color="#141414" transform="matrix(1.04 0 0 1 -6.77 0)">− 0.02</text>
<rect x="348.4" y="477.2" width="92" height="35.7" fill="#fff" stroke="#6a6a6a" stroke-width="1"/>
<clipPath id="ci2"><rect x="349" y="477.7" width="91" height="34.7"/></clipPath>
<path d="M349.5,503.9 L351.2,503.9 L351.2,486 L353.6,486 L353.6,503.9 L356.02,503.9 L356.02,486 L358.42,486 L358.42,503.9 L360.84,503.9 L360.84,486 L363.24,486 L363.24,503.9 L365.66,503.9 L365.66,486 L368.06,486 L368.06,503.9 L370.48,503.9 L370.48,486 L372.88,486 L372.88,503.9 L375.3,503.9 L375.3,486 L377.7,486 L377.7,503.9 L380.12,503.9 L380.12,486 L382.52,486 L382.52,503.9 L384.94,503.9 L384.94,486 L387.34,486 L387.34,503.9 L389.76,503.9 L389.76,486 L392.16,486 L392.16,503.9 L394.58,503.9 L394.58,486 L396.98,486 L396.98,503.9 L399.4,503.9 L399.4,486 L401.8,486 L401.8,503.9 L404.22,503.9 L404.22,486 L406.62,486 L406.62,503.9 L409.04,503.9 L409.04,486 L411.44,486 L411.44,503.9 L413.86,503.9 L413.86,486 L416.26,486 L416.26,503.9 L418.68,503.9 L418.68,486 L421.08,486 L421.08,503.9 L423.5,503.9 L423.5,486 L425.9,486 L425.9,503.9 L428.32,503.9 L428.32,486 L430.72,486 L430.72,503.9 L433.14,503.9 L433.14,486 L435.54,486 L435.54,503.9 L437.96,503.9 L437.96,486 L440.36,486 L440.36,503.9" fill="none" stroke="#4f92cf" stroke-width="0.9" clip-path="url(#ci2)"/>
<text x="346.6" y="492.2" font-size="12.5" text-anchor="end" fill="#141414" color="#141414">0.01</text>
<text x="346.6" y="508.9" font-size="12.5" text-anchor="end" fill="#141414" color="#141414">− 0.01</text>
<text x="250.8" y="545.7" font-size="12.4" text-anchor="middle" font-weight="bold" fill="#141414" color="#141414">Testing time (h)</text>
<text x="0.3" y="372.6" font-size="14.5" text-anchor="start" font-weight="bold" fill="#111" color="#111">g</text>
<defs>
<linearGradient id="gh" x1="0" x2="1" y1="0" y2="0"><stop offset="0" stop-color="#e2e6f2"/><stop offset="1" stop-color="#8897c8"/></linearGradient>
<linearGradient id="gp" x1="0" x2="1" y1="0" y2="0"><stop offset="0" stop-color="#f2cdd1"/><stop offset="1" stop-color="#db6f7e"/></linearGradient>
<linearGradient id="gjb" x1="0" x2="0" y1="0" y2="1"><stop offset="0" stop-color="#2674b5"/><stop offset="0.55" stop-color="#7fb0d8"/><stop offset="1" stop-color="#f4f8fc"/></linearGradient>
<linearGradient id="gjo" x1="0" x2="0" y1="0" y2="1"><stop offset="0" stop-color="#ef8f6c"/><stop offset="0.55" stop-color="#f6c0a8"/><stop offset="1" stop-color="#fdf4f0"/></linearGradient>
</defs>
<rect x="499.8" y="396.0" width="135.5" height="7.7" fill="url(#gp)"/>
<rect x="499.8" y="410.1" width="86.1" height="8.1" fill="url(#gh)"/>
<rect x="499.8" y="424.1" width="66" height="7.7" fill="url(#gh)"/>
<rect x="499.8" y="438.3" width="58.9" height="7.2" fill="url(#gh)"/>
<rect x="499.8" y="452.0" width="52.5" height="8.1" fill="url(#gh)"/>
<rect x="499.8" y="465.4" width="41.3" height="8.3" fill="url(#gh)"/>
<rect x="499.8" y="479.3" width="39.2" height="8.6" fill="url(#gh)"/>
<rect x="499.8" y="493.5" width="25.9" height="8" fill="url(#gh)"/>
<rect x="499.8" y="507.1" width="15.9" height="8.4" fill="url(#gh)"/>
<rect x="499.5" y="379.5" width="173" height="139" fill="none" stroke="#7a7a7a" stroke-width="1.3"/>
<line x1="499.5" y1="518.5" x2="499.5" y2="515.5" stroke="#7a7a7a" stroke-width="1"/>
<line x1="533.5" y1="518.5" x2="533.5" y2="515.5" stroke="#7a7a7a" stroke-width="1"/>
<line x1="568.5" y1="518.5" x2="568.5" y2="515.5" stroke="#7a7a7a" stroke-width="1"/>
<line x1="602.5" y1="518.5" x2="602.5" y2="515.5" stroke="#7a7a7a" stroke-width="1"/>
<line x1="637.5" y1="518.5" x2="637.5" y2="515.5" stroke="#7a7a7a" stroke-width="1"/>
<line x1="671.5" y1="518.5" x2="671.5" y2="515.5" stroke="#7a7a7a" stroke-width="1"/>
<line x1="506.5" y1="518.5" x2="506.5" y2="516.7" stroke="#7a7a7a" stroke-width="1"/>
<line x1="513.5" y1="518.5" x2="513.5" y2="516.7" stroke="#7a7a7a" stroke-width="1"/>
<line x1="519.5" y1="518.5" x2="519.5" y2="516.7" stroke="#7a7a7a" stroke-width="1"/>
<line x1="526.5" y1="518.5" x2="526.5" y2="516.7" stroke="#7a7a7a" stroke-width="1"/>
<line x1="540.5" y1="518.5" x2="540.5" y2="516.7" stroke="#7a7a7a" stroke-width="1"/>
<line x1="547.5" y1="518.5" x2="547.5" y2="516.7" stroke="#7a7a7a" stroke-width="1"/>
<line x1="554.5" y1="518.5" x2="554.5" y2="516.7" stroke="#7a7a7a" stroke-width="1"/>
<line x1="561.5" y1="518.5" x2="561.5" y2="516.7" stroke="#7a7a7a" stroke-width="1"/>
<line x1="575.5" y1="518.5" x2="575.5" y2="516.7" stroke="#7a7a7a" stroke-width="1"/>
<line x1="582.5" y1="518.5" x2="582.5" y2="516.7" stroke="#7a7a7a" stroke-width="1"/>
<line x1="588.5" y1="518.5" x2="588.5" y2="516.7" stroke="#7a7a7a" stroke-width="1"/>
<line x1="595.5" y1="518.5" x2="595.5" y2="516.7" stroke="#7a7a7a" stroke-width="1"/>
<line x1="609.5" y1="518.5" x2="609.5" y2="516.7" stroke="#7a7a7a" stroke-width="1"/>
<line x1="616.5" y1="518.5" x2="616.5" y2="516.7" stroke="#7a7a7a" stroke-width="1"/>
<line x1="623.5" y1="518.5" x2="623.5" y2="516.7" stroke="#7a7a7a" stroke-width="1"/>
<line x1="630.5" y1="518.5" x2="630.5" y2="516.7" stroke="#7a7a7a" stroke-width="1"/>
<line x1="644.5" y1="518.5" x2="644.5" y2="516.7" stroke="#7a7a7a" stroke-width="1"/>
<line x1="650.5" y1="518.5" x2="650.5" y2="516.7" stroke="#7a7a7a" stroke-width="1"/>
<line x1="657.5" y1="518.5" x2="657.5" y2="516.7" stroke="#7a7a7a" stroke-width="1"/>
<line x1="664.5" y1="518.5" x2="664.5" y2="516.7" stroke="#7a7a7a" stroke-width="1"/>
<text x="496.6" y="530.5" font-size="12" text-anchor="middle" fill="#141414" color="#141414">0</text>
<text x="532.6" y="530.5" font-size="12" text-anchor="middle" fill="#141414" color="#141414">500</text>
<text x="569.8" y="530.5" font-size="12" text-anchor="middle" fill="#141414" color="#141414">1000</text>
<text x="603.8" y="530.5" font-size="12" text-anchor="middle" fill="#141414" color="#141414">1500</text>
<text x="638.2" y="530.5" font-size="12" text-anchor="middle" fill="#141414" color="#141414">2000</text>
<text x="670.5" y="530.5" font-size="12" text-anchor="middle" fill="#141414" color="#141414">2500</text>
<text x="590.5" y="545.5" font-size="12.8" text-anchor="middle" font-weight="bold" fill="#141414" color="#141414">Testing time (h)</text>
<text x="516.5" y="393.3" font-size="12.9" text-anchor="start" font-weight="bold" fill="#e48793" color="#e48793">Sn@Cu mesh This work</text>
<text x="588.8" y="417.9" font-size="12.8" text-anchor="start" fill="#141414" color="#141414">Au/Cu</text>
<text x="573.5" y="431.8" font-size="12.8" text-anchor="start" fill="#141414" color="#141414">CuNW-P</text>
<text x="560.7" y="445.5" font-size="12.8" text-anchor="start" fill="#141414" color="#141414">1D@3D-Cu/Sb</text>
<text x="556.6" y="460" font-size="12.8" text-anchor="start" fill="#141414" color="#141414">3D Cu</text>
<text x="544.9" y="472.4" font-size="12.8" text-anchor="start" fill="#141414" color="#141414">CPL</text>
<text x="545.4" y="486.8" font-size="12.8" text-anchor="start" fill="#141414" color="#141414">LCC</text>
<text x="529.8" y="500.7" font-size="12.8" text-anchor="start" fill="#141414" color="#141414">Li<tspan font-size="7" dy="4">3</tspan><tspan dy="-4">PO</tspan><tspan font-size="7" dy="4">4</tspan><tspan dy="-4">@NF</tspan></text>
<text x="520" y="514.4" font-size="12.8" text-anchor="start" fill="#141414" color="#141414">ERGO@Cu/PA</text>
<text x="482.3" y="376.9" font-size="14.5" text-anchor="start" font-weight="bold" fill="#111" color="#111">h</text>
<rect x="503.9" y="690.72" width="14.6" height="13.28" fill="url(#gjb)"/>
<rect x="519.7" y="684.18" width="14.3" height="19.82" fill="url(#gjo)"/>
<rect x="547.0" y="674.37" width="14.7" height="29.63" fill="url(#gjb)"/>
<rect x="562.7" y="661.29" width="14.8" height="42.71" fill="url(#gjo)"/>
<rect x="590.3" y="656.38" width="14.7" height="47.62" fill="url(#gjb)"/>
<rect x="605.6" y="631.86" width="15.3" height="72.14" fill="url(#gjo)"/>
<rect x="634.0" y="626.95" width="14.8" height="77.05" fill="url(#gjb)"/>
<rect x="649.6" y="576.27" width="14.3" height="127.73" fill="url(#gjo)"/>
<rect x="497.5" y="565.5" width="173" height="139" fill="none" stroke="#4a4a4a" stroke-width="1.3"/>
<line x1="497.5" y1="703.5" x2="500.5" y2="703.5" stroke="#4a4a4a" stroke-width="1"/>
<line x1="497.5" y1="671.5" x2="500.5" y2="671.5" stroke="#4a4a4a" stroke-width="1"/>
<line x1="497.5" y1="638.5" x2="500.5" y2="638.5" stroke="#4a4a4a" stroke-width="1"/>
<line x1="497.5" y1="605.5" x2="500.5" y2="605.5" stroke="#4a4a4a" stroke-width="1"/>
<line x1="497.5" y1="572.5" x2="500.5" y2="572.5" stroke="#4a4a4a" stroke-width="1"/>
<line x1="497.5" y1="687.5" x2="499.5" y2="687.5" stroke="#4a4a4a" stroke-width="1"/>
<line x1="497.5" y1="654.5" x2="499.5" y2="654.5" stroke="#4a4a4a" stroke-width="1"/>
<line x1="497.5" y1="622.5" x2="499.5" y2="622.5" stroke="#4a4a4a" stroke-width="1"/>
<line x1="497.5" y1="589.5" x2="499.5" y2="589.5" stroke="#4a4a4a" stroke-width="1"/>
<line x1="540.5" y1="704.5" x2="540.5" y2="702.5" stroke="#4a4a4a" stroke-width="1"/>
<line x1="584.5" y1="704.5" x2="584.5" y2="702.5" stroke="#4a4a4a" stroke-width="1"/>
<line x1="627.5" y1="704.5" x2="627.5" y2="702.5" stroke="#4a4a4a" stroke-width="1"/>
<line x1="519.5" y1="704.5" x2="519.5" y2="701.5" stroke="#4a4a4a" stroke-width="1"/>
<line x1="562.5" y1="704.5" x2="562.5" y2="701.5" stroke="#4a4a4a" stroke-width="1"/>
<line x1="605.5" y1="704.5" x2="605.5" y2="701.5" stroke="#4a4a4a" stroke-width="1"/>
<line x1="649.5" y1="704.5" x2="649.5" y2="701.5" stroke="#4a4a4a" stroke-width="1"/>
<text x="493.6" y="576.75" font-size="12.2" text-anchor="end" fill="#141414" color="#141414">80</text>
<text x="493.6" y="609.55" font-size="12.2" text-anchor="end" fill="#141414" color="#141414">60</text>
<text x="493.6" y="642.15" font-size="12.2" text-anchor="end" fill="#141414" color="#141414">40</text>
<text x="493.6" y="674.75" font-size="12.2" text-anchor="end" fill="#141414" color="#141414">20</text>
<text x="493.6" y="707.35" font-size="12.2" text-anchor="end" fill="#141414" color="#141414">0</text>
<text x="520.4" y="718.6" font-size="12.2" text-anchor="middle" fill="#141414" color="#141414">0.5</text>
<text x="562.2" y="718.6" font-size="12.2" text-anchor="middle" fill="#141414" color="#141414">1</text>
<text x="606" y="718.6" font-size="12.2" text-anchor="middle" fill="#141414" color="#141414">2</text>
<text x="649.8" y="718.6" font-size="12.2" text-anchor="middle" fill="#141414" color="#141414">4</text>
<text x="584.6" y="731.8" font-size="13" text-anchor="middle" font-weight="bold" fill="#141414" color="#141414">Current density (mA·cm<tspan font-size="8" dy="-4.5">-2</tspan><tspan dy="4.5">)</tspan></text>
<text x="472.6" y="636.3" font-size="12.85" text-anchor="middle" font-weight="bold" fill="#141414" color="#141414" transform="rotate(-90 472.6 636.3)">Voltage (V vs.Li<tspan font-size="8" dy="-4.5">+</tspan><tspan dy="4.5">/Li)</tspan></text>
<text x="483.6" y="557.7" font-size="14.5" text-anchor="start" font-weight="bold" fill="#111" color="#111">j</text>
<path d="M50.4,628.86 L63.53,628.86 L63.53,642.68 L76.67,642.68 L76.67,628.86 L89.8,628.86 L89.8,642.68 L102.93,642.68 L102.93,628.86 L116.07,628.86 L116.07,642.68 L129.2,642.68 L129.2,620.31 L134.45,620.36 L134.45,649.27 L139.71,649.22 L139.71,620.41 L144.96,620.46 L144.96,649.17 L150.21,649.12 L150.21,620.51 L155.47,620.56 L155.47,649.07 L160.72,649.02 L160.72,620.61 L165.97,620.66 L165.97,648.97 L171.23,648.92 L171.23,620.71 L176.48,620.76 L176.48,648.88 L181.73,648.83 L181.73,620.81 L186.99,620.86 L186.99,648.78 L192.24,648.73 L192.24,620.91 L197.49,620.96 L197.49,648.68 L202.75,648.63 L202.75,621.01 L208,621.06 L208,648.58 L213.25,648.53 L213.25,621.11 L218.51,621.16 L218.51,648.48 L223.76,648.43 L223.76,621.21 L229.01,621.26 L229.01,648.38 L234.27,648.33 L234.27,616.27 L236.89,616.27 L236.89,652.99 L239.52,652.99 L239.52,616.27 L242.15,616.27 L242.15,652.99 L244.77,652.99 L244.77,616.27 L247.4,616.27 L247.4,652.99 L250.03,652.99 L250.03,616.27 L252.65,616.27 L252.65,652.99 L255.28,652.99 L255.28,616.27 L257.91,616.27 L257.91,652.99 L260.53,652.99 L260.53,616.27 L263.16,616.27 L263.16,652.99 L265.79,652.99 L265.79,616.27 L268.41,616.27 L268.41,652.99 L271.04,652.99 L271.04,616.27 L273.67,616.27 L273.67,652.99 L276.29,652.99 L276.29,616.27 L278.92,616.27 L278.92,652.99 L281.55,652.99 L281.55,616.27 L284.17,616.27 L284.17,652.99 L286.8,652.99" fill="none" stroke="#ef8c67" stroke-width="1.2" stroke-linejoin="miter"/>
<path d="M286.1,603.9 L286.7,600.4 L287.3,601.2 L288.53,603.9 L288.73,604.32 L289.33,600.82 L289.93,601.62 L291.16,604.32 L291.36,604.74 L291.96,601.24 L292.56,602.04 L293.79,604.74 L293.99,605.17 L294.59,601.67 L295.19,602.47 L296.42,605.17 L296.62,605.59 L297.22,602.09 L297.82,602.89 L299.05,605.59 L299.25,606.01 L299.85,602.51 L300.45,603.31 L301.68,606.01 L301.88,606.43 L302.48,602.93 L303.08,603.73 L304.31,606.43 L304.51,606.86 L305.11,603.36 L305.71,604.16 L306.94,606.86 L307.14,607.28 L307.74,603.78 L308.34,604.58 L309.57,607.28 L309.77,607.7 L310.37,604.2 L310.97,605 L312.2,607.7 L312.4,607.7 L312.4,662 L312.2,661.9 L310.97,664.1 L310.37,664.9 L309.77,661.9 L309.57,662.28 L308.34,664.48 L307.74,665.28 L307.14,662.28 L306.94,662.66 L305.71,664.86 L305.11,665.66 L304.51,662.66 L304.31,663.03 L303.08,665.23 L302.48,666.03 L301.88,663.03 L301.68,663.41 L300.45,665.61 L299.85,666.41 L299.25,663.41 L299.05,663.79 L297.82,665.99 L297.22,666.79 L296.62,663.79 L296.42,664.17 L295.19,666.37 L294.59,667.17 L293.99,664.17 L293.79,664.54 L292.56,666.74 L291.96,667.54 L291.36,664.54 L291.16,664.92 L289.93,667.12 L289.33,667.92 L288.73,664.92 L288.53,665.3 L287.3,667.5 L286.7,668.3 L286.1,665.3Z" fill="#ef8c67" stroke="none" stroke-width="1"/>
<path d="M313.2,577 L326.8,575.6 L326.8,686.9 L313.2,690Z" fill="#ef8c67" stroke="none" stroke-width="1"/>
<path d="M326.2,627.18 L331.45,627.18 L331.45,643.06 L336.71,643.06 L336.71,627.18 L341.96,627.18 L341.96,643.06 L347.21,643.06 L347.21,627.18 L352.47,627.18 L352.47,643.06 L357.72,643.06 L357.72,627.18 L362.97,627.18 L362.97,643.06 L368.23,643.06 L368.23,627.18 L373.48,627.18 L373.48,643.06 L378.73,643.06 L378.73,627.18 L383.99,627.18 L383.99,643.06 L389.24,643.06 L389.24,627.18 L394.49,627.18 L394.49,643.06 L399.75,643.06 L399.75,627.18 L405,627.18 L405,643.06 L410.25,643.06 L410.25,627.18 L415.51,627.18 L415.51,643.06 L420.76,643.06 L420.76,627.18 L426.01,627.18 L426.01,643.06 L431.27,643.06 L431.27,627.18 L436.52,627.18 L436.52,643.06 L441.77,643.06 L441.77,627.18 L444.4,627.18" fill="none" stroke="#ef8c67" stroke-width="1.2" stroke-linejoin="miter"/>
<path d="M50.4,629.25 L63.53,628.94 L63.53,641.76 L76.67,641.76 L76.67,628.64 L89.8,628.33 L89.8,641.76 L102.93,641.76 L102.93,628.02 L116.07,627.72 L116.07,641.76 L129.2,641.76 L129.2,621.31 L134.45,621.39 L134.45,648.2 L139.71,648.07 L139.71,621.48 L144.96,621.56 L144.96,647.94 L150.21,647.81 L150.21,621.64 L155.47,621.73 L155.47,647.68 L160.72,647.55 L160.72,621.81 L165.97,621.9 L165.97,647.42 L171.23,647.29 L171.23,621.98 L176.48,622.06 L176.48,647.16 L181.73,647.03 L181.73,622.15 L186.99,622.23 L186.99,646.9 L192.24,646.77 L192.24,622.31 L197.49,622.4 L197.49,646.64 L202.75,646.51 L202.75,622.48 L208,622.57 L208,646.38 L213.25,646.25 L213.25,622.65 L218.51,622.73 L218.51,646.12 L223.76,645.99 L223.76,622.82 L229.01,622.9 L229.01,645.86 L234.27,645.73 L234.27,615.2 L236.89,615.39 L236.89,653.84 L239.52,653.63 L239.52,615.57 L242.15,615.76 L242.15,653.42 L244.77,653.21 L244.77,615.95 L247.4,616.14 L247.4,653 L250.03,652.79 L250.03,616.32 L252.65,616.51 L252.65,652.58 L255.28,652.38 L255.28,616.7 L257.91,616.88 L257.91,652.17 L260.53,651.96 L260.53,617.07 L263.16,617.26 L263.16,651.75 L265.79,651.54 L265.79,617.44 L268.41,617.63 L268.41,651.33 L271.04,651.12 L271.04,617.82 L273.67,618.01 L273.67,650.91 L276.29,650.7 L276.29,618.19 L278.92,618.38 L278.92,650.49 L281.55,650.28 L281.55,618.57 L284.17,618.75 L284.17,650.07 L286.8,649.86" fill="none" stroke="#1a6db0" stroke-width="1.3" stroke-linejoin="miter"/>
<path d="M286.1,607.3 L312.4,611.9 L312.4,658 L286.1,661.5Z" fill="#5d9bcc" stroke="none" stroke-width="1"/>
<path d="M286.1,606.3 L287.6,606 L287.6,662.7 L286.1,662.5Z M288.73,606.76 L290.23,606.46 L290.23,662.35 L288.73,662.15Z M291.36,607.22 L292.86,606.92 L292.86,662 L291.36,661.8Z M293.99,607.68 L295.49,607.38 L295.49,661.65 L293.99,661.45Z M296.62,608.14 L298.12,607.84 L298.12,661.3 L296.62,661.1Z M299.25,608.6 L300.75,608.3 L300.75,660.95 L299.25,660.75Z M301.88,609.06 L303.38,608.76 L303.38,660.6 L301.88,660.4Z M304.51,609.52 L306.01,609.22 L306.01,660.25 L304.51,660.05Z M307.14,609.98 L308.64,609.68 L308.64,659.9 L307.14,659.7Z M309.77,610.44 L311.27,610.14 L311.27,659.55 L309.77,659.35Z " fill="#1666ad" stroke="none" stroke-width="1"/>
<path d="M313.2,592.5 L326.8,596.2 L326.8,673.1 L313.2,676.9Z" fill="#0b66ab" stroke="none" stroke-width="1"/>
<path d="M326.2,628.1 L331.45,628.1 L331.45,642.07 L336.71,642.07 L336.71,628.1 L341.96,628.1 L341.96,642.07 L347.21,642.07 L347.21,628.1 L352.47,628.1 L352.47,642.07 L357.72,642.07 L357.72,628.1 L362.97,628.1 L362.97,642.07 L368.23,642.07 L368.23,628.1 L373.48,628.1 L373.48,642.07 L378.73,642.07 L378.73,628.1 L383.99,628.1 L383.99,642.07 L389.24,642.07 L389.24,628.1 L394.49,628.1 L394.49,642.07 L399.75,642.07 L399.75,628.1 L405,628.1 L405,642.07 L410.25,642.07 L410.25,628.1 L415.51,628.1 L415.51,642.07 L420.76,642.07 L420.76,628.1 L426.01,628.1 L426.01,642.07 L431.27,642.07 L431.27,628.1 L436.52,628.1 L436.52,642.07 L441.77,642.07 L441.77,628.1 L444.4,628.1" fill="none" stroke="#2a78b8" stroke-width="1.3" stroke-linejoin="miter"/>
<rect x="50.5" y="566.5" width="394" height="138" fill="none" stroke="#5e5e5e" stroke-width="1.2"/>
<line x1="50.5" y1="696.5" x2="55.5" y2="696.5" stroke="#5e5e5e" stroke-width="1"/>
<line x1="50.5" y1="665.5" x2="55.5" y2="665.5" stroke="#5e5e5e" stroke-width="1"/>
<line x1="50.5" y1="635.5" x2="55.5" y2="635.5" stroke="#5e5e5e" stroke-width="1"/>
<line x1="50.5" y1="604.5" x2="55.5" y2="604.5" stroke="#5e5e5e" stroke-width="1"/>
<line x1="50.5" y1="574.5" x2="55.5" y2="574.5" stroke="#5e5e5e" stroke-width="1"/>
<line x1="50.5" y1="680.5" x2="53" y2="680.5" stroke="#5e5e5e" stroke-width="1"/>
<line x1="50.5" y1="650.5" x2="53" y2="650.5" stroke="#5e5e5e" stroke-width="1"/>
<line x1="50.5" y1="619.5" x2="53" y2="619.5" stroke="#5e5e5e" stroke-width="1"/>
<line x1="50.5" y1="589.5" x2="53" y2="589.5" stroke="#5e5e5e" stroke-width="1"/>
<line x1="50.5" y1="704.5" x2="50.5" y2="700" stroke="#5e5e5e" stroke-width="1"/>
<line x1="102.5" y1="704.5" x2="102.5" y2="700" stroke="#5e5e5e" stroke-width="1"/>
<line x1="155.5" y1="704.5" x2="155.5" y2="700" stroke="#5e5e5e" stroke-width="1"/>
<line x1="208.5" y1="704.5" x2="208.5" y2="700" stroke="#5e5e5e" stroke-width="1"/>
<line x1="260.5" y1="704.5" x2="260.5" y2="700" stroke="#5e5e5e" stroke-width="1"/>
<line x1="313.5" y1="704.5" x2="313.5" y2="700" stroke="#5e5e5e" stroke-width="1"/>
<line x1="365.5" y1="704.5" x2="365.5" y2="700" stroke="#5e5e5e" stroke-width="1"/>
<line x1="418.5" y1="704.5" x2="418.5" y2="700" stroke="#5e5e5e" stroke-width="1"/>
<line x1="76.5" y1="704.5" x2="76.5" y2="702" stroke="#5e5e5e" stroke-width="1"/>
<line x1="129.5" y1="704.5" x2="129.5" y2="702" stroke="#5e5e5e" stroke-width="1"/>
<line x1="181.5" y1="704.5" x2="181.5" y2="702" stroke="#5e5e5e" stroke-width="1"/>
<line x1="234.5" y1="704.5" x2="234.5" y2="702" stroke="#5e5e5e" stroke-width="1"/>
<line x1="286.5" y1="704.5" x2="286.5" y2="702" stroke="#5e5e5e" stroke-width="1"/>
<line x1="339.5" y1="704.5" x2="339.5" y2="702" stroke="#5e5e5e" stroke-width="1"/>
<line x1="391.5" y1="704.5" x2="391.5" y2="702" stroke="#5e5e5e" stroke-width="1"/>
<line x1="444.5" y1="704.5" x2="444.5" y2="702" stroke="#5e5e5e" stroke-width="1"/>
<text x="48.7" y="580.7" font-size="12.2" text-anchor="end" fill="#141414" color="#141414">0.08</text>
<text x="48.7" y="610.3" font-size="12.2" text-anchor="end" fill="#141414" color="#141414">0.04</text>
<text x="48.7" y="640.4" font-size="12.2" text-anchor="end" fill="#141414" color="#141414">0.00</text>
<text x="48.7" y="670.9" font-size="12.2" text-anchor="end" fill="#141414" color="#141414">− 0.04</text>
<text x="48.7" y="701.4" font-size="12.2" text-anchor="end" fill="#141414" color="#141414">− 0.08</text>
<text x="50.9" y="716.2" font-size="12.2" text-anchor="middle" fill="#141414" color="#141414">0</text>
<text x="102.4" y="716.2" font-size="12.2" text-anchor="middle" fill="#141414" color="#141414">20</text>
<text x="155.1" y="716.2" font-size="12.2" text-anchor="middle" fill="#141414" color="#141414">40</text>
<text x="209.9" y="716.2" font-size="12.2" text-anchor="middle" fill="#141414" color="#141414">60</text>
<text x="261" y="716.2" font-size="12.2" text-anchor="middle" fill="#141414" color="#141414">80</text>
<text x="320" y="716.2" font-size="12.2" text-anchor="middle" fill="#141414" color="#141414">100</text>
<text x="371.5" y="716.2" font-size="12.2" text-anchor="middle" fill="#141414" color="#141414">120</text>
<text x="422.5" y="716.2" font-size="12.2" text-anchor="middle" fill="#141414" color="#141414">140</text>
<text x="250" y="729.4" font-size="12.2" text-anchor="middle" font-weight="bold" fill="#141414" color="#141414">Testing time (h)</text>
<text x="12.3" y="626.5" font-size="12.85" text-anchor="middle" font-weight="bold" fill="#141414" color="#141414" transform="rotate(-90 12.3 626.5)">Voltage (V vs.Li<tspan font-size="8" dy="-4.5">+</tspan><tspan dy="4.5">/Li)</tspan></text>
<text x="68.5" y="692.9" font-size="12.8" text-anchor="start" fill="#141414" color="#141414">1 mAh·cm<tspan font-size="6.8" dy="-4.6">-2</tspan><tspan dy="4.6">​</tspan></text>
<line x1="58.5" y1="620" x2="126.8" y2="620" stroke="#f7c9a4" stroke-width="1.1"/>
<path d="M57,620 L60.2,618 L60.2,622Z M128.3,620 L125.1,618 L125.1,622Z" fill="#f7c9a4" stroke="none" stroke-width="1"/>
<line x1="138.5" y1="619.6" x2="226.9" y2="619.6" stroke="#f7c9a4" stroke-width="1.1"/>
<path d="M137,619.6 L140.2,617.6 L140.2,621.6Z M228.4,619.6 L225.2,617.6 L225.2,621.6Z" fill="#f7c9a4" stroke="none" stroke-width="1"/>
<line x1="235.9" y1="609" x2="283.5" y2="609" stroke="#f7c9a4" stroke-width="1.1"/>
<path d="M234.4,609 L237.6,607 L237.6,611Z M285,609 L281.8,607 L281.8,611Z" fill="#f7c9a4" stroke="none" stroke-width="1"/>
<line x1="289.3" y1="596.5" x2="308.3" y2="596.5" stroke="#f7c9a4" stroke-width="1.1"/>
<path d="M287.8,596.5 L291,594.5 L291,598.5Z M309.8,596.5 L306.6,594.5 L306.6,598.5Z" fill="#f7c9a4" stroke="none" stroke-width="1"/>
<line x1="315" y1="576.4" x2="323.9" y2="576.4" stroke="#f7c9a4" stroke-width="1.1"/>
<path d="M313.5,576.4 L316.7,574.4 L316.7,578.4Z M325.4,576.4 L322.2,574.4 L322.2,578.4Z" fill="#f7c9a4" stroke="none" stroke-width="1"/>
<line x1="331.1" y1="619.6" x2="439" y2="619.6" stroke="#f7c9a4" stroke-width="1.1"/>
<path d="M329.6,619.6 L332.8,617.6 L332.8,621.6Z M440.5,619.6 L437.3,617.6 L437.3,621.6Z" fill="#f7c9a4" stroke="none" stroke-width="1"/>
<text x="69" y="614" font-size="12.8" text-anchor="start" fill="#141414" color="#141414">0.2 mA·cm<tspan font-size="6.8" dy="-4.6">-2</tspan><tspan dy="4.6">​</tspan></text>
<text x="182.4" y="613.2" font-size="12.6" text-anchor="middle" fill="#141414" color="#141414">0.5</text>
<text x="264" y="603" font-size="12.6" text-anchor="middle" fill="#141414" color="#141414">1.0</text>
<text x="302.5" y="594.2" font-size="12.6" text-anchor="middle" fill="#141414" color="#141414">2.0</text>
<text x="330" y="584.2" font-size="12.6" text-anchor="start" fill="#141414" color="#141414">4.0</text>
<text x="384.4" y="615.2" font-size="12.6" text-anchor="middle" fill="#141414" color="#141414">0.5</text>
<text x="5.8" y="554" font-size="14.5" text-anchor="start" font-weight="bold" fill="#111" color="#111">i</text>
</svg></body></html>
